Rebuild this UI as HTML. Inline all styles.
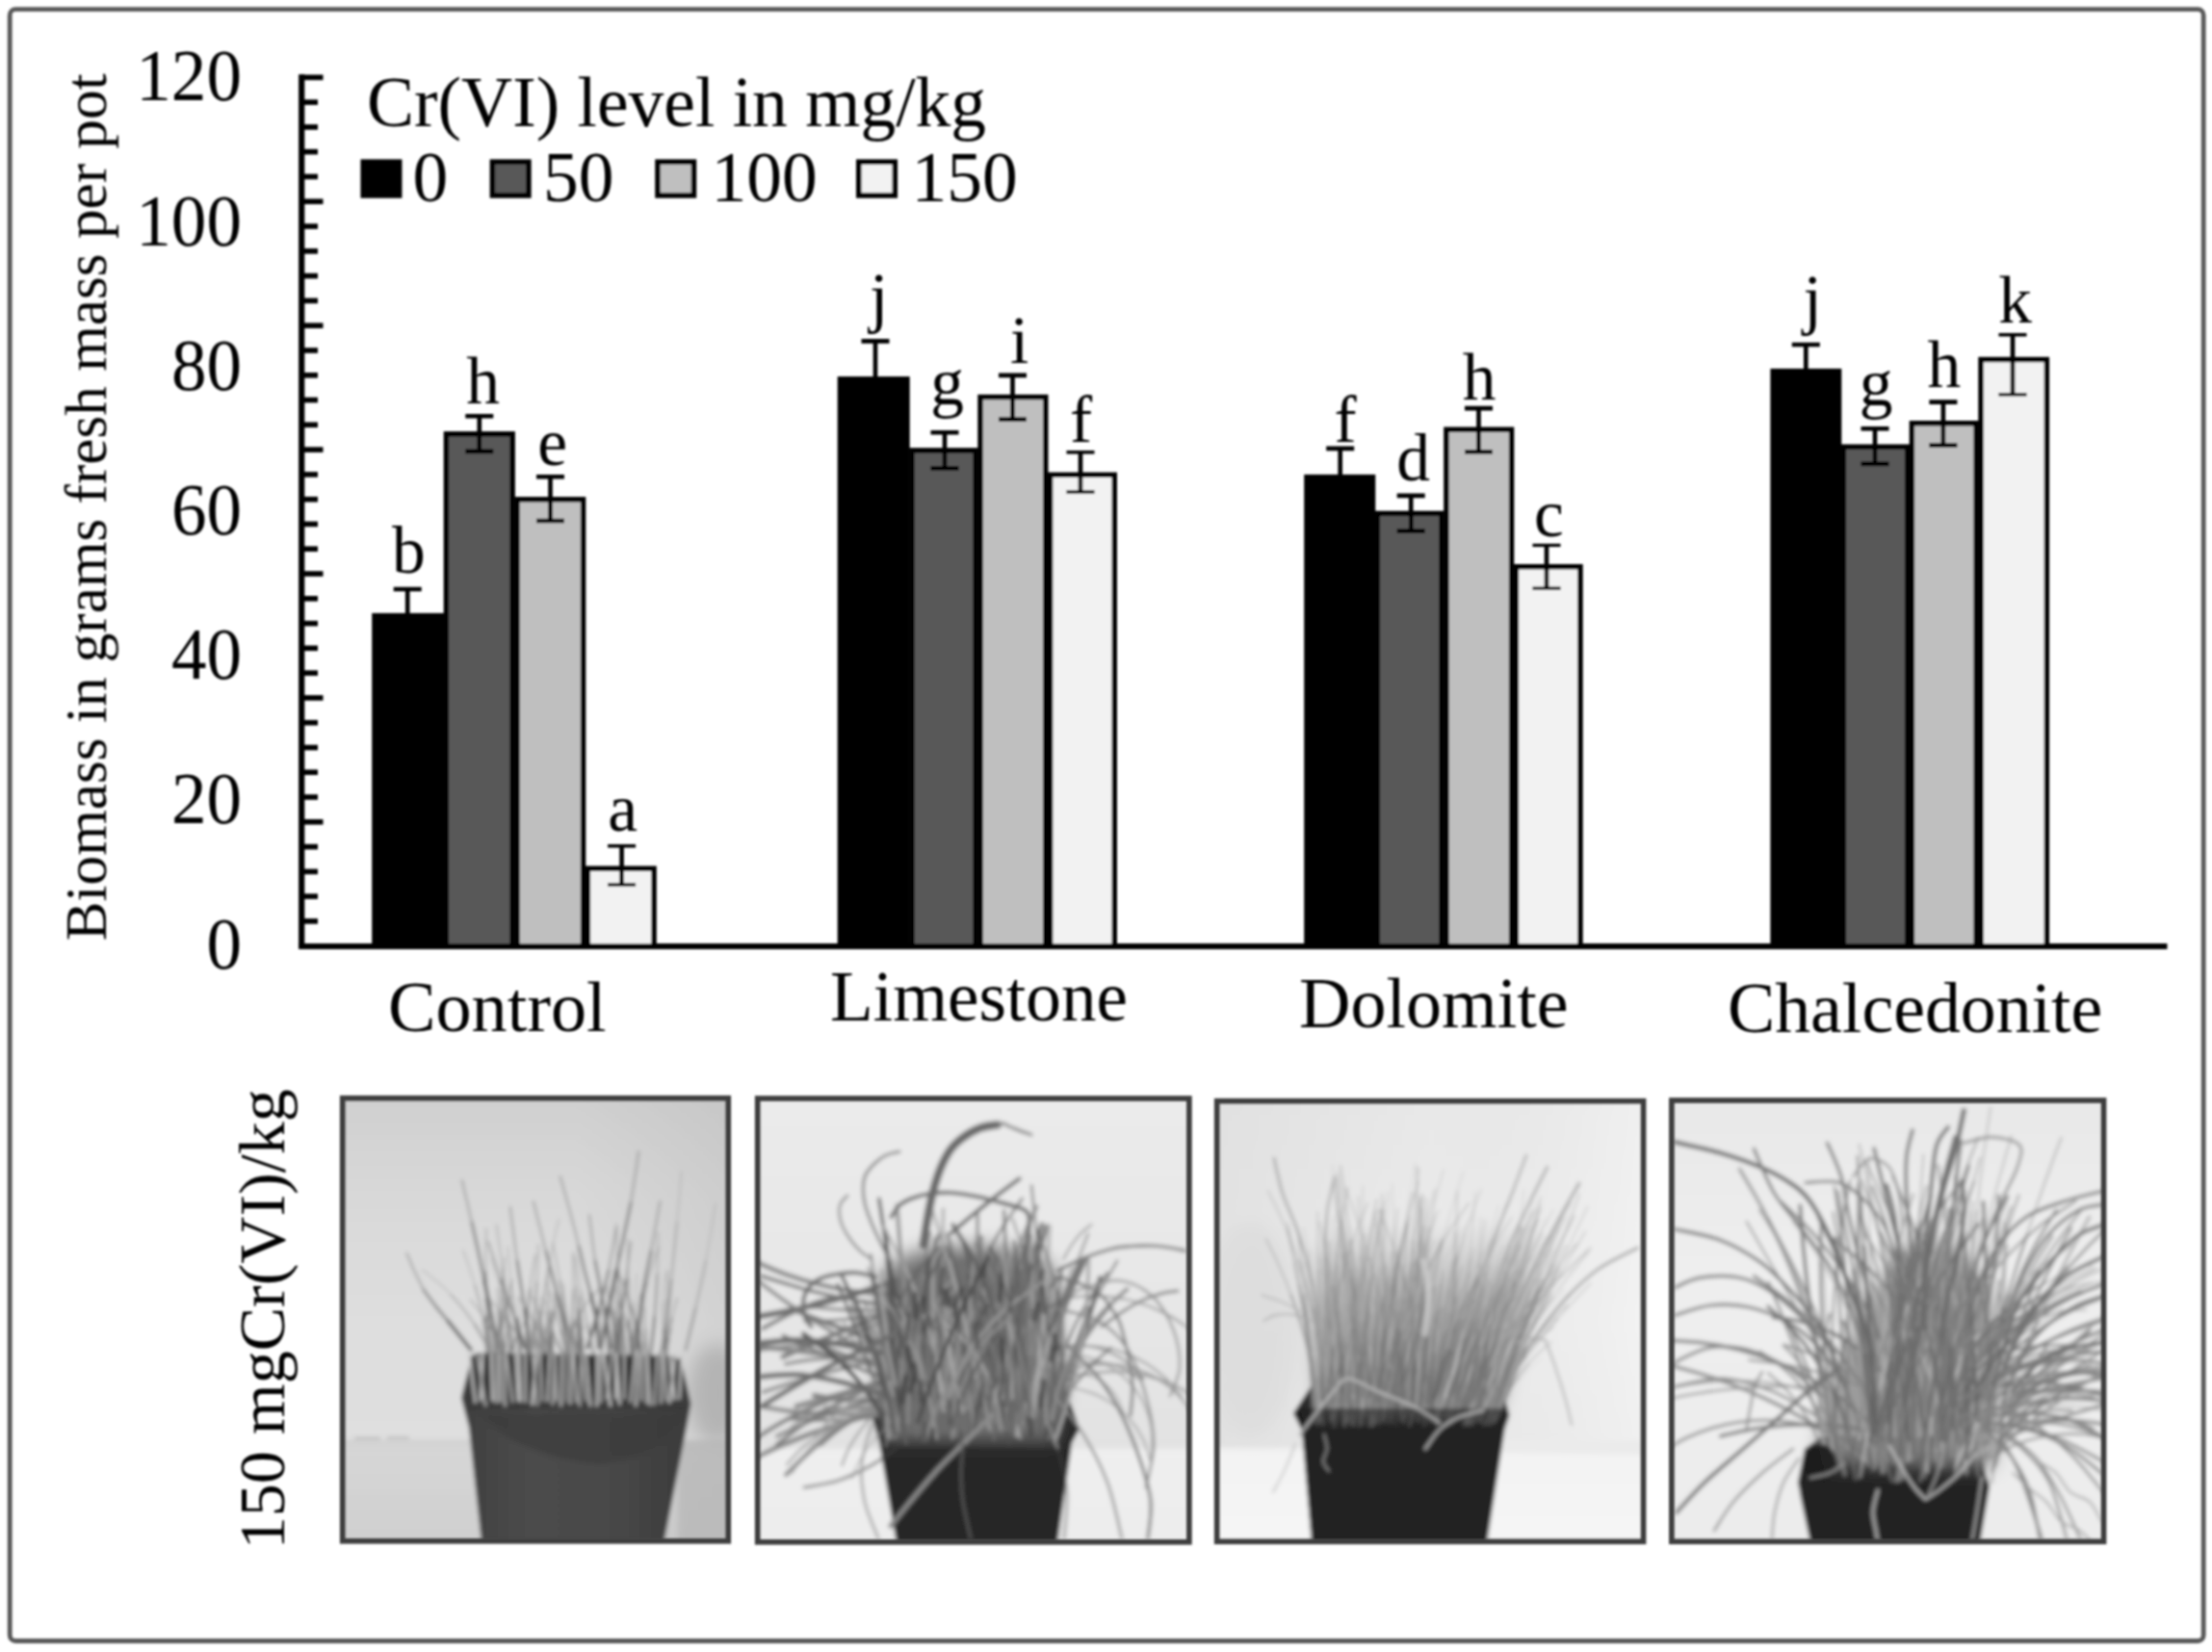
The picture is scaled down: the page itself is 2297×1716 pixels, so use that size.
<!DOCTYPE html>
<html lang="en"><head><meta charset="utf-8"><title>Biomass under Cr(VI) with mineral amendments</title>
<style>
html,body{margin:0;padding:0;background:#fff;}
body{width:2297px;height:1716px;overflow:hidden;}
svg{display:block;}
text{font-family:"Liberation Serif", serif;fill:#000;}
</style></head><body>
<svg width="2297" height="1716" viewBox="0 0 2297 1716">
<defs>
<filter id="soft" x="-2%" y="-2%" width="104%" height="104%"><feGaussianBlur stdDeviation="1.1"/></filter>
<filter id="ph" x="-5%" y="-5%" width="110%" height="110%"><feGaussianBlur stdDeviation="2.0"/></filter>
<filter id="ph2" x="-5%" y="-5%" width="110%" height="110%"><feGaussianBlur stdDeviation="2.2"/></filter>
<filter id="big" x="-20%" y="-20%" width="140%" height="140%"><feGaussianBlur stdDeviation="9"/></filter>
<clipPath id="cp0"><rect x="355.0" y="1140.0" width="402.0" height="461.5"/></clipPath>
<clipPath id="cp1"><rect x="786.0" y="1140.3" width="449.6" height="462.2"/></clipPath>
<clipPath id="cp2"><rect x="1263.0" y="1143.0" width="444.3" height="459.0"/></clipPath>
<clipPath id="cp3"><rect x="1735.2" y="1142.3" width="450.1" height="459.7"/></clipPath>
<linearGradient id="bg1" x1="0" y1="0" x2="0" y2="1"><stop offset="0" stop-color="#cfcfcf"/><stop offset="0.22" stop-color="#d8d8d8"/><stop offset="0.5" stop-color="#dedede"/><stop offset="0.76" stop-color="#dfdfdf"/><stop offset="0.768" stop-color="#d2d2d2"/><stop offset="0.79" stop-color="#d6d6d6"/><stop offset="1" stop-color="#cfcfcf"/></linearGradient>
<linearGradient id="bg1r" x1="0" y1="0" x2="1" y2="0"><stop offset="0.6" stop-color="#b0b0b0" stop-opacity="0"/><stop offset="1" stop-color="#b0b0b0" stop-opacity="0.28"/></linearGradient>
<linearGradient id="pot1" x1="0" y1="0" x2="1" y2="0"><stop offset="0" stop-color="#404040"/><stop offset="0.3" stop-color="#4c4c4c"/><stop offset="0.7" stop-color="#474747"/><stop offset="1" stop-color="#3b3b3b"/></linearGradient>
<linearGradient id="bg2" x1="0" y1="0" x2="0" y2="1"><stop offset="0" stop-color="#ebebeb"/><stop offset="0.45" stop-color="#e7e7e7"/><stop offset="0.775" stop-color="#e2e2e2"/><stop offset="0.785" stop-color="#efefef"/><stop offset="1" stop-color="#ececec"/></linearGradient>
<linearGradient id="cl3" gradientUnits="userSpaceOnUse" x1="0" y1="1270" x2="0" y2="1470"><stop offset="0" stop-color="#a4a4a4" stop-opacity="0"/><stop offset="0.45" stop-color="#9c9c9c" stop-opacity="0.8"/><stop offset="1" stop-color="#8e8e8e" stop-opacity="0.95"/></linearGradient>
<linearGradient id="bg3" x1="0" y1="0" x2="0" y2="1"><stop offset="0" stop-color="#e9e9e9"/><stop offset="0.5" stop-color="#ededed"/><stop offset="0.775" stop-color="#eaeaea"/><stop offset="0.79" stop-color="#f3f3f3"/><stop offset="1" stop-color="#f5f5f5"/></linearGradient><linearGradient id="bg3h" x1="0" y1="0" x2="1" y2="0"><stop offset="0" stop-color="#d0d0d0" stop-opacity="0.35"/><stop offset="0.5" stop-color="#d0d0d0" stop-opacity="0.05"/><stop offset="1" stop-color="#ffffff" stop-opacity="0.35"/></linearGradient>
<linearGradient id="bg4" x1="0" y1="0" x2="0" y2="1"><stop offset="0" stop-color="#e8e8e8"/><stop offset="0.4" stop-color="#eeeeee"/><stop offset="1" stop-color="#ececec"/></linearGradient>

</defs>
<rect width="2297" height="1716" fill="#fff"/>
<g filter="url(#soft)">
<rect x="10.2" y="9.7" width="2278" height="1694.8" rx="6" ry="6" fill="none" stroke="#585858" stroke-width="4.8"/>
<g stroke="#000" stroke-width="6.2" fill="none">
<line x1="313.2" y1="77.3" x2="313.2" y2="984.7"/>
<line x1="310.1" y1="983.0" x2="2250.5" y2="983.0" stroke-width="5.8"/>
<line x1="313" y1="80.4" x2="335.5" y2="80.4" stroke-width="5.6"/>
<line x1="313" y1="106.2" x2="330" y2="106.2" stroke-width="5.6"/>
<line x1="313" y1="132.0" x2="330" y2="132.0" stroke-width="5.6"/>
<line x1="313" y1="157.7" x2="330" y2="157.7" stroke-width="5.6"/>
<line x1="313" y1="183.5" x2="330" y2="183.5" stroke-width="5.6"/>
<line x1="313" y1="209.3" x2="335.5" y2="209.3" stroke-width="5.6"/>
<line x1="313" y1="235.1" x2="330" y2="235.1" stroke-width="5.6"/>
<line x1="313" y1="260.9" x2="330" y2="260.9" stroke-width="5.6"/>
<line x1="313" y1="286.6" x2="330" y2="286.6" stroke-width="5.6"/>
<line x1="313" y1="312.4" x2="330" y2="312.4" stroke-width="5.6"/>
<line x1="313" y1="338.2" x2="335.5" y2="338.2" stroke-width="5.6"/>
<line x1="313" y1="364.0" x2="330" y2="364.0" stroke-width="5.6"/>
<line x1="313" y1="389.8" x2="330" y2="389.8" stroke-width="5.6"/>
<line x1="313" y1="415.5" x2="330" y2="415.5" stroke-width="5.6"/>
<line x1="313" y1="441.3" x2="330" y2="441.3" stroke-width="5.6"/>
<line x1="313" y1="467.1" x2="335.5" y2="467.1" stroke-width="5.6"/>
<line x1="313" y1="492.9" x2="330" y2="492.9" stroke-width="5.6"/>
<line x1="313" y1="518.7" x2="330" y2="518.7" stroke-width="5.6"/>
<line x1="313" y1="544.4" x2="330" y2="544.4" stroke-width="5.6"/>
<line x1="313" y1="570.2" x2="330" y2="570.2" stroke-width="5.6"/>
<line x1="313" y1="596.0" x2="335.5" y2="596.0" stroke-width="5.6"/>
<line x1="313" y1="621.8" x2="330" y2="621.8" stroke-width="5.6"/>
<line x1="313" y1="647.6" x2="330" y2="647.6" stroke-width="5.6"/>
<line x1="313" y1="673.3" x2="330" y2="673.3" stroke-width="5.6"/>
<line x1="313" y1="699.1" x2="330" y2="699.1" stroke-width="5.6"/>
<line x1="313" y1="724.9" x2="335.5" y2="724.9" stroke-width="5.6"/>
<line x1="313" y1="750.7" x2="330" y2="750.7" stroke-width="5.6"/>
<line x1="313" y1="776.5" x2="330" y2="776.5" stroke-width="5.6"/>
<line x1="313" y1="802.2" x2="330" y2="802.2" stroke-width="5.6"/>
<line x1="313" y1="828.0" x2="330" y2="828.0" stroke-width="5.6"/>
<line x1="313" y1="853.8" x2="335.5" y2="853.8" stroke-width="5.6"/>
<line x1="313" y1="879.6" x2="330" y2="879.6" stroke-width="5.6"/>
<line x1="313" y1="905.4" x2="330" y2="905.4" stroke-width="5.6"/>
<line x1="313" y1="931.1" x2="330" y2="931.1" stroke-width="5.6"/>
<line x1="313" y1="956.9" x2="330" y2="956.9" stroke-width="5.6"/>
</g>
<text transform="translate(214.5 1005.6) scale(0.95 1)" font-size="77">0</text>
<text transform="translate(177.9 855.4) scale(0.95 1)" font-size="77">20</text>
<text transform="translate(177.9 705.2) scale(0.95 1)" font-size="77">40</text>
<text transform="translate(177.9 555.0) scale(0.95 1)" font-size="77">60</text>
<text transform="translate(177.9 404.8) scale(0.95 1)" font-size="77">80</text>
<text transform="translate(141.3 254.6) scale(0.95 1)" font-size="77">100</text>
<text transform="translate(141.3 104.4) scale(0.95 1)" font-size="77">120</text>
<text transform="translate(110.0 977.2) rotate(-90)" font-size="61.2" fill="#111">Biomass in grams fresh mass per pot</text>
<text x="381.1" y="131.0" font-size="73.5">Cr(VI) level in mg/kg</text>
<rect x="377.2" y="168.2" width="37.5" height="34.8" fill="#000" stroke="#000" stroke-width="5.5"/>
<rect x="511.4" y="168.2" width="37.5" height="34.8" fill="#595959" stroke="#000" stroke-width="5.5"/>
<rect x="683.0" y="168.2" width="37.5" height="34.8" fill="#bfbfbf" stroke="#000" stroke-width="5.5"/>
<rect x="891.8" y="168.2" width="37.5" height="34.8" fill="#f2f2f2" stroke="#000" stroke-width="5.5"/>
<text x="428.5" y="209.0" font-size="73.5">0</text>
<text x="564.1" y="209.0" font-size="73.5">50</text>
<text x="738.6" y="209.0" font-size="73.5">100</text>
<text x="946.5" y="209.0" font-size="73.5">150</text>
<rect x="388.9" y="639.6" width="69.7" height="343.4" fill="#000" stroke="#000" stroke-width="5.4"/>
<rect x="463.4" y="450.8" width="68.8" height="532.2" fill="#595959" stroke="#000" stroke-width="5.4"/>
<rect x="537.0" y="518.8" width="68.6" height="464.2" fill="#bfbfbf" stroke="#000" stroke-width="5.4"/>
<rect x="610.4" y="902.2" width="68.7" height="80.8" fill="#f2f2f2" stroke="#000" stroke-width="5.4"/>
<rect x="872.4" y="393.8" width="69.6" height="589.2" fill="#000" stroke="#000" stroke-width="5.4"/>
<rect x="946.8" y="467.9" width="66.4" height="515.1" fill="#595959" stroke="#000" stroke-width="5.4"/>
<rect x="1018.0" y="412.5" width="67.8" height="570.5" fill="#bfbfbf" stroke="#000" stroke-width="5.4"/>
<rect x="1090.6" y="493.3" width="66.7" height="489.7" fill="#f2f2f2" stroke="#000" stroke-width="5.4"/>
<rect x="1356.9" y="495.6" width="68.7" height="487.4" fill="#000" stroke="#000" stroke-width="5.4"/>
<rect x="1430.4" y="533.4" width="66.7" height="449.6" fill="#595959" stroke="#000" stroke-width="5.4"/>
<rect x="1501.9" y="446.2" width="67.7" height="536.8" fill="#bfbfbf" stroke="#000" stroke-width="5.4"/>
<rect x="1574.4" y="588.7" width="66.6" height="394.3" fill="#f2f2f2" stroke="#000" stroke-width="5.4"/>
<rect x="1841.1" y="385.6" width="68.5" height="597.4" fill="#000" stroke="#000" stroke-width="5.4"/>
<rect x="1914.4" y="464.2" width="66.2" height="518.8" fill="#595959" stroke="#000" stroke-width="5.4"/>
<rect x="1985.4" y="439.7" width="66.8" height="543.3" fill="#bfbfbf" stroke="#000" stroke-width="5.4"/>
<rect x="2057.0" y="373.5" width="68.4" height="609.5" fill="#f2f2f2" stroke="#000" stroke-width="5.4"/>
<g stroke="#000" stroke-width="4.6" fill="none">
<path d="M408.7 612.0H437.7M423.2 612.0V652.0"/>
<path d="M483.3 432.3H512.3M483.3 468.9H512.3" stroke-width="4.6"/><path d="M497.8 432.3V468.9"/>
<path d="M557.0 495.3H586.0M557.0 541.0H586.0" stroke-width="4.6"/><path d="M571.5 495.3V541.0"/>
<path d="M631.1 878.8H660.1M631.1 919.0H660.1" stroke-width="3.4"/><path d="M645.6 878.8V919.0"/>
<path d="M894.5 354.4H923.5M909.0 354.4V394.4"/>
<path d="M966.5 449.2H995.5M966.5 486.4H995.5" stroke-width="4.6"/><path d="M981.0 449.2V486.4"/>
<path d="M1037.0 389.9H1066.0M1037.0 435.6H1066.0" stroke-width="4.6"/><path d="M1051.5 389.9V435.6"/>
<path d="M1107.5 469.7H1136.5M1107.5 511.0H1136.5" stroke-width="3.4"/><path d="M1122.0 469.7V511.0"/>
<path d="M1377.2 465.9H1406.2M1391.7 465.9V505.9"/>
<path d="M1450.7 514.9H1479.7M1450.7 551.6H1479.7" stroke-width="4.6"/><path d="M1465.2 514.9V551.6"/>
<path d="M1521.0 424.1H1550.0M1521.0 469.3H1550.0" stroke-width="4.6"/><path d="M1535.5 424.1V469.3"/>
<path d="M1591.5 566.4H1620.5M1591.5 611.1H1620.5" stroke-width="3.4"/><path d="M1606.0 566.4V611.1"/>
<path d="M1860.8 358.0H1889.8M1875.3 358.0V398.0"/>
<path d="M1932.5 445.2H1961.5M1932.5 481.9H1961.5" stroke-width="4.6"/><path d="M1947.0 445.2V481.9"/>
<path d="M2003.4 417.6H2032.4M2003.4 462.5H2032.4" stroke-width="4.6"/><path d="M2017.9 417.6V462.5"/>
<path d="M2075.5 347.7H2104.5M2075.5 409.8H2104.5" stroke-width="3.4"/><path d="M2090.0 347.7V409.8"/>
</g>
<text x="407.0" y="595.0" font-size="69.5" fill="#111">b</text>
<text x="484.2" y="418.5" font-size="69.5" fill="#111">h</text>
<text x="558.2" y="482.5" font-size="69.5" fill="#111">e</text>
<text x="631.2" y="862.5" font-size="69.5" fill="#111">a</text>
<text x="902.9" y="331.5" font-size="69.5" fill="#111">j</text>
<text x="966.2" y="420.3" font-size="69.5" fill="#111">g</text>
<text x="1049.0" y="376.8" font-size="69.5" fill="#111">i</text>
<text x="1111.1" y="459.3" font-size="69.5" fill="#111">f</text>
<text x="1385.5" y="458.8" font-size="69.5" fill="#111">f</text>
<text x="1450.2" y="499.0" font-size="69.5" fill="#111">d</text>
<text x="1518.8" y="415.0" font-size="69.5" fill="#111">h</text>
<text x="1593.0" y="557.0" font-size="69.5" fill="#111">c</text>
<text x="1872.4" y="334.0" font-size="69.5" fill="#111">j</text>
<text x="1930.7" y="421.0" font-size="69.5" fill="#111">g</text>
<text x="2001.4" y="402.0" font-size="69.5" fill="#111">h</text>
<text x="2075.2" y="335.0" font-size="69.5" fill="#111">k</text>
<text x="403.0" y="1071.0" font-size="74.2">Control</text>
<text x="862.1" y="1060.0" font-size="73.2">Limestone</text>
<text x="1349.1" y="1067.0" font-size="74.0">Dolomite</text>
<text x="1794.0" y="1072.0" font-size="73.8">Chalcedonite</text>
<text transform="translate(294.5 1609.2) rotate(-90)" font-size="68.0" fill="#111">150 mgCr(VI)/kg</text>
</g>
<g clip-path="url(#cp0)"><g filter="url(#ph)">
<rect x="350" y="1135" width="412" height="472" fill="url(#bg1)"/>
<rect x="350" y="1135" width="412" height="472" fill="url(#bg1r)"/>
<ellipse cx="744" cy="1448" rx="30" ry="52" fill="#a0a0a0" opacity="0.6" filter="url(#big)"/>
<rect x="704" y="1497" width="60" height="110" fill="#b6b6b6" opacity="0.7" filter="url(#ph2)"/>
<path d="M368 1494H395M402 1493.5H425" stroke="#aaa" stroke-width="2.5" fill="none" opacity="0.7"/>
<g fill="none" stroke-linecap="round" stroke-linejoin="round">
<path d="M516.8 1400.0L510.7 1368.8L503.0 1330.0" stroke="#707070" stroke-width="4.0"/><path d="M503.0 1330.0L496.3 1298.4L490.0 1270.0" stroke="#707070" stroke-width="2.9" stroke-opacity="0.82"/><path d="M490.0 1270.0L484.0 1244.2L479.7 1225.8" stroke="#707070" stroke-width="1.8" stroke-opacity="0.64"/>
<path d="M489.0 1402.0L478.6 1389.0L465.0 1372.0" stroke="#707070" stroke-width="4.0"/><path d="M465.0 1372.0L452.1 1356.5L440.0 1340.0" stroke="#707070" stroke-width="2.9" stroke-opacity="0.82"/><path d="M440.0 1340.0L429.6 1318.9L422.3 1301.8" stroke="#707070" stroke-width="1.8" stroke-opacity="0.64"/>
<path d="M624.3 1400.0L631.2 1364.4L640.0 1320.0" stroke="#707070" stroke-width="4.0"/><path d="M640.0 1320.0L648.0 1283.4L655.0 1250.0" stroke="#707070" stroke-width="2.9" stroke-opacity="0.82"/><path d="M655.0 1250.0L660.0 1218.6L663.2 1196.0" stroke="#707070" stroke-width="1.8" stroke-opacity="0.64"/>
<path d="M622.0 1400.0L621.1 1386.3L618.8 1366.7L613.4 1344.4" stroke="#707070" stroke-width="4.0"/><path d="M613.4 1344.4L607.0 1320.0L601.1 1295.1" stroke="#707070" stroke-width="2.9" stroke-opacity="0.82"/><path d="M601.1 1295.1L595.0 1270.0L587.6 1242.9L581.7 1222.0" stroke="#707070" stroke-width="1.8" stroke-opacity="0.64"/>
<path d="M591.0 1400.0L586.3 1378.1L580.0 1350.0" stroke="#707070" stroke-width="4.0"/><path d="M580.0 1350.0L573.6 1325.1L567.0 1300.0" stroke="#707070" stroke-width="2.9" stroke-opacity="0.82"/><path d="M567.0 1300.0L559.6 1270.9L553.9 1248.0" stroke="#707070" stroke-width="1.8" stroke-opacity="0.64"/>
<path d="M550.0 1402.0L548.0 1384.1L545.0 1360.0" stroke="#707070" stroke-width="4.0"/><path d="M545.0 1360.0L541.1 1335.9L537.0 1310.0" stroke="#707070" stroke-width="2.9" stroke-opacity="0.82"/><path d="M537.0 1310.0L532.9 1278.7L529.8 1253.6" stroke="#707070" stroke-width="1.8" stroke-opacity="0.64"/>
<path d="M661.4 1400.0L663.6 1375.3L667.0 1345.0" stroke="#707070" stroke-width="4.0"/><path d="M667.0 1345.0L671.3 1322.3L676.0 1300.0" stroke="#707070" stroke-width="2.9" stroke-opacity="0.82"/><path d="M676.0 1300.0L681.3 1271.2L685.5 1248.0" stroke="#707070" stroke-width="1.8" stroke-opacity="0.64"/>
<path d="M690.0 1400.0L693.1 1368.8L697.0 1330.0" stroke="#a0a0a0" stroke-width="3.0"/><path d="M697.0 1330.0L700.1 1299.0L703.0 1270.0" stroke="#a0a0a0" stroke-width="2.2" stroke-opacity="0.82"/><path d="M703.0 1270.0L705.7 1239.5L707.7 1216.6" stroke="#a0a0a0" stroke-width="1.3" stroke-opacity="0.64"/>
<path d="M712.0 1402.0L716.3 1384.1L722.0 1360.0" stroke="#a0a0a0" stroke-width="3.0"/><path d="M722.0 1360.0L727.5 1336.1L733.0 1310.0" stroke="#a0a0a0" stroke-width="2.2" stroke-opacity="0.82"/><path d="M733.0 1310.0L738.7 1276.9L743.0 1250.0" stroke="#a0a0a0" stroke-width="1.3" stroke-opacity="0.64"/>
<path d="M634.0 1400.0L631.6 1383.1L628.0 1360.0" stroke="#707070" stroke-width="4.0"/><path d="M628.0 1360.0L623.0 1335.5L618.0 1310.0" stroke="#707070" stroke-width="2.9" stroke-opacity="0.82"/><path d="M618.0 1310.0L614.4 1282.9L612.0 1262.0" stroke="#707070" stroke-width="1.8" stroke-opacity="0.64"/>
<path d="M610.0 1400.0L615.4 1382.5L622.0 1360.0" stroke="#707070" stroke-width="4.0"/><path d="M622.0 1360.0L627.2 1340.3L632.0 1320.0" stroke="#707070" stroke-width="2.9" stroke-opacity="0.82"/><path d="M632.0 1320.0L636.6 1295.0L640.0 1275.0" stroke="#707070" stroke-width="1.8" stroke-opacity="0.64"/>
<path d="M545.0 1400.0L540.9 1387.5L535.0 1370.0" stroke="#707070" stroke-width="4.0"/><path d="M535.0 1370.0L527.7 1350.6L520.0 1330.0" stroke="#707070" stroke-width="2.9" stroke-opacity="0.82"/><path d="M520.0 1330.0L512.6 1307.5L507.0 1290.0" stroke="#707070" stroke-width="1.8" stroke-opacity="0.64"/>
<path d="M642.0 1400.0L643.2 1387.5L645.0 1370.0" stroke="#707070" stroke-width="4.0"/><path d="M645.0 1370.0L647.4 1350.6L650.0 1330.0" stroke="#707070" stroke-width="2.9" stroke-opacity="0.82"/><path d="M650.0 1330.0L652.8 1307.5L655.0 1290.0" stroke="#707070" stroke-width="1.8" stroke-opacity="0.64"/>
<path d="M564.1 1412.0L563.8 1407.3L563.3 1401.2L562.8 1395.8L562.4 1390.4" stroke="#858585" stroke-width="3.0" stroke-opacity="0.67"/><path d="M562.4 1390.4L561.8 1385.0L561.3 1379.6L560.7 1374.2L560.1 1368.8" stroke="#858585" stroke-width="2.2" stroke-opacity="0.55"/><path d="M560.1 1368.8L559.4 1363.4L558.8 1358.0L558.0 1352.0L557.3 1347.3" stroke="#858585" stroke-width="1.3" stroke-opacity="0.43"/>
<path d="M600.5 1412.0L600.3 1408.1L600.1 1403.0L599.9 1398.6L599.8 1394.1" stroke="#737373" stroke-width="3.1" stroke-opacity="0.94"/><path d="M599.8 1394.1L599.6 1389.6L599.5 1385.1L599.4 1380.7L599.2 1376.2" stroke="#737373" stroke-width="2.2" stroke-opacity="0.77"/><path d="M599.2 1376.2L599.2 1371.7L599.1 1367.2L599.0 1362.2L598.9 1358.3" stroke="#737373" stroke-width="1.4" stroke-opacity="0.60"/>
<path d="M524.5 1412.0L522.7 1407.1L520.2 1400.8L517.7 1395.2L515.1 1389.8" stroke="#878787" stroke-width="3.1" stroke-opacity="0.99"/><path d="M515.1 1389.8L512.3 1384.5L509.4 1379.2L506.2 1374.1L502.9 1369.0" stroke="#878787" stroke-width="2.2" stroke-opacity="0.81"/><path d="M502.9 1369.0L499.5 1364.1L495.9 1359.2L491.6 1354.0L488.2 1349.9" stroke="#878787" stroke-width="1.4" stroke-opacity="0.63"/>
<path d="M509.2 1412.0L508.4 1402.1L507.4 1389.4L506.6 1378.1L506.0 1366.8" stroke="#747474" stroke-width="3.0" stroke-opacity="0.94"/><path d="M506.0 1366.8L505.4 1355.5L505.0 1344.2L504.7 1332.9L504.5 1321.6" stroke="#747474" stroke-width="2.1" stroke-opacity="0.77"/><path d="M504.5 1321.6L504.4 1310.3L504.4 1298.9L504.6 1286.2L504.8 1276.3" stroke="#747474" stroke-width="1.3" stroke-opacity="0.60"/>
<path d="M535.8 1412.0L534.5 1404.2L532.7 1394.2L531.0 1385.4L529.1 1376.6" stroke="#858585" stroke-width="2.7" stroke-opacity="0.67"/><path d="M529.1 1376.6L527.2 1367.8L525.1 1359.0L522.9 1350.3L520.5 1341.6" stroke="#858585" stroke-width="1.9" stroke-opacity="0.55"/><path d="M520.5 1341.6L518.1 1332.9L515.6 1324.2L512.5 1314.6L510.1 1307.1" stroke="#858585" stroke-width="1.2" stroke-opacity="0.43"/>
<path d="M540.8 1412.0L539.5 1403.5L537.9 1392.5L536.5 1382.8L535.2 1373.1" stroke="#878787" stroke-width="3.1" stroke-opacity="0.75"/><path d="M535.2 1373.1L534.0 1363.3L532.8 1353.5L531.7 1343.7L530.7 1334.0" stroke="#878787" stroke-width="2.3" stroke-opacity="0.62"/><path d="M530.7 1334.0L529.8 1324.2L528.9 1314.4L528.0 1303.3L527.3 1294.8" stroke="#878787" stroke-width="1.4" stroke-opacity="0.48"/>
<path d="M657.3 1412.0L658.2 1403.3L659.4 1392.1L660.8 1382.2L662.5 1372.4" stroke="#858585" stroke-width="3.7" stroke-opacity="0.91"/><path d="M662.5 1372.4L664.4 1362.6L666.5 1352.8L668.9 1343.1L671.5 1333.5" stroke="#858585" stroke-width="2.6" stroke-opacity="0.74"/><path d="M671.5 1333.5L674.3 1323.9L677.3 1314.4L681.1 1303.8L684.1 1295.6" stroke="#858585" stroke-width="1.6" stroke-opacity="0.58"/>
<path d="M557.0 1412.0L558.0 1401.3L559.3 1387.4L560.7 1375.2L562.3 1362.9" stroke="#8e8e8e" stroke-width="2.8" stroke-opacity="0.82"/><path d="M562.3 1362.9L564.0 1350.7L565.9 1338.5L567.9 1326.4L570.1 1314.2" stroke="#8e8e8e" stroke-width="2.0" stroke-opacity="0.67"/><path d="M570.1 1314.2L572.4 1302.1L574.9 1290.0L577.9 1276.5L580.4 1266.0" stroke="#8e8e8e" stroke-width="1.2" stroke-opacity="0.53"/>
<path d="M507.8 1412.0L506.8 1403.5L505.5 1392.7L504.1 1383.0L502.4 1373.4" stroke="#939393" stroke-width="3.0" stroke-opacity="0.89"/><path d="M502.4 1373.4L500.5 1363.9L498.3 1354.4L496.0 1345.0L493.4 1335.6" stroke="#939393" stroke-width="2.1" stroke-opacity="0.73"/><path d="M493.4 1335.6L490.5 1326.3L487.5 1317.0L483.8 1306.7L480.8 1298.7" stroke="#939393" stroke-width="1.3" stroke-opacity="0.57"/>
<path d="M617.7 1412.0L615.9 1404.3L613.7 1394.4L611.8 1385.6L610.1 1376.8" stroke="#959595" stroke-width="3.2" stroke-opacity="0.88"/><path d="M610.1 1376.8L608.4 1368.0L606.8 1359.1L605.2 1350.3L603.8 1341.4" stroke="#959595" stroke-width="2.3" stroke-opacity="0.72"/><path d="M603.8 1341.4L602.4 1332.5L601.2 1323.6L599.9 1313.5L598.9 1305.7" stroke="#959595" stroke-width="1.4" stroke-opacity="0.56"/>
<path d="M512.0 1412.0L508.4 1404.0L503.5 1393.9L498.6 1385.1L493.4 1376.6" stroke="#909090" stroke-width="2.9" stroke-opacity="0.79"/><path d="M493.4 1376.6L487.7 1368.3L481.7 1360.3L475.3 1352.6L468.6 1345.2" stroke="#909090" stroke-width="2.1" stroke-opacity="0.64"/><path d="M468.6 1345.2L461.5 1338.1L454.1 1331.4L445.3 1324.3L438.4 1318.9" stroke="#909090" stroke-width="1.3" stroke-opacity="0.50"/>
<path d="M632.4 1412.0L632.2 1408.2L632.0 1403.3L631.8 1399.0L631.6 1394.6" stroke="#747474" stroke-width="2.7" stroke-opacity="0.92"/><path d="M631.6 1394.6L631.4 1390.2L631.3 1385.9L631.1 1381.5L631.0 1377.2" stroke="#747474" stroke-width="1.9" stroke-opacity="0.75"/><path d="M631.0 1377.2L630.9 1372.8L630.8 1368.5L630.7 1363.6L630.6 1359.8" stroke="#747474" stroke-width="1.2" stroke-opacity="0.59"/>
<path d="M525.6 1412.0L524.3 1406.7L522.6 1399.9L521.4 1393.8L520.3 1387.7" stroke="#737373" stroke-width="3.1" stroke-opacity="0.84"/><path d="M520.3 1387.7L519.3 1381.5L518.4 1375.3L517.7 1369.1L517.2 1362.9" stroke="#737373" stroke-width="2.3" stroke-opacity="0.69"/><path d="M517.2 1362.9L516.8 1356.7L516.6 1350.5L516.5 1343.5L516.5 1338.0" stroke="#737373" stroke-width="1.4" stroke-opacity="0.54"/>
<path d="M674.9 1412.0L676.1 1402.5L677.5 1390.2L678.7 1379.2L679.7 1368.3" stroke="#808080" stroke-width="3.0" stroke-opacity="0.96"/><path d="M679.7 1368.3L680.6 1357.3L681.3 1346.4L682.0 1335.4L682.5 1324.4" stroke="#808080" stroke-width="2.2" stroke-opacity="0.79"/><path d="M682.5 1324.4L682.9 1313.4L683.2 1302.4L683.3 1290.1L683.4 1280.4" stroke="#808080" stroke-width="1.3" stroke-opacity="0.61"/>
<path d="M689.6 1412.0L690.3 1407.3L691.3 1401.3L692.2 1395.9L693.1 1390.6" stroke="#797979" stroke-width="3.2" stroke-opacity="0.86"/><path d="M693.1 1390.6L694.2 1385.3L695.3 1380.0L696.4 1374.7L697.7 1369.4" stroke="#797979" stroke-width="2.3" stroke-opacity="0.70"/><path d="M697.7 1369.4L699.0 1364.1L700.3 1358.9L701.9 1353.0L703.2 1348.4" stroke="#797979" stroke-width="1.4" stroke-opacity="0.55"/>
<path d="M552.0 1412.0L551.5 1408.4L550.8 1403.7L550.3 1399.5L549.8 1395.4" stroke="#868686" stroke-width="3.7" stroke-opacity="0.89"/><path d="M549.8 1395.4L549.3 1391.2L548.8 1387.0L548.4 1382.8L548.1 1378.6" stroke="#868686" stroke-width="2.7" stroke-opacity="0.73"/><path d="M548.1 1378.6L547.7 1374.4L547.4 1370.3L547.2 1365.5L546.9 1361.9" stroke="#868686" stroke-width="1.6" stroke-opacity="0.57"/>
<path d="M602.1 1412.0L601.8 1403.9L601.5 1393.4L601.2 1384.1L600.7 1374.8" stroke="#939393" stroke-width="3.5" stroke-opacity="0.96"/><path d="M600.7 1374.8L600.3 1365.5L599.8 1356.2L599.2 1346.9L598.6 1337.6" stroke="#939393" stroke-width="2.5" stroke-opacity="0.78"/><path d="M598.6 1337.6L598.0 1328.3L597.2 1319.0L596.4 1308.6L595.7 1300.4" stroke="#939393" stroke-width="1.6" stroke-opacity="0.61"/>
<path d="M658.0 1412.0L658.0 1405.5L658.1 1397.1L658.3 1389.7L658.4 1382.3" stroke="#898989" stroke-width="2.7" stroke-opacity="0.67"/><path d="M658.4 1382.3L658.6 1374.8L658.9 1367.4L659.2 1360.0L659.5 1352.5" stroke="#898989" stroke-width="1.9" stroke-opacity="0.55"/><path d="M659.5 1352.5L659.8 1345.1L660.2 1337.7L660.7 1329.3L661.2 1322.8" stroke="#898989" stroke-width="1.2" stroke-opacity="0.43"/>
<path d="M541.3 1412.0L541.0 1407.2L540.6 1401.0L540.3 1395.5L540.0 1390.0" stroke="#707070" stroke-width="2.8" stroke-opacity="0.69"/><path d="M540.0 1390.0L539.7 1384.5L539.4 1378.9L539.2 1373.4L539.0 1367.9" stroke="#707070" stroke-width="2.0" stroke-opacity="0.56"/><path d="M539.0 1367.9L538.9 1362.4L538.7 1356.9L538.6 1350.7L538.5 1345.8" stroke="#707070" stroke-width="1.2" stroke-opacity="0.44"/>
<path d="M572.0 1412.0L572.3 1408.2L572.6 1403.3L572.9 1398.9L573.0 1394.5" stroke="#757575" stroke-width="2.9" stroke-opacity="0.77"/><path d="M573.0 1394.5L573.0 1390.1L573.0 1385.8L572.9 1381.4L572.7 1377.0" stroke="#757575" stroke-width="2.1" stroke-opacity="0.63"/><path d="M572.7 1377.0L572.5 1372.6L572.1 1368.3L571.6 1363.4L571.2 1359.6" stroke="#757575" stroke-width="1.3" stroke-opacity="0.49"/>
<path d="M572.1 1412.0L572.8 1407.5L573.5 1401.7L573.9 1396.5L574.0 1391.3" stroke="#828282" stroke-width="3.2" stroke-opacity="0.68"/><path d="M574.0 1391.3L573.8 1386.2L573.5 1381.0L572.8 1375.8L572.0 1370.7" stroke="#828282" stroke-width="2.3" stroke-opacity="0.56"/><path d="M572.0 1370.7L570.9 1365.6L569.5 1360.6L567.7 1355.1L566.1 1350.8" stroke="#828282" stroke-width="1.4" stroke-opacity="0.44"/>
<path d="M520.2 1412.0L520.0 1405.9L519.8 1398.0L520.0 1390.9L520.4 1383.9" stroke="#767676" stroke-width="2.6" stroke-opacity="0.98"/><path d="M520.4 1383.9L521.0 1376.9L521.9 1370.0L523.1 1363.0L524.4 1356.1" stroke="#767676" stroke-width="1.9" stroke-opacity="0.81"/><path d="M524.4 1356.1L526.0 1349.3L527.8 1342.5L530.2 1335.0L532.2 1329.2" stroke="#767676" stroke-width="1.2" stroke-opacity="0.63"/>
<path d="M604.6 1412.0L604.5 1407.3L604.3 1401.2L604.1 1395.8L603.9 1390.5" stroke="#858585" stroke-width="3.8" stroke-opacity="0.95"/><path d="M603.9 1390.5L603.7 1385.1L603.6 1379.7L603.4 1374.3L603.2 1368.9" stroke="#858585" stroke-width="2.7" stroke-opacity="0.78"/><path d="M603.2 1368.9L603.0 1363.5L602.7 1358.1L602.5 1352.1L602.3 1347.4" stroke="#858585" stroke-width="1.7" stroke-opacity="0.61"/>
<path d="M637.8 1412.0L637.8 1406.5L637.8 1399.3L637.8 1393.0L637.9 1386.6" stroke="#8e8e8e" stroke-width="3.2" stroke-opacity="0.92"/><path d="M637.9 1386.6L638.1 1380.3L638.3 1373.9L638.5 1367.6L638.8 1361.3" stroke="#8e8e8e" stroke-width="2.3" stroke-opacity="0.76"/><path d="M638.8 1361.3L639.2 1354.9L639.6 1348.6L640.1 1341.5L640.5 1336.0" stroke="#8e8e8e" stroke-width="1.4" stroke-opacity="0.59"/>
<path d="M565.3 1412.0L565.5 1406.7L565.5 1400.0L565.2 1393.9L564.6 1387.9" stroke="#929292" stroke-width="3.6" stroke-opacity="0.94"/><path d="M564.6 1387.9L563.7 1382.0L562.6 1376.1L561.1 1370.2L559.3 1364.5" stroke="#929292" stroke-width="2.6" stroke-opacity="0.77"/><path d="M559.3 1364.5L557.3 1358.8L555.0 1353.2L552.0 1347.2L549.5 1342.5" stroke="#929292" stroke-width="1.6" stroke-opacity="0.60"/>
<path d="M646.5 1412.0L646.0 1406.7L645.4 1399.9L644.8 1393.9L644.2 1387.9" stroke="#717171" stroke-width="2.6" stroke-opacity="0.75"/><path d="M644.2 1387.9L643.6 1381.9L643.0 1375.8L642.4 1369.8L641.8 1363.8" stroke="#717171" stroke-width="1.9" stroke-opacity="0.61"/><path d="M641.8 1363.8L641.1 1357.8L640.5 1351.7L639.7 1345.0L639.1 1339.7" stroke="#717171" stroke-width="1.2" stroke-opacity="0.48"/>
<path d="M551.3 1412.0L552.1 1403.3L553.1 1392.2L554.0 1382.3L554.7 1372.4" stroke="#959595" stroke-width="3.8" stroke-opacity="0.98"/><path d="M554.7 1372.4L555.5 1362.5L556.1 1352.6L556.8 1342.7L557.3 1332.7" stroke="#959595" stroke-width="2.7" stroke-opacity="0.81"/><path d="M557.3 1332.7L557.8 1322.8L558.3 1312.9L558.7 1301.7L559.0 1293.0" stroke="#959595" stroke-width="1.7" stroke-opacity="0.63"/>
<path d="M572.2 1412.0L572.2 1406.7L572.3 1400.0L572.5 1394.0L572.8 1388.0" stroke="#787878" stroke-width="3.3" stroke-opacity="0.97"/><path d="M572.8 1388.0L573.1 1382.0L573.5 1376.0L574.0 1370.0L574.5 1364.0" stroke="#787878" stroke-width="2.4" stroke-opacity="0.79"/><path d="M574.5 1364.0L575.1 1358.1L575.8 1352.1L576.7 1345.4L577.4 1340.2" stroke="#787878" stroke-width="1.5" stroke-opacity="0.62"/>
<path d="M666.4 1412.0L665.5 1404.9L664.2 1395.8L662.7 1387.8L661.1 1379.8" stroke="#737373" stroke-width="3.4" stroke-opacity="0.97"/><path d="M661.1 1379.8L659.2 1371.9L657.1 1364.0L654.8 1356.1L652.3 1348.4" stroke="#737373" stroke-width="2.4" stroke-opacity="0.79"/><path d="M652.3 1348.4L649.6 1340.7L646.7 1333.0L643.1 1324.6L640.2 1318.1" stroke="#737373" stroke-width="1.5" stroke-opacity="0.62"/>
<path d="M654.9 1412.0L654.6 1402.9L654.2 1391.2L653.9 1380.8L653.5 1370.4" stroke="#8f8f8f" stroke-width="3.0" stroke-opacity="0.93"/><path d="M653.5 1370.4L653.3 1359.9L653.0 1349.5L652.7 1339.1L652.5 1328.7" stroke="#8f8f8f" stroke-width="2.2" stroke-opacity="0.76"/><path d="M652.5 1328.7L652.2 1318.3L652.0 1307.9L651.8 1296.1L651.6 1287.0" stroke="#8f8f8f" stroke-width="1.3" stroke-opacity="0.60"/>
<path d="M692.4 1412.0L691.4 1405.5L690.3 1397.2L689.5 1389.8L689.0 1382.3" stroke="#8c8c8c" stroke-width="2.8" stroke-opacity="0.69"/><path d="M689.0 1382.3L688.6 1374.9L688.4 1367.4L688.4 1360.0L688.6 1352.5" stroke="#8c8c8c" stroke-width="2.0" stroke-opacity="0.57"/><path d="M688.6 1352.5L689.0 1345.0L689.6 1337.6L690.5 1329.3L691.4 1322.8" stroke="#8c8c8c" stroke-width="1.2" stroke-opacity="0.44"/>
<path d="M529.9 1412.0L529.4 1401.8L528.6 1388.6L527.8 1376.9L526.9 1365.3" stroke="#919191" stroke-width="3.8" stroke-opacity="0.88"/><path d="M526.9 1365.3L525.8 1353.6L524.7 1342.0L523.4 1330.3L522.0 1318.7" stroke="#919191" stroke-width="2.7" stroke-opacity="0.72"/><path d="M522.0 1318.7L520.5 1307.1L518.9 1295.5L516.9 1282.5L515.4 1272.3" stroke="#919191" stroke-width="1.7" stroke-opacity="0.56"/>
<path d="M569.4 1412.0L569.3 1404.4L569.3 1394.5L569.2 1385.8L569.2 1377.0" stroke="#969696" stroke-width="3.4" stroke-opacity="0.83"/><path d="M569.2 1377.0L569.2 1368.3L569.2 1359.6L569.3 1350.8L569.4 1342.1" stroke="#969696" stroke-width="2.4" stroke-opacity="0.68"/><path d="M569.4 1342.1L569.4 1333.4L569.6 1324.6L569.7 1314.8L569.8 1307.1" stroke="#969696" stroke-width="1.5" stroke-opacity="0.53"/>
<path d="M684.9 1412.0L686.3 1405.3L688.1 1396.8L689.4 1389.1L690.6 1381.4" stroke="#787878" stroke-width="2.9" stroke-opacity="0.75"/><path d="M690.6 1381.4L691.5 1373.7L692.3 1365.9L692.8 1358.2L693.2 1350.4" stroke="#787878" stroke-width="2.1" stroke-opacity="0.62"/><path d="M693.2 1350.4L693.4 1342.6L693.4 1334.8L693.1 1326.1L692.8 1319.3" stroke="#787878" stroke-width="1.3" stroke-opacity="0.48"/>
<path d="M547.6 1412.0L547.4 1404.1L547.3 1393.9L547.4 1384.8L547.7 1375.8" stroke="#757575" stroke-width="3.7" stroke-opacity="0.77"/><path d="M547.7 1375.8L548.1 1366.7L548.7 1357.7L549.5 1348.7L550.5 1339.7" stroke="#757575" stroke-width="2.7" stroke-opacity="0.63"/><path d="M550.5 1339.7L551.6 1330.7L552.9 1321.7L554.6 1311.7L556.0 1303.9" stroke="#757575" stroke-width="1.6" stroke-opacity="0.50"/>
<path d="M590.7 1412.0L591.5 1404.1L592.3 1394.0L593.0 1385.0L593.6 1376.0" stroke="#949494" stroke-width="3.2" stroke-opacity="0.84"/><path d="M593.6 1376.0L594.1 1367.0L594.4 1358.0L594.7 1348.9L594.9 1339.9" stroke="#949494" stroke-width="2.3" stroke-opacity="0.69"/><path d="M594.9 1339.9L595.0 1330.9L595.0 1321.9L594.8 1311.7L594.6 1303.8" stroke="#949494" stroke-width="1.4" stroke-opacity="0.54"/>
<path d="M603.7 1412.0L603.4 1408.2L603.0 1403.4L602.8 1399.1L602.5 1394.7" stroke="#707070" stroke-width="3.6" stroke-opacity="0.71"/><path d="M602.5 1394.7L602.3 1390.4L602.0 1386.1L601.8 1381.8L601.6 1377.5" stroke="#707070" stroke-width="2.6" stroke-opacity="0.58"/><path d="M601.6 1377.5L601.5 1373.2L601.3 1368.8L601.2 1364.0L601.1 1360.2" stroke="#707070" stroke-width="1.6" stroke-opacity="0.45"/>
<path d="M593.8 1412.0L592.6 1403.1L591.0 1391.8L589.6 1381.7L588.1 1371.6" stroke="#848484" stroke-width="3.3" stroke-opacity="0.92"/><path d="M588.1 1371.6L586.5 1361.5L584.9 1351.4L583.2 1341.3L581.5 1331.3" stroke="#848484" stroke-width="2.4" stroke-opacity="0.76"/><path d="M581.5 1331.3L579.7 1321.2L577.9 1311.2L575.7 1299.9L574.0 1291.1" stroke="#848484" stroke-width="1.4" stroke-opacity="0.59"/>
<path d="M521.0 1412.0L520.7 1404.3L520.3 1394.3L520.1 1385.5L520.1 1376.7" stroke="#8e8e8e" stroke-width="3.2" stroke-opacity="0.85"/><path d="M520.1 1376.7L520.2 1367.8L520.4 1359.0L520.7 1350.2L521.2 1341.4" stroke="#8e8e8e" stroke-width="2.3" stroke-opacity="0.69"/><path d="M521.2 1341.4L521.8 1332.5L522.6 1323.7L523.6 1313.8L524.5 1306.2" stroke="#8e8e8e" stroke-width="1.4" stroke-opacity="0.54"/>
<path d="M650.5 1412.0L649.2 1401.8L647.7 1388.6L646.5 1376.9L645.4 1365.2" stroke="#848484" stroke-width="3.2" stroke-opacity="0.89"/><path d="M645.4 1365.2L644.4 1353.5L643.5 1341.7L642.7 1330.0L642.0 1318.2" stroke="#848484" stroke-width="2.3" stroke-opacity="0.73"/><path d="M642.0 1318.2L641.4 1306.5L640.9 1294.7L640.4 1281.5L640.2 1271.2" stroke="#848484" stroke-width="1.4" stroke-opacity="0.57"/>
<path d="M589.8 1412.0L587.6 1403.3L584.9 1392.1L582.3 1382.3" stroke="#979797" stroke-width="3.4" stroke-opacity="0.93"/><path d="M582.3 1382.3L579.6 1372.4L576.9 1362.5" stroke="#979797" stroke-width="2.5" stroke-opacity="0.76"/><path d="M576.9 1362.5L574.1 1352.7L570.8 1341.7L568.1 1333.1" stroke="#979797" stroke-width="1.5" stroke-opacity="0.60"/>
<path d="M552.4 1412.0L548.3 1404.7L543.0 1395.4L538.0 1387.3" stroke="#787878" stroke-width="2.8" stroke-opacity="0.75"/><path d="M538.0 1387.3L532.6 1379.4L527.1 1371.7" stroke="#787878" stroke-width="2.0" stroke-opacity="0.62"/><path d="M527.1 1371.7L521.2 1364.2L514.3 1356.0L508.8 1349.7" stroke="#787878" stroke-width="1.2" stroke-opacity="0.48"/>
<path d="M516.1 1412.0L516.3 1404.7L516.6 1395.3L517.1 1387.0" stroke="#979797" stroke-width="3.5" stroke-opacity="0.65"/><path d="M517.1 1387.0L517.7 1378.6L518.4 1370.3" stroke="#979797" stroke-width="2.5" stroke-opacity="0.54"/><path d="M518.4 1370.3L519.2 1362.0L520.3 1352.7L521.2 1345.4" stroke="#979797" stroke-width="1.6" stroke-opacity="0.42"/>
<path d="M640.9 1412.0L640.2 1403.4L639.1 1392.4L637.9 1382.7" stroke="#7c7c7c" stroke-width="3.8" stroke-opacity="0.93"/><path d="M637.9 1382.7L636.5 1373.0L635.0 1363.3" stroke="#7c7c7c" stroke-width="2.7" stroke-opacity="0.77"/><path d="M635.0 1363.3L633.3 1353.6L631.1 1342.8L629.4 1334.4" stroke="#7c7c7c" stroke-width="1.7" stroke-opacity="0.60"/>
<path d="M579.3 1412.0L574.7 1405.1L568.8 1396.2L563.7 1388.3" stroke="#858585" stroke-width="2.8" stroke-opacity="0.78"/><path d="M563.7 1388.3L558.6 1380.2L553.6 1372.2" stroke="#858585" stroke-width="2.0" stroke-opacity="0.64"/><path d="M553.6 1372.2L548.7 1364.1L543.3 1354.9L539.1 1347.8" stroke="#858585" stroke-width="1.2" stroke-opacity="0.50"/>
<path d="M567.8 1412.0L568.6 1404.4L569.9 1394.7L571.3 1386.1" stroke="#8a8a8a" stroke-width="2.6" stroke-opacity="0.75"/><path d="M571.3 1386.1L573.0 1377.6L575.0 1369.1" stroke="#8a8a8a" stroke-width="1.9" stroke-opacity="0.62"/><path d="M575.0 1369.1L577.3 1360.6L580.1 1351.3L582.5 1344.0" stroke="#8a8a8a" stroke-width="1.2" stroke-opacity="0.48"/>
<path d="M505.5 1412.0L505.1 1405.6L504.8 1397.5L505.0 1390.2" stroke="#9b9b9b" stroke-width="2.7" stroke-opacity="0.88"/><path d="M505.0 1390.2L505.5 1382.9L506.3 1375.7" stroke="#9b9b9b" stroke-width="1.9" stroke-opacity="0.72"/><path d="M506.3 1375.7L507.5 1368.5L509.3 1360.6L510.8 1354.4" stroke="#9b9b9b" stroke-width="1.2" stroke-opacity="0.56"/>
<path d="M690.5 1412.0L691.1 1408.5L691.8 1404.1L692.5 1400.1" stroke="#7e7e7e" stroke-width="3.5" stroke-opacity="0.65"/><path d="M692.5 1400.1L693.4 1396.2L694.3 1392.2" stroke="#7e7e7e" stroke-width="2.5" stroke-opacity="0.53"/><path d="M694.3 1392.2L695.2 1388.3L696.4 1384.0L697.4 1380.6" stroke="#7e7e7e" stroke-width="1.6" stroke-opacity="0.41"/>
<path d="M583.9 1412.0L585.1 1407.3L586.6 1401.3L587.6 1395.8" stroke="#989898" stroke-width="2.8" stroke-opacity="0.80"/><path d="M587.6 1395.8L588.4 1390.4L589.0 1384.9" stroke="#989898" stroke-width="2.0" stroke-opacity="0.66"/><path d="M589.0 1384.9L589.4 1379.4L589.6 1373.1L589.7 1368.3" stroke="#989898" stroke-width="1.2" stroke-opacity="0.51"/>
<path d="M637.9 1412.0L638.4 1404.6L639.1 1395.1L639.8 1386.6" stroke="#767676" stroke-width="3.1" stroke-opacity="0.93"/><path d="M639.8 1386.6L640.6 1378.2L641.4 1369.7" stroke="#767676" stroke-width="2.2" stroke-opacity="0.76"/><path d="M641.4 1369.7L642.2 1361.3L643.3 1351.8L644.2 1344.4" stroke="#767676" stroke-width="1.4" stroke-opacity="0.59"/>
<path d="M625.1 1412.0L625.1 1403.6L625.0 1392.7L624.8 1383.1" stroke="#969696" stroke-width="2.7" stroke-opacity="0.76"/><path d="M624.8 1383.1L624.4 1373.5L623.9 1363.8" stroke="#969696" stroke-width="1.9" stroke-opacity="0.62"/><path d="M623.9 1363.8L623.2 1354.2L622.2 1343.4L621.4 1335.0" stroke="#969696" stroke-width="1.2" stroke-opacity="0.49"/>
<path d="M567.8 1412.0L565.5 1407.7L562.6 1402.1L559.7 1397.3" stroke="#898989" stroke-width="2.8" stroke-opacity="0.68"/><path d="M559.7 1397.3L556.8 1392.6L553.7 1387.9" stroke="#898989" stroke-width="2.0" stroke-opacity="0.56"/><path d="M553.7 1387.9L550.4 1383.3L546.6 1378.3L543.6 1374.5" stroke="#898989" stroke-width="1.2" stroke-opacity="0.44"/>
<path d="M523.2 1412.0L523.5 1407.5L523.8 1401.7L524.2 1396.6" stroke="#808080" stroke-width="3.0" stroke-opacity="0.87"/><path d="M524.2 1396.6L524.6 1391.5L525.0 1386.4" stroke="#808080" stroke-width="2.1" stroke-opacity="0.71"/><path d="M525.0 1386.4L525.5 1381.3L526.2 1375.5L526.7 1371.1" stroke="#808080" stroke-width="1.3" stroke-opacity="0.55"/>
<path d="M558.3 1412.0L557.6 1406.7L556.7 1399.8L556.0 1393.7" stroke="#7e7e7e" stroke-width="2.6" stroke-opacity="0.61"/><path d="M556.0 1393.7L555.2 1387.6L554.4 1381.6" stroke="#7e7e7e" stroke-width="1.9" stroke-opacity="0.50"/><path d="M554.4 1381.6L553.7 1375.5L552.8 1368.6L552.1 1363.3" stroke="#7e7e7e" stroke-width="1.2" stroke-opacity="0.39"/>
<path d="M644.2 1412.0L643.4 1405.9L642.3 1398.1L641.2 1391.2" stroke="#787878" stroke-width="3.7" stroke-opacity="0.89"/><path d="M641.2 1391.2L640.1 1384.2L639.0 1377.3" stroke="#787878" stroke-width="2.7" stroke-opacity="0.73"/><path d="M639.0 1377.3L637.8 1370.4L636.3 1362.7L635.2 1356.6" stroke="#787878" stroke-width="1.6" stroke-opacity="0.57"/>
<path d="M585.8 1412.0L583.8 1406.7L581.1 1400.0L578.8 1394.0" stroke="#8f8f8f" stroke-width="3.2" stroke-opacity="0.94"/><path d="M578.8 1394.0L576.4 1388.0L574.1 1381.9" stroke="#8f8f8f" stroke-width="2.3" stroke-opacity="0.77"/><path d="M574.1 1381.9L571.8 1375.9L569.3 1369.1L567.3 1363.8" stroke="#8f8f8f" stroke-width="1.4" stroke-opacity="0.60"/>
<path d="M568.5 1412.0L569.0 1404.9L569.3 1395.8L569.1 1387.7" stroke="#818181" stroke-width="3.1" stroke-opacity="0.62"/><path d="M569.1 1387.7L568.5 1379.6L567.5 1371.5" stroke="#818181" stroke-width="2.2" stroke-opacity="0.51"/><path d="M567.5 1371.5L566.1 1363.5L563.9 1354.6L562.0 1347.8" stroke="#818181" stroke-width="1.4" stroke-opacity="0.40"/>
<path d="M527.2 1412.0L528.8 1407.5L531.0 1401.7L533.1 1396.6" stroke="#777777" stroke-width="2.8" stroke-opacity="0.89"/><path d="M533.1 1396.6L535.3 1391.5L537.6 1386.5" stroke="#777777" stroke-width="2.0" stroke-opacity="0.73"/><path d="M537.6 1386.5L540.1 1381.6L543.1 1376.2L545.5 1372.0" stroke="#777777" stroke-width="1.2" stroke-opacity="0.57"/>
<path d="M670.9 1412.0L670.3 1407.3L669.5 1401.3L668.5 1395.9" stroke="#868686" stroke-width="3.0" stroke-opacity="0.66"/><path d="M668.5 1395.9L667.5 1390.6L666.3 1385.3" stroke="#868686" stroke-width="2.1" stroke-opacity="0.54"/><path d="M666.3 1385.3L664.9 1380.1L663.2 1374.3L661.8 1369.7" stroke="#868686" stroke-width="1.3" stroke-opacity="0.42"/>
<path d="M588.5 1412.0L589.6 1402.9L591.6 1391.4L594.6 1381.4" stroke="#7d7d7d" stroke-width="3.3" stroke-opacity="0.94"/><path d="M594.6 1381.4L598.5 1371.7L603.4 1362.4" stroke="#7d7d7d" stroke-width="2.3" stroke-opacity="0.77"/><path d="M603.4 1362.4L609.1 1353.7L616.6 1344.7L622.9 1338.0" stroke="#7d7d7d" stroke-width="1.4" stroke-opacity="0.60"/>
<path d="M562.1 1412.0L562.0 1406.4L562.0 1399.3L562.0 1392.9" stroke="#888888" stroke-width="3.2" stroke-opacity="0.67"/><path d="M562.0 1392.9L562.0 1386.5L562.0 1380.1" stroke="#888888" stroke-width="2.3" stroke-opacity="0.55"/><path d="M562.0 1380.1L562.0 1373.8L562.1 1366.6L562.1 1361.0" stroke="#888888" stroke-width="1.4" stroke-opacity="0.43"/>
<path d="M599.9 1412.0L600.5 1408.2L601.3 1403.4L602.0 1399.1" stroke="#757575" stroke-width="3.1" stroke-opacity="0.61"/><path d="M602.0 1399.1L602.7 1394.8L603.4 1390.4" stroke="#757575" stroke-width="2.2" stroke-opacity="0.50"/><path d="M603.4 1390.4L604.1 1386.1L604.9 1381.3L605.5 1377.5" stroke="#757575" stroke-width="1.4" stroke-opacity="0.39"/>
<path d="M561.0 1412.0L561.8 1405.6L562.9 1397.3L564.4 1390.1" stroke="#8e8e8e" stroke-width="3.5" stroke-opacity="0.85"/><path d="M564.4 1390.1L566.2 1382.9L568.4 1375.9" stroke="#8e8e8e" stroke-width="2.5" stroke-opacity="0.70"/><path d="M568.4 1375.9L570.9 1368.9L574.3 1361.3L577.0 1355.5" stroke="#8e8e8e" stroke-width="1.5" stroke-opacity="0.54"/>
<path d="M672.5 1412.0L671.6 1402.8L670.6 1391.1L669.9 1380.6" stroke="#909090" stroke-width="2.8" stroke-opacity="0.83"/><path d="M669.9 1380.6L669.5 1370.0L669.3 1359.5" stroke="#909090" stroke-width="2.0" stroke-opacity="0.68"/><path d="M669.3 1359.5L669.3 1349.0L669.7 1337.2L670.0 1328.0" stroke="#909090" stroke-width="1.2" stroke-opacity="0.53"/>
<path d="M510.5 1412.0L511.2 1405.0L511.8 1395.9L511.6 1387.9" stroke="#949494" stroke-width="3.5" stroke-opacity="0.65"/><path d="M511.6 1387.9L510.9 1379.8L509.6 1371.9" stroke="#949494" stroke-width="2.5" stroke-opacity="0.53"/><path d="M509.6 1371.9L507.8 1364.0L505.0 1355.4L502.6 1348.7" stroke="#949494" stroke-width="1.5" stroke-opacity="0.42"/>
<path d="M603.6 1412.0L600.6 1404.5L596.7 1394.8L593.2 1386.2" stroke="#8b8b8b" stroke-width="3.6" stroke-opacity="0.91"/><path d="M593.2 1386.2L589.7 1377.6L586.1 1369.0" stroke="#8b8b8b" stroke-width="2.6" stroke-opacity="0.75"/><path d="M586.1 1369.0L582.6 1360.4L578.6 1350.8L575.4 1343.3" stroke="#8b8b8b" stroke-width="1.6" stroke-opacity="0.58"/>
<path d="M634.5 1412.0L634.2 1408.5L633.7 1404.1L633.1 1400.2" stroke="#828282" stroke-width="2.8" stroke-opacity="0.64"/><path d="M633.1 1400.2L632.5 1396.3L631.7 1392.4" stroke="#828282" stroke-width="2.0" stroke-opacity="0.52"/><path d="M631.7 1392.4L630.9 1388.5L629.8 1384.2L628.9 1380.8" stroke="#828282" stroke-width="1.2" stroke-opacity="0.41"/>
<path d="M664.1 1412.0L662.1 1405.3L659.4 1396.6L656.8 1389.0" stroke="#878787" stroke-width="3.4" stroke-opacity="0.60"/><path d="M656.8 1389.0L654.0 1381.4L651.2 1373.9" stroke="#878787" stroke-width="2.5" stroke-opacity="0.49"/><path d="M651.2 1373.9L648.1 1366.4L644.5 1358.1L641.6 1351.7" stroke="#878787" stroke-width="1.5" stroke-opacity="0.38"/>
<path d="M656.8 1412.0L656.2 1405.5L655.4 1397.2L654.2 1389.9" stroke="#767676" stroke-width="3.4" stroke-opacity="0.86"/><path d="M654.2 1389.9L652.7 1382.6L650.9 1375.4" stroke="#767676" stroke-width="2.4" stroke-opacity="0.70"/><path d="M650.9 1375.4L648.8 1368.3L646.0 1360.4L643.6 1354.3" stroke="#767676" stroke-width="1.5" stroke-opacity="0.55"/>
<path d="M550.9 1412.0L552.2 1404.4L553.8 1394.7L555.5 1386.1" stroke="#919191" stroke-width="2.8" stroke-opacity="0.94"/><path d="M555.5 1386.1L557.2 1377.5L559.1 1368.9" stroke="#919191" stroke-width="2.0" stroke-opacity="0.77"/><path d="M559.1 1368.9L561.0 1360.4L563.4 1350.8L565.3 1343.4" stroke="#919191" stroke-width="1.3" stroke-opacity="0.60"/>
<path d="M597.8 1412.0L596.9 1404.7L595.9 1395.2L595.4 1386.8" stroke="#8c8c8c" stroke-width="3.5" stroke-opacity="0.82"/><path d="M595.4 1386.8L595.0 1378.3L595.0 1369.9" stroke="#8c8c8c" stroke-width="2.5" stroke-opacity="0.68"/><path d="M595.0 1369.9L595.1 1361.4L595.6 1351.9L596.1 1344.6" stroke="#8c8c8c" stroke-width="1.5" stroke-opacity="0.53"/>
<path d="M517.0 1412.0L518.0 1404.3L519.5 1394.4L521.0 1385.7" stroke="#8a8a8a" stroke-width="3.0" stroke-opacity="0.60"/><path d="M521.0 1385.7L522.7 1377.0L524.6 1368.4" stroke="#8a8a8a" stroke-width="2.1" stroke-opacity="0.50"/><path d="M524.6 1368.4L526.7 1359.8L529.4 1350.2L531.6 1342.7" stroke="#8a8a8a" stroke-width="1.3" stroke-opacity="0.39"/>
<path d="M513.8 1412.0L514.2 1404.6L515.1 1395.0L516.4 1386.6" stroke="#7f7f7f" stroke-width="3.4" stroke-opacity="0.78"/><path d="M516.4 1386.6L518.2 1378.3L520.5 1370.1" stroke="#7f7f7f" stroke-width="2.5" stroke-opacity="0.64"/><path d="M520.5 1370.1L523.2 1362.0L526.9 1353.2L530.0 1346.4" stroke="#7f7f7f" stroke-width="1.5" stroke-opacity="0.50"/>
<path d="M592.1 1412.0L591.4 1403.4L590.4 1392.3L589.5 1382.4" stroke="#9b9b9b" stroke-width="2.8" stroke-opacity="0.93"/><path d="M589.5 1382.4L588.7 1372.6L588.0 1362.7" stroke="#9b9b9b" stroke-width="2.0" stroke-opacity="0.76"/><path d="M588.0 1362.7L587.3 1352.8L586.5 1341.7L585.9 1333.1" stroke="#9b9b9b" stroke-width="1.2" stroke-opacity="0.59"/>
</g>
<polygon points="479.0,1452.0 490.0,1408.0 495.0,1405.5 694.0,1408.0 707.0,1412.0 717.5,1458.0 712.0,1488.0 689.5,1602.0 500.0,1602.0 487.0,1483.0" fill="#3d3d3d"/>
<polygon points="496.0,1411.0 696.0,1413.0 709.0,1457.0 487.0,1455.0" fill="#2d2d2d"/>
<g fill="none" stroke-linecap="round" stroke-linejoin="round">
<path d="M487.3 1407L493.6 1456.5" stroke="#c6c6c6" stroke-width="2.5"/>
<path d="M500.9 1407L499.3 1454.1" stroke="#c5c5c5" stroke-width="2.9"/>
<path d="M495.7 1407L504.2 1460.2" stroke="#a1a1a1" stroke-width="2.8"/>
<path d="M510.3 1407L511.6 1454.3" stroke="#bababa" stroke-width="3.3"/>
<path d="M515.9 1407L515.6 1456.5" stroke="#b1b1b1" stroke-width="2.6"/>
<path d="M519.7 1407L519.7 1455.2" stroke="#ababab" stroke-width="3.2"/>
<path d="M524.4 1407L524.4 1461.3" stroke="#a1a1a1" stroke-width="3.1"/>
<path d="M525.6 1407L532.3 1455.7" stroke="#a8a8a8" stroke-width="2.7"/>
<path d="M534.9 1407L537.7 1454.8" stroke="#aeaeae" stroke-width="2.3"/>
<path d="M538.4 1407L540.2 1454.9" stroke="#c0c0c0" stroke-width="3.3"/>
<path d="M545.3 1407L545.7 1455.7" stroke="#a4a4a4" stroke-width="3.3"/>
<path d="M557.0 1407L552.8 1458.3" stroke="#bfbfbf" stroke-width="3.3"/>
<path d="M552.8 1407L558.1 1459.3" stroke="#9e9e9e" stroke-width="2.7"/>
<path d="M561.0 1407L562.7 1454.9" stroke="#b8b8b8" stroke-width="2.3"/>
<path d="M571.1 1407L568.4 1455.0" stroke="#ababab" stroke-width="3.1"/>
<path d="M576.5 1407L573.7 1458.6" stroke="#a7a7a7" stroke-width="2.6"/>
<path d="M575.9 1407L577.6 1454.1" stroke="#a3a3a3" stroke-width="3.3"/>
<path d="M583.8 1407L582.5 1461.1" stroke="#a5a5a5" stroke-width="3.4"/>
<path d="M589.0 1407L587.5 1455.4" stroke="#9f9f9f" stroke-width="2.3"/>
<path d="M593.8 1407L592.1 1457.7" stroke="#a7a7a7" stroke-width="3.3"/>
<path d="M595.7 1407L598.7 1455.8" stroke="#b3b3b3" stroke-width="2.6"/>
<path d="M603.7 1407L601.8 1461.7" stroke="#a8a8a8" stroke-width="2.4"/>
<path d="M603.5 1407L608.3 1454.7" stroke="#a5a5a5" stroke-width="2.5"/>
<path d="M608.1 1407L613.1 1461.5" stroke="#afafaf" stroke-width="3.2"/>
<path d="M620.6 1407L619.7 1461.0" stroke="#bbbbbb" stroke-width="2.8"/>
<path d="M624.1 1407L624.0 1455.9" stroke="#9c9c9c" stroke-width="3.3"/>
<path d="M635.6 1407L629.9 1453.1" stroke="#a6a6a6" stroke-width="2.4"/>
<path d="M626.7 1407L634.1 1461.4" stroke="#bababa" stroke-width="3.1"/>
<path d="M640.0 1407L639.6 1452.4" stroke="#b4b4b4" stroke-width="3.1"/>
<path d="M639.7 1407L643.5 1458.5" stroke="#c4c4c4" stroke-width="2.6"/>
<path d="M648.3 1407L648.4 1453.1" stroke="#bababa" stroke-width="2.3"/>
<path d="M659.7 1407L654.7 1455.9" stroke="#b5b5b5" stroke-width="2.5"/>
<path d="M663.1 1407L660.1 1461.6" stroke="#b0b0b0" stroke-width="3.0"/>
<path d="M666.3 1407L666.1 1454.3" stroke="#b0b0b0" stroke-width="2.5"/>
<path d="M670.6 1407L671.5 1457.0" stroke="#9c9c9c" stroke-width="3.0"/>
<path d="M672.1 1407L675.0 1458.7" stroke="#a7a7a7" stroke-width="3.3"/>
<path d="M682.7 1407L679.6 1458.8" stroke="#aeaeae" stroke-width="2.4"/>
<path d="M687.1 1407L686.4 1457.0" stroke="#bcbcbc" stroke-width="2.4"/>
<path d="M689.7 1407L692.1 1454.2" stroke="#a6a6a6" stroke-width="3.1"/>
<path d="M701.2 1407L695.2 1457.0" stroke="#c5c5c5" stroke-width="2.4"/>
<path d="M695.7 1407L700.2 1453.5" stroke="#c5c5c5" stroke-width="2.7"/>
<path d="M707.9 1407L705.3 1453.4" stroke="#c6c6c6" stroke-width="2.3"/>
</g>
<polygon points="485.0,1462.0 713.0,1461.0 711.0,1488.0 689.5,1602.0 500.0,1602.0 487.5,1483.0" fill="url(#pot1)"/>
<path d="M500 1468 Q 610 1464 705 1470 Q 690 1515 620 1520 Q 540 1515 500 1468Z" fill="#383838" opacity="0.55" filter="url(#ph2)"/>
<path d="M486 1462.5 H713" stroke="#333" stroke-width="3" opacity="0.7"/>
</g></g>
<rect x="355.7" y="1140.7" width="400.6" height="460.1" fill="none" stroke="#3c3c3c" stroke-width="5.6" filter="url(#soft)"/>
<g clip-path="url(#cp1)"><g filter="url(#ph)">
<rect x="780" y="1135" width="462" height="474" fill="url(#bg2)"/>
<polygon points="906.0,1474.0 924.0,1442.0 1106.0,1442.0 1121.0,1484.0 1113.0,1499.0 1098.0,1603.0 931.0,1603.0 913.0,1497.0" fill="#262626"/>
<g fill="none" stroke-linecap="round" stroke-linejoin="round">
<path d="M943.1 1406.2C939.1 1404.6 926.9 1400.1 918.9 1397.0C910.8 1393.9 902.7 1390.9 894.6 1387.8C886.6 1384.7 878.5 1381.6 870.4 1378.5C862.4 1375.4 854.3 1372.4 846.2 1369.3C838.2 1366.2 826.1 1361.5 822.0 1359.9" stroke="#696969" stroke-width="4.6" stroke-opacity="0.88"/>
<path d="M950.2 1440.0C946.6 1441.4 935.8 1445.5 928.7 1448.7C921.7 1451.9 914.8 1455.4 908.1 1459.1C901.3 1462.9 894.7 1466.9 888.3 1471.2C881.9 1475.5 875.7 1480.1 869.6 1484.9C863.6 1489.7 855.0 1497.5 852.1 1500.0" stroke="#7f7f7f" stroke-width="5.3" stroke-opacity="0.76"/>
<path d="M964.3 1464.9C959.6 1464.5 945.4 1463.1 935.9 1462.7C926.4 1462.4 916.9 1462.3 907.4 1462.5C898.0 1462.8 888.5 1463.4 879.0 1464.3C869.6 1465.2 860.2 1466.4 850.8 1468.0C841.5 1469.5 827.6 1472.7 822.9 1473.6" stroke="#787878" stroke-width="2.6" stroke-opacity="0.76"/>
<path d="M932.6 1360.1C928.6 1361.6 916.5 1366.2 908.4 1369.4C900.4 1372.5 892.4 1375.7 884.4 1378.9C876.4 1382.2 868.4 1385.5 860.5 1388.8C852.5 1392.1 844.6 1395.5 836.6 1399.0C828.7 1402.4 816.9 1407.6 813.0 1409.4" stroke="#777777" stroke-width="5.4" stroke-opacity="0.91"/>
<path d="M945.0 1421.1C941.2 1420.7 929.8 1420.1 922.3 1419.1C914.8 1418.1 907.4 1416.7 900.0 1414.9C892.7 1413.1 885.3 1411.0 878.2 1408.5C871.1 1406.0 864.0 1403.2 857.1 1400.0C850.3 1396.8 840.4 1391.2 837.0 1389.4" stroke="#858585" stroke-width="6.0" stroke-opacity="0.93"/>
<path d="M937.6 1358.3C934.4 1358.6 924.9 1359.7 918.5 1360.1C912.1 1360.6 905.7 1360.8 899.3 1360.9C892.9 1361.0 886.5 1360.9 880.1 1360.7C873.7 1360.4 867.3 1360.0 861.0 1359.4C854.6 1358.9 845.1 1357.5 841.9 1357.2" stroke="#858585" stroke-width="3.9" stroke-opacity="0.85"/>
<path d="M963.3 1447.9C959.9 1448.9 949.6 1452.3 942.7 1454.2C935.7 1456.0 928.7 1457.5 921.6 1458.8C914.6 1460.0 907.4 1461.0 900.3 1461.6C893.1 1462.3 885.9 1462.6 878.7 1462.7C871.5 1462.8 860.8 1462.1 857.2 1462.0" stroke="#8b8b8b" stroke-width="4.1" stroke-opacity="0.85"/>
<path d="M927.9 1416.3C924.2 1415.7 913.1 1413.5 905.6 1412.6C898.2 1411.8 890.6 1411.2 883.1 1410.9C875.6 1410.6 868.0 1410.6 860.5 1411.0C853.0 1411.3 845.5 1412.0 838.0 1412.9C830.6 1413.9 819.5 1416.1 815.8 1416.7" stroke="#8a8a8a" stroke-width="3.7" stroke-opacity="0.94"/>
<path d="M929.7 1360.7C926.6 1361.5 917.4 1363.9 911.2 1365.2C905.0 1366.5 898.8 1367.7 892.5 1368.6C886.3 1369.6 880.0 1370.3 873.6 1370.9C867.3 1371.5 861.0 1371.9 854.7 1372.1C848.3 1372.3 838.8 1372.1 835.6 1372.1" stroke="#797979" stroke-width="3.1" stroke-opacity="0.86"/>
<path d="M932.6 1431.1C928.1 1432.8 914.4 1437.4 905.5 1441.1C896.5 1444.7 887.7 1448.8 879.1 1453.1C870.5 1457.4 862.0 1462.1 853.8 1467.1C845.5 1472.1 837.4 1477.4 829.6 1483.0C821.7 1488.6 810.5 1497.7 806.7 1500.7" stroke="#6a6a6a" stroke-width="4.0" stroke-opacity="0.82"/>
<path d="M963.8 1441.5C958.4 1442.6 942.2 1445.4 931.4 1447.9C920.7 1450.3 910.0 1453.0 899.4 1456.1C888.8 1459.1 878.3 1462.5 867.9 1466.1C857.6 1469.8 847.3 1473.8 837.1 1478.0C826.9 1482.3 812.0 1489.4 807.0 1491.6" stroke="#858585" stroke-width="3.9" stroke-opacity="0.91"/>
<path d="M929.0 1468.4C925.3 1469.0 914.3 1470.9 906.9 1471.9C899.5 1472.8 892.0 1473.6 884.6 1474.1C877.2 1474.6 869.7 1475.0 862.2 1475.1C854.8 1475.2 847.3 1475.2 839.9 1474.9C832.4 1474.6 821.2 1473.7 817.5 1473.5" stroke="#6e6e6e" stroke-width="3.7" stroke-opacity="0.77"/>
<path d="M928.6 1409.5C924.0 1410.5 910.2 1413.3 901.0 1415.4C891.8 1417.5 882.7 1419.7 873.6 1422.0C864.5 1424.3 855.4 1426.7 846.3 1429.3C837.3 1431.8 828.2 1434.5 819.2 1437.3C810.3 1440.1 796.9 1444.5 792.4 1446.0" stroke="#8a8a8a" stroke-width="4.1" stroke-opacity="0.87"/>
<path d="M948.0 1450.6C944.6 1451.2 934.4 1453.0 927.6 1453.8C920.8 1454.5 913.9 1455.0 907.0 1455.2C900.2 1455.4 893.3 1455.3 886.4 1454.9C879.6 1454.6 872.7 1453.9 865.9 1453.0C859.1 1452.1 849.0 1450.0 845.6 1449.4" stroke="#6c6c6c" stroke-width="5.4" stroke-opacity="0.80"/>
<path d="M954.6 1461.4C948.9 1462.2 932.1 1465.1 920.8 1466.3C909.5 1467.5 898.1 1468.3 886.7 1468.7C875.3 1469.0 863.9 1468.9 852.6 1468.4C841.2 1467.9 829.8 1466.9 818.5 1465.6C807.2 1464.2 790.4 1461.0 784.8 1460.1" stroke="#737373" stroke-width="4.6" stroke-opacity="0.78"/>
<path d="M926.5 1464.6C921.7 1465.8 907.1 1469.0 897.4 1471.6C887.8 1474.2 878.2 1477.0 868.6 1480.1C859.1 1483.1 849.7 1486.4 840.3 1489.9C831.0 1493.4 821.7 1497.2 812.5 1501.1C803.3 1505.1 789.8 1511.6 785.3 1513.7" stroke="#7b7b7b" stroke-width="5.4" stroke-opacity="0.82"/>
<path d="M932.0 1429.5C928.5 1430.6 918.1 1434.0 911.2 1436.2C904.2 1438.4 897.3 1440.5 890.3 1442.7C883.3 1444.8 876.3 1446.8 869.3 1448.9C862.3 1450.9 855.3 1452.9 848.3 1454.9C841.2 1456.8 830.7 1459.6 827.1 1460.6" stroke="#7b7b7b" stroke-width="5.5" stroke-opacity="0.82"/>
<path d="M961.7 1354.6C958.2 1356.0 947.7 1360.1 940.7 1362.9C933.7 1365.7 926.8 1368.5 919.8 1371.4C912.8 1374.3 905.9 1377.2 899.0 1380.2C892.1 1383.1 885.2 1386.1 878.3 1389.2C871.4 1392.2 861.1 1396.8 857.7 1398.4" stroke="#696969" stroke-width="2.7" stroke-opacity="0.84"/>
<path d="M947.9 1344.1C942.4 1344.0 925.8 1344.5 914.7 1343.9C903.7 1343.3 892.7 1342.1 881.8 1340.5C870.9 1338.8 860.0 1336.6 849.3 1333.9C838.6 1331.2 828.0 1328.0 817.6 1324.3C807.2 1320.6 792.0 1313.8 786.9 1311.6" stroke="#7f7f7f" stroke-width="4.8" stroke-opacity="0.90"/>
<path d="M930.6 1330.1C925.3 1331.9 909.5 1337.4 898.9 1340.8C888.2 1344.1 877.5 1347.2 866.8 1350.2C856.0 1353.1 845.2 1355.8 834.3 1358.3C823.4 1360.7 812.5 1363.0 801.5 1365.0C790.5 1367.1 774.0 1369.6 768.5 1370.5" stroke="#626262" stroke-width="5.9" stroke-opacity="0.91"/>
<path d="M944.3 1430.9C938.6 1432.1 921.3 1435.3 910.1 1438.2C898.8 1441.1 887.6 1444.5 876.6 1448.3C865.6 1452.2 854.7 1456.5 844.1 1461.3C833.4 1466.0 823.0 1471.3 812.8 1476.9C802.6 1482.6 787.9 1492.1 782.9 1495.2" stroke="#808080" stroke-width="4.4" stroke-opacity="0.98"/>
<path d="M954.5 1427.0C949.0 1425.8 932.7 1421.9 921.8 1419.5C910.8 1417.2 899.9 1415.0 888.9 1413.0C877.9 1411.0 866.8 1409.1 855.8 1407.4C844.7 1405.7 833.6 1404.2 822.5 1402.8C811.4 1401.5 794.7 1399.9 789.2 1399.3" stroke="#878787" stroke-width="4.9" stroke-opacity="0.97"/>
<path d="M941.7 1439.6C937.3 1438.1 924.2 1433.6 915.5 1430.5C906.8 1427.3 898.2 1424.0 889.6 1420.7C881.0 1417.3 872.4 1413.8 863.9 1410.2C855.4 1406.6 846.9 1402.9 838.4 1399.1C830.0 1395.3 817.5 1389.3 813.3 1387.4" stroke="#7a7a7a" stroke-width="3.8" stroke-opacity="0.90"/>
<path d="M928.2 1417.7C923.3 1415.3 908.4 1408.2 898.7 1403.1C889.0 1397.9 879.4 1392.6 869.9 1387.1C860.4 1381.5 851.0 1375.7 841.8 1369.8C832.6 1363.8 823.5 1357.6 814.6 1351.2C805.7 1344.8 792.6 1334.7 788.2 1331.4" stroke="#808080" stroke-width="3.9" stroke-opacity="0.90"/>
<path d="M942.6 1446.6C937.9 1448.6 923.6 1454.2 914.4 1458.7C905.2 1463.2 896.1 1468.1 887.4 1473.5C878.6 1478.8 870.1 1484.6 861.9 1490.7C853.7 1496.8 845.7 1503.4 838.2 1510.2C830.6 1517.1 820.0 1528.3 816.3 1531.9" stroke="#767676" stroke-width="4.6" stroke-opacity="0.81"/>
<path d="M952.9 1397.1C947.3 1396.7 930.6 1395.4 919.4 1395.0C908.1 1394.5 896.9 1394.4 885.7 1394.5C874.5 1394.6 863.3 1395.0 852.1 1395.6C840.9 1396.3 829.7 1397.2 818.5 1398.4C807.4 1399.6 790.8 1402.1 785.2 1402.8" stroke="#6e6e6e" stroke-width="2.5" stroke-opacity="0.92"/>
<path d="M921.1 1448.5C917.6 1448.9 906.9 1449.6 900.0 1450.7C893.0 1451.9 886.0 1453.4 879.2 1455.3C872.4 1457.2 865.7 1459.5 859.1 1462.1C852.5 1464.8 846.1 1467.8 839.9 1471.1C833.6 1474.5 824.8 1480.4 821.7 1482.2" stroke="#939393" stroke-width="2.7" stroke-opacity="0.80"/>
<path d="M921.0 1461.5C916.9 1462.6 904.7 1464.9 896.9 1467.6C889.1 1470.3 881.5 1473.8 874.3 1477.8C867.2 1481.9 860.3 1486.7 854.0 1492.0C847.7 1497.3 841.7 1503.2 836.5 1509.6C831.2 1515.9 824.8 1526.6 822.4 1530.0" stroke="#9b9b9b" stroke-width="2.2" stroke-opacity="0.69"/>
<path d="M919.1 1464.8C915.2 1465.6 903.3 1467.4 895.7 1469.5C888.0 1471.6 880.5 1474.4 873.2 1477.7C866.0 1481.0 859.0 1484.9 852.3 1489.3C845.7 1493.6 839.3 1498.5 833.4 1503.9C827.6 1509.2 819.8 1518.3 817.0 1521.2" stroke="#919191" stroke-width="2.8" stroke-opacity="0.65"/>
<path d="M928.5 1453.8C926.1 1455.5 918.6 1460.3 914.0 1464.1C909.5 1467.9 905.1 1472.0 901.1 1476.3C897.1 1480.7 893.4 1485.4 890.1 1490.3C886.7 1495.2 883.7 1500.3 881.0 1505.6C878.4 1510.9 875.4 1519.3 874.3 1522.1" stroke="#929292" stroke-width="2.3" stroke-opacity="0.85"/>
<path d="M944.5 1462.6C943.0 1464.0 938.2 1468.1 935.4 1471.2C932.7 1474.3 930.2 1477.7 928.0 1481.2C925.9 1484.7 924.0 1488.5 922.6 1492.4C921.1 1496.2 920.0 1500.3 919.2 1504.3C918.4 1508.4 918.2 1514.7 918.0 1516.7" stroke="#a0a0a0" stroke-width="1.8" stroke-opacity="0.77"/>
<path d="M924.3 1479.6C922.5 1481.1 917.2 1485.6 913.9 1488.8C910.6 1492.1 907.5 1495.6 904.6 1499.2C901.7 1502.8 899.1 1506.6 896.6 1510.5C894.1 1514.5 891.9 1518.5 889.9 1522.7C887.9 1526.9 885.5 1533.4 884.6 1535.6" stroke="#a4a4a4" stroke-width="1.8" stroke-opacity="0.67"/>
<path d="M919.2 1442.3C916.3 1443.3 907.5 1445.9 902.0 1448.3C896.4 1450.6 890.9 1453.4 885.7 1456.5C880.5 1459.6 875.5 1463.2 870.7 1467.0C866.0 1470.8 861.5 1475.0 857.4 1479.5C853.3 1483.9 847.9 1491.3 846.0 1493.7" stroke="#a3a3a3" stroke-width="2.5" stroke-opacity="0.89"/>
<path d="M935.5 1450.0C933.3 1450.8 926.4 1453.1 921.9 1454.8C917.3 1456.5 912.8 1458.3 908.4 1460.2C903.9 1462.0 899.5 1464.0 895.2 1466.1C890.8 1468.2 886.5 1470.3 882.2 1472.6C877.9 1474.8 871.6 1478.4 869.5 1479.6" stroke="#a0a0a0" stroke-width="2.3" stroke-opacity="0.65"/>
<path d="M923.2 1457.3C920.1 1458.2 910.7 1460.4 904.6 1462.6C898.6 1464.8 892.7 1467.4 887.0 1470.4C881.3 1473.4 875.8 1476.9 870.6 1480.6C865.4 1484.4 860.4 1488.5 855.8 1492.9C851.2 1497.4 845.0 1504.8 842.8 1507.2" stroke="#959595" stroke-width="2.6" stroke-opacity="0.84"/>
<path d="M1098.1 1350.5C1102.8 1349.8 1116.7 1346.9 1126.1 1346.4C1135.4 1345.9 1145.0 1346.2 1154.3 1347.2C1163.6 1348.3 1173.0 1350.3 1182.0 1353.0C1191.0 1355.6 1199.8 1359.2 1208.2 1363.4C1216.6 1367.6 1224.8 1372.6 1232.3 1378.1C1239.8 1383.7 1249.9 1393.8 1253.4 1396.9" stroke="#929292" stroke-width="2.3" stroke-opacity="0.87"/>
<path d="M1087.5 1408.3C1092.5 1408.1 1107.5 1406.0 1117.1 1407.3C1126.8 1408.6 1136.7 1411.5 1145.5 1415.8C1154.3 1420.1 1162.7 1426.0 1169.7 1432.9C1176.6 1439.7 1182.8 1448.0 1187.2 1456.7C1191.6 1465.4 1194.8 1475.3 1196.3 1484.9C1197.7 1494.5 1196.0 1509.6 1195.9 1514.5" stroke="#939393" stroke-width="2.4" stroke-opacity="0.66"/>
<path d="M1094.4 1438.2C1098.9 1436.7 1112.0 1431.2 1121.1 1429.0C1130.1 1426.8 1139.6 1425.4 1148.9 1425.0C1158.3 1424.5 1167.8 1425.0 1177.0 1426.3C1186.3 1427.6 1195.6 1429.8 1204.4 1432.8C1213.3 1435.8 1222.0 1439.8 1230.1 1444.4C1238.2 1449.0 1249.3 1457.9 1253.1 1460.6" stroke="#9f9f9f" stroke-width="2.9" stroke-opacity="0.89"/>
<path d="M1090.7 1434.9C1095.5 1432.6 1109.4 1424.4 1119.4 1421.4C1129.4 1418.5 1140.4 1417.0 1150.8 1417.2C1161.2 1417.4 1172.1 1419.3 1182.0 1422.7C1191.9 1426.1 1201.7 1431.2 1210.1 1437.4C1218.5 1443.6 1226.3 1451.4 1232.5 1459.8C1238.6 1468.3 1244.5 1483.3 1247.0 1488.0" stroke="#7e7e7e" stroke-width="2.2" stroke-opacity="0.73"/>
<path d="M1091.0 1432.2C1093.5 1431.3 1100.7 1428.1 1105.7 1427.1C1110.7 1426.2 1116.1 1426.0 1121.2 1426.6C1126.3 1427.2 1131.5 1428.6 1136.2 1430.7C1140.9 1432.8 1145.4 1435.6 1149.3 1439.0C1153.2 1442.3 1156.7 1446.4 1159.4 1450.8C1162.1 1455.1 1164.6 1462.6 1165.6 1465.0" stroke="#989898" stroke-width="1.9" stroke-opacity="0.65"/>
<path d="M1086.7 1434.5C1089.1 1432.8 1095.9 1427.0 1101.0 1424.1C1106.2 1421.3 1111.8 1419.0 1117.5 1417.5C1123.2 1416.0 1129.2 1415.2 1135.0 1415.1C1140.9 1415.0 1147.0 1415.6 1152.7 1416.9C1158.4 1418.3 1164.1 1420.4 1169.3 1423.0C1174.5 1425.7 1181.5 1431.3 1184.0 1433.0" stroke="#9a9a9a" stroke-width="2.7" stroke-opacity="0.81"/>
<path d="M1098.9 1399.1C1101.7 1398.8 1109.9 1397.3 1115.4 1397.2C1120.9 1397.1 1126.5 1397.5 1131.9 1398.4C1137.3 1399.4 1142.8 1400.8 1147.9 1402.8C1153.1 1404.7 1158.1 1407.2 1162.8 1410.1C1167.5 1413.0 1172.0 1416.4 1176.0 1420.1C1180.1 1423.8 1185.3 1430.3 1187.1 1432.4" stroke="#868686" stroke-width="2.4" stroke-opacity="0.82"/>
<path d="M1092.8 1402.7C1096.9 1402.0 1109.3 1399.0 1117.7 1398.4C1126.0 1397.8 1134.6 1398.1 1142.9 1399.2C1151.2 1400.4 1159.6 1402.4 1167.5 1405.3C1175.3 1408.1 1183.1 1411.8 1190.2 1416.2C1197.4 1420.6 1204.2 1425.9 1210.3 1431.6C1216.3 1437.4 1223.9 1447.6 1226.7 1450.8" stroke="#9a9a9a" stroke-width="2.3" stroke-opacity="0.87"/>
<path d="M1084.2 1442.1C1088.3 1441.9 1100.7 1440.4 1108.8 1441.2C1116.9 1441.9 1125.1 1443.7 1132.8 1446.5C1140.4 1449.2 1148.0 1453.1 1154.7 1457.7C1161.4 1462.3 1167.8 1467.9 1173.1 1474.0C1178.4 1480.2 1183.1 1487.2 1186.8 1494.5C1190.4 1501.8 1193.5 1513.9 1194.8 1517.8" stroke="#8f8f8f" stroke-width="2.0" stroke-opacity="0.75"/>
</g>
<path d="M912 1335 Q 925 1298 985 1295 Q 1070 1290 1094 1318 L 1103 1440 L 1098 1498 L 918 1498 L 912 1440 Z" fill="#707070" opacity="0.92" filter="url(#big)"/>
<path d="M922 1345 Q 935 1312 985 1308 Q 1060 1303 1086 1328 L 1094 1440 L 1090 1490 L 928 1490 L 922 1440 Z" fill="#6c6c6c" opacity="0.7" filter="url(#ph2)"/>
<g fill="none" stroke-linecap="round" stroke-linejoin="round">
<path d="M1028.2 1427.1C1029.1 1422.1 1032.2 1407.1 1034.1 1397.1C1035.9 1387.1 1037.7 1377.1 1039.3 1367.1C1040.9 1357.0 1042.4 1347.0 1043.8 1336.9C1045.2 1326.8 1047.0 1311.7 1047.6 1306.6" stroke="#9f9f9f" stroke-width="2.6" stroke-opacity="0.97"/>
<path d="M1001.5 1494.1C1001.3 1489.8 1001.0 1477.0 1000.1 1468.6C999.2 1460.1 997.9 1451.7 996.3 1443.4C994.6 1435.1 992.5 1426.8 990.0 1418.7C987.5 1410.5 982.8 1398.7 981.3 1394.7" stroke="#727272" stroke-width="3.5" stroke-opacity="0.64"/>
<path d="M994.4 1427.2C995.3 1419.1 997.0 1394.4 1000.2 1378.3C1003.5 1362.2 1008.0 1346.3 1013.6 1330.9C1019.3 1315.5 1026.2 1300.4 1034.2 1286.1C1042.1 1271.8 1056.9 1251.9 1061.4 1245.1" stroke="#6c6c6c" stroke-width="3.0" stroke-opacity="0.74"/>
<path d="M1030.8 1432.9C1030.6 1427.2 1030.4 1410.1 1029.8 1398.8C1029.2 1387.4 1028.3 1376.1 1027.2 1364.8C1026.0 1353.5 1024.5 1342.2 1022.7 1331.0C1021.0 1319.8 1017.6 1303.1 1016.6 1297.5" stroke="#6e6e6e" stroke-width="2.3" stroke-opacity="0.85"/>
<path d="M1068.2 1471.2C1066.6 1465.6 1062.2 1448.7 1058.8 1437.6C1055.4 1426.5 1051.8 1415.5 1047.9 1404.5C1044.0 1393.6 1039.8 1382.7 1035.4 1372.0C1031.0 1361.2 1023.7 1345.4 1021.4 1340.1" stroke="#a1a1a1" stroke-width="4.3" stroke-opacity="0.69"/>
<path d="M1052.8 1485.8C1053.4 1481.2 1055.4 1467.5 1056.4 1458.3C1057.3 1449.1 1058.0 1439.9 1058.5 1430.6C1059.0 1421.4 1059.3 1412.1 1059.3 1402.9C1059.3 1393.7 1058.8 1379.8 1058.7 1375.2" stroke="#656565" stroke-width="2.5" stroke-opacity="0.70"/>
<path d="M1050.2 1444.5C1052.3 1439.7 1058.1 1425.2 1062.9 1415.9C1067.6 1406.7 1072.8 1397.6 1078.5 1388.9C1084.2 1380.2 1090.3 1371.8 1096.9 1363.8C1103.5 1355.7 1114.5 1344.6 1118.0 1340.7" stroke="#9c9c9c" stroke-width="4.1" stroke-opacity="0.64"/>
<path d="M1021.7 1451.8C1021.7 1445.1 1022.3 1424.9 1021.7 1411.4C1021.1 1398.0 1020.0 1384.5 1018.2 1371.2C1016.5 1357.8 1014.2 1344.5 1011.3 1331.4C1008.5 1318.2 1002.8 1298.8 1001.1 1292.3" stroke="#5d5d5d" stroke-width="4.1" stroke-opacity="0.79"/>
<path d="M922.4 1482.1C919.6 1477.4 912.0 1462.6 905.8 1453.5C899.6 1444.4 892.6 1435.6 885.2 1427.5C877.8 1419.4 869.7 1411.7 861.2 1404.7C852.7 1397.7 838.7 1388.7 834.2 1385.5" stroke="#515151" stroke-width="4.6" stroke-opacity="0.97"/>
<path d="M935.3 1429.6C935.6 1422.6 936.5 1401.4 936.7 1387.3C936.9 1373.2 936.9 1359.1 936.7 1345.0C936.4 1330.8 936.0 1316.7 935.2 1302.6C934.5 1288.5 932.9 1267.4 932.4 1260.4" stroke="#767676" stroke-width="2.7" stroke-opacity="0.75"/>
<path d="M1033.4 1428.1C1034.3 1423.3 1036.5 1408.8 1038.7 1399.4C1041.0 1389.9 1043.7 1380.5 1046.8 1371.3C1050.0 1362.1 1053.6 1353.1 1057.6 1344.2C1061.7 1335.4 1068.8 1322.6 1071.0 1318.3" stroke="#565656" stroke-width="3.4" stroke-opacity="0.61"/>
<path d="M1080.6 1485.1C1079.5 1478.9 1077.3 1459.9 1073.9 1447.8C1070.5 1435.6 1065.9 1423.6 1060.3 1412.3C1054.7 1401.1 1047.9 1390.1 1040.2 1380.1C1032.6 1370.1 1018.7 1356.9 1014.4 1352.3" stroke="#7b7b7b" stroke-width="4.1" stroke-opacity="0.70"/>
<path d="M1083.9 1480.8C1083.7 1475.7 1084.3 1460.3 1083.2 1450.2C1082.1 1440.0 1080.0 1429.8 1077.1 1420.1C1074.1 1410.3 1070.2 1400.7 1065.6 1391.6C1061.0 1382.6 1052.0 1370.0 1049.2 1365.7" stroke="#848484" stroke-width="4.0" stroke-opacity="0.76"/>
<path d="M1049.5 1430.3C1049.7 1427.3 1049.9 1418.4 1050.5 1412.5C1051.1 1406.6 1052.0 1400.7 1053.2 1394.8C1054.3 1389.0 1055.8 1383.2 1057.5 1377.5C1059.2 1371.8 1062.4 1363.5 1063.4 1360.7" stroke="#555555" stroke-width="2.9" stroke-opacity="0.98"/>
<path d="M972.4 1441.2C972.1 1437.9 970.9 1427.9 970.4 1421.3C969.9 1414.7 969.4 1408.0 969.1 1401.4C968.8 1394.7 968.6 1388.0 968.5 1381.4C968.4 1374.7 968.6 1364.7 968.6 1361.4" stroke="#5a5a5a" stroke-width="4.0" stroke-opacity="0.99"/>
<path d="M922.2 1471.2C921.1 1466.2 918.3 1451.1 915.8 1441.3C913.4 1431.4 910.5 1421.6 907.3 1411.9C904.0 1402.3 900.4 1392.7 896.4 1383.4C892.5 1374.0 885.6 1360.3 883.5 1355.7" stroke="#4d4d4d" stroke-width="2.8" stroke-opacity="0.71"/>
<path d="M980.0 1465.5C978.9 1458.1 975.2 1435.9 973.5 1421.0C971.8 1406.1 970.5 1391.1 969.7 1376.2C968.9 1361.2 968.5 1346.2 968.6 1331.2C968.7 1316.2 970.0 1293.7 970.3 1286.2" stroke="#a5a5a5" stroke-width="3.6" stroke-opacity="0.90"/>
<path d="M926.2 1494.8C926.5 1490.9 927.0 1479.4 927.9 1471.8C928.9 1464.2 930.2 1456.6 931.9 1449.2C933.5 1441.7 935.5 1434.3 937.9 1427.0C940.3 1419.7 944.7 1409.1 946.0 1405.5" stroke="#7b7b7b" stroke-width="3.2" stroke-opacity="0.81"/>
<path d="M1026.8 1452.4C1027.5 1446.5 1028.8 1428.6 1031.0 1416.9C1033.2 1405.3 1036.3 1393.6 1040.1 1382.4C1044.0 1371.2 1048.7 1360.1 1054.1 1349.5C1059.5 1339.0 1069.5 1324.1 1072.6 1319.0" stroke="#535353" stroke-width="4.1" stroke-opacity="0.83"/>
<path d="M1033.2 1455.7C1033.1 1451.0 1033.1 1437.2 1032.8 1427.9C1032.5 1418.7 1032.1 1409.4 1031.5 1400.2C1031.0 1391.0 1030.3 1381.8 1029.4 1372.5C1028.6 1363.3 1027.0 1349.6 1026.5 1345.0" stroke="#7a7a7a" stroke-width="2.4" stroke-opacity="0.96"/>
<path d="M996.2 1460.8C996.7 1455.1 998.3 1437.9 999.2 1426.4C1000.2 1415.0 1001.0 1403.5 1001.8 1392.0C1002.6 1380.6 1003.4 1369.1 1004.0 1357.6C1004.7 1346.1 1005.5 1328.9 1005.8 1323.1" stroke="#666666" stroke-width="3.6" stroke-opacity="0.65"/>
<path d="M1031.6 1459.2C1032.1 1453.4 1033.3 1436.1 1034.4 1424.6C1035.5 1413.1 1036.8 1401.6 1038.2 1390.2C1039.7 1378.7 1041.3 1367.3 1043.2 1355.9C1045.0 1344.5 1048.2 1327.4 1049.2 1321.7" stroke="#767676" stroke-width="3.6" stroke-opacity="0.86"/>
<path d="M1042.1 1452.3C1041.6 1448.7 1040.6 1437.7 1038.9 1430.6C1037.2 1423.5 1034.8 1416.5 1031.8 1409.8C1028.8 1403.2 1025.2 1396.7 1021.0 1390.7C1016.9 1384.7 1009.3 1376.7 1006.9 1373.9" stroke="#9f9f9f" stroke-width="4.3" stroke-opacity="0.91"/>
<path d="M1031.7 1451.9C1032.6 1446.0 1034.5 1428.1 1037.2 1416.5C1039.9 1404.9 1043.5 1393.3 1047.8 1382.3C1052.2 1371.2 1057.5 1360.3 1063.5 1350.0C1069.5 1339.7 1080.5 1325.4 1083.9 1320.5" stroke="#5c5c5c" stroke-width="4.5" stroke-opacity="0.80"/>
<path d="M1036.8 1439.7C1036.3 1436.8 1035.1 1427.9 1033.7 1422.2C1032.2 1416.4 1030.4 1410.7 1028.3 1405.2C1026.1 1399.7 1023.6 1394.3 1020.8 1389.1C1017.9 1383.9 1012.8 1376.5 1011.2 1374.0" stroke="#535353" stroke-width="3.5" stroke-opacity="0.63"/>
<path d="M933.7 1475.7C932.0 1471.1 926.9 1457.2 923.2 1448.0C919.4 1438.9 915.5 1429.8 911.4 1420.9C907.2 1411.9 902.9 1403.0 898.4 1394.2C893.9 1385.4 886.6 1372.5 884.3 1368.2" stroke="#999999" stroke-width="2.5" stroke-opacity="0.95"/>
<path d="M1064.0 1458.5C1064.3 1451.5 1066.4 1430.2 1065.8 1416.1C1065.2 1402.0 1063.3 1387.7 1060.3 1374.0C1057.3 1360.2 1053.0 1346.5 1047.7 1333.4C1042.4 1320.3 1031.6 1301.9 1028.3 1295.6" stroke="#585858" stroke-width="3.1" stroke-opacity="0.86"/>
<path d="M1098.0 1449.4C1096.7 1441.6 1092.9 1418.2 1089.8 1402.7C1086.7 1387.2 1083.2 1371.8 1079.3 1356.4C1075.4 1341.1 1071.1 1325.9 1066.5 1310.8C1061.9 1295.7 1053.9 1273.3 1051.4 1265.8" stroke="#737373" stroke-width="2.4" stroke-opacity="0.63"/>
<path d="M1020.7 1461.4C1019.9 1454.3 1018.0 1433.0 1015.9 1418.9C1013.7 1404.9 1011.1 1390.8 1007.8 1377.0C1004.6 1363.1 1000.8 1349.4 996.5 1335.8C992.3 1322.2 984.5 1302.3 982.1 1295.6" stroke="#4e4e4e" stroke-width="3.9" stroke-opacity="0.80"/>
<path d="M1057.1 1449.6C1057.8 1443.2 1060.1 1423.9 1061.2 1411.0C1062.2 1398.0 1063.0 1385.1 1063.4 1372.2C1063.8 1359.2 1064.0 1346.2 1063.8 1333.3C1063.6 1320.3 1062.6 1300.9 1062.4 1294.5" stroke="#858585" stroke-width="3.6" stroke-opacity="0.97"/>
<path d="M1089.1 1493.5C1088.7 1489.0 1087.2 1475.3 1086.8 1466.2C1086.4 1457.1 1086.2 1447.9 1086.4 1438.8C1086.6 1429.7 1087.1 1420.5 1087.9 1411.4C1088.7 1402.3 1090.7 1388.8 1091.3 1384.2" stroke="#b1b1b1" stroke-width="2.8" stroke-opacity="0.74"/>
<path d="M984.5 1452.2C984.1 1448.3 982.7 1436.5 982.2 1428.5C981.6 1420.6 981.3 1412.7 981.3 1404.7C981.2 1396.8 981.4 1388.8 981.8 1380.9C982.2 1372.9 983.4 1361.1 983.8 1357.1" stroke="#a1a1a1" stroke-width="3.6" stroke-opacity="0.67"/>
<path d="M1056.1 1491.1C1056.6 1485.4 1057.9 1468.3 1059.0 1456.9C1060.0 1445.6 1061.2 1434.2 1062.5 1422.9C1063.8 1411.5 1065.2 1400.2 1066.8 1388.9C1068.3 1377.5 1070.9 1360.6 1071.7 1355.0" stroke="#b2b2b2" stroke-width="4.2" stroke-opacity="0.77"/>
<path d="M1023.9 1447.9C1023.3 1443.6 1021.6 1430.5 1020.2 1421.8C1018.9 1413.1 1017.4 1404.4 1015.8 1395.8C1014.3 1387.1 1012.6 1378.5 1010.8 1369.8C1009.0 1361.2 1006.0 1348.4 1005.1 1344.1" stroke="#8d8d8d" stroke-width="2.5" stroke-opacity="0.90"/>
<path d="M1036.1 1443.4C1037.6 1437.9 1041.1 1420.9 1044.9 1410.1C1048.7 1399.3 1053.5 1388.7 1059.1 1378.7C1064.7 1368.7 1071.2 1359.1 1078.4 1350.1C1085.5 1341.2 1098.1 1329.3 1102.1 1325.2" stroke="#747474" stroke-width="3.8" stroke-opacity="0.80"/>
<path d="M1015.8 1479.1C1014.3 1474.2 1010.8 1459.0 1006.8 1449.6C1002.8 1440.2 997.7 1431.0 991.8 1422.6C985.8 1414.3 978.9 1406.4 971.3 1399.5C963.8 1392.7 950.6 1384.4 946.4 1381.3" stroke="#7d7d7d" stroke-width="4.2" stroke-opacity="0.96"/>
<path d="M1092.3 1473.0C1091.2 1465.8 1088.1 1444.3 1085.7 1429.9C1083.4 1415.6 1080.8 1401.3 1078.1 1387.0C1075.4 1372.8 1072.5 1358.5 1069.5 1344.3C1066.5 1330.1 1061.5 1308.9 1059.9 1301.8" stroke="#919191" stroke-width="2.6" stroke-opacity="0.85"/>
<path d="M1042.5 1449.1C1042.4 1444.7 1041.8 1431.5 1041.9 1422.7C1042.0 1413.9 1042.5 1405.1 1043.4 1396.3C1044.2 1387.5 1045.4 1378.8 1046.9 1370.1C1048.4 1361.5 1051.6 1348.6 1052.5 1344.3" stroke="#777777" stroke-width="3.8" stroke-opacity="0.91"/>
<path d="M950.7 1429.7C948.7 1422.1 942.6 1399.4 938.9 1384.1C935.2 1368.9 931.8 1353.6 928.7 1338.2C925.5 1322.8 922.6 1307.4 920.0 1291.9C917.4 1276.5 914.1 1253.2 912.9 1245.4" stroke="#4d4d4d" stroke-width="3.6" stroke-opacity="0.84"/>
<path d="M1003.9 1463.1C1002.6 1458.2 998.5 1443.5 996.4 1433.5C994.3 1423.5 992.5 1413.5 991.2 1403.4C989.8 1393.3 988.8 1383.1 988.3 1372.9C987.7 1362.8 987.7 1347.4 987.6 1342.3" stroke="#a5a5a5" stroke-width="3.4" stroke-opacity="0.70"/>
<path d="M1079.5 1493.6C1080.3 1485.5 1081.8 1461.2 1084.2 1445.2C1086.7 1429.2 1089.9 1413.2 1094.0 1397.6C1098.1 1381.9 1103.1 1366.4 1108.8 1351.3C1114.5 1336.1 1125.1 1314.2 1128.3 1306.8" stroke="#595959" stroke-width="4.1" stroke-opacity="0.75"/>
<path d="M1014.0 1463.7C1015.5 1457.4 1018.2 1437.8 1023.1 1425.9C1027.9 1414.0 1034.8 1402.4 1042.9 1392.4C1051.0 1382.5 1061.0 1373.4 1071.7 1366.4C1082.4 1359.3 1101.1 1352.8 1107.0 1350.0" stroke="#686868" stroke-width="3.3" stroke-opacity="0.70"/>
<path d="M994.7 1490.6C994.1 1487.0 991.9 1476.1 991.0 1468.7C990.0 1461.4 989.4 1454.0 989.1 1446.6C988.8 1439.2 988.9 1431.8 989.2 1424.4C989.6 1417.0 990.9 1406.0 991.2 1402.3" stroke="#919191" stroke-width="4.6" stroke-opacity="0.71"/>
<path d="M1015.3 1436.3C1015.3 1428.9 1015.5 1406.8 1015.6 1392.1C1015.6 1377.4 1015.6 1362.6 1015.6 1347.9C1015.6 1333.2 1015.5 1318.4 1015.4 1303.7C1015.3 1289.0 1015.1 1266.9 1015.0 1259.5" stroke="#828282" stroke-width="3.7" stroke-opacity="0.81"/>
<path d="M1079.9 1477.0C1082.3 1471.7 1089.0 1455.4 1094.1 1444.9C1099.3 1434.4 1104.9 1424.0 1110.9 1414.0C1117.0 1403.9 1123.4 1394.1 1130.3 1384.6C1137.1 1375.1 1148.3 1361.5 1151.9 1356.9" stroke="#5a5a5a" stroke-width="4.4" stroke-opacity="0.64"/>
<path d="M1068.4 1440.6C1067.9 1436.9 1066.5 1425.7 1065.4 1418.2C1064.2 1410.8 1063.0 1403.3 1061.6 1395.9C1060.2 1388.5 1058.7 1381.1 1057.1 1373.7C1055.4 1366.4 1052.7 1355.4 1051.8 1351.7" stroke="#636363" stroke-width="3.5" stroke-opacity="1.00"/>
<path d="M1039.4 1430.0C1040.4 1423.6 1043.1 1404.2 1045.2 1391.3C1047.3 1378.4 1049.6 1365.5 1052.0 1352.6C1054.4 1339.8 1056.9 1327.0 1059.7 1314.2C1062.4 1301.4 1066.9 1282.4 1068.3 1276.0" stroke="#5e5e5e" stroke-width="3.8" stroke-opacity="0.60"/>
<path d="M986.6 1478.3C987.3 1472.9 988.4 1456.7 990.3 1446.1C992.2 1435.5 994.9 1424.9 998.1 1414.6C1001.4 1404.4 1005.3 1394.2 1009.9 1384.5C1014.4 1374.7 1022.8 1360.8 1025.4 1356.0" stroke="#4c4c4c" stroke-width="4.4" stroke-opacity="0.66"/>
<path d="M1032.3 1495.3C1030.8 1488.5 1027.9 1467.4 1023.3 1454.2C1018.7 1441.1 1012.3 1428.2 1004.6 1416.6C996.9 1405.0 987.4 1394.1 977.1 1384.8C966.8 1375.4 948.5 1364.6 942.7 1360.6" stroke="#6a6a6a" stroke-width="4.0" stroke-opacity="0.73"/>
<path d="M1090.0 1467.2C1090.0 1459.8 1090.8 1437.6 1090.2 1422.8C1089.6 1408.1 1088.4 1393.3 1086.5 1378.6C1084.6 1364.0 1082.1 1349.3 1078.9 1334.9C1075.7 1320.5 1069.4 1299.2 1067.5 1292.0" stroke="#8f8f8f" stroke-width="3.7" stroke-opacity="0.67"/>
<path d="M953.2 1427.7C952.2 1424.4 949.1 1414.5 947.3 1407.8C945.5 1401.1 943.8 1394.4 942.2 1387.7C940.6 1381.0 939.1 1374.2 937.8 1367.4C936.4 1360.6 934.7 1350.4 934.1 1347.0" stroke="#4c4c4c" stroke-width="3.0" stroke-opacity="0.93"/>
<path d="M1086.7 1435.4C1088.0 1428.9 1091.4 1409.2 1094.3 1396.2C1097.2 1383.2 1100.5 1370.3 1104.1 1357.4C1107.7 1344.6 1111.6 1331.9 1115.9 1319.3C1120.2 1306.6 1127.5 1288.0 1129.8 1281.8" stroke="#a4a4a4" stroke-width="3.2" stroke-opacity="0.88"/>
<path d="M1096.7 1484.2C1096.4 1481.2 1095.8 1472.2 1094.8 1466.2C1093.8 1460.3 1092.5 1454.4 1090.8 1448.6C1089.1 1442.8 1087.1 1437.0 1084.8 1431.5C1082.5 1425.9 1078.2 1417.9 1076.9 1415.2" stroke="#555555" stroke-width="3.5" stroke-opacity="0.68"/>
<path d="M978.6 1447.0C979.6 1442.9 982.5 1430.3 985.1 1422.1C987.6 1413.9 990.6 1405.8 993.9 1397.9C997.2 1390.0 1000.9 1382.2 1005.0 1374.7C1009.0 1367.1 1016.0 1356.3 1018.2 1352.6" stroke="#959595" stroke-width="3.4" stroke-opacity="0.66"/>
<path d="M1047.8 1499.0C1046.3 1491.7 1041.7 1469.9 1038.5 1455.3C1035.2 1440.8 1031.9 1426.3 1028.4 1411.8C1024.9 1397.4 1021.4 1382.9 1017.7 1368.5C1014.0 1354.1 1008.1 1332.5 1006.2 1325.3" stroke="#515151" stroke-width="4.1" stroke-opacity="0.65"/>
<path d="M1005.0 1456.3C1005.0 1448.7 1004.6 1425.7 1004.9 1410.5C1005.2 1395.2 1005.7 1379.9 1006.6 1364.6C1007.4 1349.4 1008.6 1334.1 1010.0 1318.9C1011.4 1303.7 1014.3 1280.9 1015.1 1273.3" stroke="#9e9e9e" stroke-width="2.5" stroke-opacity="0.96"/>
<path d="M1016.9 1467.1C1015.9 1459.3 1013.0 1435.9 1010.7 1420.4C1008.4 1404.9 1005.8 1389.4 1003.1 1374.0C1000.3 1358.5 997.4 1343.1 994.2 1327.8C991.0 1312.4 985.6 1289.5 983.9 1281.9" stroke="#676767" stroke-width="4.4" stroke-opacity="0.60"/>
<path d="M1042.7 1452.3C1042.5 1448.5 1042.5 1437.0 1041.8 1429.4C1041.2 1421.8 1040.2 1414.2 1038.8 1406.7C1037.4 1399.2 1035.7 1391.7 1033.7 1384.4C1031.6 1377.1 1027.6 1366.3 1026.4 1362.7" stroke="#818181" stroke-width="2.6" stroke-opacity="0.99"/>
<path d="M1089.0 1474.4C1090.2 1467.6 1092.7 1446.9 1096.0 1433.5C1099.3 1420.1 1103.6 1406.8 1108.7 1394.0C1113.8 1381.2 1119.9 1368.6 1126.7 1356.7C1133.5 1344.7 1145.9 1327.9 1149.7 1322.2" stroke="#565656" stroke-width="2.6" stroke-opacity="0.76"/>
<path d="M924.0 1464.6C924.3 1459.9 925.0 1445.6 926.0 1436.2C927.0 1426.8 928.3 1417.4 929.9 1408.1C931.5 1398.7 933.5 1389.4 935.8 1380.3C938.0 1371.1 942.2 1357.5 943.5 1352.9" stroke="#4f4f4f" stroke-width="3.7" stroke-opacity="0.62"/>
<path d="M1040.1 1435.9C1041.3 1430.5 1045.1 1414.6 1047.3 1403.9C1049.5 1393.2 1051.6 1382.4 1053.4 1371.7C1055.3 1360.9 1056.9 1350.1 1058.4 1339.3C1059.9 1328.5 1061.6 1312.2 1062.3 1306.8" stroke="#7b7b7b" stroke-width="4.0" stroke-opacity="0.79"/>
<path d="M1099.0 1487.9C1099.8 1482.7 1102.6 1467.1 1103.7 1456.6C1104.9 1446.2 1105.6 1435.6 1105.9 1425.1C1106.2 1414.6 1106.1 1404.0 1105.5 1393.5C1104.9 1383.0 1103.0 1367.3 1102.6 1362.0" stroke="#a1a1a1" stroke-width="3.4" stroke-opacity="0.77"/>
<path d="M922.4 1493.0C922.1 1487.8 920.6 1472.0 920.7 1461.5C920.9 1451.0 921.7 1440.4 923.3 1430.0C924.8 1419.6 927.0 1409.3 929.9 1399.2C932.8 1389.1 938.8 1374.4 940.6 1369.4" stroke="#ababab" stroke-width="4.3" stroke-opacity="0.70"/>
<path d="M1071.7 1443.2C1072.8 1437.8 1077.1 1421.7 1078.2 1410.9C1079.3 1400.0 1079.4 1388.8 1078.4 1377.9C1077.4 1367.0 1075.4 1356.0 1072.3 1345.5C1069.3 1335.0 1062.2 1320.0 1060.2 1314.9" stroke="#a1a1a1" stroke-width="3.1" stroke-opacity="0.69"/>
<path d="M930.5 1493.3C931.1 1485.8 933.4 1463.0 934.6 1447.9C935.7 1432.7 936.6 1417.5 937.2 1402.3C937.9 1387.1 938.3 1371.9 938.5 1356.6C938.7 1341.4 938.4 1318.6 938.4 1311.0" stroke="#949494" stroke-width="3.2" stroke-opacity="0.65"/>
<path d="M931.1 1464.0C932.7 1458.2 936.6 1440.4 940.6 1429.0C944.7 1417.7 949.6 1406.5 955.3 1395.9C961.0 1385.3 967.6 1375.1 974.8 1365.4C982.1 1355.8 994.7 1342.7 998.7 1338.2" stroke="#585858" stroke-width="3.0" stroke-opacity="0.63"/>
<path d="M1080.9 1486.2C1081.2 1480.1 1081.6 1461.8 1082.4 1449.7C1083.2 1437.5 1084.4 1425.4 1085.9 1413.3C1087.5 1401.2 1089.3 1389.2 1091.5 1377.2C1093.7 1365.2 1097.9 1347.4 1099.2 1341.5" stroke="#686868" stroke-width="3.0" stroke-opacity="0.66"/>
<path d="M1059.4 1483.2C1060.1 1475.7 1062.9 1453.2 1064.1 1438.1C1065.3 1423.0 1066.2 1407.9 1066.8 1392.7C1067.3 1377.6 1067.5 1362.5 1067.3 1347.3C1067.1 1332.2 1066.0 1309.5 1065.7 1301.9" stroke="#696969" stroke-width="4.4" stroke-opacity="0.61"/>
<path d="M1033.6 1477.3C1032.8 1473.2 1030.6 1460.8 1028.8 1452.6C1027.0 1444.4 1025.1 1436.3 1022.9 1428.2C1020.7 1420.1 1018.4 1412.0 1015.9 1404.0C1013.3 1396.0 1009.1 1384.1 1007.7 1380.2" stroke="#878787" stroke-width="3.9" stroke-opacity="0.73"/>
<path d="M1081.9 1490.2C1082.1 1483.5 1083.1 1463.5 1083.2 1450.1C1083.3 1436.8 1083.0 1423.4 1082.4 1410.0C1081.8 1396.7 1080.9 1383.3 1079.6 1370.0C1078.3 1356.7 1075.4 1336.8 1074.6 1330.2" stroke="#666666" stroke-width="4.3" stroke-opacity="0.65"/>
<path d="M1043.8 1445.2C1043.3 1440.7 1042.5 1427.1 1041.1 1418.2C1039.7 1409.3 1037.7 1400.4 1035.3 1391.7C1032.8 1383.0 1029.9 1374.4 1026.4 1366.1C1023.0 1357.8 1016.7 1345.7 1014.7 1341.7" stroke="#535353" stroke-width="3.6" stroke-opacity="0.69"/>
<path d="M972.8 1494.5C971.6 1488.2 968.5 1469.3 965.8 1456.9C963.0 1444.4 959.8 1432.0 956.1 1419.8C952.5 1407.6 948.4 1395.4 943.9 1383.5C939.5 1371.5 931.7 1354.0 929.2 1348.1" stroke="#9d9d9d" stroke-width="2.4" stroke-opacity="0.96"/>
<path d="M919.3 1469.0C917.4 1463.3 912.0 1446.1 908.1 1434.8C904.3 1423.4 900.3 1412.1 896.2 1400.8C892.1 1389.6 887.8 1378.4 883.4 1367.2C879.0 1356.1 872.1 1339.5 869.8 1333.9" stroke="#505050" stroke-width="2.9" stroke-opacity="0.82"/>
<path d="M951.9 1492.3C951.7 1486.9 951.1 1470.6 950.6 1459.8C950.2 1449.0 949.7 1438.2 949.2 1427.3C948.8 1416.5 948.3 1405.7 947.8 1394.9C947.3 1384.0 946.5 1367.8 946.3 1362.4" stroke="#747474" stroke-width="2.3" stroke-opacity="0.63"/>
<path d="M1059.4 1493.2C1059.7 1490.2 1060.3 1480.9 1061.2 1474.8C1062.1 1468.7 1063.4 1462.6 1064.9 1456.6C1066.4 1450.6 1068.3 1444.7 1070.5 1438.9C1072.6 1433.2 1076.6 1424.8 1077.9 1421.9" stroke="#a5a5a5" stroke-width="4.0" stroke-opacity="0.81"/>
<path d="M1026.1 1482.8C1027.5 1476.5 1031.5 1457.2 1034.9 1444.6C1038.2 1432.0 1042.0 1419.4 1046.2 1407.1C1050.5 1394.7 1055.1 1382.5 1060.2 1370.4C1065.3 1358.4 1073.9 1340.8 1076.7 1334.8" stroke="#a8a8a8" stroke-width="2.8" stroke-opacity="0.80"/>
<path d="M958.3 1468.5C957.6 1462.4 955.5 1444.1 954.1 1431.8C952.7 1419.6 951.3 1407.4 949.9 1395.2C948.5 1383.0 947.1 1370.7 945.7 1358.5C944.3 1346.3 942.2 1328.0 941.5 1321.9" stroke="#606060" stroke-width="3.0" stroke-opacity="0.84"/>
<path d="M1028.8 1485.5C1027.0 1478.1 1021.9 1456.0 1018.4 1441.3C1014.9 1426.6 1011.4 1411.9 1007.9 1397.2C1004.3 1382.5 1000.8 1367.8 997.2 1353.2C993.6 1338.5 988.2 1316.5 986.3 1309.1" stroke="#939393" stroke-width="3.5" stroke-opacity="0.92"/>
<path d="M961.3 1436.0C961.0 1431.4 960.1 1417.5 959.7 1408.3C959.3 1399.1 959.1 1389.8 958.9 1380.6C958.8 1371.4 958.7 1362.1 958.8 1352.9C958.9 1343.6 959.4 1329.8 959.5 1325.2" stroke="#969696" stroke-width="3.4" stroke-opacity="0.86"/>
<path d="M1010.9 1453.4C1011.7 1447.0 1013.4 1427.5 1015.7 1414.8C1018.1 1402.1 1021.2 1389.4 1025.0 1377.0C1028.8 1364.6 1033.4 1352.4 1038.6 1340.5C1043.9 1328.7 1053.5 1311.7 1056.4 1305.9" stroke="#767676" stroke-width="3.1" stroke-opacity="0.69"/>
<path d="M1094.6 1428.2C1093.5 1420.0 1090.1 1395.4 1088.0 1379.1C1085.8 1362.7 1083.8 1346.3 1081.8 1329.9C1079.9 1313.5 1078.0 1297.1 1076.2 1280.7C1074.4 1264.2 1072.0 1239.6 1071.2 1231.4" stroke="#505050" stroke-width="2.2" stroke-opacity="0.76"/>
<path d="M1013.7 1431.9C1012.1 1424.0 1007.6 1400.5 1004.1 1384.9C1000.6 1369.3 996.8 1353.8 992.7 1338.4C988.6 1322.9 984.3 1307.6 979.6 1292.3C974.9 1277.1 967.1 1254.4 964.6 1246.8" stroke="#a8a8a8" stroke-width="3.7" stroke-opacity="0.72"/>
<path d="M939.6 1489.2C939.1 1485.0 937.3 1472.7 936.3 1464.5C935.2 1456.3 934.3 1448.0 933.4 1439.8C932.5 1431.5 931.7 1423.3 931.1 1415.0C930.4 1406.7 929.5 1394.3 929.2 1390.2" stroke="#545454" stroke-width="2.3" stroke-opacity="0.76"/>
<path d="M1036.3 1429.4C1036.5 1421.8 1036.3 1398.9 1037.7 1383.8C1039.2 1368.7 1041.7 1353.6 1045.0 1338.8C1048.4 1324.0 1052.8 1309.3 1058.1 1295.1C1063.3 1280.9 1073.5 1260.4 1076.5 1253.4" stroke="#848484" stroke-width="4.4" stroke-opacity="0.69"/>
<path d="M986.9 1428.7C986.2 1421.5 983.8 1400.0 982.7 1385.6C981.5 1371.2 980.7 1356.8 980.0 1342.4C979.4 1328.0 979.1 1313.6 979.0 1299.2C978.9 1284.7 979.4 1263.1 979.5 1255.9" stroke="#9c9c9c" stroke-width="3.3" stroke-opacity="0.72"/>
<path d="M999.4 1499.5C998.1 1495.7 994.8 1484.0 991.6 1476.6C988.3 1469.3 984.3 1462.2 979.8 1455.6C975.3 1448.9 970.1 1442.6 964.4 1436.9C958.8 1431.2 949.1 1423.9 946.0 1421.3" stroke="#6a6a6a" stroke-width="4.5" stroke-opacity="0.85"/>
<path d="M1012.4 1480.6C1011.1 1474.3 1007.1 1455.4 1004.4 1442.9C1001.6 1430.3 998.8 1417.7 996.0 1405.2C993.1 1392.6 990.2 1380.1 987.2 1367.6C984.2 1355.1 979.5 1336.3 978.0 1330.1" stroke="#8e8e8e" stroke-width="4.4" stroke-opacity="0.74"/>
<path d="M1057.4 1479.3C1057.8 1474.6 1059.0 1460.7 1059.8 1451.4C1060.5 1442.1 1061.2 1432.8 1061.9 1423.5C1062.5 1414.2 1063.1 1404.9 1063.7 1395.6C1064.2 1386.3 1064.9 1372.3 1065.1 1367.7" stroke="#6a6a6a" stroke-width="2.8" stroke-opacity="0.95"/>
<path d="M1039.8 1447.7C1039.1 1443.8 1037.4 1432.1 1035.8 1424.4C1034.1 1416.7 1032.2 1409.1 1030.1 1401.5C1027.9 1394.0 1025.4 1386.5 1022.7 1379.1C1020.0 1371.7 1015.3 1360.9 1013.8 1357.2" stroke="#6c6c6c" stroke-width="3.2" stroke-opacity="0.82"/>
<path d="M942.8 1478.0C943.1 1471.5 943.0 1451.8 944.7 1438.9C946.4 1426.0 949.2 1413.1 952.9 1400.6C956.7 1388.2 961.5 1375.8 967.1 1364.1C972.8 1352.4 983.7 1336.0 987.0 1330.4" stroke="#979797" stroke-width="3.3" stroke-opacity="0.65"/>
<path d="M1012.1 1451.7C1013.2 1445.6 1016.3 1427.1 1019.0 1415.0C1021.7 1402.8 1024.7 1390.7 1028.0 1378.7C1031.4 1366.7 1035.1 1354.8 1039.2 1343.0C1043.2 1331.2 1050.1 1313.9 1052.3 1308.1" stroke="#838383" stroke-width="3.6" stroke-opacity="0.92"/>
<path d="M1095.6 1447.4C1094.6 1443.4 1092.4 1431.2 1089.6 1423.6C1086.9 1415.9 1083.4 1408.4 1079.2 1401.4C1075.0 1394.4 1070.1 1387.7 1064.6 1381.7C1059.1 1375.6 1049.5 1367.9 1046.4 1365.2" stroke="#7d7d7d" stroke-width="2.8" stroke-opacity="0.85"/>
<path d="M934.4 1457.1C933.7 1452.1 931.7 1437.3 930.6 1427.4C929.4 1417.4 928.4 1407.5 927.4 1397.6C926.5 1387.6 925.7 1377.7 924.9 1367.7C924.2 1357.8 923.4 1342.8 923.1 1337.8" stroke="#555555" stroke-width="4.4" stroke-opacity="0.68"/>
<path d="M1057.8 1451.3C1057.2 1444.4 1056.1 1423.5 1054.0 1409.8C1051.9 1396.1 1049.0 1382.5 1045.3 1369.1C1041.6 1355.8 1037.1 1342.5 1031.9 1329.7C1026.7 1316.9 1016.9 1298.4 1014.0 1292.1" stroke="#818181" stroke-width="3.9" stroke-opacity="0.82"/>
<path d="M1045.4 1426.7C1045.4 1423.5 1045.2 1413.7 1045.3 1407.2C1045.5 1400.7 1045.9 1394.2 1046.4 1387.7C1047.0 1381.2 1047.7 1374.7 1048.7 1368.3C1049.6 1361.8 1051.5 1352.2 1052.1 1349.0" stroke="#9f9f9f" stroke-width="2.9" stroke-opacity="0.89"/>
<path d="M1079.3 1430.4C1080.5 1425.6 1084.2 1411.3 1086.9 1401.8C1089.5 1392.3 1092.2 1382.8 1095.0 1373.3C1097.8 1363.8 1100.7 1354.4 1103.7 1345.0C1106.7 1335.6 1111.4 1321.5 1113.0 1316.8" stroke="#afafaf" stroke-width="3.3" stroke-opacity="0.85"/>
<path d="M1091.7 1452.2C1089.5 1445.5 1083.3 1425.1 1078.0 1411.9C1072.6 1398.8 1066.6 1385.9 1059.8 1373.4C1053.1 1360.9 1045.7 1348.8 1037.6 1337.1C1029.5 1325.4 1015.9 1309.1 1011.5 1303.5" stroke="#7b7b7b" stroke-width="2.4" stroke-opacity="0.63"/>
<path d="M1002.4 1458.7C1003.4 1451.5 1006.2 1429.9 1007.9 1415.4C1009.6 1401.0 1011.1 1386.5 1012.5 1372.1C1013.8 1357.6 1015.1 1343.1 1016.1 1328.6C1017.2 1314.1 1018.4 1292.3 1018.9 1285.0" stroke="#707070" stroke-width="4.5" stroke-opacity="0.66"/>
<path d="M953.0 1442.1C952.5 1439.3 951.0 1430.6 949.6 1424.9C948.3 1419.2 946.8 1413.6 945.1 1408.0C943.4 1402.4 941.6 1396.9 939.5 1391.4C937.4 1385.9 933.9 1377.9 932.8 1375.2" stroke="#747474" stroke-width="4.2" stroke-opacity="0.91"/>
<path d="M932.4 1486.8C932.2 1479.5 932.3 1457.8 931.2 1443.4C930.1 1429.0 928.2 1414.6 925.6 1400.4C923.1 1386.1 919.7 1372.0 915.7 1358.1C911.7 1344.2 903.9 1323.9 901.5 1317.1" stroke="#8c8c8c" stroke-width="2.7" stroke-opacity="0.76"/>
<path d="M946.5 1439.4C946.9 1432.8 947.7 1412.8 949.1 1399.6C950.4 1386.4 952.3 1373.2 954.7 1360.1C957.0 1347.0 959.9 1334.0 963.3 1321.1C966.6 1308.3 972.9 1289.3 974.8 1282.9" stroke="#717171" stroke-width="4.0" stroke-opacity="0.81"/>
<path d="M961.1 1443.7C960.8 1438.0 959.5 1420.9 959.2 1409.6C958.9 1398.2 958.9 1386.7 959.2 1375.4C959.5 1364.0 960.1 1352.6 961.0 1341.2C962.0 1329.9 964.2 1312.9 964.8 1307.2" stroke="#4f4f4f" stroke-width="4.3" stroke-opacity="0.72"/>
<path d="M1072.5 1463.4C1072.8 1457.1 1073.8 1438.3 1074.3 1425.8C1074.7 1413.2 1074.9 1400.6 1075.0 1388.1C1075.1 1375.5 1075.1 1362.9 1074.8 1350.4C1074.6 1337.8 1073.9 1319.0 1073.7 1312.7" stroke="#777777" stroke-width="3.4" stroke-opacity="0.92"/>
<path d="M989.4 1478.7C990.0 1474.0 991.1 1459.9 993.0 1450.8C994.9 1441.7 997.6 1432.6 1001.0 1423.8C1004.3 1415.1 1008.4 1406.6 1013.1 1398.5C1017.8 1390.4 1026.5 1379.2 1029.1 1375.3" stroke="#555555" stroke-width="3.6" stroke-opacity="0.77"/>
<path d="M1046.7 1471.7C1046.8 1468.1 1047.8 1457.3 1047.5 1450.2C1047.2 1443.0 1046.3 1435.8 1044.9 1428.8C1043.5 1421.7 1041.6 1414.7 1039.1 1408.0C1036.6 1401.3 1031.5 1391.7 1030.0 1388.4" stroke="#565656" stroke-width="4.5" stroke-opacity="0.79"/>
<path d="M1044.3 1484.3C1044.8 1480.0 1046.7 1466.9 1047.7 1458.2C1048.7 1449.5 1049.5 1440.8 1050.2 1432.0C1050.9 1423.3 1051.4 1414.5 1051.8 1405.8C1052.2 1397.0 1052.4 1383.9 1052.5 1379.5" stroke="#9b9b9b" stroke-width="4.6" stroke-opacity="0.62"/>
<path d="M1047.8 1433.9C1049.2 1427.1 1053.3 1406.9 1056.2 1393.5C1059.2 1380.0 1062.3 1366.6 1065.5 1353.3C1068.7 1339.9 1072.1 1326.6 1075.6 1313.3C1079.2 1300.0 1084.8 1280.1 1086.7 1273.5" stroke="#676767" stroke-width="4.2" stroke-opacity="0.94"/>
<path d="M949.2 1430.1C947.2 1423.9 940.9 1405.7 937.5 1393.3C934.0 1380.9 931.1 1368.3 928.6 1355.7C926.1 1343.1 924.1 1330.3 922.6 1317.5C921.1 1304.8 920.0 1285.5 919.5 1279.1" stroke="#525252" stroke-width="4.6" stroke-opacity="0.76"/>
<path d="M1044.3 1465.9C1044.4 1462.1 1044.9 1450.5 1044.9 1442.8C1044.9 1435.0 1044.7 1427.3 1044.3 1419.6C1043.9 1411.9 1043.2 1404.2 1042.4 1396.5C1041.6 1388.8 1039.8 1377.3 1039.3 1373.5" stroke="#858585" stroke-width="3.2" stroke-opacity="0.66"/>
<path d="M1079.0 1445.3C1078.7 1440.2 1078.2 1424.9 1077.5 1414.8C1076.8 1404.7 1076.0 1394.5 1075.0 1384.4C1074.0 1374.3 1072.8 1364.2 1071.5 1354.1C1070.1 1344.0 1067.7 1329.0 1067.0 1323.9" stroke="#949494" stroke-width="2.8" stroke-opacity="0.62"/>
<path d="M929.7 1491.9C929.3 1488.1 928.0 1476.4 927.4 1468.6C926.8 1460.8 926.3 1453.0 926.0 1445.2C925.7 1437.4 925.5 1429.6 925.5 1421.8C925.5 1414.0 925.8 1402.3 925.9 1398.4" stroke="#878787" stroke-width="3.4" stroke-opacity="0.77"/>
<path d="M1064.9 1454.7C1066.9 1448.5 1072.6 1430.0 1076.9 1417.8C1081.2 1405.5 1085.8 1393.4 1090.6 1381.4C1095.4 1369.4 1100.5 1357.5 1105.9 1345.7C1111.3 1333.9 1120.0 1316.5 1122.8 1310.7" stroke="#5d5d5d" stroke-width="4.6" stroke-opacity="0.78"/>
<path d="M1069.7 1479.4C1070.2 1475.6 1071.6 1464.2 1072.6 1456.6C1073.7 1449.0 1074.8 1441.4 1076.0 1433.8C1077.2 1426.3 1078.5 1418.7 1079.8 1411.2C1081.2 1403.6 1083.4 1392.3 1084.1 1388.6" stroke="#9a9a9a" stroke-width="2.9" stroke-opacity="0.81"/>
<path d="M919.9 1440.8C919.3 1435.0 917.5 1417.8 916.2 1406.3C915.0 1394.8 913.7 1383.4 912.4 1371.9C911.1 1360.4 909.8 1349.0 908.5 1337.5C907.1 1326.0 905.1 1308.8 904.4 1303.1" stroke="#818181" stroke-width="2.9" stroke-opacity="0.81"/>
<path d="M1039.2 1485.2C1038.4 1479.7 1037.2 1463.0 1034.4 1452.4C1031.5 1441.8 1027.3 1431.2 1022.1 1421.6C1016.9 1411.9 1010.3 1402.6 1003.0 1394.4C995.7 1386.2 982.3 1376.1 978.2 1372.4" stroke="#afafaf" stroke-width="2.3" stroke-opacity="0.83"/>
<path d="M959.4 1454.1C958.5 1446.9 955.0 1425.2 954.0 1410.6C953.0 1396.0 952.8 1381.3 953.4 1366.8C953.9 1352.2 955.3 1337.5 957.4 1323.1C959.5 1308.7 964.6 1287.3 966.1 1280.1" stroke="#7c7c7c" stroke-width="2.4" stroke-opacity="0.86"/>
<path d="M1026.1 1444.8C1026.5 1441.7 1027.3 1432.2 1028.2 1425.9C1029.1 1419.7 1030.2 1413.4 1031.5 1407.2C1032.8 1401.0 1034.2 1394.8 1035.9 1388.7C1037.5 1382.6 1040.5 1373.5 1041.4 1370.5" stroke="#717171" stroke-width="2.5" stroke-opacity="0.66"/>
<path d="M981.8 1457.3C982.6 1452.3 984.9 1437.1 986.6 1427.1C988.2 1417.0 989.9 1406.9 991.6 1396.9C993.3 1386.8 995.1 1376.8 996.9 1366.7C998.7 1356.7 1001.4 1341.6 1002.3 1336.6" stroke="#555555" stroke-width="2.2" stroke-opacity="0.67"/>
<path d="M930.1 1469.2C928.6 1463.9 924.3 1448.0 921.1 1437.6C917.9 1427.1 914.4 1416.7 910.8 1406.3C907.1 1396.0 903.3 1385.7 899.2 1375.6C895.1 1365.4 888.4 1350.3 886.3 1345.3" stroke="#666666" stroke-width="4.2" stroke-opacity="0.63"/>
<path d="M989.0 1494.1C989.3 1488.3 991.0 1471.1 991.0 1459.6C991.1 1448.1 990.4 1436.5 989.0 1425.1C987.7 1413.6 985.7 1402.2 983.0 1391.0C980.3 1379.8 974.7 1363.4 973.0 1357.9" stroke="#a6a6a6" stroke-width="2.3" stroke-opacity="0.85"/>
<path d="M980.7 1458.0C979.3 1449.9 975.7 1425.6 972.0 1409.7C968.3 1393.9 963.7 1378.1 958.4 1362.7C953.1 1347.2 947.0 1332.0 940.1 1317.2C933.2 1302.4 921.0 1281.1 917.2 1273.9" stroke="#a9a9a9" stroke-width="3.3" stroke-opacity="0.87"/>
<path d="M994.3 1453.8C995.2 1447.9 996.9 1429.8 999.4 1418.1C1001.9 1406.3 1005.2 1394.7 1009.3 1383.4C1013.3 1372.0 1018.2 1360.9 1023.7 1350.2C1029.2 1339.6 1039.3 1324.5 1042.5 1319.4" stroke="#696969" stroke-width="2.9" stroke-opacity="0.62"/>
<path d="M927.9 1449.4C926.8 1445.2 923.4 1432.8 921.0 1424.5C918.5 1416.2 916.0 1408.0 913.5 1399.8C910.9 1391.6 908.2 1383.4 905.5 1375.2C902.7 1367.1 898.4 1354.9 897.0 1350.9" stroke="#9e9e9e" stroke-width="3.2" stroke-opacity="0.95"/>
<path d="M941.1 1499.3C939.5 1491.9 934.9 1470.0 931.8 1455.4C928.7 1440.8 925.7 1426.2 922.7 1411.5C919.7 1396.9 916.7 1382.3 913.8 1367.6C910.9 1353.0 906.5 1331.0 905.1 1323.7" stroke="#5e5e5e" stroke-width="3.4" stroke-opacity="1.00"/>
<path d="M929.8 1490.3C928.2 1483.1 924.1 1461.6 920.5 1447.5C916.9 1433.4 912.7 1419.4 908.1 1405.6C903.4 1391.8 898.2 1378.1 892.6 1364.7C886.9 1351.3 877.2 1331.7 874.1 1325.1" stroke="#585858" stroke-width="3.4" stroke-opacity="0.98"/>
<path d="M961.4 1433.0C959.5 1425.6 953.2 1403.5 949.8 1388.5C946.4 1373.6 943.4 1358.5 940.9 1343.4C938.4 1328.3 936.4 1313.1 934.8 1297.8C933.3 1282.6 932.1 1259.6 931.5 1251.9" stroke="#8e8e8e" stroke-width="4.5" stroke-opacity="0.63"/>
<path d="M1089.4 1485.9C1091.4 1478.2 1096.9 1455.0 1101.6 1439.8C1106.3 1424.6 1111.7 1409.6 1117.6 1394.9C1123.5 1380.1 1130.1 1365.6 1137.2 1351.4C1144.2 1337.1 1156.3 1316.5 1160.2 1309.6" stroke="#6f6f6f" stroke-width="2.6" stroke-opacity="0.76"/>
<path d="M1072.6 1471.3C1073.5 1463.1 1076.7 1438.5 1078.5 1422.0C1080.3 1405.6 1081.9 1389.1 1083.4 1372.7C1084.8 1356.2 1086.0 1339.7 1087.1 1323.2C1088.2 1306.7 1089.3 1281.9 1089.7 1273.7" stroke="#afafaf" stroke-width="4.5" stroke-opacity="0.82"/>
<path d="M1099.0 1453.4C1099.6 1445.9 1102.7 1423.5 1103.0 1408.6C1103.2 1393.6 1102.4 1378.5 1100.6 1363.7C1098.8 1348.9 1095.8 1334.0 1091.9 1319.6C1088.0 1305.2 1079.5 1284.2 1077.1 1277.2" stroke="#666666" stroke-width="2.6" stroke-opacity="0.65"/>
<path d="M1044.3 1460.0C1045.4 1452.1 1048.5 1428.2 1051.1 1412.4C1053.7 1396.6 1056.5 1380.8 1059.6 1365.1C1062.8 1349.4 1066.2 1333.7 1069.9 1318.1C1073.6 1302.5 1079.8 1279.3 1081.8 1271.5" stroke="#5d5d5d" stroke-width="3.9" stroke-opacity="0.89"/>
<path d="M983.6 1448.3C983.1 1442.0 981.4 1423.0 980.6 1410.4C979.7 1397.7 979.1 1385.1 978.7 1372.4C978.3 1359.7 978.0 1347.1 978.0 1334.4C978.0 1321.7 978.4 1302.7 978.5 1296.4" stroke="#828282" stroke-width="2.5" stroke-opacity="0.65"/>
<path d="M935.3 1463.5C934.6 1460.1 932.2 1449.7 930.9 1442.7C929.6 1435.7 928.5 1428.7 927.7 1421.6C926.8 1414.5 926.1 1407.5 925.7 1400.4C925.2 1393.3 925.0 1382.6 924.9 1379.1" stroke="#4f4f4f" stroke-width="3.8" stroke-opacity="0.78"/>
<path d="M1087.9 1454.1C1087.8 1448.7 1088.0 1432.6 1087.0 1422.0C1085.9 1411.4 1084.1 1400.8 1081.7 1390.4C1079.2 1380.0 1076.0 1369.7 1072.1 1359.8C1068.3 1349.8 1060.8 1335.5 1058.6 1330.7" stroke="#757575" stroke-width="3.8" stroke-opacity="0.71"/>
<path d="M1038.4 1426.0C1038.5 1421.0 1038.7 1406.2 1038.8 1396.3C1038.8 1386.4 1038.8 1376.5 1038.7 1366.6C1038.7 1356.7 1038.6 1346.8 1038.4 1336.9C1038.2 1327.0 1037.8 1312.2 1037.7 1307.2" stroke="#838383" stroke-width="3.0" stroke-opacity="0.93"/>
<path d="M1072.7 1469.3C1072.8 1461.5 1073.1 1438.2 1073.2 1422.7C1073.2 1407.1 1073.2 1391.6 1073.0 1376.0C1072.8 1360.5 1072.6 1344.9 1072.2 1329.4C1071.9 1313.9 1071.1 1290.6 1070.8 1282.8" stroke="#9a9a9a" stroke-width="3.6" stroke-opacity="0.88"/>
<path d="M1098.2 1486.2C1098.9 1482.5 1101.4 1471.5 1102.4 1464.0C1103.4 1456.6 1104.0 1449.0 1104.2 1441.5C1104.5 1434.0 1104.3 1426.5 1103.7 1419.0C1103.1 1411.5 1101.3 1400.3 1100.8 1396.6" stroke="#6d6d6d" stroke-width="3.8" stroke-opacity="0.84"/>
<path d="M1094.6 1498.2C1096.7 1491.1 1102.8 1469.8 1106.9 1455.5C1110.9 1441.3 1114.9 1427.0 1118.9 1412.8C1122.9 1398.5 1126.9 1384.2 1130.8 1369.9C1134.7 1355.7 1140.5 1334.2 1142.4 1327.1" stroke="#5e5e5e" stroke-width="4.6" stroke-opacity="0.86"/>
<path d="M1061.8 1494.9C1061.0 1489.4 1058.6 1472.7 1056.8 1461.6C1055.1 1450.5 1053.3 1439.5 1051.4 1428.4C1049.5 1417.3 1047.5 1406.3 1045.4 1395.3C1043.3 1384.2 1040.0 1367.7 1038.9 1362.2" stroke="#636363" stroke-width="2.2" stroke-opacity="0.98"/>
<path d="M1044.7 1484.0C1046.0 1475.9 1050.7 1451.8 1052.8 1435.6C1054.8 1419.4 1056.2 1403.1 1056.9 1386.8C1057.6 1370.5 1057.7 1354.1 1057.0 1337.8C1056.4 1321.4 1053.8 1297.0 1053.1 1288.9" stroke="#595959" stroke-width="2.2" stroke-opacity="0.94"/>
<path d="M1089.9 1492.2C1091.5 1486.6 1096.2 1469.8 1099.5 1458.6C1102.8 1447.4 1106.1 1436.3 1109.6 1425.2C1113.0 1414.1 1116.5 1403.0 1120.1 1391.9C1123.7 1380.8 1129.2 1364.3 1131.1 1358.7" stroke="#6b6b6b" stroke-width="4.6" stroke-opacity="0.83"/>
<path d="M930.3 1442.8C928.9 1438.5 925.1 1425.2 921.9 1416.6C918.6 1408.1 914.9 1399.6 910.8 1391.5C906.7 1383.3 902.1 1375.2 897.2 1367.5C892.3 1359.8 883.9 1348.8 881.3 1345.1" stroke="#6f6f6f" stroke-width="2.3" stroke-opacity="0.69"/>
<path d="M1000.2 1466.9C999.3 1463.5 996.4 1453.5 994.8 1446.7C993.1 1439.9 991.6 1433.1 990.3 1426.3C989.0 1419.4 987.8 1412.6 986.9 1405.7C985.9 1398.8 984.9 1388.4 984.5 1384.9" stroke="#b2b2b2" stroke-width="2.6" stroke-opacity="0.85"/>
<path d="M1093.3 1478.5C1095.2 1474.8 1100.4 1463.3 1104.6 1456.2C1108.7 1449.0 1113.4 1442.1 1118.5 1435.5C1123.6 1428.9 1129.1 1422.6 1134.9 1416.7C1140.8 1410.9 1150.5 1403.0 1153.6 1400.2" stroke="#6b6b6b" stroke-width="2.6" stroke-opacity="0.81"/>
<path d="M923.2 1433.3C923.2 1426.9 921.5 1407.5 923.0 1394.9C924.5 1382.3 927.7 1369.5 932.2 1357.6C936.8 1345.7 943.0 1334.1 950.3 1323.7C957.6 1313.3 971.8 1300.0 976.1 1295.3" stroke="#636363" stroke-width="2.7" stroke-opacity="0.81"/>
<path d="M1037.6 1456.4C1038.3 1448.2 1040.8 1423.4 1041.9 1406.8C1043.0 1390.3 1043.8 1373.7 1044.2 1357.1C1044.6 1340.5 1044.7 1323.9 1044.4 1307.3C1044.1 1290.8 1042.9 1265.9 1042.6 1257.6" stroke="#5b5b5b" stroke-width="3.1" stroke-opacity="0.72"/>
<path d="M1052.6 1444.4C1052.7 1438.9 1052.7 1422.4 1053.5 1411.4C1054.2 1400.4 1055.4 1389.4 1056.9 1378.6C1058.5 1367.7 1060.5 1356.8 1063.0 1346.1C1065.4 1335.4 1070.1 1319.6 1071.5 1314.3" stroke="#565656" stroke-width="2.9" stroke-opacity="0.81"/>
<path d="M947.7 1453.7C947.4 1447.1 945.3 1427.4 945.7 1414.3C946.1 1401.2 947.7 1387.9 950.2 1375.1C952.8 1362.3 956.5 1349.4 961.2 1337.2C965.8 1325.0 975.4 1307.6 978.2 1301.6" stroke="#5f5f5f" stroke-width="3.4" stroke-opacity="0.81"/>
<path d="M1051.4 1453.0C1051.3 1446.4 1050.9 1426.4 1050.4 1413.2C1049.8 1399.9 1049.1 1386.6 1048.3 1373.4C1047.4 1360.1 1046.3 1346.9 1045.1 1333.7C1043.9 1320.4 1041.6 1300.6 1041.0 1294.0" stroke="#b2b2b2" stroke-width="3.1" stroke-opacity="0.72"/>
<path d="M1028.9 1469.2C1029.2 1463.5 1029.7 1446.3 1031.0 1435.0C1032.4 1423.7 1034.3 1412.3 1036.8 1401.2C1039.4 1390.1 1042.5 1379.0 1046.2 1368.3C1050.0 1357.5 1057.0 1341.8 1059.1 1336.5" stroke="#696969" stroke-width="3.6" stroke-opacity="0.92"/>
<path d="M1089.8 1473.5C1090.4 1467.6 1092.0 1449.6 1093.3 1437.6C1094.7 1425.7 1096.3 1413.7 1098.0 1401.8C1099.8 1389.9 1101.7 1378.0 1103.8 1366.2C1105.9 1354.4 1109.6 1336.7 1110.7 1330.8" stroke="#747474" stroke-width="3.0" stroke-opacity="0.73"/>
<path d="M1067.1 1484.1C1067.3 1477.1 1068.0 1455.9 1068.1 1441.8C1068.3 1427.7 1068.2 1413.6 1068.0 1399.5C1067.8 1385.4 1067.3 1371.3 1066.7 1357.2C1066.1 1343.1 1064.7 1322.0 1064.3 1315.0" stroke="#7b7b7b" stroke-width="3.7" stroke-opacity="0.61"/>
<path d="M1088.0 1481.5C1088.7 1474.6 1090.7 1453.9 1092.0 1440.2C1093.2 1426.4 1094.5 1412.7 1095.7 1398.9C1096.9 1385.1 1098.0 1371.4 1099.1 1357.6C1100.3 1343.8 1101.9 1323.2 1102.4 1316.3" stroke="#575757" stroke-width="2.6" stroke-opacity="0.63"/>
<path d="M1042.7 1435.5C1042.1 1428.3 1041.2 1406.4 1038.8 1392.1C1036.4 1377.9 1032.9 1363.6 1028.4 1349.9C1024.0 1336.1 1018.4 1322.5 1011.9 1309.6C1005.4 1296.7 993.2 1278.5 989.5 1272.3" stroke="#585858" stroke-width="4.5" stroke-opacity="0.74"/>
<path d="M1069.4 1478.4C1069.0 1471.7 1068.5 1451.7 1067.1 1438.5C1065.8 1425.3 1063.7 1412.0 1061.1 1399.0C1058.5 1386.0 1055.2 1373.0 1051.3 1360.3C1047.4 1347.6 1040.1 1328.9 1037.8 1322.7" stroke="#5e5e5e" stroke-width="3.2" stroke-opacity="0.81"/>
<path d="M1070.7 1434.3C1071.2 1431.2 1072.7 1422.0 1073.3 1415.9C1073.8 1409.8 1074.2 1403.6 1074.3 1397.4C1074.4 1391.2 1074.2 1385.1 1073.8 1378.9C1073.4 1372.7 1072.2 1363.6 1071.9 1360.5" stroke="#747474" stroke-width="3.4" stroke-opacity="0.88"/>
<path d="M988.6 1483.4C989.7 1479.7 992.5 1468.6 995.0 1461.4C997.5 1454.2 1000.3 1447.1 1003.5 1440.1C1006.7 1433.2 1010.3 1426.4 1014.2 1419.8C1018.1 1413.3 1024.7 1403.9 1026.8 1400.7" stroke="#5c5c5c" stroke-width="3.8" stroke-opacity="0.75"/>
<path d="M1064.1 1476.3C1063.7 1470.9 1062.1 1454.7 1061.4 1443.9C1060.7 1433.1 1060.2 1422.2 1059.9 1411.4C1059.6 1400.5 1059.5 1389.7 1059.7 1378.9C1059.8 1368.0 1060.5 1351.8 1060.7 1346.4" stroke="#6c6c6c" stroke-width="3.0" stroke-opacity="0.88"/>
<path d="M960.5 1444.6C959.6 1440.4 957.2 1427.6 954.8 1419.4C952.3 1411.1 949.3 1403.0 945.8 1395.1C942.4 1387.3 938.3 1379.6 933.8 1372.2C929.4 1364.9 921.4 1354.6 919.0 1351.1" stroke="#9b9b9b" stroke-width="2.7" stroke-opacity="0.96"/>
<path d="M929.9 1438.5C928.8 1433.6 925.2 1419.0 923.4 1409.1C921.6 1399.3 920.0 1389.3 918.8 1379.4C917.6 1369.5 916.7 1359.5 916.1 1349.5C915.5 1339.5 915.4 1324.4 915.3 1319.4" stroke="#a4a4a4" stroke-width="2.9" stroke-opacity="0.94"/>
<path d="M924.4 1477.4C922.7 1473.0 918.0 1459.6 914.5 1450.8C911.0 1442.1 907.2 1433.4 903.2 1424.9C899.3 1416.3 895.1 1407.8 890.6 1399.5C886.2 1391.2 879.0 1378.9 876.7 1374.8" stroke="#868686" stroke-width="2.4" stroke-opacity="0.91"/>
<path d="M957.8 1439.9C956.7 1436.6 953.4 1426.3 951.1 1419.6C948.8 1412.8 946.4 1406.1 943.8 1399.4C941.3 1392.7 938.7 1386.1 936.0 1379.5C933.3 1372.9 928.9 1363.1 927.5 1359.8" stroke="#7a7a7a" stroke-width="3.9" stroke-opacity="0.75"/>
<path d="M1091.1 1478.9C1092.6 1472.2 1096.1 1451.8 1100.4 1438.8C1104.8 1425.9 1110.5 1413.2 1117.2 1401.3C1124.0 1389.4 1132.0 1378.0 1140.8 1367.6C1149.7 1357.3 1165.5 1343.8 1170.4 1339.0" stroke="#8c8c8c" stroke-width="4.3" stroke-opacity="0.87"/>
<path d="M970.1 1467.1C970.1 1464.0 969.8 1454.8 969.8 1448.6C969.8 1442.5 969.9 1436.3 970.1 1430.2C970.4 1424.0 970.8 1417.9 971.2 1411.8C971.7 1405.6 972.8 1396.5 973.1 1393.4" stroke="#868686" stroke-width="2.6" stroke-opacity="0.94"/>
<path d="M1073.6 1470.7C1072.4 1465.0 1069.2 1447.9 1066.6 1436.5C1064.0 1425.2 1061.2 1413.9 1058.1 1402.7C1055.1 1391.5 1051.7 1380.3 1048.2 1369.3C1044.6 1358.2 1038.7 1341.8 1036.7 1336.3" stroke="#858585" stroke-width="2.9" stroke-opacity="0.77"/>
<path d="M1060.0 1473.9C1059.1 1467.3 1056.6 1447.6 1054.7 1434.4C1052.7 1421.3 1050.6 1408.2 1048.2 1395.2C1045.9 1382.1 1043.3 1369.1 1040.6 1356.1C1037.8 1343.1 1033.2 1323.8 1031.8 1317.3" stroke="#6e6e6e" stroke-width="3.6" stroke-opacity="0.74"/>
<path d="M960.3 1496.2C962.6 1490.2 968.9 1471.7 974.5 1460.1C980.2 1448.5 986.8 1437.2 994.1 1426.5C1001.4 1415.9 1009.7 1405.7 1018.5 1396.3C1027.4 1386.9 1042.4 1374.5 1047.2 1370.1" stroke="#909090" stroke-width="4.5" stroke-opacity="0.68"/>
<path d="M984.9 1451.5C987.4 1445.5 994.0 1427.0 1000.2 1415.6C1006.4 1404.2 1013.8 1393.1 1022.0 1383.1C1030.3 1373.1 1039.6 1363.6 1049.6 1355.3C1059.5 1347.0 1076.5 1336.9 1081.8 1333.2" stroke="#919191" stroke-width="4.5" stroke-opacity="0.99"/>
<path d="M1085.4 1465.7C1085.2 1462.3 1084.5 1452.2 1084.3 1445.4C1084.1 1438.6 1084.2 1431.9 1084.4 1425.1C1084.6 1418.4 1085.1 1411.6 1085.7 1404.9C1086.3 1398.1 1087.7 1388.1 1088.1 1384.7" stroke="#b1b1b1" stroke-width="2.4" stroke-opacity="0.66"/>
<path d="M953.1 1477.0C955.7 1469.7 963.1 1447.5 968.6 1433.0C974.1 1418.4 979.9 1403.9 986.0 1389.6C992.1 1375.3 998.6 1361.1 1005.3 1347.1C1012.1 1333.1 1022.9 1312.4 1026.4 1305.4" stroke="#4e4e4e" stroke-width="3.9" stroke-opacity="0.98"/>
<path d="M1095.6 1496.2C1098.1 1488.7 1106.3 1466.1 1110.6 1450.8C1114.9 1435.4 1118.5 1419.8 1121.5 1404.1C1124.4 1388.4 1126.6 1372.6 1128.1 1356.7C1129.6 1340.8 1130.1 1316.8 1130.5 1308.9" stroke="#a3a3a3" stroke-width="3.6" stroke-opacity="0.96"/>
<path d="M978.8 1341.4l2.2 12.5" stroke="#3c3c3c" stroke-width="6.2" stroke-opacity="0.6"/>
<path d="M943.6 1365.1l-1.6 25.8" stroke="#3c3c3c" stroke-width="4.4" stroke-opacity="0.6"/>
<path d="M950.3 1344.5l0.8 23.5" stroke="#3c3c3c" stroke-width="5.7" stroke-opacity="0.6"/>
<path d="M1039.0 1325.4l-1.0 25.3" stroke="#3c3c3c" stroke-width="3.8" stroke-opacity="0.6"/>
<path d="M992.2 1352.9l-1.2 13.5" stroke="#3c3c3c" stroke-width="4.4" stroke-opacity="0.6"/>
<path d="M1077.7 1354.7l-3.6 15.9" stroke="#3c3c3c" stroke-width="5.5" stroke-opacity="0.6"/>
<path d="M1013.6 1375.1l1.2 24.9" stroke="#3c3c3c" stroke-width="4.4" stroke-opacity="0.6"/>
<path d="M959.1 1349.1l-0.4 13.5" stroke="#3c3c3c" stroke-width="6.2" stroke-opacity="0.6"/>
<path d="M956.4 1435.4l0.9 19.5" stroke="#3c3c3c" stroke-width="5.0" stroke-opacity="0.6"/>
<path d="M1022.5 1314.1l-1.5 11.1" stroke="#3c3c3c" stroke-width="4.8" stroke-opacity="0.6"/>
<path d="M1050.7 1347.8l-3.7 14.0" stroke="#3c3c3c" stroke-width="3.3" stroke-opacity="0.6"/>
<path d="M1041.4 1403.2l-0.5 10.7" stroke="#3c3c3c" stroke-width="4.9" stroke-opacity="0.6"/>
<path d="M948.5 1433.9l-3.4 11.2" stroke="#3c3c3c" stroke-width="5.9" stroke-opacity="0.6"/>
<path d="M1095.0 1387.5l1.4 13.7" stroke="#3c3c3c" stroke-width="6.5" stroke-opacity="0.6"/>
<path d="M960.2 1477.7l0.5 25.1" stroke="#3c3c3c" stroke-width="3.2" stroke-opacity="0.6"/>
<path d="M1090.6 1478.7l-3.6 10.5" stroke="#3c3c3c" stroke-width="6.3" stroke-opacity="0.6"/>
<path d="M997.2 1339.3l-3.5 12.6" stroke="#3c3c3c" stroke-width="4.7" stroke-opacity="0.6"/>
<path d="M963.4 1368.9l-2.9 12.2" stroke="#3c3c3c" stroke-width="5.8" stroke-opacity="0.6"/>
<path d="M979.3 1317.9l-2.1 21.2" stroke="#3c3c3c" stroke-width="3.8" stroke-opacity="0.6"/>
<path d="M1069.3 1473.8l1.3 15.9" stroke="#3c3c3c" stroke-width="5.5" stroke-opacity="0.6"/>
<path d="M1082.0 1337.1l3.0 25.7" stroke="#3c3c3c" stroke-width="5.5" stroke-opacity="0.6"/>
<path d="M1040.0 1332.8l-1.4 19.3" stroke="#3c3c3c" stroke-width="4.0" stroke-opacity="0.6"/>
<path d="M1013.7 1461.0l-0.5 22.9" stroke="#3c3c3c" stroke-width="3.9" stroke-opacity="0.6"/>
<path d="M940.7 1430.9l-3.9 24.7" stroke="#3c3c3c" stroke-width="6.4" stroke-opacity="0.6"/>
<path d="M1083.8 1435.3l-2.5 25.4" stroke="#3c3c3c" stroke-width="5.2" stroke-opacity="0.6"/>
<path d="M942.8 1399.5l3.1 19.6" stroke="#3c3c3c" stroke-width="4.2" stroke-opacity="0.6"/>
<path d="M1094.6 1400.4l-3.7 12.4" stroke="#3c3c3c" stroke-width="4.6" stroke-opacity="0.6"/>
<path d="M1040.3 1391.2l0.7 18.7" stroke="#3c3c3c" stroke-width="4.0" stroke-opacity="0.6"/>
<path d="M932.7 1384.2l2.6 25.4" stroke="#3c3c3c" stroke-width="3.1" stroke-opacity="0.6"/>
<path d="M997.1 1487.9l0.9 11.0" stroke="#3c3c3c" stroke-width="3.1" stroke-opacity="0.6"/>
<path d="M983.1 1340.8l3.8 15.4" stroke="#3c3c3c" stroke-width="6.0" stroke-opacity="0.6"/>
<path d="M1020.5 1437.2l-2.0 21.9" stroke="#3c3c3c" stroke-width="3.6" stroke-opacity="0.6"/>
<path d="M949.4 1417.2l0.9 16.9" stroke="#3c3c3c" stroke-width="5.1" stroke-opacity="0.6"/>
<path d="M968.6 1485.6l-0.1 20.8" stroke="#3c3c3c" stroke-width="5.2" stroke-opacity="0.6"/>
<path d="M958.8 1293.0C959.8 1286.7 962.6 1266.8 965.0 1255.0C967.4 1243.2 970.1 1232.0 973.4 1222.3C976.7 1212.6 980.9 1203.6 985.0 1197.0C989.1 1190.4 993.0 1187.0 998.3 1182.8C1003.6 1178.6 1010.8 1174.4 1017.0 1172.0C1023.2 1169.6 1032.7 1168.9 1035.8 1168.3" stroke="#646464" stroke-width="8.5" stroke-opacity="0.95"/>
<path d="M1035.8 1168.3C1036.8 1168.1 1040.0 1166.7 1042.0 1167.0C1044.0 1167.3 1045.3 1168.8 1048.0 1170.0C1050.7 1171.2 1054.2 1172.5 1058.0 1174.0C1061.8 1175.5 1068.8 1177.9 1071.0 1178.7" stroke="#777" stroke-width="3.0" stroke-opacity="0.95"/>
<path d="M925.6 1264.0C927.0 1262.0 930.5 1255.2 934.0 1252.0C937.5 1248.8 941.2 1247.0 946.4 1245.0C951.6 1243.0 958.1 1241.0 965.0 1240.0C971.9 1239.0 979.7 1238.5 988.0 1239.0C996.3 1239.5 1006.3 1241.3 1015.0 1243.0C1023.7 1244.7 1032.5 1247.4 1040.0 1249.4C1047.5 1251.4 1055.5 1253.3 1060.0 1255.0C1064.5 1256.7 1065.5 1257.3 1067.0 1259.8C1068.5 1262.3 1069.2 1263.3 1069.0 1270.0C1068.8 1276.7 1067.0 1291.3 1066.0 1300.0C1065.0 1308.7 1063.8 1314.5 1062.8 1322.0C1061.8 1329.5 1060.5 1341.2 1060.0 1345.0" stroke="#6a6a6a" stroke-width="4.2" stroke-opacity="0.95"/>
<path d="M933.9 1196.3C931.6 1196.9 924.1 1198.1 920.0 1200.0C915.9 1201.9 912.5 1204.5 909.0 1207.8C905.5 1211.1 901.1 1215.8 899.0 1220.0C896.9 1224.2 896.6 1227.7 896.4 1232.7C896.2 1237.7 896.6 1243.8 898.0 1250.0C899.4 1256.2 902.0 1263.0 904.8 1270.0C907.6 1277.0 911.5 1285.0 915.0 1292.0C918.5 1299.0 923.8 1308.5 925.6 1311.8" stroke="#808080" stroke-width="3.0" stroke-opacity="0.95"/>
<path d="M880.0 1242.0C878.8 1243.3 874.4 1247.0 873.0 1250.0C871.6 1253.0 871.2 1255.8 871.5 1259.8C871.8 1263.8 872.9 1269.2 875.0 1274.0C877.1 1278.8 880.8 1284.6 884.0 1288.9C887.2 1293.2 890.5 1296.9 894.0 1300.0C897.5 1303.1 903.0 1306.3 904.8 1307.6" stroke="#888" stroke-width="2.6" stroke-opacity="0.95"/>
<path d="M988.0 1280.6C991.7 1277.5 1002.2 1268.4 1010.0 1262.0C1017.8 1255.6 1026.9 1248.3 1035.0 1242.0C1043.1 1235.7 1054.7 1227.3 1058.6 1224.4" stroke="#6c6c6c" stroke-width="4.2" stroke-opacity="0.95"/>
<path d="M1098.0 1320.0C1102.5 1317.8 1115.6 1310.8 1125.0 1307.0C1134.4 1303.2 1146.0 1299.3 1154.3 1297.2C1162.6 1295.1 1168.1 1295.0 1175.0 1294.5C1181.9 1294.0 1189.2 1293.8 1195.9 1294.0C1202.6 1294.2 1209.2 1295.1 1215.0 1296.0C1220.8 1296.9 1228.3 1298.8 1231.0 1299.3" stroke="#757575" stroke-width="3.2" stroke-opacity="0.95"/>
<path d="M1096.0 1326.0C1099.2 1326.8 1108.8 1328.9 1115.0 1331.0C1121.2 1333.1 1128.3 1336.0 1133.5 1338.8C1138.7 1341.6 1142.5 1344.5 1146.0 1348.0C1149.5 1351.5 1151.8 1355.9 1154.3 1359.6C1156.8 1363.3 1159.3 1366.6 1161.0 1370.0C1162.7 1373.4 1162.9 1373.3 1164.7 1380.0C1166.5 1386.7 1170.1 1400.0 1172.0 1410.0C1173.9 1420.0 1175.7 1430.0 1176.0 1440.0C1176.3 1450.0 1174.3 1465.0 1174.0 1470.0" stroke="#787878" stroke-width="3.0" stroke-opacity="0.95"/>
<path d="M1143.9 1378.0C1147.4 1375.5 1158.1 1367.5 1165.0 1363.0C1171.9 1358.5 1178.8 1354.2 1185.5 1351.0C1192.2 1347.8 1198.8 1345.7 1205.0 1344.0C1211.2 1342.3 1219.9 1341.4 1222.9 1340.9" stroke="#7e7e7e" stroke-width="3.0" stroke-opacity="0.95"/>
<path d="M1104.4 1307.6C1105.8 1305.2 1109.9 1297.5 1113.0 1293.0C1116.1 1288.5 1119.6 1284.1 1123.0 1280.6C1126.4 1277.1 1131.8 1273.4 1133.5 1272.0" stroke="#999" stroke-width="2.2" stroke-opacity="0.95"/>
<path d="M790.4 1325.3C794.5 1326.6 806.3 1330.4 815.0 1333.0C823.7 1335.6 831.6 1338.2 842.4 1340.9C853.2 1343.6 868.2 1346.7 880.0 1349.0C891.8 1351.3 907.5 1354.0 913.0 1355.0" stroke="#717171" stroke-width="3.6" stroke-opacity="0.95"/>
<path d="M908.9 1326.0C905.4 1325.3 895.0 1322.3 888.0 1322.0C881.0 1321.7 873.0 1323.0 867.0 1324.0C861.0 1325.0 856.1 1326.2 852.0 1328.0C847.9 1329.8 845.1 1331.9 842.4 1334.6C839.7 1337.3 837.4 1340.5 836.0 1344.0C834.6 1347.5 834.0 1351.4 834.0 1355.4C834.0 1359.4 834.6 1364.2 836.0 1368.0C837.4 1371.8 841.3 1376.3 842.4 1378.0" stroke="#6c6c6c" stroke-width="4.2" stroke-opacity="0.95"/>
<path d="M790.0 1395.0C796.7 1394.5 816.7 1391.8 830.0 1392.0C843.3 1392.2 855.8 1393.8 870.0 1396.0C884.2 1398.2 907.5 1403.5 915.0 1405.0" stroke="#686868" stroke-width="6.0" stroke-opacity="0.95"/>
<path d="M790.0 1430.0C796.7 1429.7 815.8 1427.0 830.0 1428.0C844.2 1429.0 860.8 1432.7 875.0 1436.0C889.2 1439.3 908.3 1446.0 915.0 1448.0" stroke="#6a6a6a" stroke-width="5.5" stroke-opacity="0.95"/>
<path d="M792.0 1460.0C797.5 1456.7 813.7 1446.7 825.0 1440.0C836.3 1433.3 847.5 1426.7 860.0 1420.0C872.5 1413.3 888.3 1405.8 900.0 1400.0C911.7 1394.2 925.0 1387.5 930.0 1385.0" stroke="#6e6e6e" stroke-width="5.5" stroke-opacity="0.95"/>
<path d="M792.0 1380.0C796.7 1377.5 810.3 1369.7 820.0 1365.0C829.7 1360.3 839.2 1355.3 850.0 1352.0C860.8 1348.7 879.2 1346.2 885.0 1345.0" stroke="#757575" stroke-width="4.0" stroke-opacity="0.95"/>
<path d="M925.0 1585.0C928.3 1580.8 936.7 1570.0 945.0 1560.0C953.3 1550.0 965.0 1535.8 975.0 1525.0C985.0 1514.2 995.8 1504.2 1005.0 1495.0C1014.2 1485.8 1025.8 1474.2 1030.0 1470.0" stroke="#8a8a8a" stroke-width="5.0" stroke-opacity="0.95"/>
<path d="M1000.0 1500.0C999.7 1505.0 998.0 1520.0 998.0 1530.0C998.0 1540.0 998.3 1548.7 1000.0 1560.0C1001.7 1571.3 1006.7 1591.7 1008.0 1598.0" stroke="#5a5a5a" stroke-width="2.6" stroke-opacity="0.95"/>
<path d="M1110.0 1400.0C1115.0 1405.0 1130.8 1418.3 1140.0 1430.0C1149.2 1441.7 1157.5 1455.0 1165.0 1470.0C1172.5 1485.0 1180.0 1505.0 1185.0 1520.0C1190.0 1535.0 1193.8 1547.0 1195.0 1560.0C1196.2 1573.0 1192.5 1591.7 1192.0 1598.0" stroke="#808080" stroke-width="3.0" stroke-opacity="0.95"/>
<path d="M1100.0 1360.0C1106.7 1362.0 1128.3 1365.3 1140.0 1372.0C1151.7 1378.7 1161.7 1387.0 1170.0 1400.0C1178.3 1413.0 1185.3 1433.3 1190.0 1450.0C1194.7 1466.7 1198.0 1484.2 1198.0 1500.0C1198.0 1515.8 1191.3 1537.5 1190.0 1545.0" stroke="#8a8a8a" stroke-width="2.6" stroke-opacity="0.95"/>
<path d="M1120.0 1340.0C1126.7 1338.3 1147.5 1329.2 1160.0 1330.0C1172.5 1330.8 1185.3 1336.7 1195.0 1345.0C1204.7 1353.3 1213.0 1367.5 1218.0 1380.0C1223.0 1392.5 1225.5 1408.3 1225.0 1420.0C1224.5 1431.7 1216.7 1445.0 1215.0 1450.0" stroke="#909090" stroke-width="2.4" stroke-opacity="0.95"/>
<path d="M835.0 1545.0C840.8 1543.8 858.3 1541.8 870.0 1538.0C881.7 1534.2 895.0 1527.5 905.0 1522.0C915.0 1516.5 925.8 1507.8 930.0 1505.0" stroke="#909090" stroke-width="3.2" stroke-opacity="0.95"/>
<path d="M905.0 1480.0C903.3 1486.7 896.2 1506.7 895.0 1520.0C893.8 1533.3 895.2 1547.0 898.0 1560.0C900.8 1573.0 909.7 1591.7 912.0 1598.0" stroke="#999" stroke-width="2.5" stroke-opacity="0.95"/>
<path d="M1085.0 1470.0C1087.5 1476.7 1096.2 1496.7 1100.0 1510.0C1103.8 1523.3 1107.2 1535.3 1108.0 1550.0C1108.8 1564.7 1105.5 1590.0 1105.0 1598.0" stroke="#909090" stroke-width="2.6" stroke-opacity="0.95"/>
<path d="M1095.0 1450.0C1100.0 1456.7 1115.8 1475.0 1125.0 1490.0C1134.2 1505.0 1143.3 1522.0 1150.0 1540.0C1156.7 1558.0 1162.5 1588.3 1165.0 1598.0" stroke="#8c8c8c" stroke-width="2.6" stroke-opacity="0.95"/>
</g>
<polygon points="914.0,1503.0 1112.0,1505.0 1098.0,1603.0 931.0,1603.0" fill="#292929" opacity="0.85"/>
<g fill="none" stroke-linecap="round" stroke-linejoin="round">
<path d="M925.0 1585.0C928.3 1580.8 936.7 1570.0 945.0 1560.0C953.3 1550.0 965.0 1535.8 975.0 1525.0C985.0 1514.2 995.8 1504.2 1005.0 1495.0C1014.2 1485.8 1025.8 1474.2 1030.0 1470.0" stroke="#8a8a8a" stroke-width="5.0" stroke-opacity="0.95"/>
<path d="M1000.0 1500.0C999.7 1505.0 998.0 1520.0 998.0 1530.0C998.0 1540.0 998.3 1548.7 1000.0 1560.0C1001.7 1571.3 1006.7 1591.7 1008.0 1598.0" stroke="#5a5a5a" stroke-width="2.6" stroke-opacity="0.95"/>
<path d="M1110.0 1400.0C1115.0 1405.0 1130.8 1418.3 1140.0 1430.0C1149.2 1441.7 1157.5 1455.0 1165.0 1470.0C1172.5 1485.0 1180.0 1505.0 1185.0 1520.0C1190.0 1535.0 1193.8 1547.0 1195.0 1560.0C1196.2 1573.0 1192.5 1591.7 1192.0 1598.0" stroke="#808080" stroke-width="3.0" stroke-opacity="0.95"/>
</g>
</g></g>
<rect x="786.7" y="1141.0" width="448.2" height="460.8" fill="none" stroke="#3c3c3c" stroke-width="5.6" filter="url(#soft)"/>
<g clip-path="url(#cp2)"><g filter="url(#ph)">
<rect x="1258" y="1138" width="456" height="470" fill="url(#bg3)"/>
<rect x="1258" y="1138" width="456" height="365" fill="url(#bg3h)"/>
<ellipse cx="1300" cy="1380" rx="50" ry="110" fill="#dadada" opacity="0.6" filter="url(#big)"/>
<polygon points="1560.0,1496.0 1712.0,1496.0 1712.0,1511.0 1560.0,1509.0" fill="#ebebeb"/>
<polygon points="1343.0,1468.0 1368.0,1430.0 1558.0,1436.0 1567.5,1470.0 1562.0,1486.0 1544.0,1603.0 1362.0,1603.0 1352.0,1486.0" fill="#222"/>
<path d="M1368 1470 L1364 1300 Q 1400 1270 1470 1272 Q 1550 1262 1600 1285 L 1572 1410 L1554 1470 Z" fill="url(#cl3)" filter="url(#big)"/>
<g fill="none" stroke-linecap="round" stroke-linejoin="round">
<path d="M1541.6 1479.8L1546.4 1468.1L1552.6 1453.1L1558.3 1439.8L1564.1 1426.6" stroke="#7e7e7e" stroke-width="2.4" stroke-opacity="0.60"/><path d="M1564.1 1426.6L1570.1 1413.4L1576.1 1400.3L1582.3 1387.2L1588.6 1374.1" stroke="#7e7e7e" stroke-width="1.7" stroke-opacity="0.50"/><path d="M1588.6 1374.1L1595.0 1361.2L1601.5 1348.3L1609.0 1333.8L1614.9 1322.6" stroke="#7e7e7e" stroke-width="1.0" stroke-opacity="0.39"/>
<path d="M1483.1 1477.9L1487.1 1467.0L1492.5 1453.1L1497.8 1441.0L1503.6 1429.1" stroke="#747474" stroke-width="2.3" stroke-opacity="0.61"/><path d="M1503.6 1429.1L1509.8 1417.5L1516.4 1406.0L1523.5 1394.8L1530.9 1383.8" stroke="#747474" stroke-width="1.6" stroke-opacity="0.50"/><path d="M1530.9 1383.8L1538.7 1373.2L1546.9 1362.8L1556.6 1351.5L1564.3 1342.9" stroke="#747474" stroke-width="1.0" stroke-opacity="0.39"/>
<path d="M1434.9 1447.2L1436.9 1435.0L1439.7 1419.4L1442.8 1405.6L1446.3 1392.0" stroke="#a3a3a3" stroke-width="2.8" stroke-opacity="0.88"/><path d="M1446.3 1392.0L1450.3 1378.4L1454.8 1365.0L1459.6 1351.8L1465.0 1338.7" stroke="#a3a3a3" stroke-width="2.0" stroke-opacity="0.73"/><path d="M1465.0 1338.7L1470.7 1325.8L1476.9 1313.2L1484.5 1299.2L1490.5 1288.4" stroke="#a3a3a3" stroke-width="1.2" stroke-opacity="0.57"/>
<path d="M1398.1 1460.3L1397.8 1452.6L1397.3 1442.7L1396.6 1433.9L1395.7 1425.1" stroke="#b9b9b9" stroke-width="2.3" stroke-opacity="0.64"/><path d="M1395.7 1425.1L1394.6 1416.3L1393.3 1407.6L1391.9 1398.9L1390.2 1390.3" stroke="#b9b9b9" stroke-width="1.6" stroke-opacity="0.52"/><path d="M1390.2 1390.3L1388.4 1381.6L1386.3 1373.0L1383.8 1363.5L1381.7 1356.0" stroke="#b9b9b9" stroke-width="1.0" stroke-opacity="0.41"/>
<path d="M1382.9 1441.6L1382.6 1426.3L1382.4 1406.7L1382.6 1389.2L1383.2 1371.8" stroke="#949494" stroke-width="3.3" stroke-opacity="0.76"/><path d="M1383.2 1371.8L1384.1 1354.3L1385.3 1336.9L1386.9 1319.5L1388.8 1302.1" stroke="#949494" stroke-width="2.3" stroke-opacity="0.62"/><path d="M1388.8 1302.1L1391.0 1284.8L1393.6 1267.5L1397.0 1248.1L1399.7 1233.1" stroke="#949494" stroke-width="1.4" stroke-opacity="0.49"/>
<path d="M1405.9 1446.3L1405.0 1431.3L1403.8 1412.1L1402.6 1395.0L1401.3 1377.9" stroke="#a8a8a8" stroke-width="2.8" stroke-opacity="0.93"/><path d="M1401.3 1377.9L1399.9 1360.8L1398.5 1343.7L1396.9 1326.7L1395.3 1309.6" stroke="#a8a8a8" stroke-width="2.0" stroke-opacity="0.76"/><path d="M1395.3 1309.6L1393.6 1292.6L1391.8 1275.5L1389.6 1256.4L1387.9 1241.5" stroke="#a8a8a8" stroke-width="1.2" stroke-opacity="0.60"/>
<path d="M1396.1 1481.0L1396.4 1474.9L1396.8 1467.0L1397.2 1460.1L1397.6 1453.1" stroke="#c3c3c3" stroke-width="3.3" stroke-opacity="0.79"/><path d="M1397.6 1453.1L1398.0 1446.1L1398.5 1439.2L1399.1 1432.2L1399.6 1425.3" stroke="#c3c3c3" stroke-width="2.4" stroke-opacity="0.65"/><path d="M1399.6 1425.3L1400.2 1418.3L1400.9 1411.4L1401.7 1403.6L1402.3 1397.5" stroke="#c3c3c3" stroke-width="1.5" stroke-opacity="0.50"/>
<path d="M1553.7 1471.5L1556.8 1461.7L1561.0 1449.3L1565.4 1438.6L1570.4 1428.1" stroke="#787878" stroke-width="3.1" stroke-opacity="0.76"/><path d="M1570.4 1428.1L1575.9 1417.8L1581.9 1407.9L1588.4 1398.2L1595.4 1388.9" stroke="#787878" stroke-width="2.2" stroke-opacity="0.62"/><path d="M1595.4 1388.9L1602.8 1380.0L1610.7 1371.4L1620.2 1362.4L1627.7 1355.6" stroke="#787878" stroke-width="1.3" stroke-opacity="0.49"/>
<path d="M1420.8 1443.8L1419.1 1430.2L1416.8 1412.6L1414.6 1397.0L1412.3 1381.4" stroke="#818181" stroke-width="3.3" stroke-opacity="0.76"/><path d="M1412.3 1381.4L1409.9 1365.8L1407.4 1350.2L1404.8 1334.7L1402.0 1319.2" stroke="#818181" stroke-width="2.3" stroke-opacity="0.62"/><path d="M1402.0 1319.2L1399.1 1303.7L1396.2 1288.2L1392.6 1270.8L1389.8 1257.3" stroke="#818181" stroke-width="1.4" stroke-opacity="0.48"/>
<path d="M1429.8 1477.5L1429.8 1463.7L1429.4 1446.0L1428.6 1430.3L1427.2 1414.7" stroke="#bebebe" stroke-width="3.0" stroke-opacity="0.79"/><path d="M1427.2 1414.7L1425.5 1399.0L1423.2 1383.5L1420.5 1368.0L1417.3 1352.6" stroke="#bebebe" stroke-width="2.2" stroke-opacity="0.65"/><path d="M1417.3 1352.6L1413.7 1337.3L1409.7 1322.1L1404.5 1305.2L1400.2 1292.1" stroke="#bebebe" stroke-width="1.3" stroke-opacity="0.51"/>
<path d="M1445.6 1452.6L1446.5 1446.2L1447.6 1438.0L1448.5 1430.7L1449.3 1423.4" stroke="#a8a8a8" stroke-width="3.0" stroke-opacity="0.75"/><path d="M1449.3 1423.4L1450.0 1416.1L1450.6 1408.8L1451.2 1401.5L1451.7 1394.1" stroke="#a8a8a8" stroke-width="2.2" stroke-opacity="0.62"/><path d="M1451.7 1394.1L1452.1 1386.8L1452.4 1379.4L1452.6 1371.2L1452.8 1364.8" stroke="#a8a8a8" stroke-width="1.3" stroke-opacity="0.48"/>
<path d="M1395.7 1467.7L1395.4 1460.6L1394.9 1451.4L1394.8 1443.3L1394.8 1435.1" stroke="#bdbdbd" stroke-width="2.4" stroke-opacity="0.72"/><path d="M1394.8 1435.1L1394.9 1427.0L1395.2 1418.8L1395.7 1410.6L1396.3 1402.5" stroke="#bdbdbd" stroke-width="1.7" stroke-opacity="0.59"/><path d="M1396.3 1402.5L1397.1 1394.4L1398.1 1386.3L1399.4 1377.2L1400.5 1370.1" stroke="#bdbdbd" stroke-width="1.0" stroke-opacity="0.46"/>
<path d="M1368.5 1480.2L1367.4 1465.2L1365.8 1446.1L1364.1 1429.0L1362.0 1412.0" stroke="#747474" stroke-width="2.6" stroke-opacity="0.70"/><path d="M1362.0 1412.0L1359.8 1395.1L1357.2 1378.1L1354.4 1361.3L1351.4 1344.4" stroke="#747474" stroke-width="1.9" stroke-opacity="0.57"/><path d="M1351.4 1344.4L1348.1 1327.6L1344.6 1310.9L1340.2 1292.1L1336.7 1277.6" stroke="#747474" stroke-width="1.1" stroke-opacity="0.45"/>
<path d="M1478.7 1481.7L1479.3 1469.7L1480.1 1454.3L1480.7 1440.7L1481.3 1427.0" stroke="#7a7a7a" stroke-width="3.2" stroke-opacity="0.77"/><path d="M1481.3 1427.0L1481.8 1413.4L1482.3 1399.7L1482.7 1386.0L1483.1 1372.3" stroke="#7a7a7a" stroke-width="2.3" stroke-opacity="0.63"/><path d="M1483.1 1372.3L1483.5 1358.7L1483.7 1345.0L1484.0 1329.6L1484.2 1317.6" stroke="#7a7a7a" stroke-width="1.4" stroke-opacity="0.50"/>
<path d="M1513.2 1468.3L1515.2 1459.0L1517.9 1447.1L1520.4 1436.5L1522.9 1425.9" stroke="#939393" stroke-width="2.2" stroke-opacity="0.61"/><path d="M1522.9 1425.9L1525.4 1415.3L1528.0 1404.7L1530.7 1394.2L1533.4 1383.7" stroke="#939393" stroke-width="1.6" stroke-opacity="0.50"/><path d="M1533.4 1383.7L1536.1 1373.1L1539.0 1362.6L1542.2 1350.8L1544.7 1341.7" stroke="#939393" stroke-width="1.0" stroke-opacity="0.39"/>
<path d="M1534.3 1468.1L1537.8 1456.5L1542.1 1441.7L1545.6 1428.4L1548.9 1415.0" stroke="#848484" stroke-width="2.7" stroke-opacity="0.64"/><path d="M1548.9 1415.0L1551.8 1401.5L1554.5 1388.0L1556.8 1374.5L1558.9 1360.9" stroke="#848484" stroke-width="1.9" stroke-opacity="0.52"/><path d="M1558.9 1360.9L1560.7 1347.2L1562.2 1333.6L1563.5 1318.1L1564.3 1306.1" stroke="#848484" stroke-width="1.2" stroke-opacity="0.41"/>
<path d="M1452.8 1445.1L1452.4 1429.4L1451.8 1409.2L1451.2 1391.2L1450.6 1373.2" stroke="#ababab" stroke-width="2.9" stroke-opacity="0.61"/><path d="M1450.6 1373.2L1450.1 1355.3L1449.5 1337.3L1448.9 1319.4L1448.3 1301.4" stroke="#ababab" stroke-width="2.1" stroke-opacity="0.50"/><path d="M1448.3 1301.4L1447.6 1283.5L1447.0 1265.5L1446.3 1245.3L1445.7 1229.6" stroke="#ababab" stroke-width="1.3" stroke-opacity="0.39"/>
<path d="M1519.0 1451.6L1523.4 1436.7L1529.2 1417.7L1534.9 1400.9L1540.8 1384.3" stroke="#b0b0b0" stroke-width="2.5" stroke-opacity="0.95"/><path d="M1540.8 1384.3L1547.2 1367.8L1553.8 1351.4L1560.8 1335.1L1568.1 1319.0" stroke="#b0b0b0" stroke-width="1.8" stroke-opacity="0.78"/><path d="M1568.1 1319.0L1575.8 1303.0L1583.8 1287.3L1593.2 1269.7L1600.7 1256.2" stroke="#b0b0b0" stroke-width="1.1" stroke-opacity="0.60"/>
<path d="M1483.9 1469.2L1484.3 1462.0L1484.8 1452.8L1485.3 1444.5L1485.9 1436.3" stroke="#a8a8a8" stroke-width="2.2" stroke-opacity="0.86"/><path d="M1485.9 1436.3L1486.4 1428.1L1487.0 1419.8L1487.6 1411.6L1488.3 1403.4" stroke="#a8a8a8" stroke-width="1.6" stroke-opacity="0.70"/><path d="M1488.3 1403.4L1489.0 1395.2L1489.7 1387.0L1490.5 1377.7L1491.2 1370.5" stroke="#a8a8a8" stroke-width="1.0" stroke-opacity="0.55"/>
<path d="M1454.0 1469.8L1452.6 1454.6L1450.7 1435.0L1448.8 1417.6L1446.9 1400.2" stroke="#828282" stroke-width="2.5" stroke-opacity="0.66"/><path d="M1446.9 1400.2L1444.9 1382.8L1442.8 1365.5L1440.6 1348.1L1438.3 1330.8" stroke="#828282" stroke-width="1.8" stroke-opacity="0.54"/><path d="M1438.3 1330.8L1435.9 1313.5L1433.4 1296.2L1430.5 1276.7L1428.1 1261.6" stroke="#828282" stroke-width="1.1" stroke-opacity="0.42"/>
<path d="M1405.1 1480.6L1405.9 1472.2L1406.8 1461.5L1407.7 1451.9L1408.5 1442.4" stroke="#b9b9b9" stroke-width="2.9" stroke-opacity="0.86"/><path d="M1408.5 1442.4L1409.3 1432.8L1410.1 1423.3L1410.9 1413.7L1411.7 1404.1" stroke="#b9b9b9" stroke-width="2.1" stroke-opacity="0.71"/><path d="M1411.7 1404.1L1412.4 1394.6L1413.2 1385.0L1414.0 1374.2L1414.6 1365.9" stroke="#b9b9b9" stroke-width="1.3" stroke-opacity="0.55"/>
<path d="M1541.7 1453.1L1550.3 1438.3L1561.2 1419.1L1570.4 1401.8L1579.4 1384.4" stroke="#777777" stroke-width="2.7" stroke-opacity="0.72"/><path d="M1579.4 1384.4L1588.1 1366.8L1596.5 1349.1L1604.5 1331.2L1612.3 1313.2" stroke="#777777" stroke-width="1.9" stroke-opacity="0.59"/><path d="M1612.3 1313.2L1619.7 1295.1L1626.8 1276.8L1634.4 1256.1L1640.1 1239.9" stroke="#777777" stroke-width="1.2" stroke-opacity="0.46"/>
<path d="M1404.4 1467.3L1404.6 1456.6L1405.1 1442.9L1405.6 1430.7L1406.3 1418.4" stroke="#747474" stroke-width="2.8" stroke-opacity="0.75"/><path d="M1406.3 1418.4L1407.1 1406.2L1408.0 1394.0L1409.1 1381.9L1410.3 1369.7" stroke="#747474" stroke-width="2.0" stroke-opacity="0.61"/><path d="M1410.3 1369.7L1411.7 1357.5L1413.2 1345.4L1415.1 1331.8L1416.6 1321.2" stroke="#747474" stroke-width="1.2" stroke-opacity="0.48"/>
<path d="M1411.2 1453.2L1410.6 1445.4L1409.7 1435.4L1408.7 1426.5L1407.6 1417.6" stroke="#c2c2c2" stroke-width="3.3" stroke-opacity="0.82"/><path d="M1407.6 1417.6L1406.4 1408.8L1405.0 1399.9L1403.5 1391.1L1401.9 1382.3" stroke="#c2c2c2" stroke-width="2.3" stroke-opacity="0.67"/><path d="M1401.9 1382.3L1400.2 1373.5L1398.3 1364.8L1396.1 1355.0L1394.2 1347.4" stroke="#c2c2c2" stroke-width="1.4" stroke-opacity="0.53"/>
<path d="M1520.2 1447.6L1524.1 1433.4L1529.1 1415.1L1534.0 1399.0L1539.1 1382.9" stroke="#a4a4a4" stroke-width="2.5" stroke-opacity="0.62"/><path d="M1539.1 1382.9L1544.5 1367.0L1550.2 1351.1L1556.2 1335.4L1562.4 1319.7" stroke="#a4a4a4" stroke-width="1.8" stroke-opacity="0.51"/><path d="M1562.4 1319.7L1568.9 1304.2L1575.7 1288.7L1583.6 1271.6L1590.0 1258.2" stroke="#a4a4a4" stroke-width="1.1" stroke-opacity="0.40"/>
<path d="M1370.6 1456.4L1371.4 1442.4L1372.4 1424.5L1373.2 1408.5L1374.0 1392.5" stroke="#a9a9a9" stroke-width="3.4" stroke-opacity="0.86"/><path d="M1374.0 1392.5L1374.7 1376.5L1375.4 1360.5L1375.9 1344.5L1376.5 1328.5" stroke="#a9a9a9" stroke-width="2.4" stroke-opacity="0.71"/><path d="M1376.5 1328.5L1376.9 1312.6L1377.3 1296.6L1377.7 1278.6L1377.9 1264.6" stroke="#a9a9a9" stroke-width="1.5" stroke-opacity="0.55"/>
<path d="M1519.8 1459.5L1522.5 1449.1L1525.7 1435.7L1528.2 1423.7L1530.4 1411.7" stroke="#848484" stroke-width="2.9" stroke-opacity="0.86"/><path d="M1530.4 1411.7L1532.3 1399.6L1533.9 1387.5L1535.2 1375.3L1536.2 1363.1" stroke="#848484" stroke-width="2.1" stroke-opacity="0.71"/><path d="M1536.2 1363.1L1536.9 1350.9L1537.2 1338.6L1537.2 1324.8L1537.1 1314.1" stroke="#848484" stroke-width="1.3" stroke-opacity="0.55"/>
<path d="M1480.4 1462.3L1482.8 1445.4L1486.0 1423.6L1489.4 1404.4L1493.2 1385.2" stroke="#b3b3b3" stroke-width="3.3" stroke-opacity="0.79"/><path d="M1493.2 1385.2L1497.4 1366.1L1502.0 1347.1L1507.0 1328.2L1512.4 1309.5" stroke="#b3b3b3" stroke-width="2.4" stroke-opacity="0.65"/><path d="M1512.4 1309.5L1518.2 1290.8L1524.4 1272.3L1531.9 1251.6L1538.0 1235.6" stroke="#b3b3b3" stroke-width="1.5" stroke-opacity="0.51"/>
<path d="M1428.9 1471.0L1429.6 1456.1L1430.7 1437.0L1432.1 1420.0L1433.9 1403.1" stroke="#818181" stroke-width="2.9" stroke-opacity="0.64"/><path d="M1433.9 1403.1L1436.1 1386.2L1438.7 1369.4L1441.6 1352.6L1444.9 1335.9" stroke="#818181" stroke-width="2.1" stroke-opacity="0.52"/><path d="M1444.9 1335.9L1448.5 1319.2L1452.6 1302.7L1457.6 1284.2L1461.7 1269.8" stroke="#818181" stroke-width="1.3" stroke-opacity="0.41"/>
<path d="M1540.8 1480.7L1544.3 1474.9L1548.9 1467.6L1553.2 1461.2L1557.8 1455.0" stroke="#bbbbbb" stroke-width="2.0" stroke-opacity="0.69"/><path d="M1557.8 1455.0L1562.6 1448.9L1567.5 1443.0L1572.7 1437.3L1578.0 1431.7" stroke="#bbbbbb" stroke-width="1.5" stroke-opacity="0.57"/><path d="M1578.0 1431.7L1583.6 1426.4L1589.3 1421.2L1595.9 1415.6L1601.2 1411.4" stroke="#bbbbbb" stroke-width="0.9" stroke-opacity="0.44"/>
<path d="M1468.6 1457.7L1469.7 1441.3L1471.3 1420.3L1472.8 1401.5L1474.4 1382.8" stroke="#b9b9b9" stroke-width="3.1" stroke-opacity="0.66"/><path d="M1474.4 1382.8L1476.1 1364.1L1477.9 1345.4L1479.8 1326.7L1481.8 1308.1" stroke="#b9b9b9" stroke-width="2.3" stroke-opacity="0.54"/><path d="M1481.8 1308.1L1483.9 1289.4L1486.1 1270.8L1488.7 1249.8L1490.8 1233.5" stroke="#b9b9b9" stroke-width="1.4" stroke-opacity="0.42"/>
<path d="M1405.7 1442.6L1404.7 1425.5L1403.4 1403.6L1402.0 1384.2L1400.5 1364.7" stroke="#bcbcbc" stroke-width="3.1" stroke-opacity="0.75"/><path d="M1400.5 1364.7L1398.8 1345.3L1397.0 1325.8L1395.1 1306.4L1393.0 1287.0" stroke="#bcbcbc" stroke-width="2.2" stroke-opacity="0.61"/><path d="M1393.0 1287.0L1390.8 1267.6L1388.4 1248.2L1385.6 1226.5L1383.3 1209.6" stroke="#bcbcbc" stroke-width="1.3" stroke-opacity="0.48"/>
<path d="M1372.8 1440.8L1372.3 1427.5L1371.7 1410.4L1371.2 1395.3L1370.8 1380.1" stroke="#8a8a8a" stroke-width="3.2" stroke-opacity="0.63"/><path d="M1370.8 1380.1L1370.3 1364.9L1369.9 1349.8L1369.6 1334.6L1369.2 1319.4" stroke="#8a8a8a" stroke-width="2.3" stroke-opacity="0.52"/><path d="M1369.2 1319.4L1368.9 1304.3L1368.6 1289.1L1368.4 1272.0L1368.2 1258.8" stroke="#8a8a8a" stroke-width="1.4" stroke-opacity="0.40"/>
<path d="M1426.6 1468.2L1425.4 1460.0L1423.8 1449.6L1422.1 1440.3L1420.3 1431.1" stroke="#878787" stroke-width="3.1" stroke-opacity="0.83"/><path d="M1420.3 1431.1L1418.3 1421.9L1416.1 1412.7L1413.8 1403.6L1411.3 1394.6" stroke="#878787" stroke-width="2.3" stroke-opacity="0.68"/><path d="M1411.3 1394.6L1408.6 1385.6L1405.8 1376.6L1402.4 1366.6L1399.6 1358.8" stroke="#878787" stroke-width="1.4" stroke-opacity="0.53"/>
<path d="M1385.3 1475.2L1384.9 1467.4L1384.3 1457.4L1383.6 1448.5L1382.9 1439.6" stroke="#848484" stroke-width="3.2" stroke-opacity="0.69"/><path d="M1382.9 1439.6L1382.1 1430.7L1381.1 1421.9L1380.1 1413.0L1379.1 1404.1" stroke="#848484" stroke-width="2.3" stroke-opacity="0.57"/><path d="M1379.1 1404.1L1377.9 1395.3L1376.6 1386.5L1375.1 1376.5L1373.8 1368.8" stroke="#848484" stroke-width="1.4" stroke-opacity="0.44"/>
<path d="M1479.2 1474.6L1478.6 1458.2L1477.5 1437.2L1475.7 1418.5L1473.3 1400.0" stroke="#777777" stroke-width="2.9" stroke-opacity="0.73"/><path d="M1473.3 1400.0L1470.2 1381.5L1466.6 1363.2L1462.3 1344.9L1457.4 1326.9" stroke="#777777" stroke-width="2.1" stroke-opacity="0.60"/><path d="M1457.4 1326.9L1451.9 1309.0L1445.8 1291.3L1438.1 1271.7L1431.9 1256.5" stroke="#777777" stroke-width="1.3" stroke-opacity="0.47"/>
<path d="M1428.2 1474.1L1427.7 1461.0L1427.1 1444.2L1426.3 1429.2L1425.5 1414.3" stroke="#7e7e7e" stroke-width="2.5" stroke-opacity="0.80"/><path d="M1425.5 1414.3L1424.5 1399.3L1423.3 1384.4L1422.1 1369.5L1420.7 1354.6" stroke="#7e7e7e" stroke-width="1.8" stroke-opacity="0.65"/><path d="M1420.7 1354.6L1419.2 1339.7L1417.6 1324.8L1415.6 1308.1L1414.0 1295.1" stroke="#7e7e7e" stroke-width="1.1" stroke-opacity="0.51"/>
<path d="M1550.9 1444.0L1554.4 1438.4L1559.1 1431.3L1563.6 1425.2L1568.3 1419.2" stroke="#7c7c7c" stroke-width="2.2" stroke-opacity="0.91"/><path d="M1568.3 1419.2L1573.2 1413.4L1578.3 1407.8L1583.7 1402.4L1589.2 1397.2" stroke="#7c7c7c" stroke-width="1.6" stroke-opacity="0.75"/><path d="M1589.2 1397.2L1595.0 1392.3L1600.9 1387.5L1607.8 1382.5L1613.3 1378.7" stroke="#7c7c7c" stroke-width="1.0" stroke-opacity="0.58"/>
<path d="M1431.0 1448.7L1430.3 1439.4L1429.3 1427.5L1428.1 1416.9L1426.7 1406.4" stroke="#878787" stroke-width="2.6" stroke-opacity="0.83"/><path d="M1426.7 1406.4L1425.0 1395.9L1423.1 1385.4L1421.0 1375.0L1418.6 1364.7" stroke="#878787" stroke-width="1.8" stroke-opacity="0.68"/><path d="M1418.6 1364.7L1416.1 1354.3L1413.3 1344.1L1409.8 1332.7L1407.0 1323.8" stroke="#878787" stroke-width="1.1" stroke-opacity="0.53"/>
<path d="M1436.3 1470.8L1440.0 1454.5L1445.3 1433.7L1450.8 1415.4L1457.1 1397.3" stroke="#bcbcbc" stroke-width="2.2" stroke-opacity="0.90"/><path d="M1457.1 1397.3L1463.9 1379.5L1471.5 1361.9L1479.7 1344.7L1488.5 1327.7" stroke="#bcbcbc" stroke-width="1.6" stroke-opacity="0.74"/><path d="M1488.5 1327.7L1498.0 1311.1L1508.0 1294.9L1520.2 1277.2L1529.9 1263.6" stroke="#bcbcbc" stroke-width="1.0" stroke-opacity="0.57"/>
<path d="M1492.3 1467.5L1495.2 1457.5L1498.9 1444.8L1502.2 1433.4L1505.6 1422.1" stroke="#8a8a8a" stroke-width="2.7" stroke-opacity="0.78"/><path d="M1505.6 1422.1L1508.9 1410.7L1512.3 1399.4L1515.7 1388.1L1519.0 1376.7" stroke="#8a8a8a" stroke-width="2.0" stroke-opacity="0.64"/><path d="M1519.0 1376.7L1522.4 1365.4L1525.8 1354.1L1529.7 1341.4L1532.7 1331.5" stroke="#8a8a8a" stroke-width="1.2" stroke-opacity="0.50"/>
<path d="M1546.9 1466.7L1551.0 1450.5L1556.3 1429.6L1560.9 1411.1L1565.4 1392.5" stroke="#9d9d9d" stroke-width="3.0" stroke-opacity="0.85"/><path d="M1565.4 1392.5L1569.9 1373.9L1574.4 1355.3L1578.8 1336.7L1583.1 1318.1" stroke="#9d9d9d" stroke-width="2.2" stroke-opacity="0.70"/><path d="M1583.1 1318.1L1587.4 1299.5L1591.7 1280.9L1596.4 1259.9L1600.0 1243.5" stroke="#9d9d9d" stroke-width="1.3" stroke-opacity="0.55"/>
<path d="M1520.7 1477.5L1525.6 1462.2L1531.8 1442.7L1537.1 1425.2L1542.3 1407.7" stroke="#9d9d9d" stroke-width="2.9" stroke-opacity="0.90"/><path d="M1542.3 1407.7L1547.4 1390.2L1552.4 1372.7L1557.2 1355.1L1561.9 1337.5" stroke="#9d9d9d" stroke-width="2.1" stroke-opacity="0.74"/><path d="M1561.9 1337.5L1566.5 1319.8L1571.0 1302.1L1575.8 1282.2L1579.5 1266.6" stroke="#9d9d9d" stroke-width="1.3" stroke-opacity="0.57"/>
<path d="M1416.7 1444.9L1415.5 1427.7L1413.9 1405.7L1412.3 1386.1L1410.6 1366.6" stroke="#7e7e7e" stroke-width="3.1" stroke-opacity="0.78"/><path d="M1410.6 1366.6L1408.7 1347.0L1406.7 1327.5L1404.6 1308.0L1402.3 1288.5" stroke="#7e7e7e" stroke-width="2.3" stroke-opacity="0.64"/><path d="M1402.3 1288.5L1399.9 1269.0L1397.3 1249.5L1394.3 1227.6L1391.9 1210.6" stroke="#7e7e7e" stroke-width="1.4" stroke-opacity="0.50"/>
<path d="M1414.1 1479.7L1414.1 1471.9L1414.3 1461.8L1414.6 1452.9L1414.9 1444.0" stroke="#a3a3a3" stroke-width="3.0" stroke-opacity="0.86"/><path d="M1414.9 1444.0L1415.3 1435.1L1415.9 1426.1L1416.5 1417.2L1417.2 1408.3" stroke="#a3a3a3" stroke-width="2.2" stroke-opacity="0.70"/><path d="M1417.2 1408.3L1418.0 1399.4L1418.8 1390.5L1419.9 1380.5L1420.8 1372.8" stroke="#a3a3a3" stroke-width="1.3" stroke-opacity="0.55"/>
<path d="M1429.2 1462.8L1428.2 1456.5L1426.9 1448.3L1425.6 1441.1L1424.1 1433.9" stroke="#7d7d7d" stroke-width="2.1" stroke-opacity="0.64"/><path d="M1424.1 1433.9L1422.6 1426.7L1420.9 1419.5L1419.2 1412.4L1417.3 1405.3" stroke="#7d7d7d" stroke-width="1.5" stroke-opacity="0.53"/><path d="M1417.3 1405.3L1415.3 1398.2L1413.2 1391.2L1410.7 1383.3L1408.7 1377.2" stroke="#7d7d7d" stroke-width="0.9" stroke-opacity="0.41"/>
<path d="M1399.3 1476.4L1399.1 1468.7L1398.9 1458.7L1398.8 1449.8L1398.8 1440.9" stroke="#adadad" stroke-width="3.1" stroke-opacity="0.92"/><path d="M1398.8 1440.9L1398.8 1432.0L1399.0 1423.1L1399.1 1414.2L1399.4 1405.3" stroke="#adadad" stroke-width="2.3" stroke-opacity="0.76"/><path d="M1399.4 1405.3L1399.7 1396.4L1400.0 1387.5L1400.6 1377.6L1401.0 1369.8" stroke="#adadad" stroke-width="1.4" stroke-opacity="0.59"/>
<path d="M1555.8 1448.6L1559.5 1436.4L1564.3 1420.8L1568.7 1406.9L1573.1 1393.1" stroke="#a5a5a5" stroke-width="3.1" stroke-opacity="0.86"/><path d="M1573.1 1393.1L1577.7 1379.2L1582.3 1365.4L1587.0 1351.7L1591.9 1338.0" stroke="#a5a5a5" stroke-width="2.2" stroke-opacity="0.70"/><path d="M1591.9 1338.0L1596.8 1324.3L1601.8 1310.6L1607.5 1295.3L1612.1 1283.4" stroke="#a5a5a5" stroke-width="1.4" stroke-opacity="0.55"/>
<path d="M1525.9 1474.6L1527.0 1468.4L1528.5 1460.4L1529.9 1453.3L1531.3 1446.2" stroke="#c1c1c1" stroke-width="2.6" stroke-opacity="0.68"/><path d="M1531.3 1446.2L1532.8 1439.1L1534.3 1432.0L1535.9 1424.9L1537.5 1417.9" stroke="#c1c1c1" stroke-width="1.9" stroke-opacity="0.56"/><path d="M1537.5 1417.9L1539.2 1410.8L1541.0 1403.8L1543.0 1395.9L1544.6 1389.8" stroke="#c1c1c1" stroke-width="1.2" stroke-opacity="0.44"/>
<path d="M1534.0 1467.6L1539.7 1452.7L1547.2 1433.6L1554.2 1416.8L1561.5 1400.1" stroke="#c3c3c3" stroke-width="3.2" stroke-opacity="0.60"/><path d="M1561.5 1400.1L1569.1 1383.5L1577.0 1367.1L1585.2 1350.8L1593.7 1334.7" stroke="#c3c3c3" stroke-width="2.3" stroke-opacity="0.49"/><path d="M1593.7 1334.7L1602.4 1318.7L1611.5 1302.9L1622.1 1285.3L1630.4 1271.7" stroke="#c3c3c3" stroke-width="1.4" stroke-opacity="0.38"/>
<path d="M1415.7 1460.4L1413.2 1443.3L1409.9 1421.3L1407.1 1401.8L1404.4 1382.3" stroke="#909090" stroke-width="3.4" stroke-opacity="0.90"/><path d="M1404.4 1382.3L1401.7 1362.8L1399.1 1343.2L1396.6 1323.6L1394.2 1304.1" stroke="#909090" stroke-width="2.4" stroke-opacity="0.74"/><path d="M1394.2 1304.1L1391.8 1284.5L1389.5 1264.9L1387.0 1242.9L1385.0 1225.7" stroke="#909090" stroke-width="1.5" stroke-opacity="0.58"/>
<path d="M1387.2 1470.9L1386.8 1455.7L1386.4 1436.1L1386.4 1418.7L1386.5 1401.3" stroke="#b9b9b9" stroke-width="2.3" stroke-opacity="0.63"/><path d="M1386.5 1401.3L1386.8 1383.9L1387.4 1366.5L1388.1 1349.1L1389.1 1331.7" stroke="#b9b9b9" stroke-width="1.6" stroke-opacity="0.52"/><path d="M1389.1 1331.7L1390.2 1314.3L1391.6 1297.0L1393.4 1277.5L1394.9 1262.3" stroke="#b9b9b9" stroke-width="1.0" stroke-opacity="0.40"/>
<path d="M1397.9 1448.1L1397.7 1436.0L1397.4 1420.5L1397.1 1406.8L1396.8 1393.0" stroke="#9d9d9d" stroke-width="2.1" stroke-opacity="0.80"/><path d="M1396.8 1393.0L1396.5 1379.2L1396.1 1365.4L1395.7 1351.7L1395.2 1337.9" stroke="#9d9d9d" stroke-width="1.5" stroke-opacity="0.66"/><path d="M1395.2 1337.9L1394.7 1324.1L1394.2 1310.4L1393.6 1294.9L1393.1 1282.8" stroke="#9d9d9d" stroke-width="0.9" stroke-opacity="0.51"/>
<path d="M1463.0 1469.4L1461.1 1454.8L1458.6 1436.2L1456.3 1419.6L1453.7 1403.0" stroke="#898989" stroke-width="2.0" stroke-opacity="0.62"/><path d="M1453.7 1403.0L1451.0 1386.5L1448.2 1370.0L1445.2 1353.5L1442.1 1337.1" stroke="#898989" stroke-width="1.4" stroke-opacity="0.51"/><path d="M1442.1 1337.1L1438.8 1320.6L1435.4 1304.2L1431.3 1285.8L1428.1 1271.6" stroke="#898989" stroke-width="0.9" stroke-opacity="0.40"/>
<path d="M1384.8 1482.0L1385.8 1468.2L1387.0 1450.4L1387.9 1434.6L1388.6 1418.8" stroke="#b3b3b3" stroke-width="3.1" stroke-opacity="0.62"/><path d="M1388.6 1418.8L1389.1 1403.0L1389.5 1387.2L1389.7 1371.4L1389.8 1355.6" stroke="#b3b3b3" stroke-width="2.3" stroke-opacity="0.51"/><path d="M1389.8 1355.6L1389.7 1339.8L1389.4 1324.0L1388.9 1306.2L1388.5 1292.4" stroke="#b3b3b3" stroke-width="1.4" stroke-opacity="0.39"/>
<path d="M1372.7 1468.0L1373.2 1455.0L1373.8 1438.2L1374.4 1423.3L1375.0 1408.4" stroke="#8c8c8c" stroke-width="2.9" stroke-opacity="0.83"/><path d="M1375.0 1408.4L1375.6 1393.6L1376.2 1378.7L1376.9 1363.8L1377.5 1348.9" stroke="#8c8c8c" stroke-width="2.1" stroke-opacity="0.68"/><path d="M1377.5 1348.9L1378.2 1334.0L1378.8 1319.2L1379.6 1302.4L1380.2 1289.4" stroke="#8c8c8c" stroke-width="1.3" stroke-opacity="0.53"/>
<path d="M1427.7 1479.0L1425.2 1462.7L1421.9 1441.8L1418.9 1423.2L1415.9 1404.6" stroke="#a2a2a2" stroke-width="2.1" stroke-opacity="0.88"/><path d="M1415.9 1404.6L1412.7 1386.0L1409.5 1367.4L1406.2 1348.9L1402.8 1330.3" stroke="#a2a2a2" stroke-width="1.5" stroke-opacity="0.72"/><path d="M1402.8 1330.3L1399.4 1311.8L1395.9 1293.3L1391.9 1272.5L1388.7 1256.3" stroke="#a2a2a2" stroke-width="0.9" stroke-opacity="0.56"/>
<path d="M1526.0 1469.4L1529.7 1457.0L1535.0 1441.1L1540.7 1427.3L1547.1 1413.9" stroke="#7b7b7b" stroke-width="2.9" stroke-opacity="0.61"/><path d="M1547.1 1413.9L1554.2 1400.9L1562.0 1388.2L1570.5 1376.0L1579.7 1364.3" stroke="#7b7b7b" stroke-width="2.1" stroke-opacity="0.50"/><path d="M1579.7 1364.3L1589.5 1353.1L1599.9 1342.5L1612.4 1331.4L1622.4 1323.0" stroke="#7b7b7b" stroke-width="1.3" stroke-opacity="0.39"/>
<path d="M1378.3 1453.7L1377.1 1443.3L1375.6 1429.8L1374.1 1417.9L1372.4 1406.0" stroke="#8a8a8a" stroke-width="2.3" stroke-opacity="0.75"/><path d="M1372.4 1406.0L1370.7 1394.1L1368.8 1382.2L1366.7 1370.4L1364.6 1358.6" stroke="#8a8a8a" stroke-width="1.7" stroke-opacity="0.61"/><path d="M1364.6 1358.6L1362.3 1346.7L1359.9 1335.0L1357.0 1321.7L1354.7 1311.5" stroke="#8a8a8a" stroke-width="1.0" stroke-opacity="0.48"/>
<path d="M1385.2 1443.8L1384.6 1434.9L1383.9 1423.5L1383.2 1413.3L1382.5 1403.2" stroke="#7d7d7d" stroke-width="2.0" stroke-opacity="0.88"/><path d="M1382.5 1403.2L1381.8 1393.0L1381.0 1382.9L1380.3 1372.7L1379.5 1362.6" stroke="#7d7d7d" stroke-width="1.5" stroke-opacity="0.72"/><path d="M1379.5 1362.6L1378.7 1352.4L1377.9 1342.3L1376.9 1330.9L1376.2 1322.0" stroke="#7d7d7d" stroke-width="0.9" stroke-opacity="0.56"/>
<path d="M1397.8 1470.6L1399.3 1454.1L1401.4 1432.9L1403.4 1414.1L1405.7 1395.3" stroke="#7a7a7a" stroke-width="3.1" stroke-opacity="0.65"/><path d="M1405.7 1395.3L1408.1 1376.5L1410.6 1357.7L1413.4 1339.0L1416.3 1320.3" stroke="#7a7a7a" stroke-width="2.2" stroke-opacity="0.54"/><path d="M1416.3 1320.3L1419.4 1301.6L1422.7 1282.9L1426.6 1262.0L1429.7 1245.7" stroke="#7a7a7a" stroke-width="1.4" stroke-opacity="0.42"/>
<path d="M1537.2 1471.0L1541.4 1464.7L1546.9 1456.5L1551.8 1449.3L1556.7 1442.0" stroke="#aaaaaa" stroke-width="2.6" stroke-opacity="0.80"/><path d="M1556.7 1442.0L1561.7 1434.8L1566.6 1427.6L1571.5 1420.3L1576.5 1413.1" stroke="#aaaaaa" stroke-width="1.9" stroke-opacity="0.66"/><path d="M1576.5 1413.1L1581.5 1405.9L1586.4 1398.7L1592.1 1390.6L1596.4 1384.3" stroke="#aaaaaa" stroke-width="1.1" stroke-opacity="0.51"/>
<path d="M1539.0 1446.2L1544.8 1431.5L1552.4 1412.6L1559.4 1395.9L1566.6 1379.3" stroke="#ababab" stroke-width="3.1" stroke-opacity="0.76"/><path d="M1566.6 1379.3L1573.9 1362.8L1581.5 1346.4L1589.3 1330.1L1597.2 1313.8" stroke="#ababab" stroke-width="2.3" stroke-opacity="0.62"/><path d="M1597.2 1313.8L1605.4 1297.7L1613.7 1281.6L1623.3 1263.7L1630.9 1249.8" stroke="#ababab" stroke-width="1.4" stroke-opacity="0.48"/>
<path d="M1468.0 1443.1L1467.2 1426.4L1466.4 1404.8L1465.9 1385.7L1465.7 1366.5" stroke="#949494" stroke-width="3.3" stroke-opacity="0.84"/><path d="M1465.7 1366.5L1465.7 1347.3L1466.0 1328.1L1466.6 1309.0L1467.3 1289.8" stroke="#949494" stroke-width="2.4" stroke-opacity="0.69"/><path d="M1467.3 1289.8L1468.3 1270.7L1469.6 1251.5L1471.4 1230.0L1472.9 1213.3" stroke="#949494" stroke-width="1.5" stroke-opacity="0.54"/>
<path d="M1427.3 1476.7L1428.2 1465.6L1429.3 1451.4L1430.4 1438.7L1431.5 1426.1" stroke="#898989" stroke-width="2.8" stroke-opacity="0.94"/><path d="M1431.5 1426.1L1432.6 1413.4L1433.8 1400.8L1435.0 1388.1L1436.2 1375.5" stroke="#898989" stroke-width="2.0" stroke-opacity="0.77"/><path d="M1436.2 1375.5L1437.4 1362.9L1438.6 1350.2L1440.1 1336.0L1441.2 1325.0" stroke="#898989" stroke-width="1.2" stroke-opacity="0.60"/>
<path d="M1373.7 1480.5L1373.6 1473.6L1373.4 1464.7L1373.3 1456.8L1373.3 1448.9" stroke="#ababab" stroke-width="3.0" stroke-opacity="0.69"/><path d="M1373.3 1448.9L1373.2 1441.0L1373.2 1433.1L1373.2 1425.2L1373.2 1417.3" stroke="#ababab" stroke-width="2.1" stroke-opacity="0.56"/><path d="M1373.2 1417.3L1373.2 1409.4L1373.2 1401.6L1373.3 1392.7L1373.4 1385.8" stroke="#ababab" stroke-width="1.3" stroke-opacity="0.44"/>
<path d="M1427.6 1463.7L1427.8 1454.3L1428.0 1442.3L1428.2 1431.6L1428.3 1420.9" stroke="#7a7a7a" stroke-width="2.3" stroke-opacity="0.85"/><path d="M1428.3 1420.9L1428.4 1410.2L1428.5 1399.5L1428.5 1388.8L1428.5 1378.1" stroke="#7a7a7a" stroke-width="1.6" stroke-opacity="0.70"/><path d="M1428.5 1378.1L1428.4 1367.4L1428.4 1356.7L1428.2 1344.6L1428.1 1335.3" stroke="#7a7a7a" stroke-width="1.0" stroke-opacity="0.55"/>
<path d="M1446.9 1464.0L1446.5 1456.1L1446.0 1446.0L1445.6 1437.0L1445.2 1427.9" stroke="#bdbdbd" stroke-width="3.1" stroke-opacity="0.71"/><path d="M1445.2 1427.9L1445.0 1418.9L1444.7 1409.9L1444.6 1400.9L1444.5 1391.8" stroke="#bdbdbd" stroke-width="2.2" stroke-opacity="0.58"/><path d="M1444.5 1391.8L1444.4 1382.8L1444.4 1373.8L1444.5 1363.6L1444.6 1355.7" stroke="#bdbdbd" stroke-width="1.3" stroke-opacity="0.45"/>
<path d="M1530.5 1456.5L1533.7 1441.7L1537.9 1422.8L1542.1 1406.1L1546.5 1389.4" stroke="#a4a4a4" stroke-width="2.3" stroke-opacity="0.90"/><path d="M1546.5 1389.4L1551.2 1372.8L1556.2 1356.3L1561.5 1339.9L1567.0 1323.6" stroke="#a4a4a4" stroke-width="1.6" stroke-opacity="0.74"/><path d="M1567.0 1323.6L1572.8 1307.3L1578.9 1291.2L1586.2 1273.2L1592.0 1259.3" stroke="#a4a4a4" stroke-width="1.0" stroke-opacity="0.58"/>
<path d="M1388.5 1460.3L1387.8 1446.8L1387.0 1429.4L1386.5 1413.9L1386.2 1398.5" stroke="#9b9b9b" stroke-width="3.0" stroke-opacity="0.87"/><path d="M1386.2 1398.5L1386.0 1383.0L1386.0 1367.5L1386.2 1352.0L1386.5 1336.6" stroke="#9b9b9b" stroke-width="2.1" stroke-opacity="0.71"/><path d="M1386.5 1336.6L1387.1 1321.1L1387.7 1305.6L1388.7 1288.3L1389.6 1274.8" stroke="#9b9b9b" stroke-width="1.3" stroke-opacity="0.55"/>
<path d="M1497.0 1446.3L1498.6 1438.0L1500.9 1427.3L1503.1 1417.8L1505.6 1408.4" stroke="#9d9d9d" stroke-width="3.3" stroke-opacity="0.73"/><path d="M1505.6 1408.4L1508.2 1399.1L1511.0 1389.8L1514.0 1380.5L1517.2 1371.3" stroke="#9d9d9d" stroke-width="2.4" stroke-opacity="0.60"/><path d="M1517.2 1371.3L1520.5 1362.2L1524.1 1353.2L1528.3 1343.1L1531.7 1335.3" stroke="#9d9d9d" stroke-width="1.4" stroke-opacity="0.47"/>
<path d="M1442.9 1461.8L1446.2 1447.1L1450.6 1428.1L1454.5 1411.3L1458.4 1394.5" stroke="#8f8f8f" stroke-width="2.4" stroke-opacity="0.68"/><path d="M1458.4 1394.5L1462.3 1377.7L1466.2 1360.9L1470.2 1344.1L1474.1 1327.3" stroke="#8f8f8f" stroke-width="1.7" stroke-opacity="0.56"/><path d="M1474.1 1327.3L1478.1 1310.5L1482.1 1293.7L1486.6 1274.8L1490.1 1260.1" stroke="#8f8f8f" stroke-width="1.0" stroke-opacity="0.44"/>
<path d="M1368.2 1466.8L1366.4 1452.5L1364.2 1434.0L1362.0 1417.6L1359.7 1401.3" stroke="#797979" stroke-width="3.1" stroke-opacity="0.75"/><path d="M1359.7 1401.3L1357.3 1384.9L1354.7 1368.6L1352.0 1352.3L1349.2 1336.0" stroke="#797979" stroke-width="2.3" stroke-opacity="0.61"/><path d="M1349.2 1336.0L1346.3 1319.8L1343.2 1303.6L1339.6 1285.3L1336.7 1271.2" stroke="#797979" stroke-width="1.4" stroke-opacity="0.48"/>
<path d="M1453.7 1440.2L1455.5 1428.7L1457.9 1414.0L1460.5 1401.0L1463.3 1388.1" stroke="#757575" stroke-width="3.0" stroke-opacity="0.72"/><path d="M1463.3 1388.1L1466.5 1375.2L1470.0 1362.5L1473.8 1349.8L1477.9 1337.2" stroke="#757575" stroke-width="2.1" stroke-opacity="0.59"/><path d="M1477.9 1337.2L1482.3 1324.7L1487.0 1312.3L1492.7 1298.5L1497.3 1287.9" stroke="#757575" stroke-width="1.3" stroke-opacity="0.46"/>
<path d="M1522.8 1471.8L1526.7 1458.7L1531.6 1441.9L1536.0 1426.9L1540.4 1411.9" stroke="#b4b4b4" stroke-width="3.0" stroke-opacity="0.67"/><path d="M1540.4 1411.9L1544.9 1396.9L1549.3 1381.9L1553.7 1367.0L1558.2 1352.0" stroke="#b4b4b4" stroke-width="2.2" stroke-opacity="0.55"/><path d="M1558.2 1352.0L1562.6 1337.0L1567.1 1322.0L1572.1 1305.2L1576.0 1292.1" stroke="#b4b4b4" stroke-width="1.3" stroke-opacity="0.43"/>
<path d="M1475.1 1448.2L1475.0 1430.9L1475.0 1408.6L1474.8 1388.8L1474.6 1369.0" stroke="#9e9e9e" stroke-width="3.2" stroke-opacity="0.60"/><path d="M1474.6 1369.0L1474.3 1349.2L1474.0 1329.4L1473.6 1309.6L1473.1 1289.8" stroke="#9e9e9e" stroke-width="2.3" stroke-opacity="0.50"/><path d="M1473.1 1289.8L1472.6 1270.0L1472.0 1250.2L1471.2 1227.9L1470.6 1210.6" stroke="#9e9e9e" stroke-width="1.4" stroke-opacity="0.39"/>
<path d="M1423.4 1440.4L1424.2 1432.0L1425.2 1421.3L1426.0 1411.7L1426.7 1402.1" stroke="#8e8e8e" stroke-width="2.9" stroke-opacity="0.79"/><path d="M1426.7 1402.1L1427.4 1392.6L1428.0 1383.0L1428.6 1373.4L1429.1 1363.8" stroke="#8e8e8e" stroke-width="2.1" stroke-opacity="0.65"/><path d="M1429.1 1363.8L1429.5 1354.2L1429.8 1344.6L1430.2 1333.8L1430.4 1325.4" stroke="#8e8e8e" stroke-width="1.3" stroke-opacity="0.50"/>
<path d="M1525.5 1445.5L1528.8 1436.8L1533.0 1425.7L1536.5 1415.8L1539.9 1405.8" stroke="#aeaeae" stroke-width="2.1" stroke-opacity="0.62"/><path d="M1539.9 1405.8L1543.1 1395.7L1546.2 1385.6L1549.1 1375.5L1551.9 1365.3" stroke="#aeaeae" stroke-width="1.5" stroke-opacity="0.51"/><path d="M1551.9 1365.3L1554.6 1355.1L1557.1 1344.8L1559.7 1333.2L1561.6 1324.2" stroke="#aeaeae" stroke-width="0.9" stroke-opacity="0.40"/>
<path d="M1433.0 1455.9L1433.2 1447.4L1433.5 1436.4L1433.8 1426.7L1434.3 1417.0" stroke="#929292" stroke-width="3.4" stroke-opacity="0.88"/><path d="M1434.3 1417.0L1434.9 1407.2L1435.6 1397.5L1436.3 1387.8L1437.2 1378.1" stroke="#929292" stroke-width="2.4" stroke-opacity="0.72"/><path d="M1437.2 1378.1L1438.1 1368.4L1439.2 1358.7L1440.5 1347.9L1441.5 1339.4" stroke="#929292" stroke-width="1.5" stroke-opacity="0.56"/>
<path d="M1383.3 1474.6L1383.1 1462.1L1383.0 1445.9L1383.2 1431.6L1383.7 1417.3" stroke="#9a9a9a" stroke-width="3.2" stroke-opacity="0.61"/><path d="M1383.7 1417.3L1384.4 1403.0L1385.3 1388.7L1386.5 1374.4L1388.0 1360.2" stroke="#9a9a9a" stroke-width="2.3" stroke-opacity="0.50"/><path d="M1388.0 1360.2L1389.7 1345.9L1391.6 1331.7L1394.1 1315.8L1396.2 1303.5" stroke="#9a9a9a" stroke-width="1.4" stroke-opacity="0.39"/>
<path d="M1401.4 1473.2L1400.7 1466.6L1399.8 1458.1L1399.3 1450.5L1398.9 1442.9" stroke="#8a8a8a" stroke-width="2.7" stroke-opacity="0.76"/><path d="M1398.9 1442.9L1398.6 1435.3L1398.5 1427.7L1398.6 1420.1L1398.8 1412.5" stroke="#8a8a8a" stroke-width="2.0" stroke-opacity="0.62"/><path d="M1398.8 1412.5L1399.2 1404.9L1399.7 1397.3L1400.5 1388.8L1401.2 1382.2" stroke="#8a8a8a" stroke-width="1.2" stroke-opacity="0.49"/>
<path d="M1399.4 1472.9L1399.5 1466.1L1399.8 1457.3L1400.1 1449.5L1400.5 1441.6" stroke="#939393" stroke-width="2.5" stroke-opacity="0.94"/><path d="M1400.5 1441.6L1401.0 1433.8L1401.6 1426.0L1402.2 1418.2L1402.9 1410.4" stroke="#939393" stroke-width="1.8" stroke-opacity="0.77"/><path d="M1402.9 1410.4L1403.7 1402.6L1404.6 1394.9L1405.7 1386.1L1406.6 1379.3" stroke="#939393" stroke-width="1.1" stroke-opacity="0.60"/>
<path d="M1505.1 1440.1L1506.1 1425.3L1507.3 1406.3L1508.3 1389.4L1509.2 1372.4" stroke="#757575" stroke-width="2.3" stroke-opacity="0.83"/><path d="M1509.2 1372.4L1510.0 1355.5L1510.7 1338.5L1511.3 1321.6L1511.9 1304.6" stroke="#757575" stroke-width="1.7" stroke-opacity="0.68"/><path d="M1511.9 1304.6L1512.3 1287.7L1512.7 1270.7L1513.0 1251.6L1513.2 1236.8" stroke="#757575" stroke-width="1.0" stroke-opacity="0.53"/>
<path d="M1476.3 1450.4L1476.3 1441.4L1476.3 1429.9L1476.4 1419.6L1476.5 1409.3" stroke="#7e7e7e" stroke-width="3.1" stroke-opacity="0.72"/><path d="M1476.5 1409.3L1476.6 1399.0L1476.8 1388.7L1477.0 1378.4L1477.3 1368.1" stroke="#7e7e7e" stroke-width="2.2" stroke-opacity="0.59"/><path d="M1477.3 1368.1L1477.6 1357.8L1477.9 1347.6L1478.3 1336.0L1478.6 1327.0" stroke="#7e7e7e" stroke-width="1.4" stroke-opacity="0.46"/>
<path d="M1555.4 1453.8L1562.1 1439.1L1570.7 1420.3L1578.4 1403.5L1586.1 1386.8" stroke="#a0a0a0" stroke-width="2.8" stroke-opacity="0.85"/><path d="M1586.1 1386.8L1593.8 1370.0L1601.6 1353.3L1609.4 1336.6L1617.2 1319.9" stroke="#a0a0a0" stroke-width="2.0" stroke-opacity="0.70"/><path d="M1617.2 1319.9L1625.0 1303.2L1632.9 1286.5L1641.8 1267.8L1648.7 1253.2" stroke="#a0a0a0" stroke-width="1.2" stroke-opacity="0.55"/>
<path d="M1474.2 1450.4L1475.1 1435.4L1476.3 1416.0L1477.2 1398.8L1478.0 1381.6" stroke="#868686" stroke-width="2.6" stroke-opacity="0.92"/><path d="M1478.0 1381.6L1478.7 1364.4L1479.3 1347.2L1479.8 1330.0L1480.2 1312.8" stroke="#868686" stroke-width="1.9" stroke-opacity="0.75"/><path d="M1480.2 1312.8L1480.5 1295.6L1480.7 1278.4L1480.7 1259.0L1480.7 1244.0" stroke="#868686" stroke-width="1.1" stroke-opacity="0.59"/>
<path d="M1489.2 1472.0L1491.5 1461.6L1494.7 1448.4L1497.9 1436.8L1501.4 1425.2" stroke="#797979" stroke-width="3.2" stroke-opacity="0.90"/><path d="M1501.4 1425.2L1505.3 1413.7L1509.4 1402.3L1513.8 1391.1L1518.5 1380.0" stroke="#797979" stroke-width="2.3" stroke-opacity="0.74"/><path d="M1518.5 1380.0L1523.5 1369.0L1528.8 1358.1L1535.2 1346.1L1540.3 1336.8" stroke="#797979" stroke-width="1.4" stroke-opacity="0.58"/>
<path d="M1458.6 1447.1L1460.7 1432.4L1463.2 1413.4L1465.2 1396.5L1467.0 1379.6" stroke="#767676" stroke-width="3.3" stroke-opacity="0.89"/><path d="M1467.0 1379.6L1468.7 1362.7L1470.2 1345.8L1471.5 1328.8L1472.6 1311.9" stroke="#767676" stroke-width="2.4" stroke-opacity="0.73"/><path d="M1472.6 1311.9L1473.5 1294.9L1474.3 1277.9L1474.8 1258.8L1475.2 1243.9" stroke="#767676" stroke-width="1.5" stroke-opacity="0.57"/>
<path d="M1533.7 1476.4L1536.8 1465.5L1541.0 1451.7L1545.2 1439.6L1549.8 1427.5" stroke="#959595" stroke-width="2.5" stroke-opacity="0.74"/><path d="M1549.8 1427.5L1554.7 1415.7L1560.0 1404.0L1565.7 1392.4L1571.7 1381.0" stroke="#959595" stroke-width="1.8" stroke-opacity="0.61"/><path d="M1571.7 1381.0L1578.0 1369.8L1584.7 1358.9L1592.7 1346.8L1599.1 1337.5" stroke="#959595" stroke-width="1.1" stroke-opacity="0.47"/>
<path d="M1551.1 1450.9L1557.0 1439.2L1564.7 1424.1L1572.0 1410.9L1579.5 1397.9" stroke="#939393" stroke-width="2.6" stroke-opacity="0.86"/><path d="M1579.5 1397.9L1587.3 1385.0L1595.4 1372.3L1603.8 1359.8L1612.4 1347.5" stroke="#939393" stroke-width="1.9" stroke-opacity="0.70"/><path d="M1612.4 1347.5L1621.4 1335.4L1630.5 1323.5L1641.2 1310.4L1649.7 1300.2" stroke="#939393" stroke-width="1.2" stroke-opacity="0.55"/>
<path d="M1425.5 1461.7L1425.4 1454.0L1425.5 1444.1L1425.7 1435.3L1426.2 1426.5" stroke="#969696" stroke-width="2.7" stroke-opacity="0.65"/><path d="M1426.2 1426.5L1426.8 1417.7L1427.6 1408.9L1428.6 1400.1L1429.7 1391.4" stroke="#969696" stroke-width="1.9" stroke-opacity="0.54"/><path d="M1429.7 1391.4L1431.1 1382.7L1432.6 1374.0L1434.6 1364.3L1436.2 1356.8" stroke="#969696" stroke-width="1.2" stroke-opacity="0.42"/>
<path d="M1424.8 1481.6L1425.0 1470.0L1425.2 1455.1L1424.9 1441.8L1424.3 1428.6" stroke="#bbbbbb" stroke-width="3.1" stroke-opacity="0.90"/><path d="M1424.3 1428.6L1423.2 1415.4L1421.9 1402.2L1420.2 1389.1L1418.1 1376.0" stroke="#bbbbbb" stroke-width="2.3" stroke-opacity="0.74"/><path d="M1418.1 1376.0L1415.7 1362.9L1412.9 1350.0L1409.3 1335.5L1406.3 1324.3" stroke="#bbbbbb" stroke-width="1.4" stroke-opacity="0.58"/>
<path d="M1469.2 1447.6L1470.6 1441.4L1472.6 1433.5L1474.6 1426.5L1476.8 1419.6" stroke="#a2a2a2" stroke-width="2.6" stroke-opacity="0.79"/><path d="M1476.8 1419.6L1479.1 1412.7L1481.7 1405.9L1484.4 1399.2L1487.3 1392.6" stroke="#a2a2a2" stroke-width="1.9" stroke-opacity="0.64"/><path d="M1487.3 1392.6L1490.4 1386.0L1493.7 1379.5L1497.6 1372.3L1500.7 1366.8" stroke="#a2a2a2" stroke-width="1.2" stroke-opacity="0.50"/>
<path d="M1489.2 1468.8L1491.5 1462.0L1494.4 1453.2L1497.3 1445.5L1500.2 1437.9" stroke="#7b7b7b" stroke-width="2.8" stroke-opacity="0.78"/><path d="M1500.2 1437.9L1503.3 1430.3L1506.5 1422.7L1509.9 1415.2L1513.3 1407.8" stroke="#7b7b7b" stroke-width="2.0" stroke-opacity="0.64"/><path d="M1513.3 1407.8L1516.9 1400.4L1520.6 1393.1L1525.0 1385.0L1528.5 1378.7" stroke="#7b7b7b" stroke-width="1.2" stroke-opacity="0.50"/>
<path d="M1479.3 1472.7L1480.4 1463.9L1481.9 1452.5L1483.8 1442.5L1486.0 1432.6" stroke="#8a8a8a" stroke-width="3.4" stroke-opacity="0.91"/><path d="M1486.0 1432.6L1488.6 1422.8L1491.6 1413.0L1494.9 1403.4L1498.6 1393.9" stroke="#8a8a8a" stroke-width="2.4" stroke-opacity="0.74"/><path d="M1498.6 1393.9L1502.7 1384.6L1507.1 1375.4L1512.5 1365.3L1516.9 1357.6" stroke="#8a8a8a" stroke-width="1.5" stroke-opacity="0.58"/>
<path d="M1376.1 1445.4L1375.0 1432.9L1373.6 1416.8L1372.1 1402.5L1370.6 1388.3" stroke="#afafaf" stroke-width="2.4" stroke-opacity="0.73"/><path d="M1370.6 1388.3L1368.9 1374.0L1367.1 1359.8L1365.1 1345.6L1363.1 1331.4" stroke="#afafaf" stroke-width="1.7" stroke-opacity="0.60"/><path d="M1363.1 1331.4L1360.9 1317.2L1358.7 1303.0L1355.9 1287.1L1353.7 1274.7" stroke="#afafaf" stroke-width="1.1" stroke-opacity="0.46"/>
<path d="M1395.0 1452.2L1395.4 1446.1L1396.0 1438.3L1396.6 1431.4L1397.3 1424.5" stroke="#9f9f9f" stroke-width="2.7" stroke-opacity="0.92"/><path d="M1397.3 1424.5L1398.2 1417.6L1399.1 1410.8L1400.2 1403.9L1401.3 1397.1" stroke="#9f9f9f" stroke-width="1.9" stroke-opacity="0.75"/><path d="M1401.3 1397.1L1402.6 1390.3L1404.0 1383.5L1405.7 1375.8L1407.1 1369.9" stroke="#9f9f9f" stroke-width="1.2" stroke-opacity="0.59"/>
<path d="M1436.8 1455.7L1437.1 1440.0L1437.4 1419.8L1437.6 1401.8L1437.7 1383.8" stroke="#7c7c7c" stroke-width="2.8" stroke-opacity="0.67"/><path d="M1437.7 1383.8L1437.7 1365.8L1437.6 1347.9L1437.4 1329.9L1437.1 1311.9" stroke="#7c7c7c" stroke-width="2.0" stroke-opacity="0.55"/><path d="M1437.1 1311.9L1436.8 1293.9L1436.3 1276.0L1435.6 1255.7L1435.1 1240.0" stroke="#7c7c7c" stroke-width="1.2" stroke-opacity="0.43"/>
<path d="M1380.4 1441.0L1380.2 1428.0L1379.9 1411.4L1379.9 1396.5L1380.0 1381.7" stroke="#989898" stroke-width="2.5" stroke-opacity="0.64"/><path d="M1380.0 1381.7L1380.2 1366.8L1380.5 1352.0L1381.0 1337.1L1381.6 1322.3" stroke="#989898" stroke-width="1.8" stroke-opacity="0.52"/><path d="M1381.6 1322.3L1382.3 1307.5L1383.2 1292.7L1384.3 1276.0L1385.2 1263.0" stroke="#989898" stroke-width="1.1" stroke-opacity="0.41"/>
<path d="M1504.5 1469.0L1506.2 1462.4L1508.6 1453.9L1511.1 1446.6L1514.0 1439.3" stroke="#afafaf" stroke-width="2.8" stroke-opacity="0.89"/><path d="M1514.0 1439.3L1517.2 1432.2L1520.7 1425.2L1524.5 1418.4L1528.6 1411.7" stroke="#afafaf" stroke-width="2.0" stroke-opacity="0.73"/><path d="M1528.6 1411.7L1532.9 1405.3L1537.6 1399.0L1543.2 1392.3L1547.7 1387.1" stroke="#afafaf" stroke-width="1.2" stroke-opacity="0.57"/>
<path d="M1392.1 1455.8L1392.1 1447.9L1392.0 1437.8L1391.9 1428.8L1391.8 1419.8" stroke="#9a9a9a" stroke-width="3.1" stroke-opacity="0.63"/><path d="M1391.8 1419.8L1391.6 1410.8L1391.4 1401.8L1391.1 1392.9L1390.8 1383.9" stroke="#9a9a9a" stroke-width="2.2" stroke-opacity="0.51"/><path d="M1390.8 1383.9L1390.5 1374.9L1390.1 1365.9L1389.7 1355.8L1389.3 1347.9" stroke="#9a9a9a" stroke-width="1.3" stroke-opacity="0.40"/>
<path d="M1447.4 1446.6L1447.7 1437.9L1448.1 1426.8L1448.3 1416.9L1448.4 1407.0" stroke="#a6a6a6" stroke-width="3.1" stroke-opacity="0.64"/><path d="M1448.4 1407.0L1448.4 1397.1L1448.3 1387.2L1448.0 1377.2L1447.7 1367.3" stroke="#a6a6a6" stroke-width="2.3" stroke-opacity="0.52"/><path d="M1447.7 1367.3L1447.2 1357.4L1446.7 1347.5L1445.9 1336.4L1445.2 1327.8" stroke="#a6a6a6" stroke-width="1.4" stroke-opacity="0.41"/>
<path d="M1500.7 1472.2L1501.7 1458.2L1502.9 1440.1L1504.0 1424.0L1504.9 1408.0" stroke="#9c9c9c" stroke-width="3.1" stroke-opacity="0.81"/><path d="M1504.9 1408.0L1505.9 1391.9L1506.7 1375.8L1507.5 1359.7L1508.2 1343.7" stroke="#9c9c9c" stroke-width="2.3" stroke-opacity="0.67"/><path d="M1508.2 1343.7L1508.9 1327.6L1509.5 1311.5L1510.1 1293.4L1510.6 1279.3" stroke="#9c9c9c" stroke-width="1.4" stroke-opacity="0.52"/>
<path d="M1426.4 1441.4L1425.8 1434.6L1425.0 1425.9L1424.0 1418.2L1422.8 1410.5" stroke="#b6b6b6" stroke-width="2.8" stroke-opacity="0.76"/><path d="M1422.8 1410.5L1421.5 1402.8L1420.0 1395.2L1418.3 1387.6L1416.4 1380.0" stroke="#b6b6b6" stroke-width="2.0" stroke-opacity="0.62"/><path d="M1416.4 1380.0L1414.3 1372.5L1412.1 1365.1L1409.4 1356.8L1407.2 1350.3" stroke="#b6b6b6" stroke-width="1.2" stroke-opacity="0.49"/>
<path d="M1511.0 1446.2L1512.8 1439.3L1515.0 1430.3L1517.0 1422.4L1519.1 1414.5" stroke="#848484" stroke-width="2.3" stroke-opacity="0.84"/><path d="M1519.1 1414.5L1521.2 1406.5L1523.4 1398.6L1525.6 1390.7L1527.8 1382.8" stroke="#848484" stroke-width="1.6" stroke-opacity="0.69"/><path d="M1527.8 1382.8L1530.1 1375.0L1532.4 1367.1L1535.0 1358.3L1537.1 1351.4" stroke="#848484" stroke-width="1.0" stroke-opacity="0.54"/>
<path d="M1460.9 1441.8L1462.1 1434.3L1463.7 1424.7L1465.4 1416.2L1467.2 1407.7" stroke="#c1c1c1" stroke-width="2.9" stroke-opacity="0.83"/><path d="M1467.2 1407.7L1469.1 1399.3L1471.2 1390.9L1473.5 1382.5L1475.9 1374.2" stroke="#c1c1c1" stroke-width="2.1" stroke-opacity="0.68"/><path d="M1475.9 1374.2L1478.4 1366.0L1481.1 1357.7L1484.4 1348.6L1487.0 1341.4" stroke="#c1c1c1" stroke-width="1.3" stroke-opacity="0.53"/>
<path d="M1504.5 1473.5L1506.5 1466.2L1509.3 1456.9L1512.0 1448.7L1514.9 1440.6" stroke="#acacac" stroke-width="2.7" stroke-opacity="0.61"/><path d="M1514.9 1440.6L1518.0 1432.5L1521.3 1424.6L1524.8 1416.7L1528.4 1408.9" stroke="#acacac" stroke-width="1.9" stroke-opacity="0.50"/><path d="M1528.4 1408.9L1532.3 1401.2L1536.3 1393.6L1541.2 1385.1L1545.0 1378.6" stroke="#acacac" stroke-width="1.2" stroke-opacity="0.39"/>
<path d="M1541.8 1463.9L1545.7 1448.4L1550.8 1428.4L1555.4 1410.7L1560.0 1392.9" stroke="#7f7f7f" stroke-width="2.7" stroke-opacity="0.74"/><path d="M1560.0 1392.9L1564.7 1375.2L1569.5 1357.5L1574.3 1339.9L1579.2 1322.2" stroke="#7f7f7f" stroke-width="1.9" stroke-opacity="0.60"/><path d="M1579.2 1322.2L1584.1 1304.6L1589.1 1287.0L1594.8 1267.2L1599.3 1251.8" stroke="#7f7f7f" stroke-width="1.2" stroke-opacity="0.47"/>
<path d="M1488.9 1462.4L1492.2 1447.0L1496.9 1427.4L1501.7 1410.0L1507.1 1392.9" stroke="#9d9d9d" stroke-width="3.1" stroke-opacity="0.74"/><path d="M1507.1 1392.9L1513.1 1375.9L1519.6 1359.2L1526.7 1342.7L1534.4 1326.4" stroke="#9d9d9d" stroke-width="2.2" stroke-opacity="0.61"/><path d="M1534.4 1326.4L1542.5 1310.4L1551.2 1294.6L1561.7 1277.3L1570.1 1264.0" stroke="#9d9d9d" stroke-width="1.3" stroke-opacity="0.47"/>
<path d="M1539.5 1450.1L1544.6 1437.4L1551.5 1421.3L1558.2 1407.2L1565.3 1393.4" stroke="#767676" stroke-width="2.9" stroke-opacity="0.63"/><path d="M1565.3 1393.4L1572.9 1379.7L1580.9 1366.3L1589.3 1353.2L1598.2 1340.4" stroke="#767676" stroke-width="2.1" stroke-opacity="0.52"/><path d="M1598.2 1340.4L1607.4 1327.8L1617.1 1315.6L1628.5 1302.3L1637.5 1292.0" stroke="#767676" stroke-width="1.3" stroke-opacity="0.40"/>
<path d="M1476.2 1455.4L1477.3 1448.3L1478.8 1439.2L1480.3 1431.1L1482.0 1423.0" stroke="#a4a4a4" stroke-width="2.8" stroke-opacity="0.88"/><path d="M1482.0 1423.0L1483.8 1415.0L1485.8 1407.0L1488.0 1399.0L1490.3 1391.1" stroke="#a4a4a4" stroke-width="2.0" stroke-opacity="0.72"/><path d="M1490.3 1391.1L1492.8 1383.3L1495.4 1375.5L1498.6 1366.8L1501.1 1360.0" stroke="#a4a4a4" stroke-width="1.2" stroke-opacity="0.56"/>
<path d="M1467.3 1443.2L1469.9 1426.4L1473.4 1404.9L1476.8 1385.8L1480.5 1366.8" stroke="#b2b2b2" stroke-width="2.7" stroke-opacity="0.71"/><path d="M1480.5 1366.8L1484.4 1347.8L1488.6 1328.9L1493.1 1310.1L1497.9 1291.3" stroke="#b2b2b2" stroke-width="1.9" stroke-opacity="0.58"/><path d="M1497.9 1291.3L1502.9 1272.6L1508.2 1253.9L1514.5 1233.1L1519.5 1216.9" stroke="#b2b2b2" stroke-width="1.2" stroke-opacity="0.45"/>
<path d="M1465.5 1447.1L1466.0 1435.3L1466.7 1420.1L1467.3 1406.6L1468.1 1393.1" stroke="#bcbcbc" stroke-width="2.7" stroke-opacity="0.90"/><path d="M1468.1 1393.1L1468.8 1379.6L1469.6 1366.1L1470.5 1352.6L1471.4 1339.1" stroke="#bcbcbc" stroke-width="1.9" stroke-opacity="0.74"/><path d="M1471.4 1339.1L1472.4 1325.6L1473.5 1312.2L1474.7 1297.0L1475.7 1285.2" stroke="#bcbcbc" stroke-width="1.2" stroke-opacity="0.58"/>
<path d="M1555.3 1465.3L1559.8 1453.7L1565.6 1438.8L1570.4 1425.4L1575.0 1411.9" stroke="#969696" stroke-width="3.2" stroke-opacity="0.63"/><path d="M1575.0 1411.9L1579.3 1398.3L1583.4 1384.6L1587.2 1370.9L1590.8 1357.1" stroke="#969696" stroke-width="2.3" stroke-opacity="0.52"/><path d="M1590.8 1357.1L1594.2 1343.3L1597.3 1329.4L1600.5 1313.7L1602.8 1301.4" stroke="#969696" stroke-width="1.4" stroke-opacity="0.41"/>
<path d="M1396.1 1464.4L1395.3 1452.6L1394.0 1437.6L1392.6 1424.2L1391.0 1410.8" stroke="#888888" stroke-width="2.2" stroke-opacity="0.67"/><path d="M1391.0 1410.8L1389.1 1397.5L1387.0 1384.2L1384.7 1371.0L1382.1 1357.8" stroke="#888888" stroke-width="1.6" stroke-opacity="0.55"/><path d="M1382.1 1357.8L1379.4 1344.6L1376.4 1331.5L1372.6 1316.9L1369.7 1305.5" stroke="#888888" stroke-width="1.0" stroke-opacity="0.43"/>
<path d="M1405.9 1445.5L1406.6 1431.6L1407.6 1413.9L1408.8 1398.1L1410.2 1382.4" stroke="#989898" stroke-width="3.4" stroke-opacity="0.85"/><path d="M1410.2 1382.4L1411.8 1366.6L1413.6 1350.9L1415.6 1335.2L1417.9 1319.6" stroke="#989898" stroke-width="2.4" stroke-opacity="0.69"/><path d="M1417.9 1319.6L1420.4 1304.0L1423.1 1288.4L1426.5 1270.9L1429.2 1257.3" stroke="#989898" stroke-width="1.5" stroke-opacity="0.54"/>
<path d="M1459.4 1442.4L1460.8 1425.5L1462.7 1403.9L1464.9 1384.7L1467.4 1365.6" stroke="#8f8f8f" stroke-width="2.0" stroke-opacity="0.76"/><path d="M1467.4 1365.6L1470.2 1346.5L1473.3 1327.5L1476.8 1308.5L1480.6 1289.6" stroke="#8f8f8f" stroke-width="1.5" stroke-opacity="0.62"/><path d="M1480.6 1289.6L1484.7 1270.7L1489.1 1251.9L1494.6 1230.9L1499.0 1214.6" stroke="#8f8f8f" stroke-width="0.9" stroke-opacity="0.49"/>
<path d="M1450.4 1457.4L1448.5 1440.8L1445.8 1419.4L1442.8 1400.5L1439.5 1381.7" stroke="#8c8c8c" stroke-width="3.1" stroke-opacity="0.74"/><path d="M1439.5 1381.7L1435.7 1362.9L1431.5 1344.3L1426.8 1325.7L1421.8 1307.2" stroke="#8c8c8c" stroke-width="2.2" stroke-opacity="0.60"/><path d="M1421.8 1307.2L1416.4 1288.9L1410.5 1270.7L1403.3 1250.4L1397.6 1234.7" stroke="#8c8c8c" stroke-width="1.3" stroke-opacity="0.47"/>
<path d="M1449.7 1466.1L1449.8 1456.1L1449.9 1443.3L1449.8 1431.9L1449.5 1420.5" stroke="#989898" stroke-width="2.4" stroke-opacity="0.77"/><path d="M1449.5 1420.5L1449.0 1409.1L1448.3 1397.7L1447.5 1386.3L1446.5 1375.0" stroke="#989898" stroke-width="1.7" stroke-opacity="0.63"/><path d="M1446.5 1375.0L1445.3 1363.6L1444.0 1352.3L1442.2 1339.6L1440.8 1329.7" stroke="#989898" stroke-width="1.1" stroke-opacity="0.49"/>
<path d="M1448.4 1466.7L1450.0 1459.3L1452.2 1449.8L1454.4 1441.5L1456.8 1433.2" stroke="#8d8d8d" stroke-width="2.9" stroke-opacity="0.94"/><path d="M1456.8 1433.2L1459.5 1425.0L1462.4 1416.8L1465.6 1408.8L1468.9 1400.8" stroke="#8d8d8d" stroke-width="2.1" stroke-opacity="0.77"/><path d="M1468.9 1400.8L1472.5 1393.0L1476.3 1385.2L1480.8 1376.6L1484.5 1370.0" stroke="#8d8d8d" stroke-width="1.3" stroke-opacity="0.60"/>
<path d="M1518.5 1443.3L1523.8 1435.1L1530.6 1424.6L1536.8 1415.3L1543.2 1406.1" stroke="#c3c3c3" stroke-width="2.9" stroke-opacity="0.77"/><path d="M1543.2 1406.1L1549.7 1397.1L1556.3 1388.1L1563.0 1379.2L1569.9 1370.4" stroke="#c3c3c3" stroke-width="2.1" stroke-opacity="0.63"/><path d="M1569.9 1370.4L1576.8 1361.7L1584.0 1353.1L1592.1 1343.5L1598.5 1336.2" stroke="#c3c3c3" stroke-width="1.3" stroke-opacity="0.49"/>
<path d="M1369.4 1473.7L1369.0 1467.7L1368.4 1459.9L1368.0 1453.0L1367.5 1446.1" stroke="#b5b5b5" stroke-width="3.2" stroke-opacity="0.76"/><path d="M1367.5 1446.1L1367.1 1439.2L1366.7 1432.3L1366.3 1425.3L1366.0 1418.4" stroke="#b5b5b5" stroke-width="2.3" stroke-opacity="0.62"/><path d="M1366.0 1418.4L1365.6 1411.5L1365.3 1404.6L1365.0 1396.8L1364.7 1390.8" stroke="#b5b5b5" stroke-width="1.4" stroke-opacity="0.49"/>
<path d="M1445.6 1460.1L1445.7 1450.0L1445.8 1437.0L1446.0 1425.4L1446.3 1413.9" stroke="#7f7f7f" stroke-width="2.1" stroke-opacity="0.69"/><path d="M1446.3 1413.9L1446.7 1402.3L1447.1 1390.8L1447.6 1379.2L1448.1 1367.7" stroke="#7f7f7f" stroke-width="1.5" stroke-opacity="0.57"/><path d="M1448.1 1367.7L1448.7 1356.1L1449.4 1344.6L1450.2 1331.6L1450.9 1321.5" stroke="#7f7f7f" stroke-width="0.9" stroke-opacity="0.44"/>
<path d="M1427.5 1450.5L1427.7 1442.1L1428.1 1431.3L1428.8 1421.7L1429.7 1412.1" stroke="#afafaf" stroke-width="3.0" stroke-opacity="0.70"/><path d="M1429.7 1412.1L1430.8 1402.6L1432.2 1393.0L1433.8 1383.5L1435.6 1374.1" stroke="#afafaf" stroke-width="2.2" stroke-opacity="0.58"/><path d="M1435.6 1374.1L1437.7 1364.7L1439.9 1355.3L1442.8 1344.9L1445.2 1336.8" stroke="#afafaf" stroke-width="1.3" stroke-opacity="0.45"/>
<path d="M1515.3 1472.7L1517.3 1456.2L1520.2 1435.1L1523.2 1416.3L1526.4 1397.6" stroke="#888888" stroke-width="2.3" stroke-opacity="0.91"/><path d="M1526.4 1397.6L1530.1 1378.9L1534.0 1360.3L1538.3 1341.8L1542.9 1323.4" stroke="#888888" stroke-width="1.6" stroke-opacity="0.74"/><path d="M1542.9 1323.4L1547.8 1305.0L1553.1 1286.8L1559.4 1266.4L1564.5 1250.5" stroke="#888888" stroke-width="1.0" stroke-opacity="0.58"/>
<path d="M1506.5 1474.9L1508.0 1469.0L1510.0 1461.6L1512.2 1455.1L1514.6 1448.6" stroke="#7f7f7f" stroke-width="2.0" stroke-opacity="0.93"/><path d="M1514.6 1448.6L1517.3 1442.3L1520.2 1436.0L1523.3 1429.9L1526.7 1423.9" stroke="#7f7f7f" stroke-width="1.4" stroke-opacity="0.77"/><path d="M1526.7 1423.9L1530.3 1418.1L1534.2 1412.4L1538.8 1406.2L1542.5 1401.4" stroke="#7f7f7f" stroke-width="0.9" stroke-opacity="0.60"/>
<path d="M1492.3 1481.7L1493.6 1469.6L1495.6 1454.0L1497.9 1440.3L1500.6 1426.7" stroke="#acacac" stroke-width="3.0" stroke-opacity="0.80"/><path d="M1500.6 1426.7L1503.9 1413.1L1507.5 1399.7L1511.7 1386.3L1516.2 1373.2" stroke="#acacac" stroke-width="2.1" stroke-opacity="0.65"/><path d="M1516.2 1373.2L1521.2 1360.2L1526.6 1347.3L1533.4 1333.2L1538.8 1322.3" stroke="#acacac" stroke-width="1.3" stroke-opacity="0.51"/>
<path d="M1506.7 1479.2L1508.5 1470.1L1510.9 1458.5L1513.1 1448.2L1515.4 1437.9" stroke="#a8a8a8" stroke-width="3.4" stroke-opacity="0.73"/><path d="M1515.4 1437.9L1517.8 1427.7L1520.2 1417.4L1522.7 1407.2L1525.3 1397.0" stroke="#a8a8a8" stroke-width="2.4" stroke-opacity="0.60"/><path d="M1525.3 1397.0L1528.0 1386.8L1530.8 1376.6L1534.0 1365.2L1536.6 1356.4" stroke="#a8a8a8" stroke-width="1.5" stroke-opacity="0.47"/>
<path d="M1459.2 1456.8L1459.9 1445.2L1461.0 1430.2L1462.3 1416.9L1463.8 1403.6" stroke="#b9b9b9" stroke-width="2.3" stroke-opacity="0.72"/><path d="M1463.8 1403.6L1465.6 1390.4L1467.7 1377.2L1470.0 1364.0L1472.6 1350.9" stroke="#b9b9b9" stroke-width="1.7" stroke-opacity="0.59"/><path d="M1472.6 1350.9L1475.5 1337.8L1478.6 1324.8L1482.4 1310.3L1485.5 1299.0" stroke="#b9b9b9" stroke-width="1.0" stroke-opacity="0.46"/>
<path d="M1422.5 1449.4L1421.8 1439.8L1421.0 1427.4L1420.1 1416.4L1419.2 1405.4" stroke="#929292" stroke-width="3.4" stroke-opacity="0.93"/><path d="M1419.2 1405.4L1418.3 1394.4L1417.3 1383.4L1416.2 1372.4L1415.0 1361.4" stroke="#929292" stroke-width="2.4" stroke-opacity="0.76"/><path d="M1415.0 1361.4L1413.8 1350.5L1412.6 1339.5L1411.1 1327.2L1409.9 1317.6" stroke="#929292" stroke-width="1.5" stroke-opacity="0.59"/>
<path d="M1492.5 1461.6L1493.0 1450.5L1493.7 1436.2L1494.5 1423.5L1495.4 1410.8" stroke="#8a8a8a" stroke-width="3.2" stroke-opacity="0.73"/><path d="M1495.4 1410.8L1496.6 1398.1L1497.8 1385.5L1499.3 1372.8L1500.9 1360.2" stroke="#8a8a8a" stroke-width="2.3" stroke-opacity="0.60"/><path d="M1500.9 1360.2L1502.6 1347.6L1504.5 1335.0L1506.9 1320.9L1508.8 1309.9" stroke="#8a8a8a" stroke-width="1.4" stroke-opacity="0.46"/>
<path d="M1473.6 1455.1L1474.2 1443.6L1474.8 1428.7L1475.1 1415.5L1475.2 1402.2" stroke="#787878" stroke-width="2.6" stroke-opacity="0.63"/><path d="M1475.2 1402.2L1475.1 1389.0L1474.8 1375.8L1474.3 1362.6L1473.6 1349.4" stroke="#787878" stroke-width="1.8" stroke-opacity="0.51"/><path d="M1473.6 1349.4L1472.6 1336.2L1471.5 1323.0L1470.0 1308.2L1468.7 1296.7" stroke="#787878" stroke-width="1.1" stroke-opacity="0.40"/>
<path d="M1402.2 1479.3L1402.5 1472.6L1402.9 1464.1L1403.3 1456.4L1403.9 1448.8" stroke="#7f7f7f" stroke-width="2.7" stroke-opacity="0.89"/><path d="M1403.9 1448.8L1404.5 1441.3L1405.3 1433.7L1406.1 1426.1L1407.0 1418.5" stroke="#7f7f7f" stroke-width="1.9" stroke-opacity="0.73"/><path d="M1407.0 1418.5L1407.9 1411.0L1409.0 1403.4L1410.3 1394.9L1411.4 1388.4" stroke="#7f7f7f" stroke-width="1.2" stroke-opacity="0.57"/>
<path d="M1493.4 1459.4L1495.3 1451.9L1497.8 1442.2L1500.1 1433.7L1502.5 1425.1" stroke="#b9b9b9" stroke-width="2.1" stroke-opacity="0.82"/><path d="M1502.5 1425.1L1505.0 1416.6L1507.6 1408.1L1510.2 1399.6L1512.9 1391.1" stroke="#b9b9b9" stroke-width="1.5" stroke-opacity="0.67"/><path d="M1512.9 1391.1L1515.7 1382.7L1518.6 1374.3L1521.9 1364.9L1524.5 1357.6" stroke="#b9b9b9" stroke-width="0.9" stroke-opacity="0.52"/>
<path d="M1403.5 1456.9L1403.6 1446.8L1403.8 1433.7L1404.1 1422.0L1404.7 1410.4" stroke="#9a9a9a" stroke-width="3.1" stroke-opacity="0.78"/><path d="M1404.7 1410.4L1405.4 1398.8L1406.3 1387.2L1407.4 1375.6L1408.7 1364.0" stroke="#9a9a9a" stroke-width="2.2" stroke-opacity="0.64"/><path d="M1408.7 1364.0L1410.1 1352.5L1411.7 1340.9L1413.7 1328.0L1415.4 1318.0" stroke="#9a9a9a" stroke-width="1.4" stroke-opacity="0.50"/>
<path d="M1465.0 1459.8L1465.2 1447.3L1465.6 1431.3L1466.2 1417.1L1466.9 1402.9" stroke="#929292" stroke-width="2.1" stroke-opacity="0.83"/><path d="M1466.9 1402.9L1467.7 1388.7L1468.7 1374.5L1469.8 1360.4L1471.0 1346.2" stroke="#929292" stroke-width="1.5" stroke-opacity="0.68"/><path d="M1471.0 1346.2L1472.4 1332.0L1473.9 1317.9L1475.9 1302.0L1477.4 1289.7" stroke="#929292" stroke-width="0.9" stroke-opacity="0.53"/>
<path d="M1491.2 1473.9L1496.1 1460.3L1502.5 1442.9L1508.6 1427.5L1515.0 1412.3" stroke="#c2c2c2" stroke-width="2.9" stroke-opacity="0.64"/><path d="M1515.0 1412.3L1521.6 1397.1L1528.5 1382.1L1535.7 1367.3L1543.2 1352.5" stroke="#c2c2c2" stroke-width="2.1" stroke-opacity="0.53"/><path d="M1543.2 1352.5L1551.0 1337.9L1559.0 1323.5L1568.4 1307.5L1575.8 1295.1" stroke="#c2c2c2" stroke-width="1.3" stroke-opacity="0.41"/>
<path d="M1463.4 1458.6L1464.2 1443.7L1465.2 1424.6L1466.1 1407.6L1467.0 1390.6" stroke="#808080" stroke-width="2.4" stroke-opacity="0.73"/><path d="M1467.0 1390.6L1468.0 1373.6L1469.1 1356.6L1470.1 1339.5L1471.2 1322.5" stroke="#808080" stroke-width="1.7" stroke-opacity="0.60"/><path d="M1471.2 1322.5L1472.4 1305.5L1473.5 1288.5L1474.9 1269.4L1476.0 1254.6" stroke="#808080" stroke-width="1.0" stroke-opacity="0.47"/>
<path d="M1413.8 1462.0L1413.9 1448.8L1414.1 1431.8L1414.3 1416.7L1414.5 1401.6" stroke="#a0a0a0" stroke-width="3.0" stroke-opacity="0.93"/><path d="M1414.5 1401.6L1414.7 1386.5L1415.0 1371.4L1415.3 1356.3L1415.7 1341.2" stroke="#a0a0a0" stroke-width="2.1" stroke-opacity="0.76"/><path d="M1415.7 1341.2L1416.0 1326.1L1416.4 1311.1L1416.9 1294.1L1417.3 1280.9" stroke="#a0a0a0" stroke-width="1.3" stroke-opacity="0.60"/>
<path d="M1396.3 1465.2L1396.4 1457.6L1396.4 1447.8L1396.5 1439.1L1396.5 1430.4" stroke="#8d8d8d" stroke-width="2.2" stroke-opacity="0.79"/><path d="M1396.5 1430.4L1396.5 1421.7L1396.4 1413.0L1396.4 1404.3L1396.3 1395.6" stroke="#8d8d8d" stroke-width="1.6" stroke-opacity="0.65"/><path d="M1396.3 1395.6L1396.2 1386.9L1396.1 1378.2L1396.0 1368.4L1395.9 1360.8" stroke="#8d8d8d" stroke-width="1.0" stroke-opacity="0.51"/>
<path d="M1460.8 1458.9L1462.1 1451.5L1463.9 1441.9L1465.8 1433.4L1467.9 1425.0" stroke="#8e8e8e" stroke-width="2.4" stroke-opacity="0.76"/><path d="M1467.9 1425.0L1470.3 1416.7L1472.9 1408.4L1475.7 1400.2L1478.7 1392.1" stroke="#8e8e8e" stroke-width="1.7" stroke-opacity="0.62"/><path d="M1478.7 1392.1L1482.0 1384.0L1485.5 1376.1L1489.7 1367.3L1493.1 1360.5" stroke="#8e8e8e" stroke-width="1.1" stroke-opacity="0.48"/>
<path d="M1540.8 1454.7L1543.4 1447.6L1546.9 1438.5L1550.2 1430.5L1553.7 1422.6" stroke="#969696" stroke-width="2.7" stroke-opacity="0.80"/><path d="M1553.7 1422.6L1557.5 1414.8L1561.4 1407.1L1565.6 1399.6L1569.9 1392.1" stroke="#969696" stroke-width="2.0" stroke-opacity="0.65"/><path d="M1569.9 1392.1L1574.5 1384.7L1579.2 1377.5L1584.8 1369.5L1589.2 1363.4" stroke="#969696" stroke-width="1.2" stroke-opacity="0.51"/>
<path d="M1481.4 1450.9L1480.8 1437.9L1480.0 1421.1L1479.5 1406.2L1479.0 1391.3" stroke="#a8a8a8" stroke-width="3.1" stroke-opacity="0.73"/><path d="M1479.0 1391.3L1478.5 1376.4L1478.2 1361.5L1477.8 1346.6L1477.6 1331.7" stroke="#a8a8a8" stroke-width="2.2" stroke-opacity="0.60"/><path d="M1477.6 1331.7L1477.4 1316.8L1477.2 1301.9L1477.2 1285.1L1477.1 1272.0" stroke="#a8a8a8" stroke-width="1.3" stroke-opacity="0.47"/>
<path d="M1524.0 1477.3L1529.0 1467.6L1535.4 1455.1L1541.4 1444.2L1547.6 1433.3" stroke="#b8b8b8" stroke-width="3.4" stroke-opacity="0.91"/><path d="M1547.6 1433.3L1553.9 1422.5L1560.3 1411.8L1567.0 1401.2L1573.7 1390.7" stroke="#b8b8b8" stroke-width="2.4" stroke-opacity="0.75"/><path d="M1573.7 1390.7L1580.7 1380.3L1587.8 1370.1L1596.0 1358.7L1602.4 1349.8" stroke="#b8b8b8" stroke-width="1.5" stroke-opacity="0.58"/>
<path d="M1433.5 1454.3L1437.1 1438.2L1442.2 1417.6L1447.5 1399.5L1453.6 1381.7" stroke="#757575" stroke-width="2.8" stroke-opacity="0.74"/><path d="M1453.6 1381.7L1460.3 1364.0L1467.7 1346.7L1475.8 1329.6L1484.5 1312.9" stroke="#757575" stroke-width="2.0" stroke-opacity="0.61"/><path d="M1484.5 1312.9L1493.8 1296.5L1503.7 1280.5L1515.8 1263.0L1525.4 1249.6" stroke="#757575" stroke-width="1.2" stroke-opacity="0.48"/>
<path d="M1449.3 1442.4L1450.3 1430.0L1451.6 1414.0L1452.7 1399.8L1453.9 1385.6" stroke="#898989" stroke-width="2.3" stroke-opacity="0.64"/><path d="M1453.9 1385.6L1455.0 1371.4L1456.1 1357.2L1457.2 1343.0L1458.2 1328.8" stroke="#898989" stroke-width="1.6" stroke-opacity="0.52"/><path d="M1458.2 1328.8L1459.3 1314.6L1460.3 1300.4L1461.5 1284.4L1462.4 1272.0" stroke="#898989" stroke-width="1.0" stroke-opacity="0.41"/>
<path d="M1436.8 1476.0L1438.7 1463.3L1441.3 1446.9L1444.0 1432.5L1447.2 1418.1" stroke="#bfbfbf" stroke-width="2.8" stroke-opacity="0.82"/><path d="M1447.2 1418.1L1450.6 1403.8L1454.4 1389.6L1458.6 1375.5L1463.1 1361.6" stroke="#bfbfbf" stroke-width="2.0" stroke-opacity="0.67"/><path d="M1463.1 1361.6L1468.0 1347.7L1473.2 1333.9L1479.6 1318.7L1484.6 1306.9" stroke="#bfbfbf" stroke-width="1.2" stroke-opacity="0.52"/>
<path d="M1365.2 1449.9L1364.6 1438.9L1363.8 1424.8L1363.1 1412.2L1362.5 1399.6" stroke="#b7b7b7" stroke-width="3.3" stroke-opacity="0.77"/><path d="M1362.5 1399.6L1362.0 1387.0L1361.5 1374.4L1361.0 1361.8L1360.6 1349.3" stroke="#b7b7b7" stroke-width="2.4" stroke-opacity="0.63"/><path d="M1360.6 1349.3L1360.3 1336.7L1360.0 1324.1L1359.7 1309.9L1359.6 1298.9" stroke="#b7b7b7" stroke-width="1.4" stroke-opacity="0.49"/>
<path d="M1527.8 1473.6L1533.7 1461.2L1541.3 1445.3L1548.3 1431.3L1555.6 1417.4" stroke="#a2a2a2" stroke-width="2.9" stroke-opacity="0.61"/><path d="M1555.6 1417.4L1563.1 1403.7L1570.8 1390.0L1578.7 1376.5L1586.8 1363.1" stroke="#a2a2a2" stroke-width="2.1" stroke-opacity="0.50"/><path d="M1586.8 1363.1L1595.1 1349.8L1603.6 1336.7L1613.4 1322.1L1621.2 1310.8" stroke="#a2a2a2" stroke-width="1.3" stroke-opacity="0.39"/>
<path d="M1456.0 1454.8L1455.8 1441.3L1455.6 1424.0L1455.5 1408.6L1455.6 1393.2" stroke="#8c8c8c" stroke-width="2.6" stroke-opacity="0.72"/><path d="M1455.6 1393.2L1455.9 1377.7L1456.2 1362.3L1456.7 1346.9L1457.3 1331.6" stroke="#8c8c8c" stroke-width="1.9" stroke-opacity="0.59"/><path d="M1457.3 1331.6L1458.1 1316.2L1459.0 1300.8L1460.1 1283.5L1461.1 1270.0" stroke="#8c8c8c" stroke-width="1.2" stroke-opacity="0.46"/>
<path d="M1509.7 1459.0L1512.6 1445.0L1516.4 1427.1L1519.5 1411.2L1522.5 1395.2" stroke="#8e8e8e" stroke-width="2.3" stroke-opacity="0.76"/><path d="M1522.5 1395.2L1525.5 1379.2L1528.3 1363.2L1531.0 1347.2L1533.5 1331.1" stroke="#8e8e8e" stroke-width="1.7" stroke-opacity="0.62"/><path d="M1533.5 1331.1L1536.0 1315.1L1538.3 1299.0L1540.7 1280.9L1542.6 1266.8" stroke="#8e8e8e" stroke-width="1.0" stroke-opacity="0.49"/>
<path d="M1369.5 1469.5L1367.8 1455.6L1365.4 1437.7L1362.5 1422.0L1359.2 1406.4" stroke="#868686" stroke-width="3.2" stroke-opacity="0.94"/><path d="M1359.2 1406.4L1355.3 1390.8L1350.9 1375.5L1346.1 1360.2L1340.7 1345.1" stroke="#868686" stroke-width="2.3" stroke-opacity="0.77"/><path d="M1340.7 1345.1L1334.9 1330.2L1328.6 1315.5L1320.9 1299.3L1314.6 1286.8" stroke="#868686" stroke-width="1.4" stroke-opacity="0.60"/>
<path d="M1477.7 1470.4L1477.4 1459.9L1477.0 1446.4L1476.2 1434.4L1475.1 1422.4" stroke="#959595" stroke-width="2.5" stroke-opacity="0.79"/><path d="M1475.1 1422.4L1473.8 1410.4L1472.2 1398.5L1470.3 1386.6L1468.1 1374.8" stroke="#959595" stroke-width="1.8" stroke-opacity="0.65"/><path d="M1468.1 1374.8L1465.7 1363.0L1463.0 1351.3L1459.5 1338.3L1456.7 1328.1" stroke="#959595" stroke-width="1.1" stroke-opacity="0.51"/>
<path d="M1553.4 1470.8L1556.3 1464.7L1560.2 1456.9L1563.9 1450.2L1567.8 1443.5" stroke="#a9a9a9" stroke-width="2.5" stroke-opacity="0.63"/><path d="M1567.8 1443.5L1571.9 1437.0L1576.3 1430.6L1580.8 1424.4L1585.5 1418.3" stroke="#a9a9a9" stroke-width="1.8" stroke-opacity="0.51"/><path d="M1585.5 1418.3L1590.5 1412.3L1595.6 1406.6L1601.6 1400.3L1606.3 1395.5" stroke="#a9a9a9" stroke-width="1.1" stroke-opacity="0.40"/>
<path d="M1482.5 1447.1L1482.1 1433.2L1481.6 1415.3L1481.1 1399.4L1480.7 1383.6" stroke="#878787" stroke-width="3.0" stroke-opacity="0.70"/><path d="M1480.7 1383.6L1480.2 1367.7L1479.7 1351.8L1479.2 1335.9L1478.6 1320.0" stroke="#878787" stroke-width="2.2" stroke-opacity="0.57"/><path d="M1478.6 1320.0L1478.1 1304.1L1477.5 1288.3L1476.8 1270.4L1476.3 1256.5" stroke="#878787" stroke-width="1.3" stroke-opacity="0.45"/>
<path d="M1519.7 1481.3L1521.5 1475.1L1523.9 1467.3L1526.4 1460.5L1529.0 1453.7" stroke="#a2a2a2" stroke-width="2.2" stroke-opacity="0.75"/><path d="M1529.0 1453.7L1531.9 1447.0L1535.1 1440.4L1538.4 1433.9L1542.0 1427.6" stroke="#a2a2a2" stroke-width="1.6" stroke-opacity="0.62"/><path d="M1542.0 1427.6L1545.7 1421.4L1549.7 1415.2L1554.4 1408.6L1558.2 1403.4" stroke="#a2a2a2" stroke-width="1.0" stroke-opacity="0.48"/>
<path d="M1525.7 1460.8L1528.9 1451.8L1533.0 1440.2L1536.5 1429.9L1540.0 1419.6" stroke="#7f7f7f" stroke-width="2.6" stroke-opacity="0.62"/><path d="M1540.0 1419.6L1543.4 1409.2L1546.7 1398.9L1549.9 1388.4L1553.1 1378.0" stroke="#7f7f7f" stroke-width="1.9" stroke-opacity="0.51"/><path d="M1553.1 1378.0L1556.2 1367.6L1559.3 1357.1L1562.6 1345.3L1565.1 1336.1" stroke="#7f7f7f" stroke-width="1.1" stroke-opacity="0.40"/>
<path d="M1428.2 1462.2L1429.9 1449.8L1432.3 1433.8L1434.9 1419.7L1437.9 1405.6" stroke="#949494" stroke-width="2.7" stroke-opacity="0.81"/><path d="M1437.9 1405.6L1441.3 1391.7L1445.1 1377.8L1449.3 1364.1L1453.9 1350.5" stroke="#949494" stroke-width="2.0" stroke-opacity="0.66"/><path d="M1453.9 1350.5L1458.8 1337.0L1464.2 1323.6L1470.7 1308.8L1475.9 1297.4" stroke="#949494" stroke-width="1.2" stroke-opacity="0.52"/>
<path d="M1521.9 1455.7L1525.8 1446.3L1530.8 1434.3L1535.4 1423.7L1540.0 1413.2" stroke="#aaaaaa" stroke-width="3.0" stroke-opacity="0.71"/><path d="M1540.0 1413.2L1544.8 1402.6L1549.7 1392.2L1554.6 1381.7L1559.7 1371.3" stroke="#aaaaaa" stroke-width="2.2" stroke-opacity="0.59"/><path d="M1559.7 1371.3L1564.8 1361.0L1570.1 1350.7L1576.2 1339.2L1580.9 1330.3" stroke="#aaaaaa" stroke-width="1.3" stroke-opacity="0.46"/>
<path d="M1413.2 1453.5L1413.0 1438.4L1413.0 1418.9L1413.6 1401.6L1414.5 1384.4" stroke="#b2b2b2" stroke-width="3.2" stroke-opacity="0.94"/><path d="M1414.5 1384.4L1415.9 1367.1L1417.7 1349.9L1419.8 1332.8L1422.5 1315.7" stroke="#b2b2b2" stroke-width="2.3" stroke-opacity="0.77"/><path d="M1422.5 1315.7L1425.5 1298.7L1428.9 1281.7L1433.4 1262.8L1437.0 1248.1" stroke="#b2b2b2" stroke-width="1.4" stroke-opacity="0.60"/>
<path d="M1492.6 1465.3L1494.3 1459.5L1496.5 1452.0L1498.7 1445.4L1500.9 1438.9" stroke="#828282" stroke-width="3.0" stroke-opacity="0.84"/><path d="M1500.9 1438.9L1503.3 1432.3L1505.8 1425.8L1508.4 1419.4L1511.1 1413.0" stroke="#828282" stroke-width="2.1" stroke-opacity="0.69"/><path d="M1511.1 1413.0L1514.0 1406.6L1516.9 1400.3L1520.3 1393.3L1523.1 1387.9" stroke="#828282" stroke-width="1.3" stroke-opacity="0.54"/>
<path d="M1411.7 1452.7L1410.6 1440.7L1409.2 1425.2L1407.9 1411.5L1406.4 1397.8" stroke="#9a9a9a" stroke-width="2.4" stroke-opacity="0.80"/><path d="M1406.4 1397.8L1405.0 1384.1L1403.5 1370.3L1401.9 1356.6L1400.2 1342.9" stroke="#9a9a9a" stroke-width="1.7" stroke-opacity="0.65"/><path d="M1400.2 1342.9L1398.5 1329.2L1396.7 1315.5L1394.7 1300.1L1393.0 1288.2" stroke="#9a9a9a" stroke-width="1.0" stroke-opacity="0.51"/>
<path d="M1437.4 1441.5L1437.9 1425.7L1438.7 1405.3L1440.0 1387.2L1441.8 1369.2" stroke="#7d7d7d" stroke-width="2.4" stroke-opacity="0.86"/><path d="M1441.8 1369.2L1444.1 1351.2L1446.8 1333.3L1450.1 1315.5L1453.7 1297.7" stroke="#7d7d7d" stroke-width="1.7" stroke-opacity="0.70"/><path d="M1453.7 1297.7L1457.9 1280.1L1462.4 1262.6L1468.3 1243.0L1473.0 1227.9" stroke="#7d7d7d" stroke-width="1.0" stroke-opacity="0.55"/>
<path d="M1503.7 1470.7L1506.8 1459.3L1510.9 1444.6L1514.5 1431.6L1518.1 1418.5" stroke="#8c8c8c" stroke-width="2.3" stroke-opacity="0.93"/><path d="M1518.1 1418.5L1521.7 1405.5L1525.3 1392.4L1529.0 1379.4L1532.6 1366.4" stroke="#8c8c8c" stroke-width="1.7" stroke-opacity="0.76"/><path d="M1532.6 1366.4L1536.3 1353.3L1540.0 1340.3L1544.1 1325.7L1547.3 1314.3" stroke="#8c8c8c" stroke-width="1.0" stroke-opacity="0.60"/>
<path d="M1521.0 1440.5L1522.6 1434.2L1524.6 1426.2L1526.4 1419.1L1528.1 1411.9" stroke="#7f7f7f" stroke-width="2.7" stroke-opacity="0.89"/><path d="M1528.1 1411.9L1529.8 1404.8L1531.5 1397.6L1533.1 1390.5L1534.7 1383.3" stroke="#7f7f7f" stroke-width="1.9" stroke-opacity="0.73"/><path d="M1534.7 1383.3L1536.3 1376.1L1537.9 1368.9L1539.6 1360.8L1540.9 1354.6" stroke="#7f7f7f" stroke-width="1.2" stroke-opacity="0.57"/>
<path d="M1368.7 1445.9L1368.8 1438.4L1368.9 1428.7L1369.1 1420.0L1369.3 1411.4" stroke="#adadad" stroke-width="3.0" stroke-opacity="0.79"/><path d="M1369.3 1411.4L1369.6 1402.8L1370.0 1394.2L1370.5 1385.5L1371.0 1376.9" stroke="#adadad" stroke-width="2.1" stroke-opacity="0.65"/><path d="M1371.0 1376.9L1371.6 1368.3L1372.2 1359.7L1373.0 1350.1L1373.7 1342.5" stroke="#adadad" stroke-width="1.3" stroke-opacity="0.51"/>
<path d="M1400.3 1446.8L1400.3 1437.1L1400.0 1424.7L1399.3 1413.6L1398.4 1402.5" stroke="#a8a8a8" stroke-width="2.5" stroke-opacity="0.65"/><path d="M1398.4 1402.5L1397.1 1391.5L1395.5 1380.5L1393.7 1369.6L1391.5 1358.7" stroke="#a8a8a8" stroke-width="1.8" stroke-opacity="0.53"/><path d="M1391.5 1358.7L1389.0 1347.9L1386.1 1337.2L1382.6 1325.2L1379.6 1316.0" stroke="#a8a8a8" stroke-width="1.1" stroke-opacity="0.42"/>
<path d="M1529.2 1458.6L1532.1 1445.0L1536.0 1427.6L1539.7 1412.1L1543.6 1396.7" stroke="#868686" stroke-width="2.9" stroke-opacity="0.85"/><path d="M1543.6 1396.7L1547.7 1381.4L1551.9 1366.0L1556.3 1350.8L1560.8 1335.5" stroke="#868686" stroke-width="2.1" stroke-opacity="0.69"/><path d="M1560.8 1335.5L1565.6 1320.4L1570.5 1305.3L1576.2 1288.3L1580.8 1275.2" stroke="#868686" stroke-width="1.3" stroke-opacity="0.54"/>
<path d="M1490.4 1472.3L1491.9 1464.1L1493.9 1453.5L1495.9 1444.2L1498.1 1434.9" stroke="#b9b9b9" stroke-width="3.3" stroke-opacity="0.62"/><path d="M1498.1 1434.9L1500.4 1425.6L1502.9 1416.4L1505.5 1407.2L1508.4 1398.1" stroke="#b9b9b9" stroke-width="2.4" stroke-opacity="0.51"/><path d="M1508.4 1398.1L1511.3 1389.0L1514.5 1380.0L1518.2 1370.0L1521.2 1362.2" stroke="#b9b9b9" stroke-width="1.5" stroke-opacity="0.40"/>
<path d="M1439.5 1459.2L1440.0 1443.0L1440.9 1422.1L1442.1 1403.6L1443.6 1385.1" stroke="#7b7b7b" stroke-width="2.7" stroke-opacity="0.62"/><path d="M1443.6 1385.1L1445.4 1366.6L1447.5 1348.1L1449.9 1329.7L1452.6 1311.3" stroke="#7b7b7b" stroke-width="1.9" stroke-opacity="0.51"/><path d="M1452.6 1311.3L1455.6 1293.0L1459.0 1274.7L1463.2 1254.3L1466.6 1238.4" stroke="#7b7b7b" stroke-width="1.2" stroke-opacity="0.39"/>
<path d="M1428.0 1460.1L1425.1 1448.5L1421.3 1433.7L1417.7 1420.5L1413.9 1407.4" stroke="#909090" stroke-width="2.0" stroke-opacity="0.66"/><path d="M1413.9 1407.4L1410.0 1394.4L1405.8 1381.4L1401.5 1368.5L1396.9 1355.6" stroke="#909090" stroke-width="1.5" stroke-opacity="0.54"/><path d="M1396.9 1355.6L1392.2 1342.8L1387.3 1330.1L1381.6 1315.9L1377.0 1304.9" stroke="#909090" stroke-width="0.9" stroke-opacity="0.42"/>
<path d="M1521.9 1453.2L1528.2 1439.5L1536.2 1421.9L1543.3 1406.2L1550.4 1390.5" stroke="#b9b9b9" stroke-width="2.2" stroke-opacity="0.83"/><path d="M1550.4 1390.5L1557.4 1374.8L1564.5 1359.1L1571.5 1343.4L1578.4 1327.6" stroke="#b9b9b9" stroke-width="1.6" stroke-opacity="0.68"/><path d="M1578.4 1327.6L1585.4 1311.9L1592.3 1296.1L1600.0 1278.4L1606.1 1264.6" stroke="#b9b9b9" stroke-width="1.0" stroke-opacity="0.53"/>
<path d="M1541.7 1460.8L1546.9 1451.5L1553.7 1439.5L1559.9 1429.0L1566.3 1418.6" stroke="#b8b8b8" stroke-width="2.7" stroke-opacity="0.76"/><path d="M1566.3 1418.6L1572.9 1408.3L1579.7 1398.1L1586.6 1388.0L1593.7 1378.1" stroke="#b8b8b8" stroke-width="1.9" stroke-opacity="0.62"/><path d="M1593.7 1378.1L1601.0 1368.2L1608.5 1358.5L1617.1 1347.8L1623.9 1339.5" stroke="#b8b8b8" stroke-width="1.2" stroke-opacity="0.48"/>
<path d="M1382.0 1475.0L1382.0 1465.4L1382.0 1453.1L1382.2 1442.1L1382.4 1431.1" stroke="#adadad" stroke-width="2.6" stroke-opacity="0.88"/><path d="M1382.4 1431.1L1382.8 1420.1L1383.3 1409.1L1383.9 1398.1L1384.5 1387.2" stroke="#adadad" stroke-width="1.9" stroke-opacity="0.72"/><path d="M1384.5 1387.2L1385.3 1376.2L1386.2 1365.2L1387.3 1352.9L1388.3 1343.4" stroke="#adadad" stroke-width="1.2" stroke-opacity="0.56"/>
<path d="M1442.9 1472.2L1443.7 1465.8L1444.6 1457.4L1445.4 1450.1L1446.3 1442.7" stroke="#a8a8a8" stroke-width="2.5" stroke-opacity="0.87"/><path d="M1446.3 1442.7L1447.2 1435.3L1448.1 1427.9L1449.0 1420.5L1450.0 1413.1" stroke="#a8a8a8" stroke-width="1.8" stroke-opacity="0.72"/><path d="M1450.0 1413.1L1450.9 1405.7L1451.9 1398.4L1453.1 1390.1L1454.0 1383.6" stroke="#a8a8a8" stroke-width="1.1" stroke-opacity="0.56"/>
<path d="M1463.5 1481.3L1467.9 1465.6L1473.8 1445.5L1479.8 1427.9L1486.3 1410.4" stroke="#acacac" stroke-width="2.7" stroke-opacity="0.77"/><path d="M1486.3 1410.4L1493.2 1393.1L1500.7 1376.0L1508.6 1359.2L1517.1 1342.6" stroke="#acacac" stroke-width="2.0" stroke-opacity="0.63"/><path d="M1517.1 1342.6L1526.0 1326.3L1535.4 1310.2L1546.6 1292.5L1555.5 1278.8" stroke="#acacac" stroke-width="1.2" stroke-opacity="0.49"/>
<path d="M1466.0 1459.7L1465.9 1448.8L1466.0 1434.7L1466.5 1422.3L1467.4 1409.8" stroke="#a6a6a6" stroke-width="2.9" stroke-opacity="0.74"/><path d="M1467.4 1409.8L1468.6 1397.4L1470.3 1385.0L1472.2 1372.7L1474.5 1360.4" stroke="#a6a6a6" stroke-width="2.1" stroke-opacity="0.61"/><path d="M1474.5 1360.4L1477.2 1348.2L1480.3 1336.1L1484.2 1322.7L1487.4 1312.2" stroke="#a6a6a6" stroke-width="1.3" stroke-opacity="0.48"/>
<path d="M1533.5 1457.0L1534.5 1450.6L1535.8 1442.4L1537.1 1435.1L1538.5 1427.9" stroke="#9c9c9c" stroke-width="2.7" stroke-opacity="0.66"/><path d="M1538.5 1427.9L1540.1 1420.7L1541.8 1413.5L1543.6 1406.3L1545.5 1399.2" stroke="#9c9c9c" stroke-width="1.9" stroke-opacity="0.54"/><path d="M1545.5 1399.2L1547.5 1392.1L1549.7 1385.1L1552.3 1377.2L1554.4 1371.1" stroke="#9c9c9c" stroke-width="1.2" stroke-opacity="0.42"/>
<path d="M1546.3 1448.7L1549.1 1436.0L1552.8 1419.7L1555.9 1405.2L1559.0 1390.7" stroke="#8c8c8c" stroke-width="2.2" stroke-opacity="0.76"/><path d="M1559.0 1390.7L1562.1 1376.2L1565.1 1361.7L1568.1 1347.1L1571.1 1332.6" stroke="#8c8c8c" stroke-width="1.6" stroke-opacity="0.62"/><path d="M1571.1 1332.6L1573.9 1318.0L1576.8 1303.4L1579.9 1287.0L1582.3 1274.3" stroke="#8c8c8c" stroke-width="1.0" stroke-opacity="0.49"/>
<path d="M1525.7 1445.1L1530.3 1433.4L1536.4 1418.5L1542.3 1405.5L1548.5 1392.6" stroke="#b2b2b2" stroke-width="2.5" stroke-opacity="0.92"/><path d="M1548.5 1392.6L1555.1 1380.0L1562.1 1367.5L1569.5 1355.2L1577.1 1343.1" stroke="#b2b2b2" stroke-width="1.8" stroke-opacity="0.75"/><path d="M1577.1 1343.1L1585.2 1331.3L1593.5 1319.7L1603.4 1307.0L1611.2 1297.2" stroke="#b2b2b2" stroke-width="1.1" stroke-opacity="0.59"/>
<path d="M1553.6 1450.2L1560.1 1441.1L1568.5 1429.5L1576.2 1419.3L1584.0 1409.2" stroke="#929292" stroke-width="3.3" stroke-opacity="0.64"/><path d="M1584.0 1409.2L1592.0 1399.3L1600.1 1389.4L1608.4 1379.7L1616.8 1370.1" stroke="#929292" stroke-width="2.4" stroke-opacity="0.53"/><path d="M1616.8 1370.1L1625.4 1360.7L1634.1 1351.3L1644.0 1341.0L1651.9 1333.0" stroke="#929292" stroke-width="1.5" stroke-opacity="0.41"/>
<path d="M1549.5 1469.7L1553.1 1463.4L1557.8 1455.4L1562.2 1448.5L1567.0 1441.7" stroke="#a8a8a8" stroke-width="2.9" stroke-opacity="0.65"/><path d="M1567.0 1441.7L1571.9 1435.0L1577.0 1428.6L1582.4 1422.3L1587.9 1416.1" stroke="#a8a8a8" stroke-width="2.1" stroke-opacity="0.53"/><path d="M1587.9 1416.1L1593.6 1410.2L1599.6 1404.4L1606.5 1398.2L1612.0 1393.5" stroke="#a8a8a8" stroke-width="1.3" stroke-opacity="0.42"/>
<path d="M1528.6 1479.6L1533.7 1465.8L1540.3 1448.1L1546.6 1432.5L1553.2 1417.1" stroke="#b1b1b1" stroke-width="2.7" stroke-opacity="0.73"/><path d="M1553.2 1417.1L1560.0 1401.7L1567.2 1386.5L1574.6 1371.5L1582.3 1356.5" stroke="#b1b1b1" stroke-width="2.0" stroke-opacity="0.60"/><path d="M1582.3 1356.5L1590.2 1341.8L1598.4 1327.1L1608.1 1310.9L1615.7 1298.3" stroke="#b1b1b1" stroke-width="1.2" stroke-opacity="0.47"/>
<path d="M1412.1 1468.5L1412.0 1455.4L1411.9 1438.5L1411.8 1423.6L1411.7 1408.6" stroke="#c3c3c3" stroke-width="2.1" stroke-opacity="0.88"/><path d="M1411.7 1408.6L1411.6 1393.6L1411.5 1378.7L1411.3 1363.7L1411.2 1348.7" stroke="#c3c3c3" stroke-width="1.5" stroke-opacity="0.72"/><path d="M1411.2 1348.7L1411.1 1333.7L1410.9 1318.8L1410.7 1301.9L1410.6 1288.8" stroke="#c3c3c3" stroke-width="0.9" stroke-opacity="0.56"/>
<path d="M1477.6 1445.2L1477.2 1430.2L1476.7 1410.9L1476.4 1393.7L1476.2 1376.6" stroke="#a0a0a0" stroke-width="2.6" stroke-opacity="0.94"/><path d="M1476.2 1376.6L1476.1 1359.4L1476.0 1342.2L1476.0 1325.1L1476.1 1307.9" stroke="#a0a0a0" stroke-width="1.9" stroke-opacity="0.77"/><path d="M1476.1 1307.9L1476.2 1290.7L1476.4 1273.6L1476.8 1254.2L1477.1 1239.2" stroke="#a0a0a0" stroke-width="1.1" stroke-opacity="0.60"/>
<path d="M1461.0 1471.2L1462.5 1462.9L1464.6 1452.2L1466.7 1442.8L1469.0 1433.4" stroke="#747474" stroke-width="2.4" stroke-opacity="0.82"/><path d="M1469.0 1433.4L1471.5 1424.0L1474.3 1414.8L1477.2 1405.6L1480.4 1396.4" stroke="#747474" stroke-width="1.7" stroke-opacity="0.67"/><path d="M1480.4 1396.4L1483.7 1387.4L1487.3 1378.4L1491.6 1368.4L1495.0 1360.6" stroke="#747474" stroke-width="1.1" stroke-opacity="0.52"/>
<path d="M1472.6 1475.7L1472.9 1461.1L1473.3 1442.3L1473.9 1425.5L1474.5 1408.8" stroke="#929292" stroke-width="3.0" stroke-opacity="0.89"/><path d="M1474.5 1408.8L1475.4 1392.1L1476.3 1375.4L1477.4 1358.7L1478.6 1342.0" stroke="#929292" stroke-width="2.2" stroke-opacity="0.73"/><path d="M1478.6 1342.0L1480.0 1325.3L1481.5 1308.7L1483.4 1289.9L1484.9 1275.4" stroke="#929292" stroke-width="1.3" stroke-opacity="0.57"/>
<path d="M1524.5 1457.5L1532.0 1444.4L1541.8 1427.6L1551.0 1413.1L1560.7 1398.9" stroke="#7e7e7e" stroke-width="2.7" stroke-opacity="0.88"/><path d="M1560.7 1398.9L1570.7 1384.9L1581.2 1371.2L1592.1 1357.8L1603.3 1344.8" stroke="#7e7e7e" stroke-width="1.9" stroke-opacity="0.72"/><path d="M1603.3 1344.8L1614.9 1332.1L1626.9 1319.7L1640.9 1306.2L1651.9 1296.0" stroke="#7e7e7e" stroke-width="1.2" stroke-opacity="0.56"/>
<path d="M1531.8 1463.7L1536.7 1450.0L1542.9 1432.3L1548.2 1416.6L1553.4 1400.7" stroke="#b0b0b0" stroke-width="2.3" stroke-opacity="0.62"/><path d="M1553.4 1400.7L1558.4 1384.8L1563.2 1368.9L1567.8 1352.9L1572.3 1336.8" stroke="#b0b0b0" stroke-width="1.7" stroke-opacity="0.51"/><path d="M1572.3 1336.8L1576.6 1320.7L1580.7 1304.6L1585.1 1286.4L1588.5 1272.2" stroke="#b0b0b0" stroke-width="1.0" stroke-opacity="0.40"/>
<path d="M1552.5 1440.5L1556.7 1428.4L1562.2 1412.8L1567.2 1399.0L1572.3 1385.3" stroke="#c1c1c1" stroke-width="3.3" stroke-opacity="0.84"/><path d="M1572.3 1385.3L1577.5 1371.5L1582.8 1357.9L1588.2 1344.2L1593.8 1330.6" stroke="#c1c1c1" stroke-width="2.4" stroke-opacity="0.68"/><path d="M1593.8 1330.6L1599.4 1317.1L1605.1 1303.6L1611.7 1288.4L1616.9 1276.7" stroke="#c1c1c1" stroke-width="1.4" stroke-opacity="0.53"/>
<path d="M1516.3 1448.1L1520.1 1436.9L1525.0 1422.4L1529.3 1409.6L1533.7 1396.7" stroke="#949494" stroke-width="2.4" stroke-opacity="0.80"/><path d="M1533.7 1396.7L1538.2 1383.9L1542.7 1371.1L1547.2 1358.3L1551.7 1345.5" stroke="#949494" stroke-width="1.7" stroke-opacity="0.66"/><path d="M1551.7 1345.5L1556.3 1332.7L1560.9 1319.9L1566.2 1305.6L1570.3 1294.4" stroke="#949494" stroke-width="1.1" stroke-opacity="0.51"/>
<path d="M1512.8 1444.9L1516.7 1433.5L1521.9 1419.0L1526.8 1406.1L1531.9 1393.4" stroke="#929292" stroke-width="2.7" stroke-opacity="0.63"/><path d="M1531.9 1393.4L1537.1 1380.7L1542.6 1368.1L1548.3 1355.6L1554.2 1343.1" stroke="#929292" stroke-width="1.9" stroke-opacity="0.52"/><path d="M1554.2 1343.1L1560.2 1330.8L1566.5 1318.6L1573.8 1305.0L1579.6 1294.4" stroke="#929292" stroke-width="1.2" stroke-opacity="0.41"/>
<path d="M1366.5 1444.5L1365.9 1438.6L1365.0 1431.0L1364.0 1424.3L1362.8 1417.7" stroke="#a1a1a1" stroke-width="2.3" stroke-opacity="0.67"/><path d="M1362.8 1417.7L1361.5 1411.0L1359.9 1404.4L1358.2 1397.9L1356.3 1391.4" stroke="#a1a1a1" stroke-width="1.6" stroke-opacity="0.55"/><path d="M1356.3 1391.4L1354.2 1384.9L1351.9 1378.6L1349.1 1371.5L1346.8 1366.0" stroke="#a1a1a1" stroke-width="1.0" stroke-opacity="0.43"/>
<path d="M1525.4 1452.2L1530.0 1439.4L1536.1 1422.9L1541.7 1408.4L1547.6 1393.9" stroke="#909090" stroke-width="2.6" stroke-opacity="0.94"/><path d="M1547.6 1393.9L1553.7 1379.5L1559.9 1365.2L1566.4 1351.0L1573.0 1336.9" stroke="#909090" stroke-width="1.9" stroke-opacity="0.77"/><path d="M1573.0 1336.9L1579.9 1322.8L1586.9 1308.9L1595.1 1293.4L1601.6 1281.3" stroke="#909090" stroke-width="1.1" stroke-opacity="0.60"/>
<path d="M1388.2 1481.8L1387.3 1469.2L1386.2 1453.0L1385.2 1438.5L1384.2 1424.1" stroke="#757575" stroke-width="2.2" stroke-opacity="0.63"/><path d="M1384.2 1424.1L1383.1 1409.7L1382.1 1395.2L1381.0 1380.8L1379.8 1366.4" stroke="#757575" stroke-width="1.6" stroke-opacity="0.52"/><path d="M1379.8 1366.4L1378.7 1352.0L1377.5 1337.5L1376.1 1321.3L1375.1 1308.7" stroke="#757575" stroke-width="1.0" stroke-opacity="0.40"/>
<path d="M1550.5 1442.2L1552.8 1434.7L1555.7 1425.0L1558.5 1416.5L1561.4 1408.0" stroke="#8d8d8d" stroke-width="3.1" stroke-opacity="0.86"/><path d="M1561.4 1408.0L1564.4 1399.5L1567.6 1391.1L1570.9 1382.8L1574.3 1374.5" stroke="#8d8d8d" stroke-width="2.2" stroke-opacity="0.70"/><path d="M1574.3 1374.5L1577.8 1366.2L1581.4 1358.0L1585.7 1348.9L1589.1 1341.8" stroke="#8d8d8d" stroke-width="1.4" stroke-opacity="0.55"/>
<path d="M1536.0 1447.5L1539.5 1432.9L1544.3 1414.1L1549.2 1397.6L1554.5 1381.2" stroke="#959595" stroke-width="2.1" stroke-opacity="0.79"/><path d="M1554.5 1381.2L1560.3 1365.0L1566.6 1348.9L1573.3 1333.0L1580.4 1317.4" stroke="#959595" stroke-width="1.5" stroke-opacity="0.65"/><path d="M1580.4 1317.4L1588.1 1301.9L1596.1 1286.7L1605.8 1269.9L1613.5 1256.9" stroke="#959595" stroke-width="0.9" stroke-opacity="0.50"/>
<path d="M1555.9 1451.4L1559.1 1441.0L1563.4 1427.8L1567.7 1416.1L1572.2 1404.5" stroke="#848484" stroke-width="2.6" stroke-opacity="0.86"/><path d="M1572.2 1404.5L1577.1 1393.1L1582.3 1381.8L1587.7 1370.7L1593.5 1359.7" stroke="#848484" stroke-width="1.9" stroke-opacity="0.71"/><path d="M1593.5 1359.7L1599.6 1348.9L1606.0 1338.3L1613.6 1326.6L1619.6 1317.5" stroke="#848484" stroke-width="1.1" stroke-opacity="0.55"/>
<path d="M1414.2 1448.8L1414.3 1433.0L1414.4 1412.7L1414.5 1394.6L1414.7 1376.6" stroke="#b2b2b2" stroke-width="2.7" stroke-opacity="0.86"/><path d="M1414.7 1376.6L1414.8 1358.5L1414.8 1340.4L1414.9 1322.3L1415.0 1304.3" stroke="#b2b2b2" stroke-width="2.0" stroke-opacity="0.71"/><path d="M1415.0 1304.3L1415.0 1286.2L1415.1 1268.1L1415.1 1247.8L1415.1 1232.0" stroke="#b2b2b2" stroke-width="1.2" stroke-opacity="0.55"/>
<path d="M1524.5 1466.3L1526.9 1455.1L1529.8 1440.7L1532.0 1427.8L1534.1 1414.9" stroke="#a5a5a5" stroke-width="3.1" stroke-opacity="0.72"/><path d="M1534.1 1414.9L1535.8 1402.0L1537.4 1389.0L1538.7 1376.0L1539.7 1363.0" stroke="#a5a5a5" stroke-width="2.3" stroke-opacity="0.59"/><path d="M1539.7 1363.0L1540.5 1349.9L1541.1 1336.9L1541.3 1322.2L1541.4 1310.7" stroke="#a5a5a5" stroke-width="1.4" stroke-opacity="0.46"/>
<path d="M1423.5 1461.1L1423.5 1447.8L1423.6 1430.6L1423.9 1415.4L1424.5 1400.2" stroke="#c0c0c0" stroke-width="2.3" stroke-opacity="0.68"/><path d="M1424.5 1400.2L1425.3 1384.9L1426.3 1369.7L1427.5 1354.5L1428.9 1339.3" stroke="#c0c0c0" stroke-width="1.6" stroke-opacity="0.55"/><path d="M1428.9 1339.3L1430.5 1324.2L1432.4 1309.0L1434.7 1292.0L1436.7 1278.8" stroke="#c0c0c0" stroke-width="1.0" stroke-opacity="0.43"/>
<path d="M1450.5 1456.2L1453.1 1446.3L1456.3 1433.7L1459.1 1422.4L1461.7 1411.1" stroke="#b3b3b3" stroke-width="3.1" stroke-opacity="0.70"/><path d="M1461.7 1411.1L1464.2 1399.8L1466.7 1388.4L1468.9 1377.1L1471.1 1365.7" stroke="#b3b3b3" stroke-width="2.3" stroke-opacity="0.58"/><path d="M1471.1 1365.7L1473.2 1354.2L1475.1 1342.8L1477.2 1329.9L1478.7 1319.9" stroke="#b3b3b3" stroke-width="1.4" stroke-opacity="0.45"/>
<path d="M1499.0 1447.6L1499.8 1441.5L1500.8 1433.8L1501.5 1426.8L1502.2 1419.9" stroke="#9d9d9d" stroke-width="2.4" stroke-opacity="0.73"/><path d="M1502.2 1419.9L1502.8 1413.0L1503.3 1406.0L1503.7 1399.0L1504.1 1392.1" stroke="#9d9d9d" stroke-width="1.7" stroke-opacity="0.60"/><path d="M1504.1 1392.1L1504.3 1385.1L1504.5 1378.2L1504.6 1370.3L1504.7 1364.2" stroke="#9d9d9d" stroke-width="1.0" stroke-opacity="0.47"/>
<path d="M1523.6 1479.3L1526.8 1470.5L1531.2 1459.4L1535.5 1449.6L1540.1 1440.0" stroke="#757575" stroke-width="2.3" stroke-opacity="0.65"/><path d="M1540.1 1440.0L1544.9 1430.5L1550.1 1421.2L1555.6 1412.1L1561.3 1403.1" stroke="#757575" stroke-width="1.7" stroke-opacity="0.54"/><path d="M1561.3 1403.1L1567.4 1394.4L1573.7 1385.8L1581.1 1376.4L1587.1 1369.2" stroke="#757575" stroke-width="1.0" stroke-opacity="0.42"/>
<path d="M1552.6 1460.7L1557.7 1446.4L1564.2 1428.0L1570.0 1411.7L1575.8 1395.4" stroke="#868686" stroke-width="3.1" stroke-opacity="0.72"/><path d="M1575.8 1395.4L1581.6 1379.0L1587.4 1362.7L1593.2 1346.3L1599.0 1330.0" stroke="#868686" stroke-width="2.2" stroke-opacity="0.59"/><path d="M1599.0 1330.0L1604.7 1313.6L1610.5 1297.3L1617.0 1278.9L1622.0 1264.5" stroke="#868686" stroke-width="1.3" stroke-opacity="0.46"/>
<path d="M1545.7 1480.6L1549.2 1468.1L1553.9 1451.9L1558.1 1437.7L1562.4 1423.4" stroke="#8e8e8e" stroke-width="3.1" stroke-opacity="0.72"/><path d="M1562.4 1423.4L1566.9 1409.2L1571.4 1395.0L1576.0 1380.8L1580.7 1366.6" stroke="#8e8e8e" stroke-width="2.2" stroke-opacity="0.59"/><path d="M1580.7 1366.6L1585.6 1352.5L1590.5 1338.5L1596.2 1322.7L1600.6 1310.4" stroke="#8e8e8e" stroke-width="1.4" stroke-opacity="0.46"/>
<path d="M1376.2 1449.0L1376.9 1434.0L1378.2 1414.7L1380.0 1397.7L1382.3 1380.7" stroke="#979797" stroke-width="3.0" stroke-opacity="0.83"/><path d="M1382.3 1380.7L1385.2 1363.8L1388.7 1347.0L1392.7 1330.4L1397.2 1313.8" stroke="#979797" stroke-width="2.2" stroke-opacity="0.68"/><path d="M1397.2 1313.8L1402.2 1297.4L1407.8 1281.2L1414.8 1263.3L1420.5 1249.4" stroke="#979797" stroke-width="1.3" stroke-opacity="0.53"/>
<path d="M1430.5 1446.1L1430.6 1432.0L1430.7 1413.9L1430.8 1397.8L1431.0 1381.7" stroke="#999999" stroke-width="2.3" stroke-opacity="0.78"/><path d="M1431.0 1381.7L1431.3 1365.5L1431.6 1349.4L1431.9 1333.3L1432.3 1317.2" stroke="#999999" stroke-width="1.7" stroke-opacity="0.64"/><path d="M1432.3 1317.2L1432.8 1301.1L1433.3 1285.0L1433.9 1266.9L1434.4 1252.8" stroke="#999999" stroke-width="1.0" stroke-opacity="0.50"/>
<path d="M1537.6 1476.9L1539.1 1466.9L1540.9 1454.1L1542.5 1442.6L1543.9 1431.2" stroke="#bbbbbb" stroke-width="3.1" stroke-opacity="0.61"/><path d="M1543.9 1431.2L1545.3 1419.7L1546.6 1408.3L1547.8 1396.8L1548.9 1385.3" stroke="#bbbbbb" stroke-width="2.2" stroke-opacity="0.50"/><path d="M1548.9 1385.3L1550.0 1373.8L1551.0 1362.3L1551.9 1349.3L1552.7 1339.3" stroke="#bbbbbb" stroke-width="1.4" stroke-opacity="0.39"/>
<path d="M1482.6 1453.3L1482.8 1445.2L1482.9 1434.7L1483.2 1425.4L1483.6 1416.1" stroke="#aaaaaa" stroke-width="2.8" stroke-opacity="0.82"/><path d="M1483.6 1416.1L1484.0 1406.8L1484.5 1397.5L1485.1 1388.2L1485.8 1378.9" stroke="#aaaaaa" stroke-width="2.0" stroke-opacity="0.67"/><path d="M1485.8 1378.9L1486.6 1369.7L1487.4 1360.4L1488.5 1350.0L1489.4 1341.9" stroke="#aaaaaa" stroke-width="1.3" stroke-opacity="0.52"/>
<path d="M1530.0 1474.5L1534.3 1461.0L1539.9 1443.6L1544.9 1428.2L1549.8 1412.8" stroke="#bcbcbc" stroke-width="2.3" stroke-opacity="0.79"/><path d="M1549.8 1412.8L1554.8 1397.4L1559.8 1381.9L1564.8 1366.5L1569.8 1351.1" stroke="#bcbcbc" stroke-width="1.7" stroke-opacity="0.65"/><path d="M1569.8 1351.1L1574.9 1335.7L1579.9 1320.3L1585.6 1303.0L1590.0 1289.5" stroke="#bcbcbc" stroke-width="1.0" stroke-opacity="0.51"/>
<path d="M1405.9 1444.6L1405.8 1435.9L1405.8 1424.8L1406.1 1414.9L1406.4 1405.0" stroke="#c1c1c1" stroke-width="2.6" stroke-opacity="0.75"/><path d="M1406.4 1405.0L1407.0 1395.1L1407.6 1385.3L1408.5 1375.4L1409.5 1365.6" stroke="#c1c1c1" stroke-width="1.9" stroke-opacity="0.62"/><path d="M1409.5 1365.6L1410.6 1355.7L1411.9 1345.9L1413.6 1334.9L1415.0 1326.4" stroke="#c1c1c1" stroke-width="1.1" stroke-opacity="0.48"/>
<path d="M1401.9 1472.7L1400.2 1457.8L1398.0 1438.6L1395.8 1421.5L1393.5 1404.5" stroke="#898989" stroke-width="2.7" stroke-opacity="0.83"/><path d="M1393.5 1404.5L1391.1 1387.5L1388.5 1370.5L1385.8 1353.6L1382.9 1336.6" stroke="#898989" stroke-width="1.9" stroke-opacity="0.68"/><path d="M1382.9 1336.6L1379.9 1319.7L1376.7 1302.8L1373.0 1283.9L1370.0 1269.2" stroke="#898989" stroke-width="1.2" stroke-opacity="0.53"/>
<path d="M1454.5 1474.9L1455.8 1463.6L1457.4 1449.0L1458.7 1436.1L1459.9 1423.1" stroke="#999999" stroke-width="2.2" stroke-opacity="0.80"/><path d="M1459.9 1423.1L1460.9 1410.1L1461.7 1397.2L1462.5 1384.2L1463.1 1371.2" stroke="#999999" stroke-width="1.6" stroke-opacity="0.65"/><path d="M1463.1 1371.2L1463.5 1358.1L1463.9 1345.1L1464.0 1330.5L1464.1 1319.1" stroke="#999999" stroke-width="1.0" stroke-opacity="0.51"/>
<path d="M1423.0 1481.5L1422.8 1473.6L1422.3 1463.5L1421.6 1454.5L1420.6 1445.5" stroke="#959595" stroke-width="3.3" stroke-opacity="0.91"/><path d="M1420.6 1445.5L1419.3 1436.6L1417.8 1427.7L1416.0 1418.9L1413.9 1410.1" stroke="#959595" stroke-width="2.4" stroke-opacity="0.75"/><path d="M1413.9 1410.1L1411.5 1401.4L1408.9 1392.8L1405.6 1383.2L1402.9 1375.7" stroke="#959595" stroke-width="1.4" stroke-opacity="0.58"/>
<path d="M1423.9 1457.4L1425.3 1441.4L1427.1 1420.8L1428.7 1402.5L1430.3 1384.2" stroke="#a8a8a8" stroke-width="2.3" stroke-opacity="0.91"/><path d="M1430.3 1384.2L1431.8 1365.9L1433.3 1347.6L1434.7 1329.3L1436.1 1311.0" stroke="#a8a8a8" stroke-width="1.6" stroke-opacity="0.74"/><path d="M1436.1 1311.0L1437.5 1292.7L1438.8 1274.4L1440.3 1253.8L1441.4 1237.8" stroke="#a8a8a8" stroke-width="1.0" stroke-opacity="0.58"/>
<path d="M1365.2 1478.3L1364.4 1466.0L1363.3 1450.3L1362.1 1436.3L1360.7 1422.4" stroke="#9c9c9c" stroke-width="2.7" stroke-opacity="0.71"/><path d="M1360.7 1422.4L1359.1 1408.4L1357.4 1394.5L1355.5 1380.6L1353.4 1366.8" stroke="#9c9c9c" stroke-width="1.9" stroke-opacity="0.58"/><path d="M1353.4 1366.8L1351.1 1352.9L1348.7 1339.1L1345.7 1323.6L1343.3 1311.6" stroke="#9c9c9c" stroke-width="1.2" stroke-opacity="0.45"/>
<path d="M1530.3 1467.8L1534.6 1453.0L1540.1 1433.8L1545.2 1416.9L1550.4 1400.0" stroke="#818181" stroke-width="2.9" stroke-opacity="0.92"/><path d="M1550.4 1400.0L1555.8 1383.1L1561.3 1366.3L1566.9 1349.5L1572.7 1332.8" stroke="#818181" stroke-width="2.1" stroke-opacity="0.76"/><path d="M1572.7 1332.8L1578.6 1316.1L1584.7 1299.5L1591.7 1280.8L1597.2 1266.3" stroke="#818181" stroke-width="1.3" stroke-opacity="0.59"/>
<path d="M1392.7 1460.8L1391.5 1448.6L1390.1 1432.9L1388.7 1419.0L1387.4 1405.0" stroke="#acacac" stroke-width="2.6" stroke-opacity="0.76"/><path d="M1387.4 1405.0L1386.0 1391.1L1384.7 1377.1L1383.3 1363.2L1381.9 1349.2" stroke="#acacac" stroke-width="1.8" stroke-opacity="0.62"/><path d="M1381.9 1349.2L1380.5 1335.3L1379.1 1321.3L1377.5 1305.6L1376.2 1293.4" stroke="#acacac" stroke-width="1.1" stroke-opacity="0.49"/>
<path d="M1447.7 1461.4L1449.5 1444.8L1452.0 1423.4L1454.6 1404.5L1457.4 1385.6" stroke="#7b7b7b" stroke-width="2.3" stroke-opacity="0.62"/><path d="M1457.4 1385.6L1460.5 1366.7L1463.9 1347.9L1467.5 1329.1L1471.4 1310.4" stroke="#7b7b7b" stroke-width="1.6" stroke-opacity="0.51"/><path d="M1471.4 1310.4L1475.5 1291.7L1480.0 1273.1L1485.3 1252.3L1489.6 1236.2" stroke="#7b7b7b" stroke-width="1.0" stroke-opacity="0.40"/>
<path d="M1497.0 1450.1L1498.9 1441.2L1501.5 1429.8L1504.3 1419.7L1507.4 1409.7" stroke="#b8b8b8" stroke-width="2.0" stroke-opacity="0.64"/><path d="M1507.4 1409.7L1510.7 1399.9L1514.4 1390.1L1518.4 1380.5L1522.6 1371.0" stroke="#b8b8b8" stroke-width="1.4" stroke-opacity="0.53"/><path d="M1522.6 1371.0L1527.2 1361.6L1532.0 1352.3L1537.9 1342.2L1542.5 1334.3" stroke="#b8b8b8" stroke-width="0.9" stroke-opacity="0.41"/>
<path d="M1413.1 1456.2L1413.1 1445.1L1413.1 1430.9L1413.1 1418.3L1413.0 1405.6" stroke="#989898" stroke-width="3.3" stroke-opacity="0.85"/><path d="M1413.0 1405.6L1412.9 1393.0L1412.8 1380.4L1412.7 1367.7L1412.6 1355.1" stroke="#989898" stroke-width="2.4" stroke-opacity="0.70"/><path d="M1412.6 1355.1L1412.4 1342.5L1412.2 1329.8L1412.0 1315.6L1411.8 1304.6" stroke="#989898" stroke-width="1.5" stroke-opacity="0.54"/>
<path d="M1493.9 1457.4L1498.3 1444.7L1504.2 1428.6L1510.4 1414.5L1517.1 1400.8" stroke="#8b8b8b" stroke-width="2.1" stroke-opacity="0.80"/><path d="M1517.1 1400.8L1524.5 1387.4L1532.6 1374.3L1541.2 1361.7L1550.3 1349.4" stroke="#8b8b8b" stroke-width="1.5" stroke-opacity="0.65"/><path d="M1550.3 1349.4L1560.1 1337.6L1570.4 1326.2L1582.7 1314.2L1592.4 1305.0" stroke="#8b8b8b" stroke-width="0.9" stroke-opacity="0.51"/>
<path d="M1555.9 1471.6L1559.0 1464.1L1563.0 1454.4L1566.4 1445.8L1569.8 1437.1" stroke="#767676" stroke-width="3.2" stroke-opacity="0.65"/><path d="M1569.8 1437.1L1573.2 1428.5L1576.5 1419.8L1579.7 1411.0L1582.9 1402.3" stroke="#767676" stroke-width="2.3" stroke-opacity="0.53"/><path d="M1582.9 1402.3L1586.0 1393.6L1589.1 1384.8L1592.4 1374.9L1595.0 1367.2" stroke="#767676" stroke-width="1.4" stroke-opacity="0.41"/>
<path d="M1531.9 1471.7L1536.3 1459.8L1541.6 1444.4L1546.0 1430.6L1549.9 1416.7" stroke="#979797" stroke-width="2.8" stroke-opacity="0.71"/><path d="M1549.9 1416.7L1553.4 1402.7L1556.6 1388.6L1559.3 1374.4L1561.7 1360.1" stroke="#979797" stroke-width="2.0" stroke-opacity="0.58"/><path d="M1561.7 1360.1L1563.6 1345.8L1565.2 1331.4L1566.4 1315.2L1567.1 1302.5" stroke="#979797" stroke-width="1.2" stroke-opacity="0.45"/>
<path d="M1549.4 1476.8L1553.6 1466.2L1559.3 1452.7L1564.9 1440.9L1570.7 1429.3" stroke="#b6b6b6" stroke-width="2.5" stroke-opacity="0.86"/><path d="M1570.7 1429.3L1576.9 1417.8L1583.5 1406.5L1590.3 1395.4L1597.5 1384.6" stroke="#b6b6b6" stroke-width="1.8" stroke-opacity="0.70"/><path d="M1597.5 1384.6L1605.0 1373.9L1612.9 1363.5L1622.1 1352.1L1629.4 1343.4" stroke="#b6b6b6" stroke-width="1.1" stroke-opacity="0.55"/>
<path d="M1370.8 1476.2L1370.3 1469.3L1369.7 1460.3L1369.1 1452.4L1368.6 1444.5" stroke="#9b9b9b" stroke-width="3.1" stroke-opacity="0.94"/><path d="M1368.6 1444.5L1368.0 1436.6L1367.5 1428.7L1366.9 1420.7L1366.4 1412.8" stroke="#9b9b9b" stroke-width="2.2" stroke-opacity="0.77"/><path d="M1366.4 1412.8L1365.9 1404.9L1365.4 1397.0L1364.8 1388.1L1364.4 1381.1" stroke="#9b9b9b" stroke-width="1.4" stroke-opacity="0.60"/>
<path d="M1432.8 1461.6L1434.3 1450.8L1436.2 1436.8L1438.0 1424.5L1439.8 1412.1" stroke="#848484" stroke-width="2.9" stroke-opacity="0.84"/><path d="M1439.8 1412.1L1441.7 1399.7L1443.8 1387.4L1445.8 1375.1L1448.0 1362.7" stroke="#848484" stroke-width="2.1" stroke-opacity="0.69"/><path d="M1448.0 1362.7L1450.2 1350.4L1452.5 1338.1L1455.2 1324.3L1457.3 1313.6" stroke="#848484" stroke-width="1.3" stroke-opacity="0.54"/>
<path d="M1509.5 1457.5L1515.4 1442.6L1523.0 1423.6L1529.8 1406.7L1536.7 1389.8" stroke="#7f7f7f" stroke-width="2.7" stroke-opacity="0.67"/><path d="M1536.7 1389.8L1543.7 1372.9L1550.8 1356.1L1557.9 1339.3L1565.1 1322.5" stroke="#7f7f7f" stroke-width="2.0" stroke-opacity="0.55"/><path d="M1565.1 1322.5L1572.4 1305.8L1579.7 1289.1L1588.1 1270.4L1594.6 1255.8" stroke="#7f7f7f" stroke-width="1.2" stroke-opacity="0.43"/>
<path d="M1428.6 1468.3L1427.8 1460.8L1426.7 1451.1L1425.5 1442.6L1424.2 1434.0" stroke="#909090" stroke-width="2.4" stroke-opacity="0.84"/><path d="M1424.2 1434.0L1422.8 1425.5L1421.3 1416.9L1419.6 1408.4L1417.8 1400.0" stroke="#909090" stroke-width="1.7" stroke-opacity="0.69"/><path d="M1417.8 1400.0L1415.9 1391.5L1413.9 1383.1L1411.5 1373.7L1409.6 1366.3" stroke="#909090" stroke-width="1.0" stroke-opacity="0.53"/>
<path d="M1503.3 1459.4L1506.9 1448.8L1511.6 1435.1L1515.7 1423.0L1520.0 1410.9" stroke="#8a8a8a" stroke-width="2.3" stroke-opacity="0.86"/><path d="M1520.0 1410.9L1524.2 1398.9L1528.4 1386.8L1532.7 1374.7L1537.1 1362.7" stroke="#8a8a8a" stroke-width="1.7" stroke-opacity="0.70"/><path d="M1537.1 1362.7L1541.4 1350.6L1545.8 1338.6L1550.7 1325.1L1554.6 1314.6" stroke="#8a8a8a" stroke-width="1.0" stroke-opacity="0.55"/>
<path d="M1476.2 1446.5L1475.8 1440.3L1475.3 1432.2L1474.7 1425.0L1474.1 1417.9" stroke="#c3c3c3" stroke-width="2.6" stroke-opacity="0.80"/><path d="M1474.1 1417.9L1473.5 1410.8L1472.7 1403.6L1471.9 1396.5L1471.1 1389.4" stroke="#c3c3c3" stroke-width="1.9" stroke-opacity="0.66"/><path d="M1471.1 1389.4L1470.2 1382.2L1469.3 1375.1L1468.1 1367.1L1467.2 1360.9" stroke="#c3c3c3" stroke-width="1.1" stroke-opacity="0.51"/>
<path d="M1430.5 1454.2L1432.1 1440.2L1434.2 1422.1L1436.3 1406.1L1438.7 1390.1" stroke="#7b7b7b" stroke-width="3.2" stroke-opacity="0.74"/><path d="M1438.7 1390.1L1441.2 1374.1L1443.9 1358.1L1446.8 1342.2L1449.9 1326.4" stroke="#7b7b7b" stroke-width="2.3" stroke-opacity="0.61"/><path d="M1449.9 1326.4L1453.2 1310.5L1456.7 1294.7L1460.8 1277.0L1464.2 1263.2" stroke="#7b7b7b" stroke-width="1.4" stroke-opacity="0.47"/>
<path d="M1548.1 1479.2L1549.8 1473.6L1552.1 1466.4L1554.2 1460.1L1556.3 1453.7" stroke="#939393" stroke-width="2.9" stroke-opacity="0.83"/><path d="M1556.3 1453.7L1558.6 1447.4L1560.8 1441.1L1563.2 1434.8L1565.6 1428.6" stroke="#939393" stroke-width="2.1" stroke-opacity="0.68"/><path d="M1565.6 1428.6L1568.0 1422.3L1570.5 1416.1L1573.4 1409.2L1575.7 1403.8" stroke="#939393" stroke-width="1.3" stroke-opacity="0.53"/>
<path d="M1400.0 1458.3L1400.6 1450.7L1401.3 1440.9L1401.8 1432.2L1402.1 1423.4" stroke="#797979" stroke-width="3.4" stroke-opacity="0.85"/><path d="M1402.1 1423.4L1402.3 1414.7L1402.4 1405.9L1402.4 1397.2L1402.3 1388.4" stroke="#797979" stroke-width="2.4" stroke-opacity="0.69"/><path d="M1402.3 1388.4L1402.0 1379.7L1401.6 1371.0L1401.0 1361.1L1400.5 1353.5" stroke="#797979" stroke-width="1.5" stroke-opacity="0.54"/>
<path d="M1436.0 1465.9L1436.5 1454.1L1437.2 1439.0L1437.8 1425.6L1438.5 1412.1" stroke="#b0b0b0" stroke-width="3.1" stroke-opacity="0.60"/><path d="M1438.5 1412.1L1439.1 1398.7L1439.8 1385.3L1440.5 1371.8L1441.2 1358.4" stroke="#b0b0b0" stroke-width="2.2" stroke-opacity="0.49"/><path d="M1441.2 1358.4L1441.9 1344.9L1442.6 1331.5L1443.4 1316.4L1444.1 1304.6" stroke="#b0b0b0" stroke-width="1.4" stroke-opacity="0.38"/>
<path d="M1521.0 1458.4L1523.3 1446.3L1526.3 1430.7L1529.1 1416.9L1532.1 1403.1" stroke="#afafaf" stroke-width="2.5" stroke-opacity="0.77"/><path d="M1532.1 1403.1L1535.2 1389.3L1538.5 1375.6L1541.9 1361.9L1545.4 1348.3" stroke="#afafaf" stroke-width="1.8" stroke-opacity="0.63"/><path d="M1545.4 1348.3L1549.1 1334.6L1552.9 1321.1L1557.4 1305.8L1561.0 1294.0" stroke="#afafaf" stroke-width="1.1" stroke-opacity="0.49"/>
<path d="M1411.2 1464.4L1410.8 1456.9L1410.1 1447.3L1409.4 1438.8L1408.5 1430.3" stroke="#8b8b8b" stroke-width="2.4" stroke-opacity="0.67"/><path d="M1408.5 1430.3L1407.6 1421.8L1406.6 1413.3L1405.4 1404.8L1404.1 1396.3" stroke="#8b8b8b" stroke-width="1.7" stroke-opacity="0.55"/><path d="M1404.1 1396.3L1402.8 1387.9L1401.3 1379.5L1399.5 1370.0L1398.1 1362.7" stroke="#8b8b8b" stroke-width="1.0" stroke-opacity="0.43"/>
<path d="M1551.8 1477.1L1557.2 1462.0L1564.5 1442.7L1571.3 1425.7L1578.4 1408.8" stroke="#a2a2a2" stroke-width="3.3" stroke-opacity="0.88"/><path d="M1578.4 1408.8L1585.9 1392.1L1593.6 1375.5L1601.7 1359.0L1610.0 1342.7" stroke="#a2a2a2" stroke-width="2.4" stroke-opacity="0.72"/><path d="M1610.0 1342.7L1618.7 1326.5L1627.7 1310.5L1638.2 1292.8L1646.5 1279.1" stroke="#a2a2a2" stroke-width="1.4" stroke-opacity="0.56"/>
<path d="M1444.4 1452.1L1445.7 1441.7L1447.5 1428.4L1449.1 1416.6L1450.8 1404.8" stroke="#8f8f8f" stroke-width="3.0" stroke-opacity="0.75"/><path d="M1450.8 1404.8L1452.6 1393.0L1454.5 1381.2L1456.5 1369.5L1458.6 1357.7" stroke="#8f8f8f" stroke-width="2.2" stroke-opacity="0.62"/><path d="M1458.6 1357.7L1460.7 1346.0L1463.0 1334.3L1465.6 1321.1L1467.7 1310.9" stroke="#8f8f8f" stroke-width="1.3" stroke-opacity="0.48"/>
<path d="M1464.3 1449.3L1464.8 1437.2L1465.5 1421.5L1466.2 1407.6L1466.9 1393.7" stroke="#999999" stroke-width="2.6" stroke-opacity="0.92"/><path d="M1466.9 1393.7L1467.7 1379.8L1468.6 1365.9L1469.6 1352.0L1470.6 1338.1" stroke="#999999" stroke-width="1.9" stroke-opacity="0.75"/><path d="M1470.6 1338.1L1471.7 1324.2L1472.9 1310.4L1474.3 1294.7L1475.4 1282.6" stroke="#999999" stroke-width="1.1" stroke-opacity="0.59"/>
<path d="M1496.5 1455.6L1497.4 1448.9L1498.4 1440.2L1498.9 1432.4L1499.3 1424.6" stroke="#8b8b8b" stroke-width="2.5" stroke-opacity="0.68"/><path d="M1499.3 1424.6L1499.3 1416.8L1499.2 1409.0L1498.8 1401.2L1498.2 1393.4" stroke="#8b8b8b" stroke-width="1.8" stroke-opacity="0.56"/><path d="M1498.2 1393.4L1497.3 1385.7L1496.2 1378.0L1494.6 1369.4L1493.3 1362.7" stroke="#8b8b8b" stroke-width="1.1" stroke-opacity="0.44"/>
<path d="M1488.9 1472.8L1492.3 1464.3L1496.6 1453.4L1500.6 1443.8L1504.6 1434.2" stroke="#a4a4a4" stroke-width="2.1" stroke-opacity="0.63"/><path d="M1504.6 1434.2L1508.7 1424.6L1512.9 1415.0L1517.2 1405.5L1521.5 1396.0" stroke="#a4a4a4" stroke-width="1.5" stroke-opacity="0.52"/><path d="M1521.5 1396.0L1526.0 1386.6L1530.5 1377.2L1535.7 1366.6L1539.7 1358.5" stroke="#a4a4a4" stroke-width="0.9" stroke-opacity="0.40"/>
<path d="M1408.7 1448.4L1408.2 1437.5L1407.6 1423.5L1406.8 1411.1L1405.9 1398.8" stroke="#767676" stroke-width="2.3" stroke-opacity="0.82"/><path d="M1405.9 1398.8L1404.9 1386.4L1403.8 1374.0L1402.6 1361.6L1401.2 1349.3" stroke="#767676" stroke-width="1.7" stroke-opacity="0.67"/><path d="M1401.2 1349.3L1399.7 1337.0L1398.0 1324.7L1396.0 1310.8L1394.4 1300.1" stroke="#767676" stroke-width="1.0" stroke-opacity="0.53"/>
<path d="M1501.3 1450.5L1505.4 1436.1L1510.7 1417.6L1515.4 1401.1L1520.0 1384.6" stroke="#c1c1c1" stroke-width="2.8" stroke-opacity="0.82"/><path d="M1520.0 1384.6L1524.6 1368.1L1529.2 1351.6L1533.7 1335.1L1538.2 1318.5" stroke="#c1c1c1" stroke-width="2.0" stroke-opacity="0.67"/><path d="M1538.2 1318.5L1542.7 1302.0L1547.1 1285.4L1552.1 1266.8L1555.9 1252.3" stroke="#c1c1c1" stroke-width="1.2" stroke-opacity="0.52"/>
<path d="M1374.9 1465.2L1374.2 1447.8L1372.9 1425.6L1370.7 1405.8L1367.7 1386.2" stroke="#7d7d7d" stroke-width="2.9" stroke-opacity="0.62"/><path d="M1367.7 1386.2L1363.9 1366.7L1359.4 1347.4L1354.2 1328.3L1348.1 1309.4" stroke="#7d7d7d" stroke-width="2.1" stroke-opacity="0.51"/><path d="M1348.1 1309.4L1341.4 1290.8L1333.9 1272.4L1324.4 1252.2L1316.7 1236.6" stroke="#7d7d7d" stroke-width="1.3" stroke-opacity="0.40"/>
<path d="M1456.8 1444.2L1456.5 1434.5L1456.2 1422.1L1456.1 1411.0L1456.2 1399.9" stroke="#bfbfbf" stroke-width="2.4" stroke-opacity="0.70"/><path d="M1456.2 1399.9L1456.4 1388.8L1456.8 1377.8L1457.4 1366.7L1458.2 1355.6" stroke="#bfbfbf" stroke-width="1.7" stroke-opacity="0.57"/><path d="M1458.2 1355.6L1459.1 1344.6L1460.2 1333.5L1461.6 1321.2L1462.8 1311.5" stroke="#bfbfbf" stroke-width="1.0" stroke-opacity="0.45"/>
<path d="M1547.0 1445.0L1550.7 1430.0L1555.3 1410.6L1559.1 1393.3L1562.7 1376.0" stroke="#a6a6a6" stroke-width="2.1" stroke-opacity="0.78"/><path d="M1562.7 1376.0L1566.0 1358.6L1569.1 1341.2L1571.9 1323.7L1574.5 1306.2" stroke="#a6a6a6" stroke-width="1.5" stroke-opacity="0.64"/><path d="M1574.5 1306.2L1576.9 1288.6L1579.0 1271.0L1581.0 1251.2L1582.5 1235.8" stroke="#a6a6a6" stroke-width="0.9" stroke-opacity="0.50"/>
<path d="M1553.9 1470.1L1558.3 1454.4L1564.2 1434.3L1569.9 1416.6L1575.8 1399.0" stroke="#747474" stroke-width="3.3" stroke-opacity="0.61"/><path d="M1575.8 1399.0L1582.1 1381.5L1588.8 1364.2L1595.7 1346.9L1602.9 1329.8" stroke="#747474" stroke-width="2.4" stroke-opacity="0.50"/><path d="M1602.9 1329.8L1610.5 1312.8L1618.4 1296.0L1627.6 1277.2L1635.0 1262.7" stroke="#747474" stroke-width="1.5" stroke-opacity="0.39"/>
<path d="M1545.8 1465.4L1549.7 1449.9L1555.0 1430.1L1560.3 1412.7L1566.0 1395.4" stroke="#8c8c8c" stroke-width="2.2" stroke-opacity="0.72"/><path d="M1566.0 1395.4L1572.2 1378.3L1578.8 1361.3L1585.8 1344.5L1593.3 1327.9" stroke="#8c8c8c" stroke-width="1.6" stroke-opacity="0.59"/><path d="M1593.3 1327.9L1601.2 1311.5L1609.5 1295.3L1619.4 1277.4L1627.3 1263.6" stroke="#8c8c8c" stroke-width="1.0" stroke-opacity="0.46"/>
<path d="M1485.8 1456.0L1487.4 1443.1L1489.6 1426.6L1491.8 1411.9L1494.2 1397.2" stroke="#8e8e8e" stroke-width="2.0" stroke-opacity="0.86"/><path d="M1494.2 1397.2L1496.9 1382.6L1499.7 1368.0L1502.8 1353.5L1506.1 1339.0" stroke="#8e8e8e" stroke-width="1.5" stroke-opacity="0.70"/><path d="M1506.1 1339.0L1509.6 1324.6L1513.3 1310.2L1517.8 1294.1L1521.4 1281.6" stroke="#8e8e8e" stroke-width="0.9" stroke-opacity="0.55"/>
<path d="M1415.4 1468.7L1416.1 1456.5L1417.1 1440.7L1418.1 1426.7L1419.2 1412.7" stroke="#b9b9b9" stroke-width="3.3" stroke-opacity="0.79"/><path d="M1419.2 1412.7L1420.5 1398.8L1421.8 1384.8L1423.3 1370.8L1424.9 1356.9" stroke="#b9b9b9" stroke-width="2.4" stroke-opacity="0.64"/><path d="M1424.9 1356.9L1426.6 1343.0L1428.4 1329.1L1430.7 1313.4L1432.4 1301.3" stroke="#b9b9b9" stroke-width="1.4" stroke-opacity="0.50"/>
<path d="M1521.4 1460.6L1526.5 1447.2L1533.0 1429.8L1538.8 1414.5L1544.6 1399.1" stroke="#868686" stroke-width="2.4" stroke-opacity="0.64"/><path d="M1544.6 1399.1L1550.4 1383.7L1556.2 1368.3L1562.1 1352.9L1567.9 1337.6" stroke="#868686" stroke-width="1.7" stroke-opacity="0.52"/><path d="M1567.9 1337.6L1573.8 1322.2L1579.6 1306.8L1586.3 1289.6L1591.4 1276.1" stroke="#868686" stroke-width="1.0" stroke-opacity="0.41"/>
<path d="M1411.3 1474.1L1411.9 1458.0L1412.8 1437.4L1413.9 1419.1L1415.3 1400.8" stroke="#a0a0a0" stroke-width="2.5" stroke-opacity="0.89"/><path d="M1415.3 1400.8L1416.9 1382.5L1418.7 1364.3L1420.8 1346.1L1423.1 1327.9" stroke="#a0a0a0" stroke-width="1.8" stroke-opacity="0.73"/><path d="M1423.1 1327.9L1425.7 1309.7L1428.5 1291.6L1432.0 1271.2L1434.8 1255.4" stroke="#a0a0a0" stroke-width="1.1" stroke-opacity="0.57"/>
<path d="M1434.4 1475.9L1434.4 1464.9L1434.8 1450.8L1435.5 1438.3L1436.7 1425.7" stroke="#9c9c9c" stroke-width="2.4" stroke-opacity="0.63"/><path d="M1436.7 1425.7L1438.3 1413.3L1440.2 1400.9L1442.5 1388.5L1445.2 1376.2" stroke="#9c9c9c" stroke-width="1.8" stroke-opacity="0.51"/><path d="M1445.2 1376.2L1448.2 1364.0L1451.6 1351.9L1456.0 1338.5L1459.6 1328.1" stroke="#9c9c9c" stroke-width="1.1" stroke-opacity="0.40"/>
<path d="M1523.6 1455.2L1527.6 1441.8L1533.0 1424.8L1538.4 1409.8L1544.3 1395.0" stroke="#aaaaaa" stroke-width="2.4" stroke-opacity="0.76"/><path d="M1544.3 1395.0L1550.6 1380.4L1557.4 1366.0L1564.6 1351.8L1572.3 1337.9" stroke="#aaaaaa" stroke-width="1.7" stroke-opacity="0.62"/><path d="M1572.3 1337.9L1580.4 1324.2L1588.9 1310.8L1599.1 1296.1L1607.2 1284.7" stroke="#aaaaaa" stroke-width="1.1" stroke-opacity="0.49"/>
<path d="M1410.7 1459.8L1410.1 1442.6L1409.2 1420.4L1408.2 1400.7L1406.9 1381.0" stroke="#8b8b8b" stroke-width="2.9" stroke-opacity="0.86"/><path d="M1406.9 1381.0L1405.3 1361.3L1403.6 1341.6L1401.5 1322.0L1399.3 1302.4" stroke="#8b8b8b" stroke-width="2.1" stroke-opacity="0.71"/><path d="M1399.3 1302.4L1396.8 1282.8L1394.1 1263.2L1390.7 1241.3L1388.0 1224.2" stroke="#8b8b8b" stroke-width="1.3" stroke-opacity="0.55"/>
<path d="M1405.2 1451.5L1404.6 1434.4L1403.8 1412.4L1402.9 1392.8L1401.8 1373.3" stroke="#acacac" stroke-width="3.2" stroke-opacity="0.91"/><path d="M1401.8 1373.3L1400.7 1353.8L1399.4 1334.2L1398.0 1314.7L1396.5 1295.2" stroke="#acacac" stroke-width="2.3" stroke-opacity="0.75"/><path d="M1396.5 1295.2L1394.9 1275.7L1393.1 1256.2L1390.9 1234.3L1389.2 1217.3" stroke="#acacac" stroke-width="1.4" stroke-opacity="0.58"/>
<path d="M1480.4 1455.6L1481.2 1448.4L1482.2 1439.1L1483.3 1430.9L1484.4 1422.7" stroke="#7a7a7a" stroke-width="3.3" stroke-opacity="0.65"/><path d="M1484.4 1422.7L1485.7 1414.5L1487.1 1406.3L1488.6 1398.2L1490.2 1390.1" stroke="#7a7a7a" stroke-width="2.4" stroke-opacity="0.53"/><path d="M1490.2 1390.1L1492.0 1382.0L1493.8 1373.9L1496.0 1364.8L1497.8 1357.8" stroke="#7a7a7a" stroke-width="1.5" stroke-opacity="0.42"/>
<path d="M1468.3 1445.4L1468.3 1436.8L1468.5 1425.8L1468.9 1416.0L1469.5 1406.2" stroke="#8a8a8a" stroke-width="2.1" stroke-opacity="0.86"/><path d="M1469.5 1406.2L1470.3 1396.5L1471.3 1386.7L1472.5 1377.0L1473.9 1367.3" stroke="#8a8a8a" stroke-width="1.5" stroke-opacity="0.71"/><path d="M1473.9 1367.3L1475.5 1357.6L1477.2 1348.0L1479.5 1337.2L1481.4 1328.8" stroke="#8a8a8a" stroke-width="0.9" stroke-opacity="0.55"/>
<path d="M1527.8 1479.4L1530.2 1469.5L1533.2 1456.8L1535.9 1445.5L1538.6 1434.2" stroke="#b1b1b1" stroke-width="3.0" stroke-opacity="0.75"/><path d="M1538.6 1434.2L1541.3 1422.9L1544.0 1411.6L1546.7 1400.3L1549.4 1389.0" stroke="#b1b1b1" stroke-width="2.2" stroke-opacity="0.62"/><path d="M1549.4 1389.0L1552.1 1377.7L1554.8 1366.5L1557.8 1353.7L1560.1 1343.9" stroke="#b1b1b1" stroke-width="1.3" stroke-opacity="0.48"/>
<path d="M1499.5 1441.9L1501.9 1432.1L1504.9 1419.5L1507.5 1408.3L1510.1 1397.0" stroke="#919191" stroke-width="3.1" stroke-opacity="0.69"/><path d="M1510.1 1397.0L1512.5 1385.8L1514.9 1374.5L1517.3 1363.2L1519.6 1351.9" stroke="#919191" stroke-width="2.2" stroke-opacity="0.57"/><path d="M1519.6 1351.9L1521.8 1340.6L1523.9 1329.3L1526.2 1316.5L1528.0 1306.6" stroke="#919191" stroke-width="1.3" stroke-opacity="0.44"/>
<path d="M1503.8 1477.6L1505.6 1468.8L1508.0 1457.5L1510.1 1447.4L1512.3 1437.4" stroke="#969696" stroke-width="2.3" stroke-opacity="0.79"/><path d="M1512.3 1437.4L1514.5 1427.4L1516.8 1417.4L1519.2 1407.5L1521.6 1397.5" stroke="#969696" stroke-width="1.6" stroke-opacity="0.65"/><path d="M1521.6 1397.5L1524.0 1387.5L1526.5 1377.6L1529.3 1366.4L1531.6 1357.7" stroke="#969696" stroke-width="1.0" stroke-opacity="0.51"/>
<path d="M1427.5 1467.8L1426.0 1451.4L1424.2 1430.3L1422.6 1411.6L1421.0 1392.8" stroke="#9a9a9a" stroke-width="2.9" stroke-opacity="0.79"/><path d="M1421.0 1392.8L1419.5 1374.1L1418.0 1355.3L1416.6 1336.5L1415.2 1317.8" stroke="#9a9a9a" stroke-width="2.1" stroke-opacity="0.65"/><path d="M1415.2 1317.8L1413.9 1299.0L1412.6 1280.2L1411.3 1259.1L1410.2 1242.7" stroke="#9a9a9a" stroke-width="1.3" stroke-opacity="0.50"/>
<path d="M1450.7 1460.9L1450.2 1453.5L1449.6 1444.0L1449.3 1435.5L1449.2 1427.0" stroke="#8d8d8d" stroke-width="2.1" stroke-opacity="0.64"/><path d="M1449.2 1427.0L1449.2 1418.6L1449.5 1410.1L1449.9 1401.6L1450.5 1393.2" stroke="#8d8d8d" stroke-width="1.5" stroke-opacity="0.53"/><path d="M1450.5 1393.2L1451.2 1384.7L1452.2 1376.3L1453.5 1366.9L1454.6 1359.5" stroke="#8d8d8d" stroke-width="0.9" stroke-opacity="0.41"/>
<path d="M1366.9 1478.4L1365.7 1463.8L1364.2 1445.0L1362.8 1428.3L1361.4 1411.5" stroke="#818181" stroke-width="2.9" stroke-opacity="0.92"/><path d="M1361.4 1411.5L1359.9 1394.8L1358.3 1378.1L1356.7 1361.4L1355.0 1344.7" stroke="#818181" stroke-width="2.1" stroke-opacity="0.75"/><path d="M1355.0 1344.7L1353.3 1328.0L1351.5 1311.4L1349.4 1292.6L1347.8 1278.0" stroke="#818181" stroke-width="1.3" stroke-opacity="0.59"/>
<path d="M1436.9 1454.8L1439.9 1440.1L1444.0 1421.2L1447.9 1404.5L1452.0 1387.8" stroke="#989898" stroke-width="2.3" stroke-opacity="0.80"/><path d="M1452.0 1387.8L1456.5 1371.2L1461.1 1354.7L1466.0 1338.2L1471.1 1321.8" stroke="#989898" stroke-width="1.7" stroke-opacity="0.65"/><path d="M1471.1 1321.8L1476.5 1305.5L1482.1 1289.2L1488.8 1271.1L1494.1 1257.0" stroke="#989898" stroke-width="1.0" stroke-opacity="0.51"/>
<path d="M1459.5 1451.0L1459.1 1444.3L1458.6 1435.7L1458.0 1428.1L1457.4 1420.5" stroke="#787878" stroke-width="2.3" stroke-opacity="0.74"/><path d="M1457.4 1420.5L1456.7 1412.9L1456.0 1405.3L1455.1 1397.7L1454.2 1390.1" stroke="#787878" stroke-width="1.7" stroke-opacity="0.61"/><path d="M1454.2 1390.1L1453.2 1382.5L1452.2 1375.0L1450.9 1366.5L1449.9 1359.9" stroke="#787878" stroke-width="1.0" stroke-opacity="0.48"/>
<path d="M1528.6 1462.1L1531.6 1455.0L1535.4 1445.9L1539.2 1438.0L1543.3 1430.2" stroke="#999999" stroke-width="3.3" stroke-opacity="0.92"/><path d="M1543.3 1430.2L1547.5 1422.5L1552.0 1415.0L1556.8 1407.6L1561.8 1400.4" stroke="#999999" stroke-width="2.4" stroke-opacity="0.75"/><path d="M1561.8 1400.4L1567.0 1393.3L1572.4 1386.4L1578.8 1378.9L1583.9 1373.1" stroke="#999999" stroke-width="1.5" stroke-opacity="0.59"/>
<path d="M1418.2 1441.3L1418.7 1434.3L1419.2 1425.4L1419.5 1417.4L1419.5 1409.5" stroke="#929292" stroke-width="3.0" stroke-opacity="0.68"/><path d="M1419.5 1409.5L1419.5 1401.5L1419.3 1393.6L1418.9 1385.6L1418.3 1377.7" stroke="#929292" stroke-width="2.2" stroke-opacity="0.56"/><path d="M1418.3 1377.7L1417.6 1369.8L1416.8 1361.9L1415.6 1353.0L1414.6 1346.1" stroke="#929292" stroke-width="1.3" stroke-opacity="0.43"/>
<path d="M1488.6 1450.6L1488.8 1438.9L1488.9 1423.8L1488.6 1410.4L1487.9 1397.1" stroke="#a8a8a8" stroke-width="2.3" stroke-opacity="0.64"/><path d="M1487.9 1397.1L1486.9 1383.7L1485.6 1370.4L1484.0 1357.1L1482.1 1343.9" stroke="#a8a8a8" stroke-width="1.7" stroke-opacity="0.53"/><path d="M1482.1 1343.9L1479.8 1330.7L1477.2 1317.5L1473.9 1302.8L1471.1 1291.4" stroke="#a8a8a8" stroke-width="1.0" stroke-opacity="0.41"/>
<path d="M1497.0 1472.9L1500.6 1462.8L1505.4 1450.0L1510.2 1438.7L1515.5 1427.7" stroke="#7d7d7d" stroke-width="2.9" stroke-opacity="0.83"/><path d="M1515.5 1427.7L1521.2 1416.9L1527.3 1406.3L1533.8 1396.0L1540.7 1385.9" stroke="#7d7d7d" stroke-width="2.1" stroke-opacity="0.68"/><path d="M1540.7 1385.9L1548.0 1376.1L1555.7 1366.6L1564.8 1356.3L1572.1 1348.5" stroke="#7d7d7d" stroke-width="1.3" stroke-opacity="0.53"/>
<path d="M1538.6 1468.0L1541.5 1461.7L1545.2 1453.7L1548.8 1446.6L1552.4 1439.6" stroke="#b9b9b9" stroke-width="2.1" stroke-opacity="0.87"/><path d="M1552.4 1439.6L1556.2 1432.6L1560.1 1425.7L1564.1 1418.9L1568.3 1412.2" stroke="#b9b9b9" stroke-width="1.5" stroke-opacity="0.71"/><path d="M1568.3 1412.2L1572.5 1405.5L1576.9 1399.0L1582.0 1391.7L1586.0 1386.0" stroke="#b9b9b9" stroke-width="0.9" stroke-opacity="0.55"/>
<path d="M1416.6 1470.7L1416.5 1462.7L1416.5 1452.3L1416.4 1443.1L1416.3 1433.9" stroke="#898989" stroke-width="2.1" stroke-opacity="0.76"/><path d="M1416.3 1433.9L1416.2 1424.7L1416.1 1415.4L1415.9 1406.2L1415.8 1397.0" stroke="#898989" stroke-width="1.5" stroke-opacity="0.62"/><path d="M1415.8 1397.0L1415.6 1387.8L1415.4 1378.6L1415.1 1368.2L1415.0 1360.2" stroke="#898989" stroke-width="0.9" stroke-opacity="0.49"/>
<path d="M1443.1 1478.2L1447.2 1464.2L1452.5 1446.2L1457.2 1430.3L1461.8 1414.3" stroke="#797979" stroke-width="2.6" stroke-opacity="0.67"/><path d="M1461.8 1414.3L1466.4 1398.3L1471.0 1382.3L1475.6 1366.3L1480.1 1350.3" stroke="#797979" stroke-width="1.8" stroke-opacity="0.55"/><path d="M1480.1 1350.3L1484.5 1334.2L1489.0 1318.2L1493.9 1300.1L1497.7 1286.1" stroke="#797979" stroke-width="1.1" stroke-opacity="0.43"/>
<path d="M1442.8 1442.0L1442.6 1428.4L1442.4 1410.9L1442.5 1395.3L1442.8 1379.7" stroke="#a9a9a9" stroke-width="3.1" stroke-opacity="0.85"/><path d="M1442.8 1379.7L1443.2 1364.2L1443.9 1348.6L1444.7 1333.1L1445.7 1317.5" stroke="#a9a9a9" stroke-width="2.3" stroke-opacity="0.70"/><path d="M1445.7 1317.5L1446.9 1302.0L1448.3 1286.5L1450.1 1269.1L1451.6 1255.5" stroke="#a9a9a9" stroke-width="1.4" stroke-opacity="0.54"/>
<path d="M1411.2 1481.9L1411.8 1465.3L1412.8 1444.1L1414.0 1425.2L1415.5 1406.4" stroke="#888888" stroke-width="3.3" stroke-opacity="0.85"/><path d="M1415.5 1406.4L1417.2 1387.6L1419.2 1368.8L1421.4 1350.0L1424.0 1331.3" stroke="#888888" stroke-width="2.3" stroke-opacity="0.70"/><path d="M1424.0 1331.3L1426.7 1312.6L1429.8 1293.9L1433.6 1273.0L1436.7 1256.7" stroke="#888888" stroke-width="1.4" stroke-opacity="0.54"/>
<path d="M1369.1 1467.2L1369.0 1461.3L1368.9 1453.7L1369.0 1446.9L1369.3 1440.1" stroke="#989898" stroke-width="3.3" stroke-opacity="0.70"/><path d="M1369.3 1440.1L1369.7 1433.3L1370.2 1426.6L1370.9 1419.8L1371.7 1413.1" stroke="#989898" stroke-width="2.4" stroke-opacity="0.57"/><path d="M1371.7 1413.1L1372.6 1406.4L1373.7 1399.7L1375.2 1392.2L1376.3 1386.3" stroke="#989898" stroke-width="1.4" stroke-opacity="0.45"/>
<path d="M1510.5 1440.7L1514.1 1428.2L1518.5 1412.0L1521.9 1397.5L1525.1 1382.9" stroke="#979797" stroke-width="2.3" stroke-opacity="0.64"/><path d="M1525.1 1382.9L1527.9 1368.3L1530.3 1353.6L1532.4 1338.8L1534.2 1324.0" stroke="#979797" stroke-width="1.6" stroke-opacity="0.52"/><path d="M1534.2 1324.0L1535.6 1309.2L1536.6 1294.3L1537.3 1277.5L1537.7 1264.5" stroke="#979797" stroke-width="1.0" stroke-opacity="0.41"/>
<path d="M1517.1 1447.9L1522.9 1433.4L1530.4 1414.7L1537.0 1398.1L1543.5 1381.5" stroke="#b8b8b8" stroke-width="2.5" stroke-opacity="0.63"/><path d="M1543.5 1381.5L1550.0 1364.9L1556.4 1348.2L1562.8 1331.5L1569.1 1314.8" stroke="#b8b8b8" stroke-width="1.8" stroke-opacity="0.52"/><path d="M1569.1 1314.8L1575.3 1298.1L1581.5 1281.3L1588.4 1262.5L1593.8 1247.8" stroke="#b8b8b8" stroke-width="1.1" stroke-opacity="0.40"/>
<path d="M1439.1 1444.0L1441.0 1426.7L1443.4 1404.6L1445.7 1384.9L1448.0 1365.2" stroke="#bdbdbd" stroke-width="2.0" stroke-opacity="0.70"/><path d="M1448.0 1365.2L1450.4 1345.5L1452.8 1325.8L1455.3 1306.1L1457.9 1286.5" stroke="#bdbdbd" stroke-width="1.5" stroke-opacity="0.57"/><path d="M1457.9 1286.5L1460.5 1266.8L1463.2 1247.2L1466.3 1225.1L1468.7 1207.9" stroke="#bdbdbd" stroke-width="0.9" stroke-opacity="0.45"/>
<path d="M1472.4 1461.4L1473.4 1449.0L1474.8 1433.1L1476.2 1418.9L1477.8 1404.8" stroke="#858585" stroke-width="2.2" stroke-opacity="0.93"/><path d="M1477.8 1404.8L1479.6 1390.6L1481.6 1376.6L1483.8 1362.5L1486.1 1348.5" stroke="#858585" stroke-width="1.6" stroke-opacity="0.76"/><path d="M1486.1 1348.5L1488.7 1334.5L1491.4 1320.5L1494.6 1304.8L1497.3 1292.6" stroke="#858585" stroke-width="1.0" stroke-opacity="0.59"/>
<path d="M1377.6 1449.7L1376.6 1439.8L1375.1 1427.2L1373.5 1416.0L1371.7 1404.8" stroke="#969696" stroke-width="3.2" stroke-opacity="0.62"/><path d="M1371.7 1404.8L1369.7 1393.6L1367.5 1382.5L1365.1 1371.5L1362.4 1360.5" stroke="#969696" stroke-width="2.3" stroke-opacity="0.51"/><path d="M1362.4 1360.5L1359.5 1349.5L1356.4 1338.7L1352.6 1326.5L1349.6 1317.1" stroke="#969696" stroke-width="1.4" stroke-opacity="0.40"/>
<path d="M1530.7 1467.8L1532.4 1460.8L1534.6 1451.8L1536.6 1443.8L1538.7 1435.8" stroke="#878787" stroke-width="2.8" stroke-opacity="0.67"/><path d="M1538.7 1435.8L1540.7 1427.9L1542.7 1419.9L1544.7 1411.9L1546.8 1403.9" stroke="#878787" stroke-width="2.1" stroke-opacity="0.55"/><path d="M1546.8 1403.9L1548.8 1396.0L1550.9 1388.0L1553.2 1379.0L1555.0 1372.1" stroke="#878787" stroke-width="1.3" stroke-opacity="0.43"/>
<path d="M1482.7 1472.5L1483.7 1461.8L1485.1 1448.1L1486.3 1435.9L1487.5 1423.7" stroke="#a4a4a4" stroke-width="2.6" stroke-opacity="0.62"/><path d="M1487.5 1423.7L1488.8 1411.6L1490.1 1399.4L1491.5 1387.2L1492.9 1375.0" stroke="#a4a4a4" stroke-width="1.9" stroke-opacity="0.51"/><path d="M1492.9 1375.0L1494.4 1362.9L1495.8 1350.7L1497.5 1337.0L1498.9 1326.4" stroke="#a4a4a4" stroke-width="1.1" stroke-opacity="0.39"/>
<path d="M1515.9 1466.5L1518.3 1460.2L1521.4 1452.1L1524.1 1444.9L1526.7 1437.6" stroke="#9f9f9f" stroke-width="2.2" stroke-opacity="0.75"/><path d="M1526.7 1437.6L1529.3 1430.3L1531.8 1423.1L1534.4 1415.8L1536.8 1408.5" stroke="#9f9f9f" stroke-width="1.6" stroke-opacity="0.61"/><path d="M1536.8 1408.5L1539.2 1401.2L1541.6 1393.8L1544.2 1385.6L1546.2 1379.1" stroke="#9f9f9f" stroke-width="1.0" stroke-opacity="0.48"/>
<path d="M1452.7 1454.5L1453.6 1439.0L1454.9 1419.0L1456.2 1401.2L1457.7 1383.5" stroke="#9a9a9a" stroke-width="2.4" stroke-opacity="0.87"/><path d="M1457.7 1383.5L1459.3 1365.8L1461.1 1348.1L1463.0 1330.4L1465.2 1312.7" stroke="#9a9a9a" stroke-width="1.7" stroke-opacity="0.71"/><path d="M1465.2 1312.7L1467.4 1295.1L1469.9 1277.4L1472.9 1257.6L1475.2 1242.2" stroke="#9a9a9a" stroke-width="1.1" stroke-opacity="0.56"/>
<path d="M1484.2 1459.2L1482.7 1449.0L1480.8 1435.8L1479.3 1424.1L1477.9 1412.4" stroke="#939393" stroke-width="2.1" stroke-opacity="0.72"/><path d="M1477.9 1412.4L1476.6 1400.7L1475.4 1389.0L1474.4 1377.2L1473.4 1365.5" stroke="#939393" stroke-width="1.5" stroke-opacity="0.59"/><path d="M1473.4 1365.5L1472.5 1353.7L1471.7 1341.9L1471.0 1328.7L1470.5 1318.4" stroke="#939393" stroke-width="0.9" stroke-opacity="0.46"/>
<path d="M1486.8 1477.9L1486.1 1467.3L1485.3 1453.7L1485.0 1441.6L1485.1 1429.4" stroke="#7a7a7a" stroke-width="2.1" stroke-opacity="0.85"/><path d="M1485.1 1429.4L1485.4 1417.3L1486.1 1405.2L1487.1 1393.2L1488.3 1381.1" stroke="#7a7a7a" stroke-width="1.5" stroke-opacity="0.69"/><path d="M1488.3 1381.1L1489.9 1369.1L1491.8 1357.1L1494.4 1343.8L1496.5 1333.4" stroke="#7a7a7a" stroke-width="0.9" stroke-opacity="0.54"/>
<path d="M1457.6 1477.9L1458.9 1465.3L1460.6 1449.1L1462.3 1434.7L1464.1 1420.4" stroke="#aaaaaa" stroke-width="2.2" stroke-opacity="0.84"/><path d="M1464.1 1420.4L1466.0 1406.0L1468.1 1391.7L1470.2 1377.4L1472.5 1363.1" stroke="#aaaaaa" stroke-width="1.6" stroke-opacity="0.69"/><path d="M1472.5 1363.1L1474.9 1348.9L1477.4 1334.6L1480.3 1318.6L1482.7 1306.2" stroke="#aaaaaa" stroke-width="1.0" stroke-opacity="0.54"/>
<path d="M1490.8 1469.6L1492.8 1456.8L1495.5 1440.4L1498.2 1425.9L1501.1 1411.4" stroke="#a6a6a6" stroke-width="2.5" stroke-opacity="0.88"/><path d="M1501.1 1411.4L1504.1 1396.9L1507.3 1382.5L1510.8 1368.1L1514.4 1353.8" stroke="#a6a6a6" stroke-width="1.8" stroke-opacity="0.72"/><path d="M1514.4 1353.8L1518.2 1339.5L1522.2 1325.3L1526.9 1309.3L1530.7 1297.0" stroke="#a6a6a6" stroke-width="1.1" stroke-opacity="0.56"/>
<path d="M1523.2 1481.0L1528.4 1467.5L1535.2 1450.3L1541.6 1435.0L1548.1 1419.8" stroke="#bababa" stroke-width="2.6" stroke-opacity="0.85"/><path d="M1548.1 1419.8L1554.9 1404.7L1561.8 1389.7L1569.0 1374.8L1576.3 1360.0" stroke="#bababa" stroke-width="1.9" stroke-opacity="0.70"/><path d="M1576.3 1360.0L1583.9 1345.3L1591.6 1330.7L1600.6 1314.5L1607.7 1301.9" stroke="#bababa" stroke-width="1.2" stroke-opacity="0.54"/>
<path d="M1459.5 1451.2L1460.3 1438.9L1461.5 1423.1L1462.8 1409.0L1464.4 1395.0" stroke="#bcbcbc" stroke-width="3.3" stroke-opacity="0.61"/><path d="M1464.4 1395.0L1466.3 1381.1L1468.4 1367.1L1470.7 1353.2L1473.3 1339.4" stroke="#bcbcbc" stroke-width="2.4" stroke-opacity="0.50"/><path d="M1473.3 1339.4L1476.1 1325.6L1479.2 1311.8L1483.0 1296.4L1486.0 1284.5" stroke="#bcbcbc" stroke-width="1.5" stroke-opacity="0.39"/>
<path d="M1431.4 1471.9L1430.5 1463.5L1429.4 1452.7L1428.8 1443.1L1428.4 1433.4" stroke="#898989" stroke-width="2.6" stroke-opacity="0.66"/><path d="M1428.4 1433.4L1428.2 1423.8L1428.3 1414.1L1428.6 1404.4L1429.1 1394.8" stroke="#898989" stroke-width="1.9" stroke-opacity="0.54"/><path d="M1429.1 1394.8L1429.9 1385.2L1430.9 1375.6L1432.4 1364.8L1433.6 1356.4" stroke="#898989" stroke-width="1.2" stroke-opacity="0.42"/>
<path d="M1553.3 1447.5L1557.7 1435.8L1563.4 1420.8L1568.8 1407.7L1574.4 1394.6" stroke="#979797" stroke-width="3.0" stroke-opacity="0.85"/><path d="M1574.4 1394.6L1580.2 1381.5L1586.2 1368.6L1592.3 1355.8L1598.7 1343.1" stroke="#979797" stroke-width="2.2" stroke-opacity="0.70"/><path d="M1598.7 1343.1L1605.3 1330.5L1612.2 1318.0L1620.1 1304.1L1626.3 1293.3" stroke="#979797" stroke-width="1.3" stroke-opacity="0.54"/>
<path d="M1455.9 1450.7L1455.8 1439.7L1455.5 1425.4L1455.1 1412.8L1454.6 1400.2" stroke="#888888" stroke-width="2.2" stroke-opacity="0.74"/><path d="M1454.6 1400.2L1453.9 1387.6L1453.0 1375.0L1452.0 1362.4L1450.9 1349.8" stroke="#888888" stroke-width="1.6" stroke-opacity="0.60"/><path d="M1450.9 1349.8L1449.6 1337.2L1448.2 1324.7L1446.4 1310.6L1444.9 1299.6" stroke="#888888" stroke-width="1.0" stroke-opacity="0.47"/>
<path d="M1369.1 1478.7L1369.7 1472.0L1370.6 1463.3L1371.4 1455.7L1372.3 1448.0" stroke="#b9b9b9" stroke-width="2.1" stroke-opacity="0.63"/><path d="M1372.3 1448.0L1373.3 1440.4L1374.4 1432.8L1375.5 1425.1L1376.8 1417.5" stroke="#b9b9b9" stroke-width="1.5" stroke-opacity="0.52"/><path d="M1376.8 1417.5L1378.1 1409.9L1379.5 1402.4L1381.2 1393.9L1382.5 1387.2" stroke="#b9b9b9" stroke-width="0.9" stroke-opacity="0.41"/>
<path d="M1508.7 1455.0L1510.8 1439.2L1513.6 1419.0L1515.9 1401.0L1518.1 1382.9" stroke="#b2b2b2" stroke-width="2.7" stroke-opacity="0.93"/><path d="M1518.1 1382.9L1520.2 1364.9L1522.2 1346.9L1524.0 1328.8L1525.8 1310.7" stroke="#b2b2b2" stroke-width="2.0" stroke-opacity="0.76"/><path d="M1525.8 1310.7L1527.5 1292.6L1529.1 1274.6L1530.7 1254.2L1532.0 1238.3" stroke="#b2b2b2" stroke-width="1.2" stroke-opacity="0.60"/>
<path d="M1488.1 1466.3L1489.3 1455.1L1491.1 1440.8L1492.9 1428.0L1495.0 1415.3" stroke="#767676" stroke-width="2.2" stroke-opacity="0.78"/><path d="M1495.0 1415.3L1497.2 1402.7L1499.6 1390.1L1502.3 1377.5L1505.1 1364.9" stroke="#767676" stroke-width="1.6" stroke-opacity="0.64"/><path d="M1505.1 1364.9L1508.1 1352.4L1511.3 1340.0L1515.2 1326.1L1518.3 1315.3" stroke="#767676" stroke-width="1.0" stroke-opacity="0.50"/>
<path d="M1554.1 1445.0L1556.3 1438.4L1559.2 1430.0L1561.9 1422.6L1564.7 1415.3" stroke="#828282" stroke-width="2.2" stroke-opacity="0.71"/><path d="M1564.7 1415.3L1567.6 1408.0L1570.6 1400.7L1573.8 1393.4L1577.0 1386.3" stroke="#828282" stroke-width="1.6" stroke-opacity="0.58"/><path d="M1577.0 1386.3L1580.3 1379.1L1583.7 1372.0L1587.7 1364.1L1590.9 1358.0" stroke="#828282" stroke-width="1.0" stroke-opacity="0.45"/>
<path d="M1537.8 1469.6L1540.2 1455.1L1543.4 1436.7L1547.1 1420.4" stroke="#6e6e6e" stroke-width="2.2" stroke-opacity="0.72"/><path d="M1547.1 1420.4L1551.3 1404.2L1556.0 1388.2" stroke="#6e6e6e" stroke-width="1.6" stroke-opacity="0.59"/><path d="M1556.0 1388.2L1561.2 1372.4L1567.9 1354.8L1573.4 1341.3" stroke="#6e6e6e" stroke-width="1.0" stroke-opacity="0.46"/>
<path d="M1492.7 1449.2L1496.5 1435.5L1501.3 1417.9L1505.6 1402.3" stroke="#757575" stroke-width="2.5" stroke-opacity="0.52"/><path d="M1505.6 1402.3L1509.8 1386.6L1513.9 1370.9" stroke="#757575" stroke-width="1.8" stroke-opacity="0.43"/><path d="M1513.9 1370.9L1518.0 1355.2L1522.5 1337.6L1526.0 1323.8" stroke="#757575" stroke-width="1.1" stroke-opacity="0.33"/>
<path d="M1426.1 1467.6L1425.8 1453.5L1425.5 1435.4L1425.6 1419.4" stroke="#696969" stroke-width="2.2" stroke-opacity="0.53"/><path d="M1425.6 1419.4L1426.1 1403.3L1426.7 1387.2" stroke="#696969" stroke-width="1.6" stroke-opacity="0.43"/><path d="M1426.7 1387.2L1427.7 1371.2L1429.2 1353.2L1430.4 1339.1" stroke="#696969" stroke-width="0.9" stroke-opacity="0.34"/>
<path d="M1464.7 1454.2L1465.4 1443.6L1466.4 1429.8L1467.3 1417.6" stroke="#727272" stroke-width="2.9" stroke-opacity="0.56"/><path d="M1467.3 1417.6L1468.1 1405.5L1468.9 1393.3" stroke="#727272" stroke-width="2.1" stroke-opacity="0.46"/><path d="M1468.9 1393.3L1469.6 1381.1L1470.5 1367.3L1471.1 1356.7" stroke="#727272" stroke-width="1.3" stroke-opacity="0.36"/>
<path d="M1498.7 1481.0L1501.0 1470.3L1504.0 1456.6L1507.1 1444.5" stroke="#727272" stroke-width="2.9" stroke-opacity="0.70"/><path d="M1507.1 1444.5L1510.4 1432.4L1513.9 1420.4" stroke="#727272" stroke-width="2.1" stroke-opacity="0.57"/><path d="M1513.9 1420.4L1517.7 1408.5L1522.3 1395.2L1526.0 1384.9" stroke="#727272" stroke-width="1.3" stroke-opacity="0.45"/>
<path d="M1521.6 1464.1L1524.4 1449.8L1528.0 1431.4L1531.4 1415.1" stroke="#5d5d5d" stroke-width="2.4" stroke-opacity="0.56"/><path d="M1531.4 1415.1L1534.9 1398.8L1538.5 1382.5" stroke="#5d5d5d" stroke-width="1.7" stroke-opacity="0.46"/><path d="M1538.5 1382.5L1542.2 1366.3L1546.6 1348.1L1550.1 1333.9" stroke="#5d5d5d" stroke-width="1.1" stroke-opacity="0.36"/>
<path d="M1433.2 1480.2L1433.9 1465.5L1434.8 1446.5L1435.4 1429.6" stroke="#6a6a6a" stroke-width="2.7" stroke-opacity="0.72"/><path d="M1435.4 1429.6L1435.7 1412.8L1435.9 1395.9" stroke="#6a6a6a" stroke-width="1.9" stroke-opacity="0.59"/><path d="M1435.9 1395.9L1436.0 1379.0L1435.8 1360.0L1435.6 1345.3" stroke="#6a6a6a" stroke-width="1.2" stroke-opacity="0.46"/>
<path d="M1487.4 1451.6L1488.2 1443.6L1489.3 1433.3L1490.3 1424.2" stroke="#7e7e7e" stroke-width="3.1" stroke-opacity="0.73"/><path d="M1490.3 1424.2L1491.4 1415.0L1492.6 1405.9" stroke="#7e7e7e" stroke-width="2.2" stroke-opacity="0.60"/><path d="M1492.6 1405.9L1493.8 1396.8L1495.3 1386.5L1496.5 1378.6" stroke="#7e7e7e" stroke-width="1.3" stroke-opacity="0.47"/>
<path d="M1471.1 1476.9L1472.3 1469.6L1473.8 1460.3L1474.8 1452.0" stroke="#636363" stroke-width="2.5" stroke-opacity="0.68"/><path d="M1474.8 1452.0L1475.6 1443.6L1476.1 1435.2" stroke="#636363" stroke-width="1.8" stroke-opacity="0.56"/><path d="M1476.1 1435.2L1476.5 1426.8L1476.5 1417.3L1476.4 1410.0" stroke="#636363" stroke-width="1.1" stroke-opacity="0.44"/>
<path d="M1372.5 1474.0L1373.6 1467.6L1375.0 1459.4L1376.3 1452.2" stroke="#6d6d6d" stroke-width="2.8" stroke-opacity="0.61"/><path d="M1376.3 1452.2L1377.8 1444.9L1379.3 1437.7" stroke="#6d6d6d" stroke-width="2.0" stroke-opacity="0.50"/><path d="M1379.3 1437.7L1380.9 1430.5L1382.9 1422.5L1384.4 1416.2" stroke="#6d6d6d" stroke-width="1.2" stroke-opacity="0.39"/>
<path d="M1378.9 1447.3L1379.9 1439.2L1381.3 1428.8L1382.7 1419.6" stroke="#6f6f6f" stroke-width="2.4" stroke-opacity="0.74"/><path d="M1382.7 1419.6L1384.3 1410.4L1386.1 1401.3" stroke="#6f6f6f" stroke-width="1.7" stroke-opacity="0.61"/><path d="M1386.1 1401.3L1388.1 1392.1L1390.5 1381.9L1392.4 1374.0" stroke="#6f6f6f" stroke-width="1.0" stroke-opacity="0.48"/>
<path d="M1468.5 1464.2L1467.7 1451.8L1467.0 1435.9L1466.5 1421.7" stroke="#696969" stroke-width="3.0" stroke-opacity="0.69"/><path d="M1466.5 1421.7L1466.2 1407.5L1466.2 1393.3" stroke="#696969" stroke-width="2.2" stroke-opacity="0.57"/><path d="M1466.2 1393.3L1466.3 1379.1L1466.8 1363.1L1467.2 1350.7" stroke="#696969" stroke-width="1.3" stroke-opacity="0.44"/>
<path d="M1372.4 1454.2L1372.3 1448.1L1372.2 1440.3L1372.1 1433.4" stroke="#7c7c7c" stroke-width="2.9" stroke-opacity="0.58"/><path d="M1372.1 1433.4L1371.9 1426.5L1371.6 1419.6" stroke="#7c7c7c" stroke-width="2.1" stroke-opacity="0.48"/><path d="M1371.6 1419.6L1371.4 1412.6L1371.0 1404.9L1370.7 1398.8" stroke="#7c7c7c" stroke-width="1.3" stroke-opacity="0.37"/>
<path d="M1512.3 1469.2L1513.6 1460.6L1515.5 1449.5L1517.5 1439.7" stroke="#7f7f7f" stroke-width="2.8" stroke-opacity="0.72"/><path d="M1517.5 1439.7L1519.8 1429.9L1522.4 1420.3" stroke="#7f7f7f" stroke-width="2.0" stroke-opacity="0.59"/><path d="M1522.4 1420.3L1525.3 1410.7L1529.0 1400.0L1531.9 1391.8" stroke="#7f7f7f" stroke-width="1.2" stroke-opacity="0.46"/>
<path d="M1513.8 1455.0L1516.0 1445.3L1518.9 1432.9L1522.1 1422.0" stroke="#6a6a6a" stroke-width="2.1" stroke-opacity="0.64"/><path d="M1522.1 1422.0L1525.6 1411.2L1529.5 1400.6" stroke="#6a6a6a" stroke-width="1.5" stroke-opacity="0.52"/><path d="M1529.5 1400.6L1533.8 1390.1L1539.3 1378.5L1543.6 1369.6" stroke="#6a6a6a" stroke-width="0.9" stroke-opacity="0.41"/>
<path d="M1396.7 1454.5L1396.0 1441.4L1395.1 1424.6L1394.1 1409.6" stroke="#6f6f6f" stroke-width="2.2" stroke-opacity="0.50"/><path d="M1394.1 1409.6L1392.9 1394.7L1391.4 1379.8" stroke="#6f6f6f" stroke-width="1.6" stroke-opacity="0.41"/><path d="M1391.4 1379.8L1389.8 1364.9L1387.8 1348.2L1386.1 1335.2" stroke="#6f6f6f" stroke-width="1.0" stroke-opacity="0.32"/>
<path d="M1379.3 1480.0L1381.2 1470.0L1383.6 1457.1L1385.7 1445.6" stroke="#5c5c5c" stroke-width="2.0" stroke-opacity="0.71"/><path d="M1385.7 1445.6L1387.8 1434.1L1389.9 1422.7" stroke="#5c5c5c" stroke-width="1.5" stroke-opacity="0.58"/><path d="M1389.9 1422.7L1391.9 1411.2L1394.2 1398.2L1396.0 1388.2" stroke="#5c5c5c" stroke-width="0.9" stroke-opacity="0.45"/>
<path d="M1483.3 1470.1L1482.9 1457.9L1482.3 1442.3L1481.4 1428.5" stroke="#646464" stroke-width="2.7" stroke-opacity="0.48"/><path d="M1481.4 1428.5L1480.3 1414.6L1479.0 1400.8" stroke="#646464" stroke-width="2.0" stroke-opacity="0.39"/><path d="M1479.0 1400.8L1477.5 1387.0L1475.4 1371.5L1473.8 1359.5" stroke="#646464" stroke-width="1.2" stroke-opacity="0.31"/>
<path d="M1451.6 1463.0L1454.7 1449.2L1458.9 1431.6L1462.9 1416.0" stroke="#5f5f5f" stroke-width="2.3" stroke-opacity="0.62"/><path d="M1462.9 1416.0L1467.0 1400.4L1471.4 1384.9" stroke="#5f5f5f" stroke-width="1.7" stroke-opacity="0.51"/><path d="M1471.4 1384.9L1476.0 1369.4L1481.5 1352.2L1485.8 1338.7" stroke="#5f5f5f" stroke-width="1.0" stroke-opacity="0.40"/>
<path d="M1373.7 1471.2L1373.5 1465.2L1373.2 1457.5L1372.9 1450.6" stroke="#656565" stroke-width="2.4" stroke-opacity="0.68"/><path d="M1372.9 1450.6L1372.7 1443.8L1372.5 1436.9" stroke="#656565" stroke-width="1.7" stroke-opacity="0.56"/><path d="M1372.5 1436.9L1372.3 1430.0L1372.1 1422.3L1371.9 1416.3" stroke="#656565" stroke-width="1.0" stroke-opacity="0.43"/>
<path d="M1396.0 1447.5L1395.8 1441.3L1395.4 1433.3L1394.8 1426.2" stroke="#7f7f7f" stroke-width="2.9" stroke-opacity="0.55"/><path d="M1394.8 1426.2L1394.1 1419.1L1393.3 1412.1" stroke="#7f7f7f" stroke-width="2.1" stroke-opacity="0.45"/><path d="M1393.3 1412.1L1392.3 1405.0L1390.9 1397.1L1389.8 1391.0" stroke="#7f7f7f" stroke-width="1.3" stroke-opacity="0.35"/>
<path d="M1445.2 1470.0L1446.4 1461.4L1448.1 1450.3L1449.7 1440.5" stroke="#747474" stroke-width="2.6" stroke-opacity="0.73"/><path d="M1449.7 1440.5L1451.4 1430.7L1453.3 1420.9" stroke="#747474" stroke-width="1.9" stroke-opacity="0.59"/><path d="M1453.3 1420.9L1455.3 1411.2L1457.8 1400.3L1459.7 1391.8" stroke="#747474" stroke-width="1.1" stroke-opacity="0.46"/>
<path d="M1517.6 1465.4L1520.8 1455.9L1525.0 1443.8L1529.0 1433.1" stroke="#5f5f5f" stroke-width="2.1" stroke-opacity="0.59"/><path d="M1529.0 1433.1L1533.2 1422.5L1537.5 1412.0" stroke="#5f5f5f" stroke-width="1.5" stroke-opacity="0.48"/><path d="M1537.5 1412.0L1542.0 1401.6L1547.4 1389.9L1551.6 1380.9" stroke="#5f5f5f" stroke-width="0.9" stroke-opacity="0.38"/>
<path d="M1490.4 1454.0L1495.2 1439.7L1501.6 1421.3L1507.3 1405.0" stroke="#5e5e5e" stroke-width="3.0" stroke-opacity="0.68"/><path d="M1507.3 1405.0L1513.2 1388.7L1519.2 1372.5" stroke="#5e5e5e" stroke-width="2.1" stroke-opacity="0.56"/><path d="M1519.2 1372.5L1525.2 1356.3L1532.2 1338.1L1537.6 1324.0" stroke="#5e5e5e" stroke-width="1.3" stroke-opacity="0.44"/>
<path d="M1456.9 1447.9L1456.7 1438.5L1456.6 1426.4L1456.7 1415.7" stroke="#767676" stroke-width="3.1" stroke-opacity="0.54"/><path d="M1456.7 1415.7L1457.2 1404.9L1457.8 1394.2" stroke="#767676" stroke-width="2.2" stroke-opacity="0.44"/><path d="M1457.8 1394.2L1458.7 1383.5L1460.0 1371.5L1461.1 1362.1" stroke="#767676" stroke-width="1.3" stroke-opacity="0.35"/>
<path d="M1448.0 1480.2L1448.2 1470.7L1448.4 1458.6L1448.5 1447.8" stroke="#656565" stroke-width="2.2" stroke-opacity="0.62"/><path d="M1448.5 1447.8L1448.7 1436.9L1448.8 1426.1" stroke="#656565" stroke-width="1.6" stroke-opacity="0.51"/><path d="M1448.8 1426.1L1448.9 1415.3L1449.1 1403.1L1449.2 1393.7" stroke="#656565" stroke-width="1.0" stroke-opacity="0.40"/>
<path d="M1419.2 1481.1L1418.7 1469.3L1418.0 1454.3L1417.4 1440.9" stroke="#747474" stroke-width="2.2" stroke-opacity="0.61"/><path d="M1417.4 1440.9L1416.7 1427.4L1416.0 1414.0" stroke="#747474" stroke-width="1.6" stroke-opacity="0.50"/><path d="M1416.0 1414.0L1415.3 1400.6L1414.5 1385.6L1413.9 1373.8" stroke="#747474" stroke-width="0.9" stroke-opacity="0.39"/>
<path d="M1477.1 1448.1L1476.5 1439.5L1475.7 1428.5L1475.0 1418.6" stroke="#7c7c7c" stroke-width="2.5" stroke-opacity="0.47"/><path d="M1475.0 1418.6L1474.4 1408.8L1473.8 1399.0" stroke="#7c7c7c" stroke-width="1.8" stroke-opacity="0.39"/><path d="M1473.8 1399.0L1473.3 1389.1L1472.7 1378.0L1472.3 1369.4" stroke="#7c7c7c" stroke-width="1.1" stroke-opacity="0.30"/>
<path d="M1448.9 1467.9L1451.1 1453.1L1454.1 1434.1L1457.3 1417.3" stroke="#686868" stroke-width="2.6" stroke-opacity="0.53"/><path d="M1457.3 1417.3L1460.7 1400.6L1464.5 1384.0" stroke="#686868" stroke-width="1.9" stroke-opacity="0.43"/><path d="M1464.5 1384.0L1468.6 1367.4L1473.7 1348.9L1477.8 1334.5" stroke="#686868" stroke-width="1.2" stroke-opacity="0.34"/>
<path d="M1430.1 1461.6L1430.5 1450.0L1431.3 1435.1L1432.4 1421.9" stroke="#797979" stroke-width="2.9" stroke-opacity="0.52"/><path d="M1432.4 1421.9L1433.8 1408.8L1435.5 1395.6" stroke="#797979" stroke-width="2.1" stroke-opacity="0.42"/><path d="M1435.5 1395.6L1437.6 1382.5L1440.3 1367.9L1442.6 1356.5" stroke="#797979" stroke-width="1.3" stroke-opacity="0.33"/>
<path d="M1373.5 1463.1L1373.8 1452.8L1374.2 1439.6L1374.7 1427.8" stroke="#717171" stroke-width="2.5" stroke-opacity="0.55"/><path d="M1374.7 1427.8L1375.3 1416.0L1376.1 1404.3" stroke="#717171" stroke-width="1.8" stroke-opacity="0.45"/><path d="M1376.1 1404.3L1377.0 1392.5L1378.1 1379.3L1379.1 1369.1" stroke="#717171" stroke-width="1.1" stroke-opacity="0.35"/>
<path d="M1438.6 1446.7L1439.7 1439.8L1441.1 1431.0L1442.6 1423.3" stroke="#606060" stroke-width="3.2" stroke-opacity="0.75"/><path d="M1442.6 1423.3L1444.3 1415.5L1446.2 1407.8" stroke="#606060" stroke-width="2.3" stroke-opacity="0.61"/><path d="M1446.2 1407.8L1448.3 1400.2L1450.8 1391.6L1452.9 1385.0" stroke="#606060" stroke-width="1.4" stroke-opacity="0.48"/>
<path d="M1516.8 1462.0L1518.2 1453.3L1520.2 1442.1L1522.0 1432.1" stroke="#696969" stroke-width="2.3" stroke-opacity="0.56"/><path d="M1522.0 1432.1L1524.0 1422.2L1526.1 1412.4" stroke="#696969" stroke-width="1.7" stroke-opacity="0.46"/><path d="M1526.1 1412.4L1528.4 1402.5L1531.0 1391.5L1533.2 1382.9" stroke="#696969" stroke-width="1.0" stroke-opacity="0.36"/>
<path d="M1515.8 1469.0L1518.8 1461.3L1522.5 1451.4L1525.5 1442.4" stroke="#696969" stroke-width="2.6" stroke-opacity="0.49"/><path d="M1525.5 1442.4L1528.2 1433.4L1530.7 1424.3" stroke="#696969" stroke-width="1.9" stroke-opacity="0.40"/><path d="M1530.7 1424.3L1533.0 1415.2L1535.2 1404.8L1536.7 1396.7" stroke="#696969" stroke-width="1.2" stroke-opacity="0.31"/>
<path d="M1518.0 1447.1L1521.9 1432.6L1527.3 1414.1L1533.0 1397.9" stroke="#7d7d7d" stroke-width="2.5" stroke-opacity="0.65"/><path d="M1533.0 1397.9L1539.4 1382.0L1546.5 1366.4" stroke="#7d7d7d" stroke-width="1.8" stroke-opacity="0.53"/><path d="M1546.5 1366.4L1554.2 1351.1L1563.9 1334.4L1571.6 1321.5" stroke="#7d7d7d" stroke-width="1.1" stroke-opacity="0.42"/>
<path d="M1531.3 1464.0L1533.6 1452.7L1536.4 1438.3L1538.5 1425.3" stroke="#636363" stroke-width="3.2" stroke-opacity="0.59"/><path d="M1538.5 1425.3L1540.2 1412.3L1541.7 1399.3" stroke="#636363" stroke-width="2.3" stroke-opacity="0.48"/><path d="M1541.7 1399.3L1542.7 1386.3L1543.5 1371.5L1543.9 1360.1" stroke="#636363" stroke-width="1.4" stroke-opacity="0.38"/>
<path d="M1393.2 1445.6L1392.3 1431.2L1391.2 1412.7L1390.5 1396.2" stroke="#717171" stroke-width="2.7" stroke-opacity="0.69"/><path d="M1390.5 1396.2L1389.9 1379.6L1389.5 1363.1" stroke="#717171" stroke-width="2.0" stroke-opacity="0.57"/><path d="M1389.5 1363.1L1389.3 1346.6L1389.2 1328.0L1389.3 1313.6" stroke="#717171" stroke-width="1.2" stroke-opacity="0.44"/>
<path d="M1511.0 1449.0L1514.0 1442.6L1518.0 1434.4L1521.8 1427.3" stroke="#767676" stroke-width="2.4" stroke-opacity="0.57"/><path d="M1521.8 1427.3L1525.8 1420.3L1529.9 1413.3" stroke="#767676" stroke-width="1.7" stroke-opacity="0.47"/><path d="M1529.9 1413.3L1534.3 1406.5L1539.4 1399.1L1543.5 1393.3" stroke="#767676" stroke-width="1.1" stroke-opacity="0.37"/>
<path d="M1489.4 1448.8L1491.9 1436.6L1495.2 1421.1L1498.3 1407.3" stroke="#7f7f7f" stroke-width="2.3" stroke-opacity="0.63"/><path d="M1498.3 1407.3L1501.6 1393.5L1505.1 1379.8" stroke="#7f7f7f" stroke-width="1.6" stroke-opacity="0.51"/><path d="M1505.1 1379.8L1508.7 1366.1L1513.0 1350.8L1516.5 1338.9" stroke="#7f7f7f" stroke-width="1.0" stroke-opacity="0.40"/>
<path d="M1526.6 1456.9L1532.1 1443.2L1539.2 1425.6L1545.4 1409.9" stroke="#797979" stroke-width="2.8" stroke-opacity="0.57"/><path d="M1545.4 1409.9L1551.6 1394.2L1557.8 1378.4" stroke="#797979" stroke-width="2.0" stroke-opacity="0.47"/><path d="M1557.8 1378.4L1563.8 1362.7L1570.6 1344.9L1575.9 1331.1" stroke="#797979" stroke-width="1.2" stroke-opacity="0.36"/>
<path d="M1488.9 1451.9L1492.9 1437.8L1498.3 1419.7L1503.5 1403.8" stroke="#606060" stroke-width="3.0" stroke-opacity="0.71"/><path d="M1503.5 1403.8L1509.0 1387.9L1514.7 1372.2" stroke="#606060" stroke-width="2.2" stroke-opacity="0.58"/><path d="M1514.7 1372.2L1520.8 1356.5L1528.0 1339.1L1533.8 1325.6" stroke="#606060" stroke-width="1.3" stroke-opacity="0.45"/>
<path d="M1467.7 1459.4L1468.3 1446.4L1469.1 1429.8L1470.1 1415.1" stroke="#5e5e5e" stroke-width="3.1" stroke-opacity="0.74"/><path d="M1470.1 1415.1L1471.3 1400.3L1472.7 1385.6" stroke="#5e5e5e" stroke-width="2.2" stroke-opacity="0.60"/><path d="M1472.7 1385.6L1474.2 1370.9L1476.2 1354.4L1477.9 1341.5" stroke="#5e5e5e" stroke-width="1.3" stroke-opacity="0.47"/>
<path d="M1451.7 1455.3L1452.8 1442.3L1454.4 1425.6L1456.1 1410.7" stroke="#747474" stroke-width="2.9" stroke-opacity="0.47"/><path d="M1456.1 1410.7L1458.0 1395.9L1460.1 1381.1" stroke="#747474" stroke-width="2.1" stroke-opacity="0.38"/><path d="M1460.1 1381.1L1462.4 1366.4L1465.3 1349.9L1467.7 1337.0" stroke="#747474" stroke-width="1.3" stroke-opacity="0.30"/>
<path d="M1524.3 1466.7L1526.1 1459.4L1528.2 1450.0L1529.9 1441.5" stroke="#6e6e6e" stroke-width="2.7" stroke-opacity="0.68"/><path d="M1529.9 1441.5L1531.4 1433.0L1532.6 1424.5" stroke="#6e6e6e" stroke-width="1.9" stroke-opacity="0.56"/><path d="M1532.6 1424.5L1533.7 1416.0L1534.6 1406.4L1535.2 1398.9" stroke="#6e6e6e" stroke-width="1.2" stroke-opacity="0.44"/>
<path d="M1483.3 1458.2L1484.8 1443.0L1486.8 1423.5L1488.6 1406.1" stroke="#606060" stroke-width="2.8" stroke-opacity="0.50"/><path d="M1488.6 1406.1L1490.4 1388.8L1492.3 1371.5" stroke="#606060" stroke-width="2.0" stroke-opacity="0.41"/><path d="M1492.3 1371.5L1494.3 1354.1L1496.5 1334.6L1498.3 1319.5" stroke="#606060" stroke-width="1.2" stroke-opacity="0.32"/>
<path d="M1506.3 1450.9L1509.8 1437.4L1514.5 1420.1L1519.1 1404.8" stroke="#666666" stroke-width="2.9" stroke-opacity="0.52"/><path d="M1519.1 1404.8L1524.0 1389.6L1529.1 1374.6" stroke="#666666" stroke-width="2.1" stroke-opacity="0.43"/><path d="M1529.1 1374.6L1534.6 1359.6L1541.1 1342.9L1546.3 1329.9" stroke="#666666" stroke-width="1.3" stroke-opacity="0.33"/>
<path d="M1539.5 1474.6L1542.6 1462.4L1546.8 1446.8L1550.6 1433.0" stroke="#737373" stroke-width="2.2" stroke-opacity="0.60"/><path d="M1550.6 1433.0L1554.6 1419.2L1558.7 1405.5" stroke="#737373" stroke-width="1.6" stroke-opacity="0.50"/><path d="M1558.7 1405.5L1562.9 1391.8L1567.8 1376.4L1571.7 1364.4" stroke="#737373" stroke-width="0.9" stroke-opacity="0.39"/>
<path d="M1546.6 1463.1L1548.7 1456.3L1551.2 1447.7L1553.2 1439.9" stroke="#717171" stroke-width="2.2" stroke-opacity="0.74"/><path d="M1553.2 1439.9L1555.0 1432.1L1556.6 1424.2" stroke="#717171" stroke-width="1.6" stroke-opacity="0.61"/><path d="M1556.6 1424.2L1558.1 1416.3L1559.5 1407.4L1560.4 1400.4" stroke="#717171" stroke-width="1.0" stroke-opacity="0.47"/>
<path d="M1537.1 1465.3L1538.5 1457.6L1540.4 1447.8L1542.1 1439.0" stroke="#767676" stroke-width="2.5" stroke-opacity="0.48"/><path d="M1542.1 1439.0L1543.7 1430.3L1545.4 1421.5" stroke="#767676" stroke-width="1.8" stroke-opacity="0.39"/><path d="M1545.4 1421.5L1547.0 1412.7L1548.9 1402.9L1550.3 1395.2" stroke="#767676" stroke-width="1.1" stroke-opacity="0.30"/>
<path d="M1474.3 1468.9L1474.8 1463.0L1475.6 1455.3L1476.5 1448.6" stroke="#7d7d7d" stroke-width="3.2" stroke-opacity="0.72"/><path d="M1476.5 1448.6L1477.5 1441.8L1478.8 1435.1" stroke="#7d7d7d" stroke-width="2.3" stroke-opacity="0.59"/><path d="M1478.8 1435.1L1480.1 1428.4L1481.9 1421.0L1483.4 1415.2" stroke="#7d7d7d" stroke-width="1.4" stroke-opacity="0.46"/>
<path d="M1408.5 1457.6L1408.1 1443.9L1407.7 1426.3L1407.6 1410.7" stroke="#747474" stroke-width="2.2" stroke-opacity="0.57"/><path d="M1407.6 1410.7L1407.8 1395.0L1408.3 1379.4" stroke="#747474" stroke-width="1.6" stroke-opacity="0.47"/><path d="M1408.3 1379.4L1408.9 1363.8L1410.1 1346.2L1411.0 1332.5" stroke="#747474" stroke-width="1.0" stroke-opacity="0.37"/>
<path d="M1405.2 1468.9L1406.0 1461.9L1407.0 1452.9L1408.0 1444.9" stroke="#7e7e7e" stroke-width="2.6" stroke-opacity="0.58"/><path d="M1408.0 1444.9L1409.0 1436.9L1410.2 1428.9" stroke="#7e7e7e" stroke-width="1.9" stroke-opacity="0.48"/><path d="M1410.2 1428.9L1411.4 1420.9L1412.8 1412.0L1413.9 1405.0" stroke="#7e7e7e" stroke-width="1.1" stroke-opacity="0.37"/>
<path d="M1421.7 1452.6L1423.0 1441.4L1424.7 1427.1L1426.3 1414.3" stroke="#6c6c6c" stroke-width="2.6" stroke-opacity="0.66"/><path d="M1426.3 1414.3L1427.9 1401.6L1429.6 1388.9" stroke="#6c6c6c" stroke-width="1.8" stroke-opacity="0.54"/><path d="M1429.6 1388.9L1431.3 1376.2L1433.3 1361.9L1434.9 1350.7" stroke="#6c6c6c" stroke-width="1.1" stroke-opacity="0.42"/>
<path d="M1510.8 1453.0L1512.6 1438.5L1515.1 1420.0L1518.0 1403.5" stroke="#6f6f6f" stroke-width="3.0" stroke-opacity="0.54"/><path d="M1518.0 1403.5L1521.2 1387.2L1524.9 1370.9" stroke="#6f6f6f" stroke-width="2.2" stroke-opacity="0.45"/><path d="M1524.9 1370.9L1529.1 1354.8L1534.3 1336.8L1538.6 1322.9" stroke="#6f6f6f" stroke-width="1.3" stroke-opacity="0.35"/>
<path d="M1394.7 1465.4L1394.5 1457.9L1394.0 1448.3L1393.2 1439.7" stroke="#616161" stroke-width="2.7" stroke-opacity="0.55"/><path d="M1393.2 1439.7L1392.0 1431.3L1390.6 1422.8" stroke="#616161" stroke-width="1.9" stroke-opacity="0.45"/><path d="M1390.6 1422.8L1388.9 1414.5L1386.4 1405.1L1384.4 1397.9" stroke="#616161" stroke-width="1.2" stroke-opacity="0.35"/>
<path d="M1423.2 1470.9L1425.2 1461.4L1428.2 1449.2L1431.3 1438.6" stroke="#6d6d6d" stroke-width="2.5" stroke-opacity="0.61"/><path d="M1431.3 1438.6L1434.9 1428.0L1438.9 1417.6" stroke="#6d6d6d" stroke-width="1.8" stroke-opacity="0.50"/><path d="M1438.9 1417.6L1443.4 1407.4L1448.9 1396.2L1453.5 1387.5" stroke="#6d6d6d" stroke-width="1.1" stroke-opacity="0.39"/>
<path d="M1421.5 1450.2L1420.9 1444.1L1420.1 1436.3L1419.4 1429.3" stroke="#7a7a7a" stroke-width="2.8" stroke-opacity="0.57"/><path d="M1419.4 1429.3L1418.6 1422.3L1417.8 1415.3" stroke="#7a7a7a" stroke-width="2.0" stroke-opacity="0.46"/><path d="M1417.8 1415.3L1417.0 1408.3L1416.1 1400.5L1415.4 1394.4" stroke="#7a7a7a" stroke-width="1.2" stroke-opacity="0.36"/>
<path d="M1438.1 1463.8L1438.5 1457.9L1439.2 1450.3L1440.0 1443.6" stroke="#666666" stroke-width="2.3" stroke-opacity="0.70"/><path d="M1440.0 1443.6L1440.9 1436.8L1442.1 1430.2" stroke="#666666" stroke-width="1.7" stroke-opacity="0.57"/><path d="M1442.1 1430.2L1443.4 1423.5L1445.1 1416.1L1446.4 1410.3" stroke="#666666" stroke-width="1.0" stroke-opacity="0.45"/>
<path d="M1410.8 1472.7L1411.1 1464.4L1411.7 1453.8L1412.3 1444.4" stroke="#7b7b7b" stroke-width="2.3" stroke-opacity="0.59"/><path d="M1412.3 1444.4L1413.0 1435.0L1413.9 1425.7" stroke="#7b7b7b" stroke-width="1.6" stroke-opacity="0.48"/><path d="M1413.9 1425.7L1414.9 1416.3L1416.3 1405.7L1417.3 1397.6" stroke="#7b7b7b" stroke-width="1.0" stroke-opacity="0.38"/>
<path d="M1398.9 1454.0L1399.9 1439.9L1401.3 1421.9L1402.5 1405.8" stroke="#7f7f7f" stroke-width="2.5" stroke-opacity="0.45"/><path d="M1402.5 1405.8L1403.6 1389.8L1404.7 1373.7" stroke="#7f7f7f" stroke-width="1.8" stroke-opacity="0.37"/><path d="M1404.7 1373.7L1405.8 1357.7L1406.9 1339.6L1407.8 1325.6" stroke="#7f7f7f" stroke-width="1.1" stroke-opacity="0.29"/>
<path d="M1476.8 1450.8L1478.1 1438.3L1479.8 1422.2L1481.3 1407.9" stroke="#737373" stroke-width="2.4" stroke-opacity="0.67"/><path d="M1481.3 1407.9L1483.0 1393.6L1484.6 1379.3" stroke="#737373" stroke-width="1.8" stroke-opacity="0.55"/><path d="M1484.6 1379.3L1486.3 1365.1L1488.3 1349.0L1489.9 1336.6" stroke="#737373" stroke-width="1.1" stroke-opacity="0.43"/>
<path d="M1450.1 1446.2L1450.5 1431.7L1450.8 1413.1L1450.4 1396.5" stroke="#7e7e7e" stroke-width="2.4" stroke-opacity="0.56"/><path d="M1450.4 1396.5L1449.4 1380.0L1447.8 1363.5" stroke="#7e7e7e" stroke-width="1.8" stroke-opacity="0.46"/><path d="M1447.8 1363.5L1445.7 1347.0L1442.6 1328.7L1439.9 1314.4" stroke="#7e7e7e" stroke-width="1.1" stroke-opacity="0.36"/>
<path d="M1428.8 1475.9L1427.3 1466.0L1425.4 1453.3L1423.7 1441.9" stroke="#6f6f6f" stroke-width="2.7" stroke-opacity="0.56"/><path d="M1423.7 1441.9L1422.1 1430.6L1420.5 1419.3" stroke="#6f6f6f" stroke-width="2.0" stroke-opacity="0.46"/><path d="M1420.5 1419.3L1418.9 1408.0L1417.1 1395.2L1415.7 1385.3" stroke="#6f6f6f" stroke-width="1.2" stroke-opacity="0.36"/>
<path d="M1422.6 1450.8L1421.4 1437.1L1420.0 1419.4L1419.6 1403.6" stroke="#5d5d5d" stroke-width="2.4" stroke-opacity="0.47"/><path d="M1419.6 1403.6L1419.6 1387.8L1420.2 1372.1" stroke="#5d5d5d" stroke-width="1.8" stroke-opacity="0.39"/><path d="M1420.2 1372.1L1421.3 1356.3L1423.3 1338.7L1425.1 1325.0" stroke="#5d5d5d" stroke-width="1.1" stroke-opacity="0.30"/>
<path d="M1508.4 1446.1L1510.0 1438.3L1512.2 1428.4L1514.7 1419.7" stroke="#747474" stroke-width="3.1" stroke-opacity="0.50"/><path d="M1514.7 1419.7L1517.6 1411.1L1520.8 1402.6" stroke="#747474" stroke-width="2.2" stroke-opacity="0.41"/><path d="M1520.8 1402.6L1524.3 1394.2L1528.8 1385.1L1532.5 1378.1" stroke="#747474" stroke-width="1.4" stroke-opacity="0.32"/>
<path d="M1407.4 1476.0L1408.1 1468.4L1409.1 1458.6L1409.8 1449.9" stroke="#696969" stroke-width="3.2" stroke-opacity="0.59"/><path d="M1409.8 1449.9L1410.6 1441.2L1411.4 1432.5" stroke="#696969" stroke-width="2.3" stroke-opacity="0.48"/><path d="M1411.4 1432.5L1412.1 1423.8L1412.9 1414.0L1413.5 1406.4" stroke="#696969" stroke-width="1.4" stroke-opacity="0.38"/>
<path d="M1384.5 1449.6L1386.8 1435.6L1390.0 1417.6L1393.3 1401.7" stroke="#7d7d7d" stroke-width="2.1" stroke-opacity="0.60"/><path d="M1393.3 1401.7L1396.8 1385.9L1400.6 1370.2" stroke="#7d7d7d" stroke-width="1.5" stroke-opacity="0.49"/><path d="M1400.6 1370.2L1404.8 1354.5L1409.9 1337.0L1413.9 1323.4" stroke="#7d7d7d" stroke-width="0.9" stroke-opacity="0.39"/>
<path d="M1444.9 1477.9L1446.1 1467.2L1447.4 1453.5L1448.2 1441.2" stroke="#717171" stroke-width="3.1" stroke-opacity="0.48"/><path d="M1448.2 1441.2L1448.8 1429.0L1449.2 1416.7" stroke="#717171" stroke-width="2.2" stroke-opacity="0.39"/><path d="M1449.2 1416.7L1449.3 1404.4L1449.1 1390.6L1448.8 1379.9" stroke="#717171" stroke-width="1.4" stroke-opacity="0.30"/>
<path d="M1430.7 1455.6L1430.3 1445.6L1429.7 1432.9L1428.9 1421.5" stroke="#6b6b6b" stroke-width="2.6" stroke-opacity="0.58"/><path d="M1428.9 1421.5L1428.1 1410.2L1427.1 1398.9" stroke="#6b6b6b" stroke-width="1.9" stroke-opacity="0.48"/><path d="M1427.1 1398.9L1426.0 1387.6L1424.6 1374.9L1423.4 1365.0" stroke="#6b6b6b" stroke-width="1.2" stroke-opacity="0.37"/>
<path d="M1445.8 1453.8L1447.8 1439.4L1450.2 1420.9L1452.2 1404.5" stroke="#6b6b6b" stroke-width="2.1" stroke-opacity="0.60"/><path d="M1452.2 1404.5L1454.1 1388.0L1455.9 1371.5" stroke="#6b6b6b" stroke-width="1.5" stroke-opacity="0.49"/><path d="M1455.9 1371.5L1457.5 1355.0L1459.1 1336.4L1460.4 1322.0" stroke="#6b6b6b" stroke-width="0.9" stroke-opacity="0.38"/>
<path d="M1482.8 1479.0L1482.7 1472.7L1482.5 1464.6L1482.3 1457.3" stroke="#717171" stroke-width="2.6" stroke-opacity="0.50"/><path d="M1482.3 1457.3L1482.0 1450.1L1481.7 1442.9" stroke="#717171" stroke-width="1.9" stroke-opacity="0.41"/><path d="M1481.7 1442.9L1481.4 1435.7L1480.9 1427.5L1480.5 1421.2" stroke="#717171" stroke-width="1.1" stroke-opacity="0.32"/>
<path d="M1405.3 1446.8L1405.9 1438.6L1406.8 1428.1L1407.9 1418.8" stroke="#787878" stroke-width="2.4" stroke-opacity="0.62"/><path d="M1407.9 1418.8L1409.2 1409.5L1410.7 1400.3" stroke="#787878" stroke-width="1.7" stroke-opacity="0.51"/><path d="M1410.7 1400.3L1412.5 1391.1L1414.8 1380.8L1416.7 1372.8" stroke="#787878" stroke-width="1.1" stroke-opacity="0.40"/>
<path d="M1437.6 1475.6L1437.2 1461.4L1436.7 1443.2L1435.7 1427.1" stroke="#7f7f7f" stroke-width="2.8" stroke-opacity="0.64"/><path d="M1435.7 1427.1L1434.5 1410.9L1432.9 1394.8" stroke="#7f7f7f" stroke-width="2.0" stroke-opacity="0.53"/><path d="M1432.9 1394.8L1431.1 1378.8L1428.5 1360.8L1426.4 1346.8" stroke="#7f7f7f" stroke-width="1.2" stroke-opacity="0.41"/>
<path d="M1534.8 1450.4L1535.2 1441.6L1535.6 1430.3L1535.6 1420.3" stroke="#777777" stroke-width="3.2" stroke-opacity="0.66"/><path d="M1535.6 1420.3L1535.3 1410.2L1534.8 1400.2" stroke="#777777" stroke-width="2.3" stroke-opacity="0.54"/><path d="M1534.8 1400.2L1534.0 1390.2L1532.7 1378.9L1531.5 1370.2" stroke="#777777" stroke-width="1.4" stroke-opacity="0.42"/>
<path d="M1537.0 1470.1L1537.7 1455.4L1539.0 1436.4L1540.9 1419.6" stroke="#5d5d5d" stroke-width="2.5" stroke-opacity="0.63"/><path d="M1540.9 1419.6L1543.3 1402.9L1546.4 1386.3" stroke="#5d5d5d" stroke-width="1.8" stroke-opacity="0.52"/><path d="M1546.4 1386.3L1549.9 1369.8L1554.7 1351.4L1558.7 1337.2" stroke="#5d5d5d" stroke-width="1.1" stroke-opacity="0.41"/>
<path d="M1494.5 1460.2L1498.0 1448.0L1502.4 1432.5L1506.6 1418.6" stroke="#696969" stroke-width="2.4" stroke-opacity="0.70"/><path d="M1506.6 1418.6L1510.8 1404.9L1515.1 1391.1" stroke="#696969" stroke-width="1.7" stroke-opacity="0.57"/><path d="M1515.1 1391.1L1519.6 1377.4L1524.7 1362.0L1528.7 1350.1" stroke="#696969" stroke-width="1.1" stroke-opacity="0.45"/>
<path d="M1441.2 1480.1L1441.6 1470.6L1442.3 1458.4L1443.2 1447.5" stroke="#5c5c5c" stroke-width="3.1" stroke-opacity="0.48"/><path d="M1443.2 1447.5L1444.2 1436.7L1445.3 1425.9" stroke="#5c5c5c" stroke-width="2.3" stroke-opacity="0.39"/><path d="M1445.3 1425.9L1446.6 1415.1L1448.3 1402.9L1449.7 1393.5" stroke="#5c5c5c" stroke-width="1.4" stroke-opacity="0.31"/>
<path d="M1390.2 1457.7L1390.9 1447.0L1392.1 1433.4L1393.8 1421.3" stroke="#6b6b6b" stroke-width="3.1" stroke-opacity="0.67"/><path d="M1393.8 1421.3L1396.0 1409.3L1398.6 1397.4" stroke="#6b6b6b" stroke-width="2.2" stroke-opacity="0.55"/><path d="M1398.6 1397.4L1401.7 1385.6L1405.8 1372.5L1409.2 1362.4" stroke="#6b6b6b" stroke-width="1.4" stroke-opacity="0.43"/>
<path d="M1500.2 1468.9L1501.4 1462.0L1502.9 1453.1L1504.4 1445.2" stroke="#7c7c7c" stroke-width="2.9" stroke-opacity="0.50"/><path d="M1504.4 1445.2L1506.0 1437.3L1507.6 1429.4" stroke="#7c7c7c" stroke-width="2.1" stroke-opacity="0.41"/><path d="M1507.6 1429.4L1509.3 1421.5L1511.3 1412.7L1512.9 1405.9" stroke="#7c7c7c" stroke-width="1.3" stroke-opacity="0.32"/>
<path d="M1506.8 1475.6L1509.3 1461.0L1512.3 1442.3L1514.8 1425.5" stroke="#6a6a6a" stroke-width="2.4" stroke-opacity="0.57"/><path d="M1514.8 1425.5L1517.0 1408.8L1519.1 1392.0" stroke="#6a6a6a" stroke-width="1.7" stroke-opacity="0.47"/><path d="M1519.1 1392.0L1521.0 1375.2L1522.8 1356.2L1524.1 1341.5" stroke="#6a6a6a" stroke-width="1.0" stroke-opacity="0.36"/>
<path d="M1431.1 1456.6L1433.3 1444.7L1436.4 1429.4L1439.5 1415.9" stroke="#727272" stroke-width="2.9" stroke-opacity="0.68"/><path d="M1439.5 1415.9L1442.9 1402.5L1446.6 1389.2" stroke="#727272" stroke-width="2.1" stroke-opacity="0.56"/><path d="M1446.6 1389.2L1450.6 1375.9L1455.5 1361.1L1459.4 1349.7" stroke="#727272" stroke-width="1.3" stroke-opacity="0.44"/>
<path d="M1530.5 1454.1L1533.0 1445.6L1536.4 1434.8L1539.7 1425.3" stroke="#777777" stroke-width="2.8" stroke-opacity="0.54"/><path d="M1539.7 1425.3L1543.4 1415.9L1547.4 1406.6" stroke="#777777" stroke-width="2.0" stroke-opacity="0.44"/><path d="M1547.4 1406.6L1551.8 1397.5L1557.0 1387.5L1561.3 1379.7" stroke="#777777" stroke-width="1.2" stroke-opacity="0.34"/>
<path d="M1486.6 1464.5L1486.9 1456.7L1487.3 1446.8L1487.7 1437.9" stroke="#5e5e5e" stroke-width="2.3" stroke-opacity="0.66"/><path d="M1487.7 1437.9L1488.0 1429.0L1488.2 1420.2" stroke="#5e5e5e" stroke-width="1.6" stroke-opacity="0.54"/><path d="M1488.2 1420.2L1488.5 1411.3L1488.7 1401.3L1488.9 1393.6" stroke="#5e5e5e" stroke-width="1.0" stroke-opacity="0.42"/>
<path d="M1442.5 1475.1L1443.4 1464.8L1444.6 1451.5L1445.7 1439.6" stroke="#707070" stroke-width="2.5" stroke-opacity="0.58"/><path d="M1445.7 1439.6L1446.8 1427.8L1448.0 1416.0" stroke="#707070" stroke-width="1.8" stroke-opacity="0.48"/><path d="M1448.0 1416.0L1449.2 1404.1L1450.6 1390.8L1451.7 1380.5" stroke="#707070" stroke-width="1.1" stroke-opacity="0.37"/>
<path d="M1417.8 1472.1L1423.0 1458.7L1429.8 1441.4L1436.3 1426.3" stroke="#7a7a7a" stroke-width="2.6" stroke-opacity="0.67"/><path d="M1436.3 1426.3L1443.3 1411.3L1450.6 1396.6" stroke="#7a7a7a" stroke-width="1.9" stroke-opacity="0.55"/><path d="M1450.6 1396.6L1458.2 1382.0L1467.3 1365.8L1474.6 1353.4" stroke="#7a7a7a" stroke-width="1.2" stroke-opacity="0.43"/>
<path d="M1415.8 1451.0L1415.0 1437.4L1413.9 1419.9L1412.6 1404.3" stroke="#707070" stroke-width="2.7" stroke-opacity="0.69"/><path d="M1412.6 1404.3L1411.0 1388.8L1409.2 1373.3" stroke="#707070" stroke-width="1.9" stroke-opacity="0.56"/><path d="M1409.2 1373.3L1407.1 1357.9L1404.3 1340.6L1402.0 1327.1" stroke="#707070" stroke-width="1.2" stroke-opacity="0.44"/>
<path d="M1493.0 1464.3L1494.9 1453.7L1497.4 1440.1L1499.8 1428.1" stroke="#7d7d7d" stroke-width="2.5" stroke-opacity="0.54"/><path d="M1499.8 1428.1L1502.5 1416.1L1505.4 1404.2" stroke="#7d7d7d" stroke-width="1.8" stroke-opacity="0.44"/><path d="M1505.4 1404.2L1508.4 1392.3L1512.1 1379.0L1515.1 1368.7" stroke="#7d7d7d" stroke-width="1.1" stroke-opacity="0.34"/>
<path d="M1431.5 1448.1L1433.1 1435.5L1435.1 1419.4L1437.1 1405.0" stroke="#737373" stroke-width="3.1" stroke-opacity="0.70"/><path d="M1437.1 1405.0L1439.3 1390.7L1441.5 1376.4" stroke="#737373" stroke-width="2.2" stroke-opacity="0.57"/><path d="M1441.5 1376.4L1443.9 1362.1L1446.8 1346.1L1449.1 1333.6" stroke="#737373" stroke-width="1.4" stroke-opacity="0.45"/>
<path d="M1408.6 1447.4L1409.5 1438.4L1410.8 1426.9L1412.0 1416.6" stroke="#636363" stroke-width="2.8" stroke-opacity="0.46"/><path d="M1412.0 1416.6L1413.2 1406.4L1414.4 1396.2" stroke="#636363" stroke-width="2.0" stroke-opacity="0.37"/><path d="M1414.4 1396.2L1415.7 1385.9L1417.2 1374.4L1418.4 1365.5" stroke="#636363" stroke-width="1.2" stroke-opacity="0.29"/>
<path d="M1505.7 1481.3L1507.9 1473.7L1510.8 1463.9L1513.3 1455.2" stroke="#737373" stroke-width="2.2" stroke-opacity="0.73"/><path d="M1513.3 1455.2L1515.8 1446.5L1518.4 1437.8" stroke="#737373" stroke-width="1.6" stroke-opacity="0.60"/><path d="M1518.4 1437.8L1521.0 1429.1L1523.8 1419.3L1526.1 1411.7" stroke="#737373" stroke-width="1.0" stroke-opacity="0.47"/>
<path d="M1484.6 1458.2L1485.7 1448.0L1487.0 1434.8L1487.7 1423.1" stroke="#787878" stroke-width="2.1" stroke-opacity="0.55"/><path d="M1487.7 1423.1L1488.3 1411.3L1488.5 1399.6" stroke="#787878" stroke-width="1.5" stroke-opacity="0.45"/><path d="M1488.5 1399.6L1488.6 1387.8L1488.2 1374.6L1487.9 1364.3" stroke="#787878" stroke-width="0.9" stroke-opacity="0.35"/>
<path d="M1381.6 1457.0L1381.7 1450.8L1381.9 1442.9L1382.2 1435.9" stroke="#676767" stroke-width="2.9" stroke-opacity="0.56"/><path d="M1382.2 1435.9L1382.4 1428.8L1382.6 1421.8" stroke="#676767" stroke-width="2.1" stroke-opacity="0.46"/><path d="M1382.6 1421.8L1382.9 1414.7L1383.3 1406.8L1383.5 1400.6" stroke="#676767" stroke-width="1.3" stroke-opacity="0.36"/>
<path d="M1500.5 1478.7L1503.9 1464.7L1508.4 1446.7L1512.5 1430.8" stroke="#707070" stroke-width="2.6" stroke-opacity="0.49"/><path d="M1512.5 1430.8L1516.7 1414.8L1521.0 1398.9" stroke="#707070" stroke-width="1.9" stroke-opacity="0.40"/><path d="M1521.0 1398.9L1525.3 1383.1L1530.4 1365.2L1534.4 1351.4" stroke="#707070" stroke-width="1.2" stroke-opacity="0.31"/>
<path d="M1519.6 1456.2L1523.9 1441.8L1529.6 1423.4L1535.2 1407.2" stroke="#6e6e6e" stroke-width="2.3" stroke-opacity="0.65"/><path d="M1535.2 1407.2L1541.3 1391.2L1547.7 1375.3" stroke="#6e6e6e" stroke-width="1.7" stroke-opacity="0.54"/><path d="M1547.7 1375.3L1554.6 1359.6L1562.8 1342.1L1569.4 1328.7" stroke="#6e6e6e" stroke-width="1.0" stroke-opacity="0.42"/>
<path d="M1541.9 1448.7L1542.3 1442.7L1542.7 1435.1L1543.0 1428.2" stroke="#656565" stroke-width="2.6" stroke-opacity="0.59"/><path d="M1543.0 1428.2L1543.1 1421.4L1543.2 1414.5" stroke="#656565" stroke-width="1.9" stroke-opacity="0.48"/><path d="M1543.2 1414.5L1543.1 1407.7L1542.9 1400.0L1542.7 1394.0" stroke="#656565" stroke-width="1.2" stroke-opacity="0.38"/>
<path d="M1524.1 1458.9L1526.6 1451.8L1529.8 1442.7L1532.5 1434.5" stroke="#6a6a6a" stroke-width="2.9" stroke-opacity="0.55"/><path d="M1532.5 1434.5L1535.1 1426.4L1537.7 1418.2" stroke="#6a6a6a" stroke-width="2.1" stroke-opacity="0.45"/><path d="M1537.7 1418.2L1540.2 1410.0L1543.0 1400.7L1545.1 1393.5" stroke="#6a6a6a" stroke-width="1.3" stroke-opacity="0.35"/>
<path d="M1450.5 1481.9L1450.8 1475.8L1451.1 1467.9L1451.2 1460.9" stroke="#5c5c5c" stroke-width="2.4" stroke-opacity="0.56"/><path d="M1451.2 1460.9L1451.2 1453.8L1451.0 1446.8" stroke="#5c5c5c" stroke-width="1.8" stroke-opacity="0.46"/><path d="M1451.0 1446.8L1450.8 1439.8L1450.3 1431.9L1449.9 1425.8" stroke="#5c5c5c" stroke-width="1.1" stroke-opacity="0.36"/>
<path d="M1488.9 1451.6L1491.4 1440.2L1494.6 1425.5L1497.6 1412.5" stroke="#646464" stroke-width="2.2" stroke-opacity="0.64"/><path d="M1497.6 1412.5L1500.6 1399.4L1503.7 1386.4" stroke="#646464" stroke-width="1.6" stroke-opacity="0.52"/><path d="M1503.7 1386.4L1506.9 1373.4L1510.6 1358.9L1513.5 1347.5" stroke="#646464" stroke-width="1.0" stroke-opacity="0.41"/>
<path d="M1442.6 1462.2L1442.8 1456.0L1443.1 1448.1L1443.5 1441.0" stroke="#6d6d6d" stroke-width="2.5" stroke-opacity="0.49"/><path d="M1443.5 1441.0L1443.8 1433.9L1444.2 1426.9" stroke="#6d6d6d" stroke-width="1.8" stroke-opacity="0.40"/><path d="M1444.2 1426.9L1444.7 1419.8L1445.2 1411.9L1445.6 1405.7" stroke="#6d6d6d" stroke-width="1.1" stroke-opacity="0.32"/>
<path d="M1475.1 1464.1L1476.0 1450.1L1477.4 1432.1L1478.9 1416.2" stroke="#636363" stroke-width="2.9" stroke-opacity="0.53"/><path d="M1478.9 1416.2L1480.6 1400.2L1482.5 1384.3" stroke="#636363" stroke-width="2.1" stroke-opacity="0.43"/><path d="M1482.5 1384.3L1484.6 1368.4L1487.3 1350.6L1489.6 1336.7" stroke="#636363" stroke-width="1.3" stroke-opacity="0.34"/>
<path d="M1533.8 1450.9L1536.1 1439.7L1539.1 1425.2L1541.6 1412.4" stroke="#777777" stroke-width="3.0" stroke-opacity="0.66"/><path d="M1541.6 1412.4L1544.1 1399.6L1546.5 1386.7" stroke="#777777" stroke-width="2.1" stroke-opacity="0.54"/><path d="M1546.5 1386.7L1548.9 1373.9L1551.4 1359.4L1553.3 1348.1" stroke="#777777" stroke-width="1.3" stroke-opacity="0.42"/>
<path d="M1459.1 1467.2L1458.0 1456.1L1456.6 1441.7L1455.3 1429.0" stroke="#666666" stroke-width="2.9" stroke-opacity="0.75"/><path d="M1455.3 1429.0L1454.1 1416.3L1452.8 1403.5" stroke="#666666" stroke-width="2.1" stroke-opacity="0.61"/><path d="M1452.8 1403.5L1451.6 1390.8L1450.2 1376.5L1449.1 1365.3" stroke="#666666" stroke-width="1.3" stroke-opacity="0.48"/>
<path d="M1448.1 1456.5L1448.2 1449.7L1448.5 1441.1L1449.1 1433.4" stroke="#7a7a7a" stroke-width="2.6" stroke-opacity="0.54"/><path d="M1449.1 1433.4L1449.8 1425.8L1450.7 1418.1" stroke="#7a7a7a" stroke-width="1.9" stroke-opacity="0.44"/><path d="M1450.7 1418.1L1451.8 1410.5L1453.3 1402.0L1454.6 1395.4" stroke="#7a7a7a" stroke-width="1.2" stroke-opacity="0.35"/>
<path d="M1393.0 1477.1L1393.2 1470.5L1393.4 1462.0L1393.5 1454.4" stroke="#696969" stroke-width="3.1" stroke-opacity="0.52"/><path d="M1393.5 1454.4L1393.7 1446.9L1393.8 1439.3" stroke="#696969" stroke-width="2.2" stroke-opacity="0.43"/><path d="M1393.8 1439.3L1393.8 1431.8L1393.9 1423.3L1393.9 1416.7" stroke="#696969" stroke-width="1.4" stroke-opacity="0.34"/>
<path d="M1459.7 1453.8L1460.6 1444.7L1461.6 1432.9L1462.6 1422.5" stroke="#626262" stroke-width="3.1" stroke-opacity="0.64"/><path d="M1462.6 1422.5L1463.7 1412.0L1464.8 1401.6" stroke="#626262" stroke-width="2.2" stroke-opacity="0.53"/><path d="M1464.8 1401.6L1466.0 1391.1L1467.4 1379.4L1468.5 1370.3" stroke="#626262" stroke-width="1.4" stroke-opacity="0.41"/>
<path d="M1527.5 1452.6L1528.1 1444.5L1529.0 1434.1L1529.8 1424.9" stroke="#717171" stroke-width="2.4" stroke-opacity="0.58"/><path d="M1529.8 1424.9L1530.6 1415.7L1531.5 1406.4" stroke="#717171" stroke-width="1.7" stroke-opacity="0.48"/><path d="M1531.5 1406.4L1532.4 1397.2L1533.3 1386.8L1534.1 1378.8" stroke="#717171" stroke-width="1.1" stroke-opacity="0.37"/>
<path d="M1489.5 1480.3L1490.0 1471.4L1490.6 1460.1L1490.8 1449.9" stroke="#787878" stroke-width="2.2" stroke-opacity="0.50"/><path d="M1490.8 1449.9L1490.8 1439.8L1490.5 1429.7" stroke="#787878" stroke-width="1.5" stroke-opacity="0.41"/><path d="M1490.5 1429.7L1490.0 1419.6L1489.0 1408.2L1488.2 1399.4" stroke="#787878" stroke-width="0.9" stroke-opacity="0.32"/>
<path d="M1528.1 1476.6L1531.6 1467.2L1536.1 1455.2L1540.2 1444.5" stroke="#6b6b6b" stroke-width="3.1" stroke-opacity="0.69"/><path d="M1540.2 1444.5L1544.4 1433.8L1548.5 1423.2" stroke="#6b6b6b" stroke-width="2.2" stroke-opacity="0.57"/><path d="M1548.5 1423.2L1552.8 1412.6L1557.6 1400.7L1561.4 1391.4" stroke="#6b6b6b" stroke-width="1.3" stroke-opacity="0.44"/>
<path d="M1401.8 1468.9L1402.2 1459.3L1402.7 1446.9L1403.1 1435.8" stroke="#5c5c5c" stroke-width="2.5" stroke-opacity="0.55"/><path d="M1403.1 1435.8L1403.4 1424.8L1403.7 1413.8" stroke="#5c5c5c" stroke-width="1.8" stroke-opacity="0.45"/><path d="M1403.7 1413.8L1404.0 1402.8L1404.3 1390.4L1404.5 1380.7" stroke="#5c5c5c" stroke-width="1.1" stroke-opacity="0.35"/>
<path d="M1547.9 1480.3L1550.6 1469.8L1554.3 1456.3L1557.8 1444.5" stroke="#6f6f6f" stroke-width="2.8" stroke-opacity="0.61"/><path d="M1557.8 1444.5L1561.6 1432.7L1565.7 1420.9" stroke="#6f6f6f" stroke-width="2.0" stroke-opacity="0.50"/><path d="M1565.7 1420.9L1570.0 1409.3L1575.1 1396.4L1579.2 1386.3" stroke="#6f6f6f" stroke-width="1.2" stroke-opacity="0.39"/>
<path d="M1323.0 1203.0C1324.5 1209.2 1327.8 1227.2 1332.0 1240.0C1336.2 1252.8 1343.0 1265.0 1348.0 1280.0C1353.0 1295.0 1358.0 1311.7 1362.0 1330.0C1366.0 1348.3 1369.3 1371.7 1372.0 1390.0C1374.7 1408.3 1377.0 1431.7 1378.0 1440.0" stroke="#9a9a9a" stroke-width="2.4" stroke-opacity="0.90"/>
<path d="M1701.0 1296.0C1694.2 1299.7 1672.7 1309.0 1660.0 1318.0C1647.3 1327.0 1636.7 1337.2 1625.0 1350.0C1613.3 1362.8 1600.0 1380.0 1590.0 1395.0C1580.0 1410.0 1569.2 1432.5 1565.0 1440.0" stroke="#969696" stroke-width="2.6" stroke-opacity="0.90"/>
<path d="M1640.0 1229.0C1636.3 1235.5 1626.0 1253.2 1618.0 1268.0C1610.0 1282.8 1600.0 1301.0 1592.0 1318.0C1584.0 1335.0 1576.7 1351.3 1570.0 1370.0C1563.3 1388.7 1555.0 1420.0 1552.0 1430.0" stroke="#959595" stroke-width="2.6" stroke-opacity="0.90"/>
<path d="M1607.0 1212.0C1603.8 1218.3 1595.0 1235.3 1588.0 1250.0C1581.0 1264.7 1572.2 1281.7 1565.0 1300.0C1557.8 1318.3 1548.3 1350.0 1545.0 1360.0" stroke="#9c9c9c" stroke-width="2.4" stroke-opacity="0.90"/>
<path d="M1585.0 1200.0C1582.5 1206.7 1575.8 1225.0 1570.0 1240.0C1564.2 1255.0 1556.7 1271.7 1550.0 1290.0C1543.3 1308.3 1533.3 1340.0 1530.0 1350.0" stroke="#a0a0a0" stroke-width="2.2" stroke-opacity="0.90"/>
<path d="M1386.0 1222.0C1384.7 1228.3 1379.7 1245.3 1378.0 1260.0C1376.3 1274.7 1375.3 1291.7 1376.0 1310.0C1376.7 1328.3 1381.0 1360.0 1382.0 1370.0" stroke="#a0a0a0" stroke-width="2.2" stroke-opacity="0.90"/>
<path d="M1350.0 1490.0C1352.5 1486.7 1359.2 1477.5 1365.0 1470.0C1370.8 1462.5 1379.2 1451.3 1385.0 1445.0C1390.8 1438.7 1392.5 1432.0 1400.0 1432.0C1407.5 1432.0 1418.3 1440.0 1430.0 1445.0C1441.7 1450.0 1459.2 1456.5 1470.0 1462.0C1480.8 1467.5 1490.8 1475.3 1495.0 1478.0" stroke="#b0b0b0" stroke-width="3.0" stroke-opacity="0.90"/>
<path d="M1480.0 1505.0C1482.5 1501.7 1489.2 1490.5 1495.0 1485.0C1500.8 1479.5 1507.5 1475.3 1515.0 1472.0C1522.5 1468.7 1535.8 1466.2 1540.0 1465.0" stroke="#b4b4b4" stroke-width="3.0" stroke-opacity="0.90"/>
<path d="M1375.0 1490.0C1375.5 1492.5 1378.2 1500.3 1378.0 1505.0C1377.8 1509.7 1373.7 1514.2 1374.0 1518.0C1374.3 1521.8 1379.0 1526.3 1380.0 1528.0" stroke="#999" stroke-width="2.0" stroke-opacity="0.90"/>
<path d="M1605.0 1392.0C1606.7 1396.7 1611.5 1409.5 1615.0 1420.0C1618.5 1430.5 1623.2 1445.0 1626.0 1455.0C1628.8 1465.0 1631.0 1475.8 1632.0 1480.0" stroke="#aaa" stroke-width="2.0" stroke-opacity="0.90"/>
<path d="M1575.0 1395.0C1577.5 1394.2 1585.0 1390.5 1590.0 1390.0C1595.0 1389.5 1602.5 1391.7 1605.0 1392.0" stroke="#aaa" stroke-width="2.0" stroke-opacity="0.90"/>
<path d="M1312.0 1372.0C1314.2 1371.0 1319.5 1367.0 1325.0 1366.0C1330.5 1365.0 1338.8 1365.0 1345.0 1366.0C1351.2 1367.0 1359.2 1371.0 1362.0 1372.0" stroke="#aaa" stroke-width="1.8" stroke-opacity="0.90"/>
<path d="M1310.0 1345.0C1313.3 1346.2 1323.3 1349.2 1330.0 1352.0C1336.7 1354.8 1346.7 1360.3 1350.0 1362.0" stroke="#b0b0b0" stroke-width="1.8" stroke-opacity="0.90"/>
<path d="M1345.0 1500.0C1343.3 1504.2 1338.8 1516.7 1335.0 1525.0C1331.2 1533.3 1324.2 1545.8 1322.0 1550.0" stroke="#bbb" stroke-width="1.8" stroke-opacity="0.90"/>
<path d="M1478 1310 Q 1488 1340 1480 1385" stroke="#dcdcdc" stroke-width="7" stroke-opacity="0.6"/>
</g>
<polygon points="1352.0,1483.0 1563.0,1481.0 1544.0,1603.0 1362.0,1603.0" fill="#222"/>
<polygon points="1345.0,1468.0 1352.0,1483.0 1563.0,1481.0 1567.0,1470.0 1561.0,1463.0 1352.0,1463.0" fill="#1e1e1e" opacity="0.55"/>
<g fill="none" stroke-linecap="round" stroke-linejoin="round">
<path d="M1350.0 1490.0C1352.5 1486.7 1359.2 1477.5 1365.0 1470.0C1370.8 1462.5 1379.2 1451.3 1385.0 1445.0C1390.8 1438.7 1392.5 1432.0 1400.0 1432.0C1407.5 1432.0 1418.3 1440.0 1430.0 1445.0C1441.7 1450.0 1459.2 1456.5 1470.0 1462.0C1480.8 1467.5 1490.8 1475.3 1495.0 1478.0" stroke="#b0b0b0" stroke-width="3.0" stroke-opacity="0.90"/>
<path d="M1480.0 1505.0C1482.5 1501.7 1489.2 1490.5 1495.0 1485.0C1500.8 1479.5 1507.5 1475.3 1515.0 1472.0C1522.5 1468.7 1535.8 1466.2 1540.0 1465.0" stroke="#b4b4b4" stroke-width="3.0" stroke-opacity="0.90"/>
<path d="M1375.0 1490.0C1375.5 1492.5 1378.2 1500.3 1378.0 1505.0C1377.8 1509.7 1373.7 1514.2 1374.0 1518.0C1374.3 1521.8 1379.0 1526.3 1380.0 1528.0" stroke="#999" stroke-width="2.0" stroke-opacity="0.90"/>
</g>
</g></g>
<rect x="1263.7" y="1143.7" width="442.9" height="457.6" fill="none" stroke="#3c3c3c" stroke-width="5.6" filter="url(#soft)"/>
<g clip-path="url(#cp3)"><g filter="url(#ph)">
<rect x="1730" y="1138" width="462" height="470" fill="url(#bg4)"/>
<polygon points="1867.0,1540.0 1874.0,1505.0 1892.0,1492.0 2052.0,1494.0 2066.0,1544.0 2056.0,1603.0 1880.0,1603.0" fill="#242424"/>
<path d="M1885 1520 Q 1900 1420 1945 1340 Q 1985 1275 2030 1290 Q 2075 1340 2085 1420 L 2070 1525 Z" fill="#8c8c8c" opacity="0.85" filter="url(#big)"/>
<g fill="none" stroke-linecap="round" stroke-linejoin="round">
<path d="M1961.7 1499.3C1956.9 1494.4 1943.0 1478.8 1932.7 1469.5C1922.4 1460.3 1911.3 1451.7 1899.8 1444.0C1888.3 1436.3 1876.2 1429.3 1863.7 1423.2C1851.3 1417.2 1838.3 1411.9 1825.1 1407.6C1812.0 1403.3 1798.4 1399.9 1784.8 1397.4C1771.2 1395.0 1757.2 1393.5 1743.4 1392.9C1729.6 1392.4 1708.7 1394.0 1701.8 1394.2" stroke="#717171" stroke-width="3.9" stroke-opacity="0.79"/>
<path d="M1985.8 1491.9C1983.4 1488.7 1976.5 1478.9 1971.5 1472.8C1966.4 1466.7 1961.0 1460.8 1955.3 1455.3C1949.6 1449.7 1943.6 1444.5 1937.4 1439.5C1931.2 1434.6 1924.6 1430.0 1917.9 1425.7C1911.3 1421.4 1904.3 1417.5 1897.2 1413.9C1890.1 1410.4 1882.8 1407.2 1875.3 1404.4C1867.9 1401.5 1856.4 1398.3 1852.6 1397.1" stroke="#878787" stroke-width="2.6" stroke-opacity="0.82"/>
<path d="M1916.0 1457.3C1909.5 1455.1 1890.3 1447.5 1877.1 1444.0C1864.0 1440.5 1850.4 1437.9 1836.8 1436.2C1823.3 1434.6 1809.5 1434.0 1795.8 1434.3C1782.2 1434.6 1768.4 1435.8 1754.9 1438.1C1741.4 1440.3 1728.0 1443.5 1715.0 1447.6C1701.9 1451.7 1689.1 1456.8 1676.8 1462.7C1664.5 1468.6 1647.0 1479.6 1641.1 1483.0" stroke="#939393" stroke-width="2.5" stroke-opacity="0.69"/>
<path d="M1961.3 1450.1C1954.7 1449.1 1934.9 1445.6 1921.7 1444.0C1908.4 1442.5 1895.1 1441.4 1881.7 1440.7C1868.4 1440.1 1855.0 1439.9 1841.6 1440.2C1828.3 1440.5 1814.9 1441.3 1801.6 1442.5C1788.3 1443.7 1775.0 1445.4 1761.8 1447.5C1748.6 1449.7 1735.5 1452.3 1722.5 1455.4C1709.5 1458.4 1690.2 1464.1 1683.8 1465.9" stroke="#9b9b9b" stroke-width="2.6" stroke-opacity="0.91"/>
<path d="M1936.7 1516.9C1931.9 1513.4 1917.7 1502.3 1907.8 1495.5C1897.9 1488.8 1887.8 1482.3 1877.5 1476.2C1867.2 1470.1 1856.6 1464.4 1845.9 1459.0C1835.2 1453.7 1824.3 1448.7 1813.2 1444.0C1802.2 1439.4 1790.9 1435.2 1779.6 1431.4C1768.2 1427.5 1756.7 1424.1 1745.1 1421.1C1733.5 1418.0 1715.9 1414.5 1710.1 1413.2" stroke="#8e8e8e" stroke-width="3.9" stroke-opacity="0.94"/>
<path d="M1982.0 1463.9C1978.3 1462.0 1967.4 1455.9 1959.9 1452.3C1952.4 1448.6 1944.8 1445.2 1937.1 1442.0C1929.4 1438.8 1921.6 1435.9 1913.8 1433.2C1905.9 1430.5 1897.9 1428.0 1889.9 1425.8C1881.9 1423.6 1873.8 1421.6 1865.6 1419.9C1857.5 1418.2 1849.2 1416.8 1841.0 1415.6C1832.8 1414.3 1820.3 1413.2 1816.2 1412.7" stroke="#7d7d7d" stroke-width="2.3" stroke-opacity="0.83"/>
<path d="M1915.3 1494.2C1910.9 1492.5 1898.1 1486.7 1889.2 1483.9C1880.2 1481.1 1871.0 1479.0 1861.8 1477.5C1852.6 1476.1 1843.2 1475.3 1833.8 1475.3C1824.5 1475.2 1815.1 1475.9 1805.8 1477.2C1796.6 1478.5 1787.3 1480.5 1778.4 1483.2C1769.5 1485.8 1760.6 1489.2 1752.2 1493.2C1743.7 1497.1 1731.8 1504.6 1727.7 1506.9" stroke="#7d7d7d" stroke-width="3.1" stroke-opacity="0.79"/>
<path d="M1967.9 1444.6C1965.8 1441.6 1959.9 1432.3 1955.3 1426.6C1950.7 1421.0 1945.6 1415.6 1940.3 1410.6C1935.0 1405.6 1929.2 1401.0 1923.3 1396.8C1917.3 1392.6 1911.0 1388.8 1904.5 1385.5C1898.0 1382.2 1891.2 1379.3 1884.3 1376.9C1877.4 1374.5 1870.3 1372.6 1863.2 1371.2C1856.0 1369.8 1845.0 1369.0 1841.4 1368.5" stroke="#707070" stroke-width="3.7" stroke-opacity="0.89"/>
<path d="M1942.5 1486.3C1938.8 1485.7 1927.7 1483.6 1920.3 1482.6C1912.9 1481.7 1905.5 1481.0 1898.0 1480.5C1890.5 1480.0 1883.1 1479.8 1875.6 1479.8C1868.1 1479.8 1860.6 1480.1 1853.2 1480.6C1845.7 1481.1 1838.3 1481.9 1830.9 1482.9C1823.5 1483.9 1816.1 1485.1 1808.7 1486.6C1801.4 1488.1 1790.6 1490.9 1786.9 1491.8" stroke="#787878" stroke-width="3.9" stroke-opacity="0.88"/>
<path d="M2060.4 1514.8C2063.1 1511.7 2070.7 1502.2 2076.2 1496.4C2081.7 1490.5 2087.6 1484.9 2093.7 1479.6C2099.8 1474.3 2106.1 1469.2 2112.7 1464.5C2119.2 1459.9 2126.1 1455.5 2133.1 1451.4C2140.0 1447.4 2147.3 1443.7 2154.6 1440.3C2162.0 1437.0 2169.5 1434.0 2177.1 1431.4C2184.8 1428.7 2196.5 1425.7 2200.4 1424.6" stroke="#747474" stroke-width="3.6" stroke-opacity="0.87"/>
<path d="M2051.8 1507.4C2053.7 1501.7 2059.2 1484.5 2063.1 1473.1C2067.0 1461.7 2071.0 1450.4 2075.3 1439.2C2079.5 1427.9 2083.9 1416.7 2088.5 1405.6C2093.0 1394.5 2097.7 1383.4 2102.6 1372.5C2107.5 1361.5 2112.5 1350.5 2117.7 1339.7C2122.9 1328.9 2128.2 1318.1 2133.7 1307.4C2139.2 1296.7 2147.8 1280.9 2150.6 1275.6" stroke="#8a8a8a" stroke-width="2.8" stroke-opacity="0.93"/>
<path d="M2022.1 1513.2C2025.1 1510.7 2034.0 1503.1 2040.2 1498.4C2046.4 1493.7 2052.8 1489.1 2059.3 1484.8C2065.7 1480.5 2072.4 1476.3 2079.1 1472.4C2085.9 1468.5 2092.8 1464.9 2099.7 1461.4C2106.7 1457.9 2113.8 1454.7 2121.0 1451.7C2128.2 1448.7 2135.5 1445.9 2142.9 1443.4C2150.2 1440.8 2161.5 1437.6 2165.2 1436.4" stroke="#737373" stroke-width="2.5" stroke-opacity="0.69"/>
<path d="M2044.8 1519.7C2046.5 1517.2 2051.1 1509.3 2054.9 1504.6C2058.6 1499.9 2062.8 1495.5 2067.3 1491.5C2071.8 1487.5 2076.7 1483.8 2081.8 1480.6C2086.9 1477.4 2092.4 1474.6 2097.9 1472.4C2103.5 1470.1 2109.3 1468.2 2115.2 1466.9C2121.1 1465.6 2127.1 1464.8 2133.2 1464.5C2139.2 1464.2 2148.2 1465.0 2151.3 1465.1" stroke="#818181" stroke-width="3.2" stroke-opacity="0.72"/>
<path d="M2038.6 1504.4C2041.5 1501.3 2050.2 1491.8 2056.1 1485.7C2062.0 1479.5 2067.9 1473.4 2074.0 1467.4C2080.0 1461.4 2086.1 1455.4 2092.3 1449.5C2098.4 1443.6 2104.7 1437.8 2111.0 1432.1C2117.3 1426.4 2123.7 1420.7 2130.1 1415.1C2136.5 1409.5 2143.0 1404.0 2149.6 1398.5C2156.1 1393.1 2166.1 1385.1 2169.5 1382.4" stroke="#717171" stroke-width="3.8" stroke-opacity="0.80"/>
<path d="M2054.5 1441.8C2059.9 1439.2 2076.0 1430.9 2087.2 1426.4C2098.4 1421.9 2109.9 1418.0 2121.4 1414.8C2133.0 1411.6 2144.9 1409.1 2156.8 1407.2C2168.7 1405.3 2180.7 1404.1 2192.7 1403.6C2204.7 1403.1 2216.9 1403.3 2228.9 1404.1C2240.9 1405.0 2252.9 1406.5 2264.7 1408.7C2276.5 1410.9 2294.0 1415.9 2299.8 1417.3" stroke="#747474" stroke-width="3.6" stroke-opacity="0.78"/>
<path d="M2009.7 1506.0C2012.6 1502.8 2020.9 1492.5 2027.2 1486.5C2033.5 1480.6 2040.5 1475.1 2047.8 1470.3C2055.0 1465.5 2062.8 1461.2 2070.8 1457.8C2078.8 1454.3 2087.2 1451.4 2095.6 1449.4C2104.1 1447.3 2112.8 1445.9 2121.5 1445.3C2130.2 1444.7 2139.1 1444.9 2147.7 1445.8C2156.4 1446.7 2169.2 1449.9 2173.5 1450.7" stroke="#9a9a9a" stroke-width="3.7" stroke-opacity="0.79"/>
<path d="M2031.7 1495.7C2034.6 1493.1 2042.8 1485.1 2048.7 1480.2C2054.5 1475.2 2060.6 1470.5 2066.8 1466.0C2073.0 1461.6 2079.4 1457.3 2085.9 1453.4C2092.5 1449.4 2099.2 1445.7 2106.0 1442.2C2112.8 1438.8 2119.8 1435.6 2126.9 1432.7C2134.0 1429.8 2141.2 1427.1 2148.5 1424.8C2155.7 1422.4 2166.9 1419.6 2170.6 1418.6" stroke="#808080" stroke-width="2.5" stroke-opacity="0.95"/>
<path d="M2062.4 1486.4C2065.3 1483.7 2073.8 1475.3 2079.6 1469.8C2085.4 1464.4 2091.3 1459.0 2097.2 1453.7C2103.2 1448.4 2109.2 1443.2 2115.4 1438.1C2121.5 1433.0 2127.6 1427.9 2133.9 1423.0C2140.1 1418.0 2146.5 1413.2 2152.9 1408.4C2159.2 1403.6 2165.7 1399.0 2172.2 1394.4C2178.7 1389.8 2188.7 1383.2 2192.0 1380.9" stroke="#929292" stroke-width="2.7" stroke-opacity="0.91"/>
<path d="M2023.5 1500.7C2028.3 1498.8 2042.4 1492.3 2052.2 1489.0C2062.0 1485.6 2072.0 1482.9 2082.1 1480.7C2092.2 1478.6 2102.5 1477.0 2112.8 1476.0C2123.1 1475.1 2133.5 1474.7 2143.8 1475.0C2154.1 1475.3 2164.5 1476.2 2174.7 1477.7C2185.0 1479.2 2195.2 1481.3 2205.1 1484.0C2215.1 1486.7 2229.6 1492.2 2234.6 1493.9" stroke="#7f7f7f" stroke-width="3.6" stroke-opacity="0.86"/>
<path d="M2018.3 1473.7C2022.9 1471.5 2036.7 1464.4 2046.1 1460.2C2055.5 1456.0 2065.1 1452.0 2074.7 1448.4C2084.4 1444.7 2094.1 1441.4 2104.0 1438.3C2113.9 1435.2 2123.8 1432.5 2133.8 1430.0C2143.9 1427.6 2154.0 1425.4 2164.1 1423.6C2174.3 1421.7 2184.5 1420.2 2194.7 1418.9C2205.0 1417.7 2220.4 1416.6 2225.6 1416.2" stroke="#8c8c8c" stroke-width="3.9" stroke-opacity="0.82"/>
<path d="M2000.8 1479.2C2003.6 1475.0 2011.9 1462.1 2018.0 1454.0C2024.1 1445.9 2030.6 1437.9 2037.4 1430.4C2044.2 1422.8 2051.4 1415.5 2058.8 1408.5C2066.2 1401.5 2074.0 1394.9 2082.0 1388.6C2090.0 1382.3 2098.3 1376.3 2106.8 1370.8C2115.4 1365.2 2124.2 1360.0 2133.1 1355.2C2142.1 1350.4 2156.1 1344.1 2160.7 1341.9" stroke="#8c8c8c" stroke-width="3.7" stroke-opacity="0.89"/>
<path d="M2022.6 1488.0C2027.6 1485.4 2042.4 1477.3 2052.6 1472.5C2062.7 1467.7 2073.0 1463.2 2083.5 1459.1C2094.0 1455.0 2104.6 1451.3 2115.3 1448.0C2126.0 1444.6 2136.9 1441.6 2147.8 1439.0C2158.7 1436.4 2169.8 1434.2 2180.8 1432.3C2191.9 1430.5 2203.1 1429.0 2214.3 1427.9C2225.4 1426.9 2242.3 1426.2 2247.9 1425.9" stroke="#969696" stroke-width="3.7" stroke-opacity="0.86"/>
<path d="M2063.4 1516.1C2066.9 1513.0 2077.0 1503.5 2084.0 1497.5C2091.0 1491.4 2098.1 1485.5 2105.3 1479.7C2112.5 1473.9 2119.8 1468.3 2127.3 1462.8C2134.7 1457.3 2142.2 1452.0 2149.9 1446.8C2157.6 1441.6 2165.3 1436.6 2173.2 1431.7C2181.0 1426.8 2189.0 1422.1 2197.0 1417.6C2205.1 1413.0 2217.4 1406.6 2221.5 1404.4" stroke="#999999" stroke-width="3.7" stroke-opacity="0.79"/>
<path d="M2044.9 1494.8C2048.1 1493.4 2057.3 1488.8 2063.8 1486.4C2070.2 1484.1 2076.8 1482.2 2083.5 1480.7C2090.2 1479.3 2097.1 1478.3 2103.9 1477.8C2110.7 1477.3 2117.7 1477.3 2124.5 1477.7C2131.3 1478.1 2138.2 1479.0 2144.9 1480.4C2151.6 1481.7 2158.3 1483.5 2164.7 1485.8C2171.2 1488.1 2180.5 1492.6 2183.7 1493.9" stroke="#8d8d8d" stroke-width="3.2" stroke-opacity="0.78"/>
<path d="M2040.5 1499.7C2044.8 1496.6 2057.4 1487.2 2066.0 1481.0C2074.5 1474.9 2083.1 1468.8 2091.7 1462.8C2100.4 1456.9 2109.1 1451.0 2117.9 1445.1C2126.6 1439.3 2135.4 1433.6 2144.3 1427.9C2153.2 1422.2 2162.1 1416.7 2171.0 1411.2C2180.0 1405.7 2189.0 1400.3 2198.1 1394.9C2207.2 1389.6 2220.9 1381.8 2225.4 1379.2" stroke="#838383" stroke-width="2.5" stroke-opacity="0.85"/>
<path d="M2014.2 1491.7C2016.8 1490.1 2024.2 1485.0 2029.4 1482.0C2034.6 1479.0 2039.9 1476.2 2045.3 1473.7C2050.7 1471.2 2056.3 1468.9 2061.9 1466.8C2067.5 1464.8 2073.3 1463.0 2079.1 1461.4C2084.9 1459.9 2090.7 1458.6 2096.6 1457.6C2102.5 1456.5 2108.5 1455.8 2114.5 1455.3C2120.4 1454.8 2129.4 1454.7 2132.4 1454.6" stroke="#727272" stroke-width="2.6" stroke-opacity="0.69"/>
<path d="M2020.6 1446.3C2022.2 1443.8 2026.5 1436.0 2029.8 1431.0C2033.1 1426.1 2036.6 1421.2 2040.3 1416.6C2044.0 1411.9 2047.9 1407.4 2052.0 1403.1C2056.1 1398.8 2060.4 1394.6 2064.9 1390.7C2069.3 1386.8 2074.0 1383.0 2078.7 1379.5C2083.5 1375.9 2088.5 1372.6 2093.5 1369.5C2098.6 1366.4 2106.6 1362.3 2109.2 1360.8" stroke="#8a8a8a" stroke-width="2.9" stroke-opacity="0.83"/>
<path d="M2015.5 1511.3C2016.7 1507.3 2020.3 1495.2 2023.1 1487.2C2025.9 1479.3 2028.9 1471.4 2032.2 1463.7C2035.4 1455.9 2038.9 1448.2 2042.6 1440.7C2046.3 1433.1 2050.2 1425.6 2054.3 1418.3C2058.4 1411.0 2062.8 1403.7 2067.3 1396.6C2071.9 1389.6 2076.6 1382.6 2081.6 1375.8C2086.5 1369.0 2094.4 1359.1 2097.0 1355.8" stroke="#757575" stroke-width="2.9" stroke-opacity="0.90"/>
<path d="M2024.3 1433.2C2027.0 1431.5 2034.8 1426.1 2040.3 1422.9C2045.7 1419.7 2051.4 1416.8 2057.2 1414.1C2063.0 1411.5 2068.9 1409.2 2074.9 1407.1C2080.9 1405.1 2087.0 1403.4 2093.2 1401.9C2099.4 1400.5 2105.7 1399.4 2111.9 1398.6C2118.2 1397.8 2124.6 1397.3 2130.9 1397.1C2137.3 1396.9 2146.8 1397.5 2150.0 1397.6" stroke="#898989" stroke-width="2.8" stroke-opacity="0.94"/>
<path d="M2053.2 1467.7C2057.8 1465.8 2071.5 1459.7 2080.9 1456.2C2090.2 1452.7 2099.7 1449.5 2109.3 1446.7C2118.9 1443.9 2128.6 1441.4 2138.4 1439.3C2148.1 1437.1 2158.0 1435.4 2167.9 1434.0C2177.8 1432.5 2187.8 1431.5 2197.7 1430.8C2207.7 1430.1 2217.7 1429.8 2227.7 1429.8C2237.7 1429.8 2252.7 1430.8 2257.7 1431.0" stroke="#8a8a8a" stroke-width="2.5" stroke-opacity="0.82"/>
<path d="M2062.2 1517.1C2065.7 1515.1 2075.9 1508.5 2083.1 1505.0C2090.3 1501.5 2097.9 1498.5 2105.6 1496.2C2113.3 1493.8 2121.3 1492.1 2129.2 1491.0C2137.2 1489.8 2145.3 1489.3 2153.3 1489.4C2161.4 1489.5 2169.5 1490.3 2177.4 1491.6C2185.3 1493.0 2193.2 1495.0 2200.8 1497.5C2208.4 1500.1 2219.4 1505.4 2223.1 1507.0" stroke="#747474" stroke-width="2.2" stroke-opacity="0.82"/>
<path d="M2040.0 1442.7C2044.8 1439.4 2059.2 1429.4 2069.1 1423.3C2079.0 1417.2 2089.2 1411.5 2099.6 1406.1C2109.9 1400.8 2120.5 1395.8 2131.2 1391.3C2141.9 1386.7 2152.8 1382.5 2163.9 1378.7C2174.9 1375.0 2186.1 1371.6 2197.3 1368.6C2208.6 1365.7 2220.0 1363.1 2231.5 1361.0C2242.9 1358.9 2260.3 1356.7 2266.1 1355.9" stroke="#797979" stroke-width="3.0" stroke-opacity="0.74"/>
<path d="M2063.2 1464.2C2069.0 1463.0 2086.2 1458.8 2097.9 1457.0C2109.6 1455.3 2121.4 1454.1 2133.2 1453.6C2144.9 1453.1 2156.8 1453.3 2168.6 1454.1C2180.3 1454.8 2192.1 1456.3 2203.7 1458.3C2215.3 1460.3 2226.9 1463.0 2238.2 1466.3C2249.6 1469.6 2260.8 1473.5 2271.7 1478.0C2282.6 1482.5 2298.3 1490.7 2303.7 1493.2" stroke="#9b9b9b" stroke-width="2.7" stroke-opacity="0.80"/>
<path d="M2027.0 1458.7C2031.4 1457.7 2044.5 1454.4 2053.3 1452.6C2062.1 1450.9 2071.0 1449.3 2079.9 1448.1C2088.8 1446.8 2097.7 1445.9 2106.7 1445.1C2115.7 1444.4 2124.7 1444.0 2133.6 1443.8C2142.6 1443.6 2151.6 1443.7 2160.6 1444.0C2169.6 1444.4 2178.6 1445.0 2187.5 1445.9C2196.5 1446.8 2209.8 1448.8 2214.3 1449.3" stroke="#757575" stroke-width="3.1" stroke-opacity="0.84"/>
<path d="M2028.8 1456.4C2033.8 1453.8 2048.7 1445.9 2058.6 1440.7C2068.6 1435.6 2078.6 1430.5 2088.7 1425.5C2098.8 1420.6 2108.9 1415.7 2119.0 1410.9C2129.2 1406.1 2139.4 1401.3 2149.6 1396.7C2159.8 1392.0 2170.1 1387.5 2180.3 1383.0C2190.6 1378.5 2201.0 1374.1 2211.3 1369.8C2221.7 1365.5 2237.4 1359.3 2242.6 1357.2" stroke="#7c7c7c" stroke-width="3.2" stroke-opacity="0.93"/>
<path d="M2050.8 1452.1C2053.0 1449.5 2059.1 1441.4 2063.9 1436.6C2068.6 1431.9 2073.9 1427.5 2079.3 1423.6C2084.8 1419.7 2090.7 1416.3 2096.8 1413.4C2102.9 1410.5 2109.3 1408.0 2115.7 1406.2C2122.2 1404.4 2128.9 1403.1 2135.6 1402.4C2142.3 1401.6 2149.1 1401.5 2155.8 1401.9C2162.5 1402.3 2172.5 1404.4 2175.9 1404.9" stroke="#8a8a8a" stroke-width="2.7" stroke-opacity="0.79"/>
<path d="M2041.9 1484.3C2044.9 1483.1 2053.7 1478.8 2059.8 1476.6C2066.0 1474.5 2072.3 1472.7 2078.6 1471.4C2085.0 1470.1 2091.5 1469.2 2097.9 1468.7C2104.4 1468.2 2111.0 1468.2 2117.4 1468.6C2123.9 1469.0 2130.4 1469.8 2136.8 1471.1C2143.2 1472.4 2149.5 1474.1 2155.6 1476.2C2161.8 1478.3 2170.6 1482.4 2173.6 1483.7" stroke="#878787" stroke-width="2.7" stroke-opacity="0.75"/>
<path d="M2019.3 1477.7C2022.4 1475.1 2031.4 1466.8 2037.9 1462.0C2044.4 1457.1 2051.3 1452.7 2058.4 1448.8C2065.5 1444.9 2072.9 1441.4 2080.5 1438.4C2088.0 1435.5 2095.8 1433.0 2103.7 1431.1C2111.5 1429.1 2119.6 1427.7 2127.7 1426.8C2135.7 1425.9 2143.9 1425.5 2152.0 1425.7C2160.1 1425.9 2172.2 1427.4 2176.3 1427.8" stroke="#717171" stroke-width="3.3" stroke-opacity="0.73"/>
<path d="M2029.6 1512.5C2034.0 1510.8 2047.0 1505.6 2055.8 1502.3C2064.5 1499.0 2073.3 1495.7 2082.1 1492.5C2090.8 1489.4 2099.7 1486.2 2108.5 1483.2C2117.4 1480.2 2126.2 1477.2 2135.1 1474.3C2144.0 1471.4 2152.9 1468.6 2161.9 1465.9C2170.8 1463.2 2179.8 1460.5 2188.8 1457.9C2197.8 1455.3 2211.3 1451.6 2215.8 1450.3" stroke="#828282" stroke-width="3.6" stroke-opacity="0.82"/>
<path d="M2046.0 1486.9C2050.4 1482.9 2063.2 1470.7 2072.2 1463.0C2081.2 1455.4 2090.5 1448.1 2100.0 1441.2C2109.5 1434.3 2119.4 1427.7 2129.4 1421.5C2139.4 1415.3 2149.7 1409.5 2160.2 1404.1C2170.6 1398.7 2181.3 1393.6 2192.2 1389.0C2203.0 1384.4 2214.1 1380.2 2225.2 1376.4C2236.4 1372.6 2253.4 1367.9 2259.1 1366.2" stroke="#959595" stroke-width="2.9" stroke-opacity="0.71"/>
<path d="M2019.3 1504.7C2021.7 1499.6 2028.3 1484.0 2033.8 1474.1C2039.2 1464.2 2045.3 1454.6 2051.9 1445.5C2058.6 1436.4 2065.8 1427.6 2073.5 1419.4C2081.2 1411.2 2089.5 1403.3 2098.1 1396.1C2106.8 1388.9 2115.9 1382.1 2125.4 1376.0C2134.9 1369.9 2144.8 1364.4 2154.9 1359.5C2165.1 1354.6 2181.1 1348.8 2186.3 1346.7" stroke="#7c7c7c" stroke-width="3.0" stroke-opacity="0.88"/>
<path d="M2059.2 1442.8C2062.7 1439.7 2072.9 1430.1 2080.2 1424.2C2087.5 1418.3 2095.1 1412.7 2102.9 1407.5C2110.7 1402.3 2118.8 1397.5 2127.0 1393.0C2135.2 1388.6 2143.7 1384.5 2152.3 1380.8C2161.0 1377.2 2169.8 1373.9 2178.7 1371.0C2187.6 1368.2 2196.7 1365.7 2205.9 1363.7C2215.0 1361.7 2229.0 1359.7 2233.6 1358.9" stroke="#767676" stroke-width="2.8" stroke-opacity="0.83"/>
<path d="M2052.8 1436.2C2056.1 1431.6 2065.4 1417.6 2072.5 1409.1C2079.7 1400.5 2087.6 1392.4 2095.9 1385.0C2104.1 1377.5 2113.0 1370.6 2122.3 1364.3C2131.5 1358.1 2141.3 1352.4 2151.3 1347.5C2161.3 1342.6 2171.8 1338.4 2182.4 1334.9C2193.0 1331.4 2203.9 1328.7 2214.9 1326.7C2225.9 1324.7 2242.7 1323.7 2248.2 1323.1" stroke="#717171" stroke-width="3.4" stroke-opacity="0.87"/>
<path d="M2068.2 1539.9C2069.0 1532.4 2071.4 1510.0 2072.7 1495.1C2074.0 1480.2 2075.2 1465.2 2076.3 1450.3C2077.3 1435.3 2078.2 1420.3 2078.9 1405.3C2079.7 1390.3 2080.3 1375.4 2080.7 1360.4C2081.1 1345.4 2081.4 1330.4 2081.5 1315.4C2081.7 1300.4 2081.5 1277.9 2081.5 1270.4" stroke="#c1c1c1" stroke-width="3.6" stroke-opacity="1.00"/>
<path d="M2019.9 1500.7C2021.0 1493.5 2024.0 1471.8 2026.4 1457.4C2028.9 1443.0 2031.6 1428.7 2034.6 1414.5C2037.6 1400.2 2040.9 1386.0 2044.5 1371.8C2048.0 1357.7 2051.9 1343.6 2056.0 1329.7C2060.1 1315.7 2064.5 1301.8 2069.1 1287.9C2073.8 1274.1 2081.4 1253.6 2083.9 1246.8" stroke="#b1b1b1" stroke-width="2.7" stroke-opacity="0.63"/>
<path d="M1905.2 1510.3C1904.1 1506.7 1901.4 1495.7 1898.7 1488.6C1896.1 1481.6 1893.0 1474.7 1889.4 1468.1C1885.8 1461.4 1881.8 1455.0 1877.3 1449.0C1872.9 1442.9 1868.0 1437.1 1862.8 1431.7C1857.6 1426.3 1851.9 1421.2 1846.0 1416.5C1840.1 1411.9 1830.5 1405.9 1827.4 1403.8" stroke="#888888" stroke-width="2.6" stroke-opacity="0.86"/>
<path d="M2056.9 1479.7C2057.8 1473.1 2059.8 1453.3 2062.1 1440.2C2064.4 1427.2 2067.2 1414.1 2070.6 1401.3C2073.9 1388.5 2077.8 1375.8 2082.2 1363.3C2086.6 1350.8 2091.6 1338.4 2097.0 1326.3C2102.4 1314.2 2108.4 1302.3 2114.8 1290.7C2121.2 1279.1 2132.0 1262.4 2135.5 1256.7" stroke="#6d6d6d" stroke-width="2.5" stroke-opacity="0.82"/>
<path d="M1940.0 1522.5C1939.2 1518.3 1936.8 1505.7 1935.2 1497.2C1933.6 1488.8 1932.0 1480.4 1930.4 1471.9C1928.8 1463.5 1927.1 1455.1 1925.5 1446.6C1923.8 1438.2 1922.1 1429.8 1920.4 1421.4C1918.7 1413.0 1917.0 1404.6 1915.3 1396.2C1913.6 1387.7 1910.9 1375.1 1910.1 1370.9" stroke="#a1a1a1" stroke-width="2.0" stroke-opacity="0.74"/>
<path d="M1996.5 1472.5C1997.1 1467.1 1999.3 1450.9 2000.2 1440.0C2001.1 1429.2 2001.7 1418.3 2002.0 1407.4C2002.2 1396.5 2002.2 1385.6 2001.8 1374.7C2001.4 1363.8 2000.7 1352.9 1999.7 1342.1C1998.6 1331.2 1997.3 1320.4 1995.6 1309.6C1993.9 1298.9 1990.6 1282.9 1989.6 1277.5" stroke="#707070" stroke-width="3.4" stroke-opacity="0.61"/>
<path d="M2023.3 1473.8C2026.4 1467.9 2035.0 1449.8 2041.9 1438.5C2048.9 1427.2 2056.7 1416.2 2065.1 1405.9C2073.5 1395.7 2082.6 1385.9 2092.3 1376.8C2102.0 1367.7 2112.4 1359.2 2123.2 1351.5C2134.0 1343.8 2145.4 1336.8 2157.2 1330.6C2168.9 1324.4 2187.6 1317.1 2193.6 1314.4" stroke="#c2c2c2" stroke-width="2.9" stroke-opacity="0.68"/>
<path d="M2019.2 1496.3C2019.9 1488.4 2022.5 1464.6 2023.7 1448.7C2024.8 1432.8 2025.6 1416.9 2025.9 1401.0C2026.3 1385.1 2026.3 1369.1 2025.9 1353.2C2025.6 1337.3 2024.8 1321.3 2023.7 1305.4C2022.5 1289.5 2021.0 1273.7 2019.1 1257.8C2017.3 1242.0 2013.5 1218.4 2012.4 1210.5" stroke="#a9a9a9" stroke-width="3.5" stroke-opacity="0.86"/>
<path d="M2037.4 1500.3C2038.4 1494.2 2041.9 1476.0 2043.5 1463.8C2045.2 1451.5 2046.5 1439.2 2047.3 1426.8C2048.2 1414.5 2048.6 1402.1 2048.7 1389.8C2048.8 1377.4 2048.4 1365.0 2047.7 1352.7C2046.9 1340.3 2045.8 1328.0 2044.3 1315.7C2042.7 1303.5 2039.5 1285.2 2038.5 1279.1" stroke="#747474" stroke-width="2.1" stroke-opacity="0.67"/>
<path d="M1929.6 1504.3C1930.3 1499.5 1932.6 1484.9 1933.8 1475.2C1935.0 1465.5 1936.0 1455.8 1936.8 1446.0C1937.6 1436.3 1938.3 1426.5 1938.7 1416.7C1939.2 1406.9 1939.5 1397.1 1939.6 1387.4C1939.7 1377.6 1939.6 1367.8 1939.3 1358.0C1939.0 1348.2 1938.1 1333.5 1937.9 1328.6" stroke="#878787" stroke-width="2.6" stroke-opacity="0.78"/>
<path d="M1928.9 1515.7C1931.4 1508.5 1938.4 1486.6 1943.7 1472.3C1949.0 1458.0 1954.8 1443.8 1961.0 1429.9C1967.1 1415.9 1973.7 1402.1 1980.7 1388.5C1987.7 1374.9 1995.0 1361.5 2002.8 1348.3C2010.5 1335.1 2018.7 1322.2 2027.2 1309.5C2035.7 1296.8 2049.3 1278.4 2053.8 1272.1" stroke="#727272" stroke-width="3.4" stroke-opacity="0.87"/>
<path d="M1900.9 1532.7C1899.8 1528.2 1896.1 1514.4 1894.3 1505.2C1892.5 1495.9 1891.2 1486.5 1890.3 1477.1C1889.4 1467.7 1888.9 1458.3 1888.9 1448.8C1888.8 1439.4 1889.2 1429.9 1890.1 1420.5C1890.9 1411.1 1892.2 1401.7 1893.9 1392.4C1895.6 1383.1 1899.2 1369.4 1900.3 1364.8" stroke="#676767" stroke-width="2.2" stroke-opacity="0.87"/>
<path d="M1946.5 1517.2C1946.0 1513.1 1944.7 1500.8 1943.6 1492.7C1942.5 1484.5 1941.2 1476.4 1939.7 1468.3C1938.2 1460.2 1936.6 1452.1 1934.8 1444.1C1933.1 1436.0 1931.1 1428.0 1929.0 1420.1C1926.9 1412.1 1924.7 1404.2 1922.3 1396.3C1919.9 1388.4 1915.9 1376.8 1914.6 1372.8" stroke="#858585" stroke-width="3.6" stroke-opacity="0.88"/>
<path d="M2015.5 1482.9C2015.6 1474.6 2016.0 1449.7 2016.5 1433.1C2017.1 1416.5 2017.7 1399.9 2018.6 1383.4C2019.4 1366.8 2020.4 1350.2 2021.5 1333.7C2022.7 1317.1 2024.0 1300.6 2025.4 1284.0C2026.9 1267.5 2028.5 1251.0 2030.3 1234.5C2032.1 1218.0 2035.1 1193.2 2036.1 1185.0" stroke="#727272" stroke-width="3.7" stroke-opacity="0.86"/>
<path d="M1971.2 1538.3C1971.6 1531.1 1972.6 1509.6 1973.3 1495.3C1974.0 1481.0 1974.7 1466.7 1975.5 1452.4C1976.2 1438.0 1976.9 1423.7 1977.6 1409.4C1978.4 1395.1 1979.1 1380.8 1979.9 1366.5C1980.6 1352.1 1981.4 1337.8 1982.1 1323.5C1982.9 1309.2 1984.0 1287.7 1984.4 1280.6" stroke="#b1b1b1" stroke-width="3.0" stroke-opacity="0.98"/>
<path d="M2021.8 1486.6C2022.2 1481.1 2023.4 1464.5 2023.9 1453.4C2024.4 1442.3 2024.8 1431.2 2025.1 1420.2C2025.3 1409.1 2025.4 1398.0 2025.3 1386.9C2025.2 1375.8 2025.0 1364.7 2024.6 1353.7C2024.2 1342.6 2023.7 1331.5 2023.0 1320.4C2022.3 1309.4 2020.9 1292.8 2020.5 1287.3" stroke="#777777" stroke-width="2.1" stroke-opacity="0.93"/>
<path d="M1973.9 1514.8C1974.8 1510.8 1977.8 1498.9 1979.1 1490.9C1980.3 1482.8 1981.1 1474.7 1981.5 1466.5C1981.8 1458.4 1981.6 1450.2 1981.0 1442.0C1980.4 1433.9 1979.3 1425.8 1977.8 1417.8C1976.2 1409.8 1974.2 1401.8 1971.7 1394.0C1969.3 1386.2 1964.5 1374.9 1963.0 1371.1" stroke="#787878" stroke-width="2.2" stroke-opacity="0.73"/>
<path d="M1914.1 1507.9C1914.7 1500.4 1916.8 1477.7 1917.6 1462.6C1918.4 1447.5 1919.0 1432.3 1919.2 1417.2C1919.4 1402.0 1919.2 1386.8 1918.8 1371.7C1918.3 1356.6 1917.5 1341.4 1916.4 1326.3C1915.3 1311.2 1913.9 1296.1 1912.2 1281.0C1910.4 1266.0 1907.0 1243.5 1906.0 1236.0" stroke="#808080" stroke-width="2.8" stroke-opacity="0.91"/>
<path d="M1987.4 1479.3C1989.7 1473.0 1996.5 1454.1 2001.1 1441.6C2005.7 1429.0 2010.4 1416.5 2015.1 1403.9C2019.9 1391.4 2024.6 1378.9 2029.5 1366.4C2034.3 1354.0 2039.2 1341.5 2044.1 1329.1C2049.1 1316.6 2054.1 1304.2 2059.1 1291.8C2064.2 1279.5 2071.9 1260.9 2074.4 1254.7" stroke="#7d7d7d" stroke-width="2.6" stroke-opacity="0.64"/>
<path d="M2031.7 1527.4C2032.0 1523.9 2032.6 1513.4 2033.2 1506.5C2033.8 1499.5 2034.5 1492.6 2035.3 1485.7C2036.1 1478.7 2037.1 1471.8 2038.1 1464.9C2039.2 1458.0 2040.3 1451.1 2041.6 1444.3C2042.9 1437.4 2044.3 1430.6 2045.7 1423.8C2047.2 1417.0 2049.8 1406.8 2050.6 1403.4" stroke="#acacac" stroke-width="3.2" stroke-opacity="0.71"/>
<path d="M1982.2 1487.4C1980.5 1479.9 1976.3 1457.1 1972.1 1442.3C1967.8 1427.4 1962.7 1412.8 1956.8 1398.5C1951.0 1384.3 1944.2 1370.3 1936.8 1356.8C1929.3 1343.4 1921.0 1330.2 1912.1 1317.7C1903.1 1305.2 1893.4 1293.1 1883.1 1281.6C1872.8 1270.2 1855.7 1254.5 1850.2 1249.1" stroke="#818181" stroke-width="3.4" stroke-opacity="0.82"/>
<path d="M2053.6 1515.8C2053.8 1510.4 2055.0 1494.2 2055.0 1483.5C2055.0 1472.7 2054.5 1461.9 2053.6 1451.2C2052.7 1440.4 2051.2 1429.7 2049.4 1419.1C2047.5 1408.5 2045.2 1397.9 2042.4 1387.5C2039.6 1377.1 2036.4 1366.8 2032.7 1356.7C2029.0 1346.6 2022.4 1331.8 2020.3 1326.8" stroke="#c2c2c2" stroke-width="2.1" stroke-opacity="0.77"/>
<path d="M1913.9 1526.4C1912.5 1521.9 1908.4 1508.5 1905.5 1499.6C1902.6 1490.7 1899.6 1481.9 1896.5 1473.1C1893.4 1464.2 1890.2 1455.4 1886.9 1446.7C1883.6 1438.0 1880.3 1429.2 1876.8 1420.6C1873.3 1411.9 1869.7 1403.3 1866.0 1394.7C1862.4 1386.1 1856.6 1373.3 1854.7 1369.0" stroke="#696969" stroke-width="2.1" stroke-opacity="0.91"/>
<path d="M1993.6 1471.9C1994.2 1467.0 1996.1 1452.3 1997.3 1442.5C1998.6 1432.7 2000.0 1422.9 2001.4 1413.1C2002.8 1403.4 2004.2 1393.6 2005.7 1383.8C2007.3 1374.1 2008.8 1364.3 2010.4 1354.6C2012.0 1344.8 2013.7 1335.1 2015.4 1325.3C2017.2 1315.6 2019.9 1301.0 2020.8 1296.2" stroke="#7c7c7c" stroke-width="2.9" stroke-opacity="0.65"/>
<path d="M1930.6 1495.1C1931.1 1491.2 1932.4 1479.5 1933.7 1471.8C1935.1 1464.1 1936.7 1456.4 1938.7 1448.8C1940.6 1441.2 1942.9 1433.7 1945.4 1426.3C1947.9 1418.9 1950.8 1411.6 1953.9 1404.4C1957.0 1397.2 1960.4 1390.1 1964.1 1383.2C1967.8 1376.3 1974.0 1366.3 1976.0 1362.9" stroke="#b3b3b3" stroke-width="3.3" stroke-opacity="0.78"/>
<path d="M2061.1 1525.6C2063.4 1518.1 2070.0 1495.4 2074.9 1480.4C2079.8 1465.4 2084.9 1450.5 2090.4 1435.7C2095.9 1420.9 2101.6 1406.2 2107.7 1391.6C2113.7 1377.1 2120.0 1362.6 2126.7 1348.3C2133.3 1334.0 2140.2 1319.8 2147.3 1305.8C2154.5 1291.7 2165.9 1271.0 2169.7 1264.1" stroke="#acacac" stroke-width="3.7" stroke-opacity="0.81"/>
<path d="M2066.6 1511.7C2069.2 1507.1 2076.4 1493.0 2081.8 1484.0C2087.3 1475.0 2093.0 1466.1 2099.1 1457.5C2105.1 1448.9 2111.5 1440.5 2118.2 1432.3C2124.9 1424.2 2131.9 1416.3 2139.2 1408.7C2146.4 1401.0 2154.0 1393.7 2161.8 1386.6C2169.6 1379.5 2182.0 1369.7 2186.0 1366.3" stroke="#9b9b9b" stroke-width="2.4" stroke-opacity="0.88"/>
<path d="M1957.7 1502.5C1958.6 1497.9 1960.6 1484.1 1962.8 1475.0C1965.1 1466.0 1967.9 1457.1 1971.2 1448.4C1974.4 1439.7 1978.3 1431.1 1982.6 1422.9C1986.8 1414.6 1991.7 1406.6 1996.9 1398.9C2002.1 1391.2 2007.8 1383.8 2013.9 1376.8C2020.0 1369.7 2030.2 1360.1 2033.5 1356.8" stroke="#939393" stroke-width="2.6" stroke-opacity="0.70"/>
<path d="M2068.9 1528.8C2070.1 1523.8 2073.9 1508.7 2075.9 1498.6C2077.9 1488.4 2079.4 1478.2 2080.6 1467.9C2081.8 1457.7 2082.6 1447.3 2083.0 1437.0C2083.5 1426.7 2083.5 1416.3 2083.1 1406.0C2082.8 1395.6 2082.0 1385.3 2080.9 1375.0C2079.8 1364.7 2077.1 1349.4 2076.4 1344.3" stroke="#696969" stroke-width="2.2" stroke-opacity="0.76"/>
<path d="M2028.4 1489.7C2030.7 1483.0 2037.9 1463.2 2042.0 1449.7C2046.2 1436.3 2050.0 1422.7 2053.4 1409.0C2056.8 1395.4 2059.8 1381.6 2062.5 1367.8C2065.1 1354.0 2067.3 1340.0 2069.2 1326.1C2071.0 1312.1 2072.4 1298.1 2073.5 1284.0C2074.5 1270.0 2075.1 1248.9 2075.4 1241.8" stroke="#727272" stroke-width="3.4" stroke-opacity="0.75"/>
<path d="M1896.8 1505.8C1895.4 1500.9 1891.3 1486.1 1888.4 1476.3C1885.4 1466.6 1882.4 1456.8 1879.3 1447.1C1876.2 1437.3 1872.9 1427.6 1869.6 1418.0C1866.2 1408.3 1862.8 1398.7 1859.2 1389.1C1855.7 1379.6 1852.0 1370.0 1848.2 1360.5C1844.4 1351.0 1838.5 1336.9 1836.6 1332.2" stroke="#808080" stroke-width="2.9" stroke-opacity="0.82"/>
<path d="M2017.2 1501.5C2017.5 1493.5 2018.9 1469.5 2018.7 1453.6C2018.5 1437.6 2017.6 1421.6 2016.0 1405.7C2014.5 1389.8 2012.2 1373.9 2009.3 1358.2C2006.4 1342.6 2002.8 1326.9 1998.6 1311.5C1994.3 1296.1 1989.4 1280.9 1983.9 1265.9C1978.4 1250.9 1968.5 1229.1 1965.4 1221.7" stroke="#818181" stroke-width="2.7" stroke-opacity="0.84"/>
<path d="M2015.3 1506.6C2015.5 1503.0 2016.0 1492.5 2016.5 1485.5C2017.0 1478.5 2017.6 1471.5 2018.3 1464.5C2019.0 1457.5 2019.8 1450.5 2020.7 1443.5C2021.6 1436.5 2022.5 1429.6 2023.6 1422.6C2024.6 1415.7 2025.8 1408.7 2027.0 1401.8C2028.3 1394.9 2030.4 1384.5 2031.0 1381.1" stroke="#b9b9b9" stroke-width="2.7" stroke-opacity="0.99"/>
<path d="M1897.6 1535.0C1897.1 1531.5 1895.8 1521.1 1895.0 1514.1C1894.2 1507.1 1893.5 1500.1 1892.8 1493.1C1892.1 1486.0 1891.5 1479.0 1891.0 1472.0C1890.5 1465.0 1890.0 1457.9 1889.6 1450.9C1889.2 1443.9 1888.9 1436.8 1888.6 1429.8C1888.3 1422.8 1888.1 1412.2 1888.0 1408.7" stroke="#a8a8a8" stroke-width="3.1" stroke-opacity="0.82"/>
<path d="M1980.5 1476.4C1981.7 1469.3 1985.0 1448.0 1987.7 1433.8C1990.4 1419.7 1993.4 1405.6 1996.7 1391.6C2000.0 1377.5 2003.5 1363.6 2007.4 1349.7C2011.3 1335.8 2015.4 1322.0 2019.9 1308.3C2024.3 1294.6 2029.1 1281.0 2034.1 1267.5C2039.1 1254.0 2047.4 1234.0 2050.0 1227.3" stroke="#999999" stroke-width="2.3" stroke-opacity="0.86"/>
<path d="M2054.2 1533.7C2053.9 1530.1 2053.3 1519.2 2052.5 1512.0C2051.8 1504.8 2050.9 1497.6 2049.9 1490.4C2048.9 1483.2 2047.7 1476.0 2046.4 1468.9C2045.0 1461.7 2043.5 1454.6 2041.9 1447.6C2040.3 1440.5 2038.5 1433.4 2036.5 1426.5C2034.6 1419.5 2031.3 1409.1 2030.2 1405.6" stroke="#8e8e8e" stroke-width="2.4" stroke-opacity="0.64"/>
<path d="M1947.0 1525.8C1946.5 1517.8 1945.1 1493.6 1943.8 1477.5C1942.6 1461.4 1941.1 1445.3 1939.4 1429.3C1937.8 1413.2 1935.9 1397.2 1933.8 1381.2C1931.7 1365.1 1929.4 1349.2 1926.9 1333.2C1924.4 1317.3 1921.7 1301.3 1918.8 1285.5C1915.9 1269.6 1911.0 1245.9 1909.5 1237.9" stroke="#a1a1a1" stroke-width="2.1" stroke-opacity="0.83"/>
<path d="M2042.0 1531.5C2041.9 1526.2 2042.3 1510.3 2041.9 1499.7C2041.5 1489.1 2040.7 1478.5 2039.6 1468.0C2038.5 1457.4 2037.0 1446.9 2035.2 1436.5C2033.4 1426.0 2031.2 1415.6 2028.7 1405.4C2026.1 1395.1 2023.2 1384.8 2020.0 1374.8C2016.7 1364.7 2011.0 1349.8 2009.2 1344.8" stroke="#979797" stroke-width="2.2" stroke-opacity="0.96"/>
<path d="M1953.5 1499.5C1954.1 1493.6 1955.5 1475.7 1956.8 1463.8C1958.2 1451.9 1959.8 1440.0 1961.7 1428.2C1963.6 1416.4 1965.8 1404.6 1968.2 1392.9C1970.6 1381.2 1973.3 1369.5 1976.3 1357.9C1979.2 1346.3 1982.4 1334.7 1985.9 1323.3C1989.4 1311.8 1995.2 1294.9 1997.1 1289.2" stroke="#747474" stroke-width="3.2" stroke-opacity="0.88"/>
<path d="M2024.0 1474.3C2021.6 1466.6 2014.3 1443.3 2009.6 1427.8C2004.9 1412.3 2000.3 1396.8 1995.8 1381.2C1991.3 1365.6 1986.8 1350.0 1982.5 1334.4C1978.2 1318.8 1974.0 1303.1 1969.8 1287.4C1965.7 1271.8 1961.6 1256.1 1957.7 1240.3C1953.8 1224.6 1948.1 1200.9 1946.1 1193.1" stroke="#6e6e6e" stroke-width="3.6" stroke-opacity="0.85"/>
<path d="M2036.2 1528.8C2037.6 1525.4 2041.7 1515.3 2044.4 1508.5C2047.2 1501.8 2049.9 1495.0 2052.7 1488.3C2055.4 1481.5 2058.2 1474.8 2060.9 1468.0C2063.7 1461.3 2066.4 1454.5 2069.2 1447.8C2072.0 1441.0 2074.7 1434.3 2077.5 1427.5C2080.3 1420.8 2084.4 1410.7 2085.8 1407.3" stroke="#b9b9b9" stroke-width="3.4" stroke-opacity="0.89"/>
<path d="M2039.5 1526.3C2038.2 1518.3 2035.5 1494.0 2031.7 1478.3C2028.0 1462.5 2023.0 1446.9 2017.0 1431.9C2010.9 1416.9 2003.7 1402.2 1995.6 1388.2C1987.4 1374.3 1978.1 1360.8 1968.0 1348.2C1957.9 1335.6 1946.7 1323.6 1934.8 1312.6C1923.0 1301.6 1903.1 1287.3 1896.8 1282.3" stroke="#767676" stroke-width="3.5" stroke-opacity="0.68"/>
<path d="M1952.4 1482.1C1954.3 1475.3 1961.1 1455.0 1964.2 1441.2C1967.2 1427.4 1969.4 1413.2 1970.7 1399.1C1972.0 1385.0 1972.4 1370.7 1972.0 1356.6C1971.5 1342.4 1970.1 1328.2 1967.9 1314.2C1965.6 1300.2 1962.5 1286.3 1958.5 1272.7C1954.6 1259.1 1946.5 1239.3 1944.1 1232.6" stroke="#6c6c6c" stroke-width="2.2" stroke-opacity="0.84"/>
<path d="M1961.3 1517.9C1957.1 1511.0 1944.5 1490.4 1936.2 1476.7C1927.8 1462.9 1919.5 1449.1 1911.2 1435.3C1903.0 1421.5 1894.7 1407.7 1886.5 1393.9C1878.3 1380.0 1870.1 1366.2 1862.0 1352.3C1853.8 1338.4 1845.7 1324.5 1837.7 1310.6C1829.6 1296.7 1817.6 1275.8 1813.6 1268.8" stroke="#939393" stroke-width="2.0" stroke-opacity="0.92"/>
<path d="M2071.8 1522.6C2072.8 1518.9 2075.6 1507.8 2077.8 1500.5C2080.0 1493.3 2082.4 1486.0 2085.0 1478.9C2087.6 1471.8 2090.4 1464.7 2093.5 1457.7C2096.5 1450.7 2099.7 1443.8 2103.1 1437.0C2106.5 1430.2 2110.1 1423.5 2113.9 1416.9C2117.7 1410.3 2123.9 1400.7 2125.9 1397.5" stroke="#7d7d7d" stroke-width="3.0" stroke-opacity="0.72"/>
<path d="M1954.6 1529.4C1954.0 1524.1 1952.2 1508.4 1950.9 1497.9C1949.7 1487.4 1948.4 1477.0 1947.2 1466.5C1945.9 1456.0 1944.6 1445.5 1943.3 1435.1C1942.0 1424.6 1940.7 1414.1 1939.4 1403.7C1938.0 1393.2 1936.7 1382.7 1935.3 1372.3C1934.0 1361.8 1931.9 1346.1 1931.2 1340.9" stroke="#919191" stroke-width="3.7" stroke-opacity="0.82"/>
<path d="M1971.5 1482.6C1971.9 1478.3 1973.5 1465.3 1973.8 1456.6C1974.1 1447.9 1973.9 1439.2 1973.3 1430.5C1972.6 1421.9 1971.5 1413.2 1969.9 1404.6C1968.3 1396.1 1966.2 1387.6 1963.7 1379.3C1961.1 1371.0 1958.2 1362.8 1954.7 1354.8C1951.3 1346.8 1945.1 1335.3 1943.2 1331.4" stroke="#717171" stroke-width="2.6" stroke-opacity="0.61"/>
<path d="M1939.4 1502.1C1938.7 1498.8 1936.6 1489.0 1935.4 1482.5C1934.3 1475.9 1933.3 1469.3 1932.5 1462.7C1931.7 1456.0 1931.1 1449.4 1930.6 1442.7C1930.2 1436.1 1929.9 1429.4 1929.9 1422.7C1929.8 1416.1 1929.9 1409.4 1930.2 1402.7C1930.4 1396.1 1931.3 1386.1 1931.5 1382.8" stroke="#999999" stroke-width="2.9" stroke-opacity="0.98"/>
<path d="M2000.9 1528.7C2000.9 1524.8 2000.7 1513.1 2000.6 1505.3C2000.5 1497.5 2000.4 1489.7 2000.4 1481.9C2000.3 1474.1 2000.2 1466.3 2000.2 1458.5C2000.1 1450.7 2000.1 1442.9 2000.1 1435.1C2000.1 1427.3 2000.0 1419.5 2000.0 1411.7C2000.0 1403.9 2000.0 1392.2 2000.0 1388.3" stroke="#bebebe" stroke-width="3.2" stroke-opacity="0.85"/>
<path d="M1901.4 1471.7C1900.0 1464.1 1896.3 1441.4 1893.0 1426.4C1889.7 1411.4 1885.9 1396.5 1881.6 1381.8C1877.3 1367.1 1872.5 1352.5 1867.2 1338.1C1861.9 1323.8 1856.1 1309.5 1849.8 1295.5C1843.5 1281.5 1836.8 1267.7 1829.6 1254.2C1822.3 1240.7 1810.4 1221.0 1806.5 1214.4" stroke="#7b7b7b" stroke-width="3.6" stroke-opacity="0.66"/>
<path d="M2033.2 1499.5C2035.8 1496.3 2043.8 1486.5 2049.0 1479.9C2054.1 1473.2 2059.1 1466.5 2064.0 1459.6C2068.8 1452.8 2073.6 1445.9 2078.2 1438.8C2082.8 1431.8 2087.3 1424.7 2091.6 1417.5C2096.0 1410.3 2100.2 1403.1 2104.3 1395.7C2108.3 1388.4 2114.1 1377.2 2116.1 1373.5" stroke="#878787" stroke-width="2.0" stroke-opacity="0.85"/>
<path d="M2031.2 1523.1C2032.4 1520.1 2036.0 1511.0 2038.6 1505.1C2041.3 1499.2 2044.0 1493.3 2047.0 1487.5C2049.9 1481.7 2052.9 1475.9 2056.1 1470.3C2059.3 1464.6 2062.6 1459.1 2066.0 1453.6C2069.5 1448.1 2073.1 1442.6 2076.8 1437.3C2080.5 1432.0 2086.3 1424.2 2088.2 1421.6" stroke="#b5b5b5" stroke-width="3.5" stroke-opacity="0.98"/>
<path d="M2001.0 1479.5C2002.7 1471.7 2006.7 1447.9 2011.2 1432.6C2015.7 1417.3 2021.5 1402.2 2028.3 1387.7C2035.0 1373.3 2043.0 1359.2 2051.8 1345.9C2060.7 1332.6 2070.6 1319.8 2081.4 1308.0C2092.1 1296.2 2103.8 1285.0 2116.2 1274.9C2128.6 1264.8 2149.0 1252.0 2155.5 1247.4" stroke="#848484" stroke-width="2.2" stroke-opacity="0.86"/>
<path d="M1954.1 1485.0C1953.9 1477.3 1952.1 1453.9 1952.7 1438.5C1953.3 1423.0 1955.0 1407.4 1957.7 1392.1C1960.3 1376.9 1964.1 1361.6 1968.9 1346.9C1973.6 1332.1 1979.4 1317.6 1986.1 1303.6C1992.8 1289.6 2000.5 1276.0 2009.1 1263.1C2017.6 1250.2 2032.7 1232.2 2037.4 1226.1" stroke="#878787" stroke-width="2.7" stroke-opacity="0.75"/>
<path d="M1979.5 1510.7C1980.3 1504.7 1982.6 1486.7 1984.1 1474.7C1985.6 1462.6 1986.9 1450.6 1988.3 1438.6C1989.6 1426.5 1990.9 1414.5 1992.1 1402.4C1993.3 1390.4 1994.4 1378.3 1995.5 1366.2C1996.5 1354.2 1997.5 1342.1 1998.5 1330.0C1999.4 1317.9 2000.7 1299.8 2001.1 1293.8" stroke="#6c6c6c" stroke-width="2.4" stroke-opacity="0.87"/>
<path d="M1904.9 1471.1C1904.5 1464.2 1903.2 1443.8 1902.8 1430.1C1902.4 1416.4 1902.3 1402.8 1902.6 1389.1C1902.9 1375.4 1903.5 1361.8 1904.4 1348.1C1905.3 1334.5 1906.5 1320.8 1908.0 1307.3C1909.6 1293.7 1911.4 1280.1 1913.6 1266.6C1915.8 1253.1 1919.9 1233.0 1921.1 1226.3" stroke="#6c6c6c" stroke-width="2.1" stroke-opacity="0.75"/>
<path d="M1956.2 1471.5C1955.9 1465.0 1954.6 1445.5 1954.5 1432.5C1954.4 1419.4 1954.8 1406.4 1955.6 1393.4C1956.4 1380.4 1957.6 1367.4 1959.3 1354.5C1961.0 1341.6 1963.2 1328.7 1965.8 1316.0C1968.4 1303.2 1971.4 1290.5 1974.9 1278.0C1978.4 1265.4 1984.7 1246.9 1986.6 1240.7" stroke="#b0b0b0" stroke-width="3.0" stroke-opacity="0.84"/>
<path d="M1964.1 1496.4C1964.4 1489.8 1965.8 1469.8 1965.9 1456.5C1966.0 1443.2 1965.6 1429.9 1964.8 1416.6C1963.9 1403.3 1962.6 1390.1 1960.7 1376.9C1958.9 1363.7 1956.6 1350.6 1953.8 1337.5C1951.0 1324.5 1947.7 1311.6 1944.0 1298.8C1940.3 1286.1 1933.5 1267.2 1931.4 1260.9" stroke="#a2a2a2" stroke-width="2.7" stroke-opacity="0.97"/>
<path d="M1948.0 1508.6C1947.8 1503.7 1947.3 1489.0 1946.7 1479.2C1946.2 1469.4 1945.5 1459.6 1944.6 1449.8C1943.7 1440.1 1942.7 1430.3 1941.5 1420.5C1940.3 1410.8 1939.0 1401.1 1937.5 1391.4C1936.0 1381.7 1934.3 1372.0 1932.5 1362.3C1930.7 1352.7 1927.6 1338.3 1926.7 1333.5" stroke="#8e8e8e" stroke-width="2.1" stroke-opacity="0.90"/>
<path d="M1915.7 1532.0C1914.2 1524.8 1909.5 1503.2 1906.9 1488.7C1904.3 1474.2 1902.0 1459.7 1900.0 1445.1C1898.0 1430.5 1896.3 1415.9 1894.9 1401.2C1893.6 1386.6 1892.5 1371.9 1891.8 1357.2C1891.1 1342.5 1890.7 1327.8 1890.6 1313.1C1890.5 1298.4 1891.2 1276.3 1891.3 1268.9" stroke="#838383" stroke-width="3.5" stroke-opacity="0.85"/>
<path d="M1963.8 1514.0C1963.9 1506.3 1964.0 1483.3 1964.8 1467.9C1965.5 1452.6 1966.6 1437.3 1968.1 1422.0C1969.6 1406.7 1971.6 1391.4 1973.9 1376.2C1976.2 1361.1 1978.9 1345.9 1982.0 1330.9C1985.1 1315.8 1988.6 1300.9 1992.5 1286.0C1996.4 1271.1 2003.1 1249.1 2005.3 1241.7" stroke="#717171" stroke-width="3.0" stroke-opacity="0.96"/>
<path d="M1957.8 1478.6C1955.9 1472.7 1949.9 1454.8 1946.2 1442.8C1942.5 1430.8 1939.0 1418.7 1935.6 1406.6C1932.3 1394.5 1929.1 1382.4 1926.1 1370.2C1923.0 1358.0 1920.2 1345.8 1917.5 1333.5C1914.8 1321.2 1912.3 1308.9 1910.0 1296.6C1907.7 1284.2 1904.6 1265.6 1903.5 1259.4" stroke="#909090" stroke-width="2.2" stroke-opacity="0.89"/>
<path d="M2003.2 1512.8C2004.2 1509.3 2006.6 1498.6 2009.2 1491.8C2011.7 1485.0 2014.8 1478.3 2018.4 1472.0C2022.0 1465.7 2026.2 1459.6 2030.7 1454.0C2035.3 1448.3 2040.3 1443.0 2045.7 1438.1C2051.1 1433.2 2057.0 1428.8 2063.1 1424.8C2069.2 1420.9 2079.1 1416.2 2082.3 1414.5" stroke="#676767" stroke-width="3.3" stroke-opacity="0.72"/>
<path d="M1987.8 1507.9C1988.7 1501.3 1992.2 1481.6 1993.0 1468.3C1993.7 1455.1 1993.6 1441.7 1992.5 1428.5C1991.4 1415.3 1989.3 1402.0 1986.4 1389.1C1983.4 1376.2 1979.5 1363.3 1974.8 1351.0C1970.0 1338.6 1964.4 1326.4 1957.9 1314.8C1951.5 1303.3 1939.8 1287.0 1936.2 1281.5" stroke="#8a8a8a" stroke-width="2.5" stroke-opacity="0.60"/>
<path d="M2029.2 1506.1C2030.0 1502.3 2032.6 1491.0 2034.1 1483.4C2035.6 1475.8 2036.9 1468.1 2038.1 1460.5C2039.2 1452.8 2040.2 1445.1 2041.0 1437.4C2041.8 1429.7 2042.5 1421.9 2043.0 1414.2C2043.4 1406.5 2043.8 1398.7 2043.9 1391.0C2044.1 1383.2 2043.9 1371.6 2043.9 1367.7" stroke="#6b6b6b" stroke-width="2.8" stroke-opacity="0.66"/>
<path d="M2070.9 1514.8C2070.7 1509.7 2069.7 1494.3 2069.4 1484.0C2069.0 1473.7 2068.8 1463.4 2068.8 1453.2C2068.8 1442.9 2068.9 1432.6 2069.2 1422.3C2069.4 1412.1 2069.9 1401.8 2070.5 1391.5C2071.1 1381.3 2071.8 1371.0 2072.7 1360.8C2073.6 1350.6 2075.4 1335.2 2075.9 1330.1" stroke="#a1a1a1" stroke-width="2.8" stroke-opacity="0.83"/>
<path d="M2056.4 1480.2C2057.4 1474.4 2060.0 1456.9 2062.4 1445.4C2064.9 1433.8 2067.8 1422.4 2071.1 1411.1C2074.4 1399.8 2078.2 1388.7 2082.4 1377.7C2086.5 1366.7 2091.2 1355.8 2096.2 1345.2C2101.2 1334.5 2106.6 1324.1 2112.5 1313.8C2118.3 1303.6 2128.0 1288.9 2131.1 1283.9" stroke="#8e8e8e" stroke-width="3.0" stroke-opacity="0.70"/>
<path d="M1950.5 1513.2C1951.1 1505.7 1952.4 1483.1 1954.0 1468.2C1955.7 1453.3 1957.9 1438.3 1960.5 1423.6C1963.2 1408.8 1966.4 1394.0 1970.0 1379.4C1973.6 1364.8 1977.8 1350.3 1982.4 1336.0C1986.9 1321.7 1992.0 1307.5 1997.5 1293.5C2003.1 1279.6 2012.5 1259.0 2015.5 1252.1" stroke="#737373" stroke-width="3.7" stroke-opacity="0.65"/>
<path d="M2031.3 1493.5C2033.9 1486.5 2041.4 1465.3 2047.1 1451.4C2052.8 1437.5 2058.9 1423.7 2065.4 1410.1C2071.8 1396.6 2078.7 1383.2 2085.9 1370.0C2093.1 1356.9 2100.7 1343.9 2108.7 1331.1C2116.6 1318.4 2125.0 1305.9 2133.6 1293.6C2142.3 1281.3 2156.2 1263.6 2160.7 1257.6" stroke="#818181" stroke-width="2.3" stroke-opacity="0.73"/>
<path d="M2030.6 1477.0C2031.6 1472.4 2035.3 1458.8 2036.9 1449.5C2038.6 1440.3 2039.7 1430.9 2040.3 1421.5C2040.9 1412.1 2041.1 1402.7 2040.7 1393.3C2040.3 1383.9 2039.4 1374.5 2038.0 1365.2C2036.6 1355.9 2034.7 1346.7 2032.3 1337.6C2030.0 1328.5 2025.2 1315.2 2023.7 1310.7" stroke="#888888" stroke-width="2.1" stroke-opacity="0.72"/>
<path d="M1926.9 1536.0C1926.2 1530.4 1924.8 1513.2 1922.5 1501.9C1920.3 1490.7 1917.3 1479.6 1913.6 1468.8C1909.8 1458.0 1905.3 1447.3 1900.1 1437.1C1894.9 1427.0 1889.0 1417.0 1882.5 1407.6C1876.0 1398.3 1868.7 1389.2 1861.0 1380.8C1853.2 1372.4 1840.1 1361.2 1836.0 1357.2" stroke="#686868" stroke-width="3.7" stroke-opacity="0.82"/>
<path d="M2010.3 1517.7C2010.4 1514.3 2010.3 1503.9 2010.6 1497.0C2010.9 1490.1 2011.4 1483.2 2012.1 1476.3C2012.8 1469.4 2013.7 1462.6 2014.7 1455.7C2015.8 1448.9 2017.1 1442.1 2018.5 1435.4C2020.0 1428.6 2021.7 1421.9 2023.5 1415.2C2025.3 1408.6 2028.6 1398.7 2029.6 1395.4" stroke="#a4a4a4" stroke-width="3.0" stroke-opacity="0.63"/>
<path d="M2069.7 1508.0C2069.8 1502.0 2070.0 1484.1 2070.3 1472.2C2070.5 1460.3 2071.0 1448.4 2071.5 1436.5C2072.0 1424.5 2072.7 1412.6 2073.5 1400.7C2074.2 1388.8 2075.1 1376.9 2076.1 1365.1C2077.2 1353.2 2078.3 1341.3 2079.6 1329.4C2080.8 1317.6 2083.0 1299.8 2083.7 1293.9" stroke="#a2a2a2" stroke-width="3.8" stroke-opacity="0.65"/>
<path d="M2011.2 1482.7C2013.3 1476.2 2018.9 1456.5 2024.0 1443.9C2029.1 1431.3 2035.0 1418.9 2041.7 1407.0C2048.4 1395.2 2055.9 1383.7 2064.0 1372.8C2072.1 1361.9 2081.0 1351.4 2090.5 1341.7C2100.0 1331.9 2110.1 1322.7 2120.8 1314.2C2131.4 1305.8 2148.7 1294.8 2154.3 1290.9" stroke="#bdbdbd" stroke-width="2.8" stroke-opacity="0.78"/>
<path d="M2057.4 1510.2C2057.1 1503.2 2056.2 1482.3 2055.6 1468.3C2055.0 1454.4 2054.4 1440.4 2053.8 1426.5C2053.2 1412.5 2052.6 1398.6 2052.0 1384.6C2051.4 1370.6 2050.8 1356.7 2050.2 1342.7C2049.6 1328.8 2049.0 1314.8 2048.4 1300.9C2047.8 1286.9 2046.9 1266.0 2046.6 1259.0" stroke="#b9b9b9" stroke-width="2.2" stroke-opacity="0.84"/>
<path d="M1975.9 1536.5C1975.7 1532.2 1975.2 1519.4 1974.3 1510.8C1973.5 1502.3 1972.4 1493.8 1970.9 1485.3C1969.5 1476.8 1967.7 1468.4 1965.7 1460.1C1963.7 1451.8 1961.3 1443.5 1958.7 1435.3C1956.0 1427.2 1953.1 1419.1 1949.9 1411.1C1946.7 1403.2 1941.1 1391.5 1939.4 1387.6" stroke="#909090" stroke-width="3.1" stroke-opacity="0.94"/>
<path d="M1923.9 1518.9C1924.6 1514.6 1926.4 1501.6 1928.1 1492.9C1929.7 1484.3 1931.6 1475.7 1933.7 1467.2C1935.8 1458.7 1938.1 1450.2 1940.6 1441.9C1943.2 1433.5 1946.0 1425.1 1949.0 1416.9C1952.0 1408.7 1955.2 1400.5 1958.6 1392.4C1962.1 1384.4 1967.8 1372.5 1969.6 1368.5" stroke="#6f6f6f" stroke-width="2.4" stroke-opacity="0.61"/>
<path d="M1997.2 1503.7C1998.0 1497.9 2000.9 1480.7 2001.8 1469.1C2002.6 1457.6 2002.8 1445.9 2002.4 1434.3C2001.9 1422.7 2000.8 1411.1 1999.0 1399.6C1997.2 1388.2 1994.8 1376.7 1991.7 1365.6C1988.6 1354.4 1984.9 1343.3 1980.6 1332.5C1976.3 1321.8 1968.3 1306.2 1965.8 1301.0" stroke="#8f8f8f" stroke-width="2.2" stroke-opacity="0.77"/>
<path d="M1968.4 1538.3C1970.1 1531.5 1974.7 1510.8 1978.6 1497.3C1982.5 1483.8 1986.9 1470.3 1991.7 1457.1C1996.6 1443.8 2001.9 1430.7 2007.6 1417.9C2013.4 1405.0 2019.6 1392.3 2026.2 1379.9C2032.8 1367.4 2039.9 1355.2 2047.4 1343.3C2054.9 1331.3 2067.2 1314.1 2071.2 1308.2" stroke="#808080" stroke-width="3.7" stroke-opacity="0.77"/>
<path d="M1944.9 1527.5C1942.7 1520.0 1936.1 1497.2 1931.2 1482.3C1926.4 1467.3 1921.2 1452.4 1915.7 1437.6C1910.3 1422.8 1904.5 1408.1 1898.4 1393.5C1892.4 1379.0 1886.0 1364.6 1879.4 1350.3C1872.8 1336.0 1865.8 1321.8 1858.6 1307.8C1851.4 1293.8 1839.9 1273.1 1836.2 1266.2" stroke="#737373" stroke-width="2.3" stroke-opacity="0.80"/>
<path d="M1895.2 1525.4C1894.5 1522.2 1892.7 1512.4 1890.8 1506.1C1889.0 1499.9 1886.7 1493.6 1884.1 1487.6C1881.4 1481.6 1878.4 1475.8 1875.1 1470.1C1871.7 1464.5 1867.9 1459.0 1863.9 1453.9C1859.9 1448.7 1855.5 1443.8 1850.8 1439.2C1846.1 1434.6 1838.4 1428.4 1836.0 1426.2" stroke="#737373" stroke-width="2.3" stroke-opacity="0.67"/>
<path d="M1984.8 1516.6C1984.5 1511.4 1983.5 1495.6 1983.0 1485.1C1982.5 1474.6 1982.1 1464.1 1981.8 1453.6C1981.5 1443.1 1981.2 1432.5 1981.1 1422.0C1981.0 1411.5 1981.0 1401.0 1981.1 1390.5C1981.1 1379.9 1981.3 1369.4 1981.6 1358.9C1981.8 1348.4 1982.5 1332.6 1982.7 1327.4" stroke="#7c7c7c" stroke-width="3.2" stroke-opacity="0.83"/>
<path d="M2026.6 1505.3C2026.1 1498.3 2024.6 1477.6 2023.9 1463.7C2023.1 1449.9 2022.6 1436.0 2022.1 1422.2C2021.7 1408.3 2021.4 1394.4 2021.3 1380.5C2021.2 1366.7 2021.2 1352.8 2021.4 1338.9C2021.6 1325.1 2022.0 1311.2 2022.5 1297.3C2023.0 1283.5 2024.2 1262.7 2024.5 1255.8" stroke="#8f8f8f" stroke-width="3.4" stroke-opacity="0.89"/>
<path d="M2052.9 1507.1C2054.6 1501.9 2059.9 1486.3 2063.4 1475.9C2066.9 1465.4 2070.4 1455.0 2074.0 1444.6C2077.5 1434.2 2081.0 1423.7 2084.6 1413.3C2088.1 1402.9 2091.7 1392.5 2095.2 1382.1C2098.8 1371.7 2102.3 1361.3 2105.9 1350.8C2109.5 1340.4 2114.8 1324.8 2116.6 1319.6" stroke="#848484" stroke-width="3.6" stroke-opacity="0.79"/>
<path d="M1946.2 1475.2C1945.4 1469.0 1943.5 1450.2 1941.3 1437.8C1939.0 1425.5 1936.1 1413.1 1932.6 1401.1C1929.1 1389.0 1924.9 1377.1 1920.2 1365.5C1915.5 1353.8 1910.1 1342.4 1904.2 1331.3C1898.3 1320.2 1891.8 1309.3 1884.8 1298.9C1877.8 1288.5 1866.0 1273.7 1862.2 1268.7" stroke="#b3b3b3" stroke-width="2.4" stroke-opacity="0.86"/>
<path d="M1973.6 1505.2C1974.7 1501.2 1977.9 1489.3 1980.0 1481.3C1982.1 1473.4 1984.1 1465.4 1986.0 1457.4C1987.9 1449.3 1989.7 1441.3 1991.4 1433.3C1993.1 1425.2 1994.8 1417.1 1996.4 1409.1C1997.9 1401.0 1999.4 1392.9 2000.8 1384.8C2002.2 1376.7 2004.1 1364.5 2004.8 1360.4" stroke="#979797" stroke-width="2.0" stroke-opacity="0.77"/>
<path d="M1948.1 1521.0C1947.1 1513.0 1943.8 1489.0 1941.9 1472.9C1940.1 1456.8 1938.4 1440.7 1937.0 1424.6C1935.5 1408.5 1934.3 1392.4 1933.3 1376.2C1932.3 1360.1 1931.4 1343.9 1930.8 1327.8C1930.2 1311.6 1929.8 1295.4 1929.6 1279.3C1929.5 1263.1 1929.7 1238.8 1929.7 1230.7" stroke="#919191" stroke-width="3.6" stroke-opacity="0.66"/>
<path d="M2065.1 1489.2C2065.0 1482.5 2065.0 1462.4 2064.8 1449.1C2064.7 1435.7 2064.5 1422.3 2064.3 1409.0C2064.1 1395.6 2063.8 1382.2 2063.5 1368.9C2063.2 1355.5 2062.9 1342.1 2062.5 1328.8C2062.1 1315.4 2061.6 1302.1 2061.1 1288.7C2060.6 1275.3 2059.7 1255.3 2059.5 1248.6" stroke="#7b7b7b" stroke-width="3.7" stroke-opacity="0.92"/>
<path d="M1968.6 1516.2C1966.2 1509.8 1959.5 1490.4 1953.9 1478.0C1948.3 1465.6 1941.9 1453.4 1934.8 1441.8C1927.8 1430.1 1920.1 1418.8 1911.7 1408.0C1903.4 1397.2 1894.4 1386.9 1884.9 1377.1C1875.3 1367.4 1865.2 1358.1 1854.6 1349.5C1844.0 1341.0 1826.9 1329.6 1821.4 1325.6" stroke="#848484" stroke-width="3.3" stroke-opacity="0.95"/>
<path d="M1903.2 1527.5C1903.0 1521.1 1902.5 1501.9 1902.1 1489.1C1901.7 1476.3 1901.3 1463.5 1900.8 1450.7C1900.3 1438.0 1899.8 1425.2 1899.2 1412.4C1898.6 1399.6 1897.9 1386.8 1897.3 1374.1C1896.6 1361.3 1895.8 1348.5 1895.1 1335.7C1894.3 1323.0 1893.0 1303.8 1892.6 1297.4" stroke="#bcbcbc" stroke-width="2.5" stroke-opacity="0.60"/>
<path d="M1921.4 1499.8C1920.9 1493.8 1919.3 1476.0 1918.3 1464.2C1917.4 1452.3 1916.4 1440.4 1915.5 1428.5C1914.6 1416.6 1913.7 1404.8 1912.8 1392.9C1911.9 1381.0 1911.1 1369.1 1910.3 1357.2C1909.5 1345.3 1908.7 1333.4 1907.9 1321.5C1907.1 1309.6 1906.1 1291.8 1905.7 1285.9" stroke="#7e7e7e" stroke-width="2.9" stroke-opacity="0.75"/>
<path d="M2069.9 1520.6C2069.7 1516.2 2068.7 1502.8 2068.8 1493.9C2068.9 1485.0 2069.4 1476.1 2070.4 1467.2C2071.4 1458.4 2072.8 1449.6 2074.7 1440.9C2076.6 1432.2 2078.9 1423.5 2081.6 1415.1C2084.4 1406.6 2087.6 1398.3 2091.1 1390.1C2094.7 1382.0 2101.1 1370.2 2103.1 1366.2" stroke="#a7a7a7" stroke-width="2.7" stroke-opacity="0.76"/>
<path d="M1993.9 1538.5C1994.8 1534.9 1997.5 1524.4 1999.3 1517.4C2001.1 1510.3 2003.0 1503.3 2004.9 1496.3C2006.7 1489.3 2008.7 1482.3 2010.6 1475.3C2012.5 1468.3 2014.5 1461.3 2016.5 1454.3C2018.5 1447.3 2020.5 1440.3 2022.6 1433.3C2024.6 1426.4 2027.7 1415.9 2028.8 1412.5" stroke="#737373" stroke-width="3.2" stroke-opacity="0.84"/>
<path d="M1911.7 1521.1C1909.9 1513.8 1904.3 1491.7 1901.0 1476.9C1897.7 1462.1 1894.6 1447.3 1891.8 1432.4C1889.0 1417.5 1886.4 1402.6 1884.0 1387.6C1881.6 1372.7 1879.5 1357.7 1877.7 1342.6C1875.8 1327.6 1874.2 1312.5 1872.8 1297.4C1871.4 1282.3 1869.9 1259.7 1869.3 1252.1" stroke="#7a7a7a" stroke-width="3.7" stroke-opacity="0.96"/>
<path d="M2030.3 1531.0C2030.4 1525.3 2030.8 1508.5 2030.8 1497.2C2030.9 1486.0 2030.7 1474.7 2030.5 1463.5C2030.2 1452.2 2029.8 1441.0 2029.2 1429.7C2028.7 1418.5 2028.0 1407.3 2027.2 1396.0C2026.3 1384.8 2025.3 1373.6 2024.2 1362.4C2023.1 1351.2 2021.0 1334.4 2020.4 1328.9" stroke="#858585" stroke-width="2.5" stroke-opacity="0.78"/>
<path d="M1907.6 1517.2C1907.4 1513.7 1906.4 1503.1 1906.2 1496.0C1905.9 1489.0 1905.8 1481.9 1905.9 1474.8C1906.0 1467.8 1906.3 1460.7 1906.8 1453.6C1907.3 1446.6 1908.0 1439.6 1908.9 1432.5C1909.8 1425.5 1910.9 1418.5 1912.2 1411.6C1913.4 1404.6 1915.8 1394.3 1916.5 1390.8" stroke="#6d6d6d" stroke-width="2.3" stroke-opacity="0.85"/>
<path d="M1970.0 1539.2C1970.2 1535.6 1971.0 1524.8 1971.3 1517.6C1971.6 1510.4 1971.7 1503.2 1971.6 1496.0C1971.5 1488.8 1971.3 1481.6 1970.9 1474.4C1970.5 1467.2 1970.0 1460.0 1969.2 1452.8C1968.5 1445.6 1967.6 1438.5 1966.6 1431.3C1965.6 1424.2 1963.6 1413.6 1963.0 1410.0" stroke="#6e6e6e" stroke-width="3.2" stroke-opacity="0.78"/>
<path d="M2049.3 1474.1C2050.1 1469.7 2052.3 1456.5 2054.2 1447.8C2056.0 1439.1 2058.1 1430.5 2060.5 1421.9C2062.8 1413.3 2065.4 1404.7 2068.2 1396.3C2071.0 1387.8 2074.0 1379.5 2077.2 1371.2C2080.5 1362.9 2083.9 1354.7 2087.6 1346.6C2091.3 1338.5 2097.4 1326.6 2099.4 1322.6" stroke="#a8a8a8" stroke-width="2.2" stroke-opacity="0.80"/>
<path d="M2051.2 1498.9C2053.7 1491.3 2060.5 1468.3 2066.3 1453.4C2072.0 1438.5 2078.6 1423.9 2085.8 1409.7C2093.1 1395.5 2101.1 1381.5 2109.7 1368.1C2118.4 1354.7 2127.7 1341.7 2137.7 1329.2C2147.7 1316.8 2158.3 1304.8 2169.5 1293.4C2180.7 1282.0 2198.9 1266.4 2204.7 1260.9" stroke="#696969" stroke-width="2.6" stroke-opacity="0.75"/>
<path d="M2001.8 1511.3C2003.1 1504.5 2006.6 1484.0 2009.7 1470.5C2012.7 1457.0 2016.2 1443.6 2020.2 1430.3C2024.1 1417.0 2028.5 1403.8 2033.3 1390.8C2038.0 1377.8 2043.2 1365.0 2048.9 1352.3C2054.5 1339.6 2060.5 1327.1 2066.9 1314.8C2073.3 1302.6 2083.9 1284.7 2087.4 1278.6" stroke="#676767" stroke-width="2.1" stroke-opacity="0.63"/>
<path d="M2005.9 1489.9C2005.9 1484.5 2005.8 1468.1 2005.6 1457.1C2005.4 1446.2 2005.2 1435.3 2004.8 1424.3C2004.5 1413.4 2004.1 1402.5 2003.6 1391.6C2003.1 1380.7 2002.5 1369.7 2001.8 1358.8C2001.2 1347.9 2000.4 1337.0 1999.6 1326.1C1998.8 1315.2 1997.4 1298.9 1996.9 1293.4" stroke="#b7b7b7" stroke-width="3.0" stroke-opacity="0.76"/>
<path d="M1977.5 1502.4C1979.1 1494.2 1983.6 1469.7 1986.9 1453.4C1990.1 1437.1 1993.4 1420.8 1996.9 1404.5C2000.4 1388.2 2004.0 1372.0 2007.7 1355.8C2011.5 1339.6 2015.3 1323.4 2019.3 1307.3C2023.3 1291.1 2027.4 1275.0 2031.6 1258.9C2035.8 1242.8 2042.5 1218.8 2044.7 1210.7" stroke="#828282" stroke-width="2.7" stroke-opacity="0.91"/>
<path d="M2061.9 1535.8C2061.1 1527.5 2058.1 1502.7 2057.3 1486.1C2056.4 1469.5 2056.3 1452.8 2056.8 1436.2C2057.4 1419.6 2058.6 1403.0 2060.6 1386.5C2062.5 1369.9 2065.1 1353.5 2068.5 1337.2C2071.8 1320.9 2075.8 1304.7 2080.4 1288.7C2085.1 1272.8 2093.7 1249.3 2096.4 1241.5" stroke="#939393" stroke-width="2.6" stroke-opacity="0.67"/>
<path d="M2069.1 1470.7C2069.2 1466.6 2069.6 1454.3 2069.5 1446.2C2069.5 1438.0 2069.2 1429.8 2068.7 1421.7C2068.1 1413.5 2067.4 1405.4 2066.5 1397.3C2065.5 1389.2 2064.4 1381.1 2063.0 1373.0C2061.6 1365.0 2060.0 1357.0 2058.2 1349.0C2056.4 1341.0 2053.2 1329.2 2052.2 1325.2" stroke="#6a6a6a" stroke-width="2.5" stroke-opacity="0.61"/>
<path d="M2039.8 1516.1C2040.9 1510.1 2043.7 1491.9 2046.4 1480.0C2049.0 1468.0 2052.2 1456.2 2055.7 1444.5C2059.3 1432.8 2063.4 1421.2 2067.8 1409.8C2072.3 1398.4 2077.3 1387.2 2082.6 1376.2C2088.0 1365.2 2093.8 1354.3 2100.0 1343.8C2106.2 1333.3 2116.5 1318.1 2119.8 1312.9" stroke="#979797" stroke-width="2.2" stroke-opacity="0.73"/>
<path d="M1956.5 1529.3C1956.8 1526.1 1957.7 1516.4 1958.2 1510.0C1958.8 1503.6 1959.4 1497.1 1960.0 1490.7C1960.6 1484.3 1961.2 1477.8 1961.8 1471.4C1962.5 1465.0 1963.1 1458.5 1963.7 1452.1C1964.4 1445.7 1965.0 1439.3 1965.7 1432.8C1966.4 1426.4 1967.4 1416.8 1967.7 1413.6" stroke="#858585" stroke-width="3.4" stroke-opacity="0.69"/>
<path d="M1975.7 1472.3C1976.6 1464.1 1979.1 1439.4 1981.1 1423.1C1983.1 1406.7 1985.4 1390.3 1987.9 1374.0C1990.5 1357.7 1993.3 1341.5 1996.3 1325.2C1999.3 1309.0 2002.6 1292.8 2006.1 1276.7C2009.6 1260.6 2013.3 1244.5 2017.3 1228.5C2021.3 1212.5 2027.9 1188.6 2030.0 1180.7" stroke="#6e6e6e" stroke-width="3.4" stroke-opacity="0.96"/>
<path d="M1998.5 1534.5C1998.3 1529.3 1997.4 1513.6 1997.3 1503.2C1997.2 1492.8 1997.3 1482.3 1997.7 1471.9C1998.1 1461.4 1998.7 1451.0 1999.6 1440.6C2000.5 1430.2 2001.6 1419.8 2003.0 1409.4C2004.4 1399.1 2006.1 1388.7 2008.0 1378.5C2009.9 1368.2 2013.4 1352.9 2014.4 1347.8" stroke="#7a7a7a" stroke-width="3.3" stroke-opacity="0.80"/>
<path d="M1896.9 1491.3C1896.7 1484.4 1896.9 1463.7 1895.9 1449.9C1894.8 1436.2 1893.0 1422.4 1890.5 1408.8C1888.0 1395.3 1884.8 1381.7 1880.9 1368.5C1877.0 1355.3 1872.3 1342.2 1867.1 1329.5C1861.8 1316.7 1855.8 1304.2 1849.2 1292.1C1842.6 1280.0 1831.1 1262.7 1827.5 1256.8" stroke="#979797" stroke-width="3.2" stroke-opacity="0.64"/>
<path d="M1980.7 1518.1C1981.5 1511.2 1983.7 1490.4 1985.2 1476.6C1986.7 1462.7 1988.2 1448.8 1989.7 1435.0C1991.2 1421.1 1992.7 1407.3 1994.2 1393.4C1995.7 1379.6 1997.2 1365.7 1998.8 1351.9C2000.3 1338.0 2001.8 1324.2 2003.4 1310.3C2004.9 1296.5 2007.2 1275.7 2008.0 1268.8" stroke="#a4a4a4" stroke-width="2.9" stroke-opacity="0.93"/>
<path d="M2026.8 1511.5C2027.0 1506.7 2027.3 1492.5 2027.9 1483.1C2028.6 1473.7 2029.6 1464.3 2030.8 1454.9C2032.1 1445.5 2033.6 1436.2 2035.4 1426.9C2037.2 1417.6 2039.3 1408.4 2041.6 1399.2C2044.0 1390.0 2046.6 1380.9 2049.5 1371.9C2052.4 1362.9 2057.4 1349.6 2059.0 1345.2" stroke="#969696" stroke-width="2.8" stroke-opacity="0.87"/>
<path d="M1999.8 1483.9C2000.4 1480.4 2002.7 1470.1 2003.9 1463.2C2005.1 1456.2 2006.2 1449.2 2007.1 1442.2C2007.9 1435.2 2008.7 1428.2 2009.3 1421.2C2009.8 1414.2 2010.2 1407.1 2010.5 1400.1C2010.7 1393.0 2010.8 1386.0 2010.7 1378.9C2010.7 1371.9 2010.1 1361.3 2010.0 1357.8" stroke="#6c6c6c" stroke-width="2.5" stroke-opacity="0.89"/>
<path d="M1931.5 1534.5C1932.7 1527.8 1935.7 1507.7 1938.3 1494.4C1941.0 1481.1 1944.1 1467.9 1947.6 1454.8C1951.0 1441.7 1954.9 1428.7 1959.2 1415.8C1963.4 1403.0 1968.1 1390.2 1973.1 1377.7C1978.1 1365.1 1983.6 1352.6 1989.3 1340.4C1995.1 1328.1 2004.7 1310.2 2007.8 1304.2" stroke="#bebebe" stroke-width="2.6" stroke-opacity="0.70"/>
<path d="M2000.6 1511.3C2000.8 1504.7 2001.9 1484.8 2001.6 1471.6C2001.3 1458.3 2000.5 1445.0 1999.0 1431.9C1997.5 1418.7 1995.4 1405.6 1992.7 1392.6C1990.0 1379.7 1986.7 1366.8 1982.8 1354.1C1979.0 1341.5 1974.5 1328.9 1969.5 1316.7C1964.5 1304.4 1955.6 1286.6 1952.8 1280.6" stroke="#767676" stroke-width="2.5" stroke-opacity="0.82"/>
<path d="M2002.2 1515.9C2002.3 1510.3 2002.3 1493.7 2002.7 1482.7C2003.2 1471.6 2003.9 1460.5 2004.9 1449.5C2006.0 1438.5 2007.2 1427.5 2008.8 1416.5C2010.4 1405.5 2012.2 1394.6 2014.3 1383.7C2016.4 1372.9 2018.8 1362.0 2021.4 1351.3C2024.1 1340.5 2028.7 1324.6 2030.2 1319.2" stroke="#909090" stroke-width="3.0" stroke-opacity="0.85"/>
<path d="M2026.2 1512.7C2027.0 1508.8 2029.7 1497.1 2030.7 1489.1C2031.7 1481.2 2032.3 1473.1 2032.3 1465.1C2032.3 1457.1 2031.8 1449.0 2030.9 1441.1C2029.9 1433.2 2028.5 1425.2 2026.5 1417.4C2024.6 1409.7 2022.2 1402.0 2019.3 1394.5C2016.4 1387.0 2010.9 1376.3 2009.3 1372.6" stroke="#858585" stroke-width="2.7" stroke-opacity="0.96"/>
<path d="M1909.1 1494.6C1908.1 1491.6 1905.5 1482.5 1903.3 1476.5C1901.1 1470.6 1898.6 1464.7 1895.9 1459.0C1893.2 1453.3 1890.3 1447.7 1887.1 1442.2C1883.9 1436.7 1880.4 1431.4 1876.8 1426.2C1873.1 1421.1 1869.2 1416.1 1865.1 1411.3C1861.0 1406.4 1854.3 1399.7 1852.2 1397.3" stroke="#878787" stroke-width="3.5" stroke-opacity="0.63"/>
<path d="M1964.9 1538.5C1962.4 1530.7 1954.3 1507.2 1950.0 1491.3C1945.6 1475.3 1941.9 1459.2 1938.8 1443.0C1935.7 1426.8 1933.3 1410.4 1931.5 1394.0C1929.6 1377.5 1928.5 1361.0 1928.0 1344.5C1927.4 1328.0 1927.5 1311.4 1928.3 1294.9C1929.1 1278.4 1931.8 1253.8 1932.5 1245.5" stroke="#818181" stroke-width="3.1" stroke-opacity="0.62"/>
<path d="M1984.4 1516.4C1984.1 1511.4 1982.8 1496.4 1982.6 1486.4C1982.4 1476.4 1982.7 1466.4 1983.4 1456.5C1984.2 1446.5 1985.3 1436.5 1986.9 1426.7C1988.5 1416.8 1990.6 1407.0 1993.0 1397.3C1995.5 1387.7 1998.4 1378.1 2001.7 1368.6C2005.0 1359.2 2011.0 1345.4 2012.9 1340.8" stroke="#8f8f8f" stroke-width="3.3" stroke-opacity="0.88"/>
<path d="M2019.6 1486.1C2018.9 1482.8 2017.0 1472.9 2015.4 1466.3C2013.7 1459.8 2011.9 1453.3 2009.9 1446.8C2007.8 1440.4 2005.6 1434.0 2003.2 1427.7C2000.8 1421.4 1998.2 1415.1 1995.4 1409.0C1992.6 1402.8 1989.6 1396.8 1986.4 1390.8C1983.3 1384.8 1978.1 1376.1 1976.4 1373.2" stroke="#aeaeae" stroke-width="3.5" stroke-opacity="0.67"/>
<path d="M2032.4 1498.9L2030.3 1484.2L2027.8 1465.4L2025.5 1448.6L2023.3 1431.8" stroke="#727272" stroke-width="3.0" stroke-opacity="0.77"/><path d="M2023.3 1431.8L2021.1 1415.1L2019.0 1398.3L2016.8 1381.5L2014.7 1364.7" stroke="#727272" stroke-width="2.1" stroke-opacity="0.63"/><path d="M2014.7 1364.7L2012.7 1347.9L2010.6 1331.1L2008.4 1312.3L2006.6 1297.6" stroke="#727272" stroke-width="1.3" stroke-opacity="0.49"/>
<path d="M1952.6 1477.4L1950.9 1457.2L1948.8 1431.3L1947.2 1408.3L1945.8 1385.2" stroke="#717171" stroke-width="2.6" stroke-opacity="0.70"/><path d="M1945.8 1385.2L1944.5 1362.2L1943.5 1339.1L1942.6 1316.0L1941.9 1293.0" stroke="#717171" stroke-width="1.9" stroke-opacity="0.58"/><path d="M1941.9 1293.0L1941.3 1269.9L1941.0 1246.8L1940.8 1220.8L1940.8 1200.6" stroke="#717171" stroke-width="1.2" stroke-opacity="0.45"/>
<path d="M2018.8 1510.8L2019.7 1498.5L2021.1 1482.8L2022.4 1468.8L2023.8 1454.9" stroke="#767676" stroke-width="3.8" stroke-opacity="0.83"/><path d="M2023.8 1454.9L2025.4 1440.9L2027.0 1427.0L2028.8 1413.0L2030.7 1399.1" stroke="#767676" stroke-width="2.7" stroke-opacity="0.68"/><path d="M2030.7 1399.1L2032.7 1385.2L2034.7 1371.4L2037.2 1355.8L2039.2 1343.6" stroke="#767676" stroke-width="1.7" stroke-opacity="0.53"/>
<path d="M1957.0 1477.2L1961.3 1460.3L1966.8 1438.7L1971.9 1419.4L1977.0 1400.2" stroke="#6c6c6c" stroke-width="4.2" stroke-opacity="0.93"/><path d="M1977.0 1400.2L1982.2 1381.1L1987.5 1361.9L1992.9 1342.8L1998.4 1323.7" stroke="#6c6c6c" stroke-width="3.0" stroke-opacity="0.76"/><path d="M1998.4 1323.7L2004.0 1304.6L2009.7 1285.6L2016.2 1264.2L2021.3 1247.6" stroke="#6c6c6c" stroke-width="1.8" stroke-opacity="0.59"/>
<path d="M1975.8 1483.4L1979.0 1460.9L1983.4 1431.9L1988.0 1406.3L1993.2 1380.7" stroke="#666666" stroke-width="4.0" stroke-opacity="0.93"/><path d="M1993.2 1380.7L1999.0 1355.3L2005.2 1330.0L2012.0 1304.9L2019.4 1279.9" stroke="#666666" stroke-width="2.9" stroke-opacity="0.76"/><path d="M2019.4 1279.9L2027.3 1255.1L2035.7 1230.4L2045.9 1203.0L2054.1 1181.7" stroke="#666666" stroke-width="1.8" stroke-opacity="0.60"/>
<path d="M2005.5 1470.5L2007.6 1451.8L2010.2 1427.7L2012.5 1406.2L2014.8 1384.8" stroke="#7b7b7b" stroke-width="3.0" stroke-opacity="0.77"/><path d="M2014.8 1384.8L2017.1 1363.4L2019.3 1341.9L2021.5 1320.5L2023.7 1299.0" stroke="#7b7b7b" stroke-width="2.2" stroke-opacity="0.63"/><path d="M2023.7 1299.0L2025.9 1277.6L2028.1 1256.1L2030.5 1232.0L2032.4 1213.2" stroke="#7b7b7b" stroke-width="1.3" stroke-opacity="0.49"/>
<path d="M2015.3 1496.6L2019.5 1473.2L2025.0 1443.2L2030.2 1416.5L2035.6 1390.0" stroke="#696969" stroke-width="3.0" stroke-opacity="0.76"/><path d="M2035.6 1390.0L2041.4 1363.4L2047.4 1337.0L2053.6 1310.5L2060.1 1284.2" stroke="#696969" stroke-width="2.1" stroke-opacity="0.63"/><path d="M2060.1 1284.2L2066.9 1257.9L2074.0 1231.7L2082.3 1202.3L2088.8 1179.5" stroke="#696969" stroke-width="1.3" stroke-opacity="0.49"/>
<path d="M1987.3 1488.9L1987.8 1473.4L1988.2 1453.6L1988.2 1436.0L1987.9 1418.3" stroke="#797979" stroke-width="3.0" stroke-opacity="0.93"/><path d="M1987.9 1418.3L1987.4 1400.7L1986.6 1383.1L1985.6 1365.5L1984.3 1347.9" stroke="#797979" stroke-width="2.1" stroke-opacity="0.76"/><path d="M1984.3 1347.9L1982.8 1330.3L1981.0 1312.8L1978.5 1293.1L1976.6 1277.8" stroke="#797979" stroke-width="1.3" stroke-opacity="0.59"/>
<path d="M2054.2 1476.3L2052.9 1457.7L2051.3 1433.7L2049.7 1412.5L2048.0 1391.3" stroke="#5d5d5d" stroke-width="3.6" stroke-opacity="0.90"/><path d="M2048.0 1391.3L2046.1 1370.0L2044.1 1348.8L2042.0 1327.6L2039.8 1306.4" stroke="#5d5d5d" stroke-width="2.6" stroke-opacity="0.74"/><path d="M2039.8 1306.4L2037.5 1285.2L2035.0 1264.1L2032.1 1240.3L2029.7 1221.8" stroke="#5d5d5d" stroke-width="1.6" stroke-opacity="0.58"/>
<path d="M2038.8 1476.1L2039.4 1452.2L2040.5 1421.5L2041.8 1394.3L2043.4 1367.0" stroke="#666666" stroke-width="3.0" stroke-opacity="0.76"/><path d="M2043.4 1367.0L2045.3 1339.8L2047.5 1312.6L2050.0 1285.4L2052.8 1258.3" stroke="#666666" stroke-width="2.1" stroke-opacity="0.62"/><path d="M2052.8 1258.3L2055.9 1231.2L2059.3 1204.1L2063.6 1173.7L2067.1 1150.1" stroke="#666666" stroke-width="1.3" stroke-opacity="0.48"/>
<path d="M1986.7 1509.1L1986.7 1486.4L1986.7 1457.4L1987.0 1431.5L1987.4 1405.7" stroke="#686868" stroke-width="3.4" stroke-opacity="0.73"/><path d="M1987.4 1405.7L1988.1 1379.8L1988.9 1354.0L1989.8 1328.2L1991.0 1302.3" stroke="#686868" stroke-width="2.5" stroke-opacity="0.60"/><path d="M1991.0 1302.3L1992.3 1276.5L1993.8 1250.7L1995.8 1221.7L1997.4 1199.1" stroke="#686868" stroke-width="1.5" stroke-opacity="0.46"/>
<path d="M1946.5 1488.8L1945.7 1467.7L1944.6 1440.6L1943.5 1416.5L1942.3 1392.4" stroke="#676767" stroke-width="3.6" stroke-opacity="0.99"/><path d="M1942.3 1392.4L1941.0 1368.3L1939.6 1344.2L1938.1 1320.1L1936.5 1296.1" stroke="#676767" stroke-width="2.6" stroke-opacity="0.81"/><path d="M1936.5 1296.1L1934.8 1272.0L1933.0 1247.9L1930.8 1220.9L1929.1 1199.8" stroke="#676767" stroke-width="1.6" stroke-opacity="0.63"/>
<path d="M2038.9 1486.7L2036.4 1475.2L2033.2 1460.4L2030.8 1447.2L2028.6 1433.9" stroke="#737373" stroke-width="3.4" stroke-opacity="1.00"/><path d="M2028.6 1433.9L2026.7 1420.6L2025.1 1407.3L2023.8 1393.9L2022.7 1380.5" stroke="#737373" stroke-width="2.4" stroke-opacity="0.82"/><path d="M2022.7 1380.5L2021.9 1367.1L2021.4 1353.6L2021.2 1338.5L2021.2 1326.7" stroke="#737373" stroke-width="1.5" stroke-opacity="0.64"/>
<path d="M1946.9 1501.2L1952.1 1489.2L1959.1 1473.9L1965.8 1460.5L1972.9 1447.3" stroke="#707070" stroke-width="3.5" stroke-opacity="0.85"/><path d="M1972.9 1447.3L1980.4 1434.3L1988.2 1421.5L1996.4 1409.0L2005.0 1396.7" stroke="#707070" stroke-width="2.5" stroke-opacity="0.70"/><path d="M2005.0 1396.7L2014.0 1384.7L2023.2 1373.0L2034.2 1360.1L2042.8 1350.3" stroke="#707070" stroke-width="1.6" stroke-opacity="0.55"/>
<path d="M1981.7 1481.5L1980.5 1463.1L1978.6 1439.3L1976.3 1418.3L1973.6 1397.3" stroke="#727272" stroke-width="2.9" stroke-opacity="0.71"/><path d="M1973.6 1397.3L1970.5 1376.4L1966.9 1355.6L1962.9 1334.8L1958.5 1314.1" stroke="#727272" stroke-width="2.1" stroke-opacity="0.58"/><path d="M1958.5 1314.1L1953.6 1293.5L1948.4 1273.1L1941.8 1250.2L1936.5 1232.5" stroke="#727272" stroke-width="1.3" stroke-opacity="0.45"/>
<path d="M2009.1 1494.8L2012.0 1476.0L2015.6 1451.8L2018.6 1430.3L2021.5 1408.7" stroke="#787878" stroke-width="4.0" stroke-opacity="0.78"/><path d="M2021.5 1408.7L2024.3 1387.1L2027.0 1365.6L2029.5 1344.0L2032.0 1322.3" stroke="#787878" stroke-width="2.9" stroke-opacity="0.64"/><path d="M2032.0 1322.3L2034.3 1300.7L2036.4 1279.1L2038.7 1254.7L2040.4 1235.8" stroke="#787878" stroke-width="1.8" stroke-opacity="0.50"/>
<path d="M1962.2 1499.3L1963.3 1479.6L1965.0 1454.3L1966.9 1431.8L1969.2 1409.3" stroke="#6d6d6d" stroke-width="4.1" stroke-opacity="1.00"/><path d="M1969.2 1409.3L1971.8 1386.9L1974.9 1364.6L1978.3 1342.3L1982.0 1320.0" stroke="#6d6d6d" stroke-width="3.0" stroke-opacity="0.82"/><path d="M1982.0 1320.0L1986.1 1297.9L1990.6 1275.8L1996.2 1251.0L2000.7 1231.8" stroke="#6d6d6d" stroke-width="1.8" stroke-opacity="0.64"/>
<path d="M1986.9 1510.3L1986.8 1496.4L1986.7 1478.4L1986.6 1462.5L1986.6 1446.6" stroke="#6c6c6c" stroke-width="3.0" stroke-opacity="0.96"/><path d="M1986.6 1446.6L1986.6 1430.6L1986.6 1414.7L1986.6 1398.8L1986.6 1382.8" stroke="#6c6c6c" stroke-width="2.1" stroke-opacity="0.79"/><path d="M1986.6 1382.8L1986.7 1366.9L1986.8 1351.0L1986.9 1333.1L1987.0 1319.1" stroke="#6c6c6c" stroke-width="1.3" stroke-opacity="0.62"/>
<path d="M1953.0 1491.1L1951.2 1473.9L1948.4 1451.8L1945.1 1432.3L1941.2 1412.9" stroke="#7a7a7a" stroke-width="3.0" stroke-opacity="0.99"/><path d="M1941.2 1412.9L1936.6 1393.7L1931.4 1374.6L1925.6 1355.7L1919.1 1337.0" stroke="#7a7a7a" stroke-width="2.1" stroke-opacity="0.81"/><path d="M1919.1 1337.0L1912.1 1318.6L1904.4 1300.4L1894.9 1280.2L1887.2 1264.7" stroke="#7a7a7a" stroke-width="1.3" stroke-opacity="0.63"/>
<path d="M2012.7 1504.4L2013.8 1490.6L2015.2 1473.0L2016.1 1457.2L2016.7 1441.4" stroke="#5f5f5f" stroke-width="3.2" stroke-opacity="0.84"/><path d="M2016.7 1441.4L2017.0 1425.7L2017.1 1409.9L2016.9 1394.1L2016.4 1378.3" stroke="#5f5f5f" stroke-width="2.3" stroke-opacity="0.69"/><path d="M2016.4 1378.3L2015.7 1362.6L2014.7 1346.8L2013.2 1329.1L2011.9 1315.4" stroke="#5f5f5f" stroke-width="1.4" stroke-opacity="0.54"/>
<path d="M1943.6 1497.7L1942.6 1478.1L1940.9 1452.9L1939.0 1430.6L1936.7 1408.2" stroke="#636363" stroke-width="4.2" stroke-opacity="0.85"/><path d="M1936.7 1408.2L1934.0 1385.9L1931.0 1363.7L1927.5 1341.5L1923.7 1319.4" stroke="#636363" stroke-width="3.0" stroke-opacity="0.70"/><path d="M1923.7 1319.4L1919.5 1297.4L1914.9 1275.4L1909.2 1250.8L1904.6 1231.7" stroke="#636363" stroke-width="1.8" stroke-opacity="0.55"/>
<path d="M2014.1 1492.3L2014.5 1470.8L2015.4 1443.3L2016.9 1418.9L2019.0 1394.5" stroke="#757575" stroke-width="3.2" stroke-opacity="0.95"/><path d="M2019.0 1394.5L2021.7 1370.1L2024.9 1345.9L2028.7 1321.7L2033.1 1297.6" stroke="#757575" stroke-width="2.3" stroke-opacity="0.78"/><path d="M2033.1 1297.6L2038.1 1273.6L2043.6 1249.8L2050.6 1223.1L2056.3 1202.5" stroke="#757575" stroke-width="1.4" stroke-opacity="0.61"/>
<path d="M1980.7 1494.7L1978.6 1472.1L1975.8 1443.1L1972.8 1417.4L1969.4 1391.8" stroke="#616161" stroke-width="3.0" stroke-opacity="0.91"/><path d="M1969.4 1391.8L1965.8 1366.2L1961.7 1340.6L1957.4 1315.1L1952.7 1289.7" stroke="#616161" stroke-width="2.1" stroke-opacity="0.75"/><path d="M1952.7 1289.7L1947.7 1264.3L1942.3 1239.0L1935.8 1210.6L1930.6 1188.5" stroke="#616161" stroke-width="1.3" stroke-opacity="0.58"/>
<path d="M2045.1 1490.5L2050.8 1467.6L2058.4 1438.2L2065.4 1412.2L2072.8 1386.2" stroke="#6c6c6c" stroke-width="3.3" stroke-opacity="0.97"/><path d="M2072.8 1386.2L2080.3 1360.3L2088.2 1334.5L2096.3 1308.8L2104.6 1283.1" stroke="#6c6c6c" stroke-width="2.4" stroke-opacity="0.79"/><path d="M2104.6 1283.1L2113.2 1257.6L2122.1 1232.1L2132.4 1203.6L2140.6 1181.4" stroke="#6c6c6c" stroke-width="1.4" stroke-opacity="0.62"/>
<path d="M2015.6 1476.8L2018.0 1460.1L2021.2 1438.7L2023.9 1419.6L2026.7 1400.6" stroke="#686868" stroke-width="3.5" stroke-opacity="0.79"/><path d="M2026.7 1400.6L2029.5 1381.5L2032.2 1362.5L2035.0 1343.4L2037.8 1324.3" stroke="#686868" stroke-width="2.5" stroke-opacity="0.65"/><path d="M2037.8 1324.3L2040.5 1305.3L2043.2 1286.2L2046.3 1264.8L2048.7 1248.1" stroke="#686868" stroke-width="1.5" stroke-opacity="0.51"/>
<path d="M1962.3 1479.4L1961.9 1463.7L1961.8 1443.4L1962.4 1425.4L1963.7 1407.5" stroke="#636363" stroke-width="3.1" stroke-opacity="0.97"/><path d="M1963.7 1407.5L1965.6 1389.6L1968.2 1371.8L1971.3 1354.1L1975.1 1336.5" stroke="#636363" stroke-width="2.2" stroke-opacity="0.79"/><path d="M1975.1 1336.5L1979.4 1319.0L1984.4 1301.7L1990.8 1282.5L1996.1 1267.7" stroke="#636363" stroke-width="1.4" stroke-opacity="0.62"/>
<path d="M2042.2 1515.5L2042.6 1497.3L2043.1 1473.9L2043.8 1453.1L2044.7 1432.3" stroke="#5e5e5e" stroke-width="4.1" stroke-opacity="0.74"/><path d="M2044.7 1432.3L2045.7 1411.6L2046.9 1390.8L2048.2 1370.1L2049.7 1349.3" stroke="#5e5e5e" stroke-width="3.0" stroke-opacity="0.61"/><path d="M2049.7 1349.3L2051.4 1328.6L2053.2 1307.9L2055.5 1284.6L2057.4 1266.5" stroke="#5e5e5e" stroke-width="1.8" stroke-opacity="0.48"/>
<path d="M1974.4 1511.9L1974.6 1497.6L1974.8 1479.3L1974.7 1463.0L1974.4 1446.7" stroke="#7b7b7b" stroke-width="3.2" stroke-opacity="0.78"/><path d="M1974.4 1446.7L1973.8 1430.4L1973.1 1414.1L1972.2 1397.8L1971.1 1381.6" stroke="#7b7b7b" stroke-width="2.3" stroke-opacity="0.64"/><path d="M1971.1 1381.6L1969.7 1365.3L1968.2 1349.1L1966.2 1330.9L1964.5 1316.7" stroke="#7b7b7b" stroke-width="1.4" stroke-opacity="0.50"/>
<path d="M2012.3 1524.1L2017.1 1505.2L2023.5 1481.0L2029.3 1459.4L2035.2 1437.9" stroke="#747474" stroke-width="2.8" stroke-opacity="0.85"/><path d="M2035.2 1437.9L2041.3 1416.5L2047.5 1395.0L2053.8 1373.6L2060.3 1352.3" stroke="#747474" stroke-width="2.0" stroke-opacity="0.70"/><path d="M2060.3 1352.3L2066.9 1331.0L2073.6 1309.7L2081.4 1285.8L2087.4 1267.3" stroke="#747474" stroke-width="1.2" stroke-opacity="0.55"/>
<path d="M2019.9 1504.4L2017.8 1481.7L2014.6 1452.6L2010.6 1426.9L2005.7 1401.3" stroke="#6d6d6d" stroke-width="4.0" stroke-opacity="0.98"/><path d="M2005.7 1401.3L2000.0 1375.9L1993.5 1350.7L1986.0 1325.7L1977.8 1301.0" stroke="#6d6d6d" stroke-width="2.9" stroke-opacity="0.81"/><path d="M1977.8 1301.0L1968.7 1276.6L1958.7 1252.5L1946.4 1225.9L1936.5 1205.4" stroke="#6d6d6d" stroke-width="1.8" stroke-opacity="0.63"/>
<path d="M2017.4 1523.4L2020.9 1503.3L2025.5 1477.5L2030.1 1454.6L2035.1 1431.8" stroke="#727272" stroke-width="3.8" stroke-opacity="0.99"/><path d="M2035.1 1431.8L2040.5 1409.1L2046.2 1386.5L2052.4 1364.0L2058.9 1341.6" stroke="#727272" stroke-width="2.7" stroke-opacity="0.82"/><path d="M2058.9 1341.6L2065.7 1319.3L2073.0 1297.2L2081.7 1272.4L2088.6 1253.2" stroke="#727272" stroke-width="1.7" stroke-opacity="0.64"/>
<path d="M1973.2 1511.9L1974.6 1498.2L1976.5 1480.6L1978.6 1465.0L1981.1 1449.4" stroke="#6b6b6b" stroke-width="3.6" stroke-opacity="1.00"/><path d="M1981.1 1449.4L1983.8 1433.9L1986.8 1418.5L1990.2 1403.1L1993.9 1387.7" stroke="#6b6b6b" stroke-width="2.6" stroke-opacity="0.82"/><path d="M1993.9 1387.7L1997.8 1372.5L2002.1 1357.3L2007.3 1340.4L2011.6 1327.3" stroke="#6b6b6b" stroke-width="1.6" stroke-opacity="0.64"/>
<path d="M1982.7 1497.3L1982.4 1485.1L1982.0 1469.6L1981.2 1455.7L1980.3 1441.9" stroke="#686868" stroke-width="3.1" stroke-opacity="0.88"/><path d="M1980.3 1441.9L1979.0 1428.1L1977.6 1414.3L1975.9 1400.6L1973.9 1386.9" stroke="#686868" stroke-width="2.2" stroke-opacity="0.72"/><path d="M1973.9 1386.9L1971.7 1373.2L1969.3 1359.6L1966.2 1344.3L1963.7 1332.4" stroke="#686868" stroke-width="1.3" stroke-opacity="0.56"/>
<path d="M2028.1 1484.2L2028.3 1471.4L2028.2 1455.0L2027.5 1440.5L2026.2 1425.9" stroke="#696969" stroke-width="2.8" stroke-opacity="0.89"/><path d="M2026.2 1425.9L2024.4 1411.4L2022.1 1397.0L2019.2 1382.7L2015.9 1368.5" stroke="#696969" stroke-width="2.0" stroke-opacity="0.73"/><path d="M2015.9 1368.5L2012.0 1354.5L2007.6 1340.6L2002.0 1325.2L1997.4 1313.2" stroke="#696969" stroke-width="1.2" stroke-opacity="0.57"/>
<path d="M1947.8 1491.6L1950.8 1479.8L1954.9 1464.7L1959.1 1451.5L1963.6 1438.4" stroke="#666666" stroke-width="3.6" stroke-opacity="0.90"/><path d="M1963.6 1438.4L1968.7 1425.4L1974.1 1412.7L1979.9 1400.1L1986.1 1387.6" stroke="#666666" stroke-width="2.6" stroke-opacity="0.74"/><path d="M1986.1 1387.6L1992.7 1375.4L1999.7 1363.4L2008.2 1350.3L2014.9 1340.2" stroke="#666666" stroke-width="1.6" stroke-opacity="0.57"/>
<path d="M1965.9 1520.8L1970.6 1501.4L1976.5 1476.5L1981.8 1454.4L1987.0 1432.2" stroke="#7a7a7a" stroke-width="2.9" stroke-opacity="0.91"/><path d="M1987.0 1432.2L1992.2 1410.0L1997.3 1387.8L2002.4 1365.6L2007.4 1343.4" stroke="#7a7a7a" stroke-width="2.1" stroke-opacity="0.75"/><path d="M2007.4 1343.4L2012.4 1321.2L2017.3 1299.0L2022.7 1273.9L2027.0 1254.5" stroke="#7a7a7a" stroke-width="1.3" stroke-opacity="0.58"/>
<path d="M1994.6 1524.3L1997.2 1504.5L2000.6 1479.2L2003.8 1456.7L2007.2 1434.3" stroke="#636363" stroke-width="3.6" stroke-opacity="0.72"/><path d="M2007.2 1434.3L2010.8 1411.8L2014.5 1389.4L2018.3 1367.0L2022.4 1344.7" stroke="#636363" stroke-width="2.6" stroke-opacity="0.59"/><path d="M2022.4 1344.7L2026.5 1322.3L2030.9 1300.0L2035.9 1275.0L2040.0 1255.5" stroke="#636363" stroke-width="1.6" stroke-opacity="0.46"/>
<path d="M1948.1 1496.9L1953.3 1480.2L1960.1 1458.8L1966.7 1440.0L1973.7 1421.3" stroke="#737373" stroke-width="2.7" stroke-opacity="0.73"/><path d="M1973.7 1421.3L1981.1 1402.8L1988.8 1384.5L1997.0 1366.3L2005.6 1348.3" stroke="#737373" stroke-width="2.0" stroke-opacity="0.60"/><path d="M2005.6 1348.3L2014.5 1330.5L2023.9 1312.8L2034.9 1293.3L2043.6 1278.2" stroke="#737373" stroke-width="1.2" stroke-opacity="0.47"/>
<path d="M1997.3 1482.6L1994.6 1463.5L1990.8 1438.9L1986.9 1417.2L1982.6 1395.6" stroke="#6c6c6c" stroke-width="4.0" stroke-opacity="0.85"/><path d="M1982.6 1395.6L1977.9 1374.0L1972.8 1352.6L1967.3 1331.2L1961.4 1309.9" stroke="#6c6c6c" stroke-width="2.9" stroke-opacity="0.70"/><path d="M1961.4 1309.9L1955.0 1288.8L1948.3 1267.8L1940.2 1244.3L1933.7 1226.2" stroke="#6c6c6c" stroke-width="1.8" stroke-opacity="0.54"/>
<path d="M1948.1 1478.4L1946.5 1458.2L1944.4 1432.3L1942.6 1409.3L1940.9 1386.3" stroke="#5c5c5c" stroke-width="4.0" stroke-opacity="0.74"/><path d="M1940.9 1386.3L1939.2 1363.3L1937.5 1340.2L1935.9 1317.2L1934.3 1294.1" stroke="#5c5c5c" stroke-width="2.8" stroke-opacity="0.61"/><path d="M1934.3 1294.1L1932.8 1271.1L1931.3 1248.0L1929.7 1222.1L1928.5 1201.9" stroke="#5c5c5c" stroke-width="1.7" stroke-opacity="0.47"/>
<path d="M2064.5 1463.1L2069.7 1456.7L2076.6 1448.8L2083.1 1442.1L2090.0 1435.8" stroke="#8b8b8b" stroke-width="3.2" stroke-opacity="0.88"/><path d="M2090.0 1435.8L2097.1 1429.8L2104.6 1424.2L2112.3 1419.0L2120.3 1414.2" stroke="#8b8b8b" stroke-width="2.3" stroke-opacity="0.72"/><path d="M2120.3 1414.2L2128.6 1409.8L2137.0 1405.7L2146.7 1401.9L2154.4 1399.0" stroke="#8b8b8b" stroke-width="1.4" stroke-opacity="0.56"/>
<path d="M2048.3 1448.0L2055.4 1442.5L2064.8 1435.6L2073.5 1430.1L2082.5 1425.1" stroke="#898989" stroke-width="3.3" stroke-opacity="0.99"/><path d="M2082.5 1425.1L2091.7 1420.5L2101.2 1416.5L2110.9 1413.0L2120.8 1410.1" stroke="#898989" stroke-width="2.4" stroke-opacity="0.81"/><path d="M2120.8 1410.1L2130.8 1407.7L2140.9 1405.8L2152.5 1404.5L2161.4 1403.7" stroke="#898989" stroke-width="1.4" stroke-opacity="0.63"/>
<path d="M2034.8 1472.2L2045.6 1469.1L2059.6 1465.3L2072.2 1462.7L2084.9 1460.7" stroke="#808080" stroke-width="2.6" stroke-opacity="0.92"/><path d="M2084.9 1460.7L2097.7 1459.3L2110.5 1458.5L2123.4 1458.3L2136.3 1458.6" stroke="#808080" stroke-width="1.9" stroke-opacity="0.75"/><path d="M2136.3 1458.6L2149.1 1459.6L2161.9 1461.1L2176.1 1463.7L2187.1 1465.9" stroke="#808080" stroke-width="1.2" stroke-opacity="0.59"/>
<path d="M2047.9 1413.9L2056.4 1405.5L2067.5 1394.9L2077.6 1385.8L2088.0 1376.9" stroke="#717171" stroke-width="2.7" stroke-opacity="0.72"/><path d="M2088.0 1376.9L2098.7 1368.4L2109.6 1360.2L2120.7 1352.2L2132.0 1344.6" stroke="#717171" stroke-width="2.0" stroke-opacity="0.59"/><path d="M2132.0 1344.6L2143.6 1337.3L2155.3 1330.3L2168.7 1322.9L2179.3 1317.3" stroke="#717171" stroke-width="1.2" stroke-opacity="0.46"/>
<path d="M2033.1 1407.2L2041.8 1401.8L2053.0 1394.8L2063.0 1388.7L2073.1 1382.6" stroke="#898989" stroke-width="3.8" stroke-opacity="0.83"/><path d="M2073.1 1382.6L2083.1 1376.6L2093.2 1370.6L2103.4 1364.6L2113.5 1358.7" stroke="#898989" stroke-width="2.8" stroke-opacity="0.68"/><path d="M2113.5 1358.7L2123.7 1352.9L2133.9 1347.1L2145.5 1340.7L2154.4 1335.7" stroke="#898989" stroke-width="1.7" stroke-opacity="0.53"/>
<path d="M2063.4 1438.2L2071.2 1433.9L2081.3 1428.7L2090.7 1424.9L2100.3 1421.7" stroke="#7f7f7f" stroke-width="2.7" stroke-opacity="0.99"/><path d="M2100.3 1421.7L2110.1 1419.1L2120.0 1417.2L2130.1 1416.0L2140.2 1415.4" stroke="#7f7f7f" stroke-width="2.0" stroke-opacity="0.81"/><path d="M2140.2 1415.4L2150.3 1415.5L2160.4 1416.3L2171.7 1418.2L2180.3 1419.9" stroke="#7f7f7f" stroke-width="1.2" stroke-opacity="0.64"/>
<path d="M2042.4 1403.5L2051.1 1395.9L2062.5 1386.3L2072.8 1378.1L2083.4 1370.2" stroke="#737373" stroke-width="3.8" stroke-opacity="0.74"/><path d="M2083.4 1370.2L2094.1 1362.5L2105.1 1355.1L2116.2 1348.0L2127.5 1341.2" stroke="#737373" stroke-width="2.8" stroke-opacity="0.61"/><path d="M2127.5 1341.2L2139.0 1334.7L2150.7 1328.5L2164.0 1322.0L2174.5 1317.0" stroke="#737373" stroke-width="1.7" stroke-opacity="0.47"/>
<path d="M2054.1 1401.2L2061.2 1395.9L2070.5 1389.3L2079.2 1384.0L2088.2 1379.3" stroke="#848484" stroke-width="3.5" stroke-opacity="0.85"/><path d="M2088.2 1379.3L2097.4 1375.0L2106.9 1371.3L2116.5 1368.2L2126.3 1365.5" stroke="#848484" stroke-width="2.6" stroke-opacity="0.70"/><path d="M2126.3 1365.5L2136.2 1363.4L2146.3 1361.9L2157.6 1361.0L2166.5 1360.6" stroke="#848484" stroke-width="1.6" stroke-opacity="0.54"/>
<path d="M2049.7 1445.2L2056.2 1435.3L2064.6 1422.6L2072.2 1411.5L2080.0 1400.4" stroke="#696969" stroke-width="3.7" stroke-opacity="0.97"/><path d="M2080.0 1400.4L2087.8 1389.4L2095.8 1378.5L2104.0 1367.7L2112.2 1357.0" stroke="#696969" stroke-width="2.7" stroke-opacity="0.79"/><path d="M2112.2 1357.0L2120.6 1346.4L2129.1 1335.9L2138.9 1324.2L2146.5 1315.2" stroke="#696969" stroke-width="1.6" stroke-opacity="0.62"/>
<path d="M2032.5 1402.2L2041.7 1393.9L2053.8 1383.7L2065.1 1375.3L2076.9 1367.6" stroke="#888888" stroke-width="3.3" stroke-opacity="0.95"/><path d="M2076.9 1367.6L2089.1 1360.6L2101.7 1354.2L2114.6 1348.5L2127.8 1343.6" stroke="#888888" stroke-width="2.3" stroke-opacity="0.78"/><path d="M2127.8 1343.6L2141.2 1339.3L2154.9 1335.8L2170.4 1333.0L2182.6 1331.1" stroke="#888888" stroke-width="1.4" stroke-opacity="0.61"/>
<path d="M2051.5 1423.7L2057.7 1418.4L2065.8 1411.8L2073.1 1406.0L2080.5 1400.4" stroke="#696969" stroke-width="3.1" stroke-opacity="0.73"/><path d="M2080.5 1400.4L2087.9 1394.8L2095.5 1389.4L2103.1 1384.1L2110.8 1378.9" stroke="#696969" stroke-width="2.2" stroke-opacity="0.60"/><path d="M2110.8 1378.9L2118.6 1373.9L2126.5 1369.0L2135.5 1363.6L2142.5 1359.5" stroke="#696969" stroke-width="1.4" stroke-opacity="0.47"/>
<path d="M2037.8 1432.0L2046.0 1422.8L2056.7 1411.3L2066.8 1401.5L2077.2 1392.1" stroke="#707070" stroke-width="3.4" stroke-opacity="0.76"/><path d="M2077.2 1392.1L2087.9 1383.1L2099.0 1374.5L2110.4 1366.4L2122.1 1358.6" stroke="#707070" stroke-width="2.5" stroke-opacity="0.62"/><path d="M2122.1 1358.6L2134.0 1351.4L2146.3 1344.5L2160.4 1337.5L2171.5 1332.3" stroke="#707070" stroke-width="1.5" stroke-opacity="0.49"/>
<path d="M2067.3 1488.3L2073.9 1479.9L2082.5 1469.4L2090.7 1460.4L2099.2 1451.8" stroke="#878787" stroke-width="2.6" stroke-opacity="0.98"/><path d="M2099.2 1451.8L2108.1 1443.5L2117.4 1435.7L2126.9 1428.2L2136.7 1421.1" stroke="#878787" stroke-width="1.9" stroke-opacity="0.80"/><path d="M2136.7 1421.1L2146.9 1414.4L2157.3 1408.2L2169.3 1401.8L2178.8 1397.1" stroke="#878787" stroke-width="1.2" stroke-opacity="0.63"/>
<path d="M2049.2 1401.5L2055.8 1392.3L2064.6 1380.8L2073.2 1371.2L2082.4 1362.1" stroke="#757575" stroke-width="2.8" stroke-opacity="0.96"/><path d="M2082.4 1362.1L2092.2 1353.7L2102.5 1345.8L2113.2 1338.7L2124.4 1332.2" stroke="#757575" stroke-width="2.0" stroke-opacity="0.79"/><path d="M2124.4 1332.2L2135.9 1326.4L2147.8 1321.3L2161.5 1316.7L2172.4 1313.5" stroke="#757575" stroke-width="1.2" stroke-opacity="0.62"/>
<path d="M2037.0 1453.7L2044.9 1449.0L2055.1 1443.2L2064.2 1438.1L2073.5 1433.1" stroke="#7b7b7b" stroke-width="3.5" stroke-opacity="0.90"/><path d="M2073.5 1433.1L2082.8 1428.3L2092.1 1423.6L2101.6 1419.0L2111.1 1414.6" stroke="#7b7b7b" stroke-width="2.5" stroke-opacity="0.74"/><path d="M2111.1 1414.6L2120.6 1410.2L2130.2 1406.0L2141.1 1401.5L2149.6 1398.0" stroke="#7b7b7b" stroke-width="1.5" stroke-opacity="0.57"/>
<path d="M2044.9 1476.3L2054.1 1472.0L2066.1 1466.8L2077.1 1463.0L2088.2 1459.7" stroke="#8a8a8a" stroke-width="2.7" stroke-opacity="0.98"/><path d="M2088.2 1459.7L2099.5 1457.0L2110.9 1455.0L2122.5 1453.5L2134.1 1452.7" stroke="#8a8a8a" stroke-width="1.9" stroke-opacity="0.81"/><path d="M2134.1 1452.7L2145.7 1452.5L2157.3 1452.9L2170.3 1454.3L2180.4 1455.6" stroke="#8a8a8a" stroke-width="1.2" stroke-opacity="0.63"/>
<path d="M1739.0 1186.3C1746.9 1188.2 1771.6 1193.3 1786.4 1197.6C1801.2 1201.9 1815.6 1206.9 1827.6 1212.0C1839.6 1217.1 1849.8 1222.6 1858.4 1228.4C1867.0 1234.2 1872.1 1237.7 1879.0 1247.0C1885.9 1256.3 1892.8 1269.3 1899.6 1284.0C1906.4 1298.7 1914.5 1321.7 1920.0 1335.4C1925.5 1349.1 1928.3 1353.9 1932.5 1366.3C1936.7 1378.7 1942.9 1402.7 1945.0 1410.0" stroke="#686868" stroke-width="4.6" stroke-opacity="0.95"/>
<path d="M1739.0 1276.8C1746.8 1278.7 1771.2 1282.3 1786.0 1288.0C1800.8 1293.7 1815.5 1302.1 1827.6 1310.7C1839.7 1319.3 1848.1 1328.5 1858.4 1339.5C1868.7 1350.5 1882.4 1366.6 1889.3 1376.5C1896.2 1386.4 1895.3 1388.4 1899.6 1399.0C1903.9 1409.6 1912.4 1433.2 1915.0 1440.0" stroke="#727272" stroke-width="3.4" stroke-opacity="0.95"/>
<path d="M1739.0 1337.5C1743.5 1335.8 1754.6 1328.9 1765.9 1327.2C1777.2 1325.5 1794.3 1324.5 1807.0 1327.2C1819.7 1329.9 1830.0 1335.4 1842.0 1343.6C1854.0 1351.8 1868.5 1366.3 1879.0 1376.5C1889.5 1386.7 1900.7 1400.2 1905.0 1405.0" stroke="#767676" stroke-width="3.2" stroke-opacity="0.95"/>
<path d="M1739.0 1366.3C1745.2 1364.6 1763.0 1357.4 1776.0 1356.0C1789.0 1354.6 1803.3 1354.9 1817.0 1358.0C1830.7 1361.1 1846.4 1367.5 1858.4 1374.5C1870.4 1381.5 1880.4 1390.8 1889.0 1400.0C1897.6 1409.2 1906.5 1425.0 1910.0 1430.0" stroke="#787878" stroke-width="3.2" stroke-opacity="0.95"/>
<path d="M2039.4 1153.4C2038.0 1159.7 2034.6 1178.2 2031.2 1191.4C2027.8 1204.6 2023.0 1217.2 2018.9 1232.6C2014.8 1248.0 2009.6 1268.6 2006.5 1284.0C2003.4 1299.4 2001.7 1309.0 2000.3 1325.0C1998.9 1341.0 1998.4 1370.8 1998.0 1380.0" stroke="#6a6a6a" stroke-width="5.0" stroke-opacity="0.95"/>
<path d="M2023.0 1170.9C2020.9 1174.3 2013.7 1179.4 2010.6 1191.4C2007.5 1203.4 2006.3 1227.4 2004.5 1242.8C2002.7 1258.2 2001.4 1267.8 2000.0 1284.0C1998.6 1300.2 1996.7 1330.7 1996.0 1340.0" stroke="#707070" stroke-width="4.0" stroke-opacity="0.95"/>
<path d="M1986.0 1174.0C1985.0 1178.6 1980.8 1190.2 1979.8 1201.7C1978.8 1213.2 1979.1 1227.4 1979.8 1242.8C1980.5 1258.2 1983.0 1276.4 1983.9 1294.3C1984.8 1312.2 1984.8 1340.7 1985.0 1350.0" stroke="#747474" stroke-width="3.6" stroke-opacity="0.95"/>
<path d="M2039.4 1187.3C2044.2 1186.3 2058.6 1180.8 2068.2 1181.1C2077.8 1181.4 2092.5 1184.2 2097.0 1189.4C2101.5 1194.6 2097.7 1203.1 2095.0 1212.0C2092.3 1220.9 2085.1 1233.1 2080.6 1242.8C2076.1 1252.5 2070.1 1265.5 2068.0 1270.0" stroke="#888" stroke-width="2.6" stroke-opacity="0.95"/>
<path d="M1897.5 1187.3C1899.9 1193.1 1908.2 1209.6 1911.9 1222.3C1915.7 1235.0 1916.6 1248.0 1920.0 1263.4C1923.4 1278.8 1929.0 1301.1 1932.5 1314.8C1936.0 1328.5 1937.8 1333.2 1940.7 1345.7C1943.6 1358.2 1948.5 1382.6 1950.0 1390.0" stroke="#767676" stroke-width="3.2" stroke-opacity="0.95"/>
<path d="M1821.4 1193.5C1824.8 1201.0 1834.1 1225.3 1842.0 1238.7C1849.9 1252.1 1859.1 1261.0 1868.7 1273.7C1878.3 1286.4 1891.0 1301.1 1899.6 1314.8C1908.1 1328.5 1914.1 1341.8 1920.0 1356.0C1925.9 1370.2 1932.5 1392.7 1935.0 1400.0" stroke="#7a7a7a" stroke-width="3.2" stroke-opacity="0.95"/>
<path d="M1874.9 1228.4C1880.7 1228.4 1899.5 1225.3 1909.8 1228.4C1920.1 1231.5 1928.7 1239.5 1936.6 1247.0C1944.5 1254.5 1951.5 1263.2 1957.1 1273.7C1962.7 1284.2 1967.8 1304.0 1970.0 1310.0" stroke="#7c7c7c" stroke-width="3.0" stroke-opacity="0.95"/>
<path d="M1924.2 1222.3C1927.0 1219.2 1934.5 1205.5 1940.7 1203.8C1946.9 1202.1 1956.2 1206.2 1961.3 1212.0C1966.4 1217.8 1969.0 1228.2 1971.5 1238.7C1974.0 1249.2 1975.2 1269.0 1976.0 1275.0" stroke="#8c8c8c" stroke-width="2.4" stroke-opacity="0.95"/>
<path d="M1959.2 1230.5C1960.6 1236.0 1965.4 1251.1 1967.4 1263.4C1969.5 1275.8 1970.2 1290.2 1971.5 1304.6C1972.8 1319.0 1974.4 1342.4 1975.0 1350.0" stroke="#6e6e6e" stroke-width="3.6" stroke-opacity="0.95"/>
<path d="M2037.4 1226.4C2037.7 1232.6 2040.1 1250.4 2039.4 1263.4C2038.7 1276.4 2036.0 1290.9 2033.3 1304.6C2030.6 1318.3 2026.0 1331.5 2023.0 1345.7C2020.0 1359.9 2016.3 1382.6 2015.0 1390.0" stroke="#6c6c6c" stroke-width="4.0" stroke-opacity="0.95"/>
<path d="M2185.5 1236.7C2179.0 1238.4 2159.8 1242.5 2146.4 1247.0C2133.0 1251.5 2117.3 1255.5 2105.3 1263.4C2093.3 1271.3 2083.0 1282.3 2074.4 1294.3C2065.8 1306.3 2059.2 1321.1 2053.8 1335.4C2048.4 1349.7 2044.0 1372.6 2042.0 1380.0" stroke="#767676" stroke-width="3.2" stroke-opacity="0.95"/>
<path d="M2186.0 1271.6C2181.1 1273.7 2166.7 1276.8 2156.7 1284.0C2146.7 1291.2 2136.1 1302.8 2125.8 1314.8C2115.5 1326.8 2102.5 1341.8 2095.0 1356.0C2087.5 1370.2 2084.8 1386.0 2080.6 1400.0C2076.4 1414.0 2071.8 1433.3 2070.0 1440.0" stroke="#6e6e6e" stroke-width="3.8" stroke-opacity="0.95"/>
<path d="M2186.0 1251.0C2181.4 1252.0 2168.7 1251.7 2158.7 1257.2C2148.7 1262.7 2135.4 1272.7 2125.8 1284.0C2116.2 1295.3 2107.8 1311.3 2101.0 1325.0C2094.2 1338.7 2089.5 1352.1 2084.7 1366.3C2079.9 1380.5 2074.1 1402.7 2072.0 1410.0" stroke="#757575" stroke-width="3.2" stroke-opacity="0.95"/>
<path d="M2084.7 1242.8C2081.9 1248.0 2073.7 1261.7 2068.2 1273.7C2062.7 1285.7 2055.9 1301.1 2051.8 1314.8C2047.7 1328.5 2045.8 1341.8 2043.5 1356.0C2041.2 1370.2 2038.9 1392.7 2038.0 1400.0" stroke="#7a7a7a" stroke-width="3.0" stroke-opacity="0.95"/>
<path d="M2186.0 1304.6C2179.4 1308.0 2158.2 1316.4 2146.4 1325.0C2134.7 1333.6 2124.1 1345.7 2115.5 1356.0C2106.9 1366.3 2101.2 1374.5 2095.0 1386.8C2088.8 1399.1 2080.8 1422.8 2078.0 1430.0" stroke="#707070" stroke-width="3.6" stroke-opacity="0.95"/>
<path d="M2186.0 1345.7C2181.1 1347.4 2166.7 1350.9 2156.7 1356.0C2146.7 1361.1 2134.4 1369.2 2125.8 1376.5C2117.2 1383.8 2111.8 1389.4 2105.0 1400.0C2098.2 1410.6 2088.3 1433.3 2085.0 1440.0" stroke="#747474" stroke-width="3.4" stroke-opacity="0.95"/>
<path d="M2186.0 1395.0C2180.0 1395.8 2161.8 1396.2 2150.0 1400.0C2138.2 1403.8 2125.0 1410.5 2115.0 1418.0C2105.0 1425.5 2094.2 1440.5 2090.0 1445.0" stroke="#6e6e6e" stroke-width="3.6" stroke-opacity="0.95"/>
<path d="M2186.0 1425.0C2180.0 1425.5 2161.8 1425.5 2150.0 1428.0C2138.2 1430.5 2125.8 1434.3 2115.0 1440.0C2104.2 1445.7 2090.0 1458.3 2085.0 1462.0" stroke="#787878" stroke-width="3.2" stroke-opacity="0.95"/>
<path d="M2186.0 1455.0C2180.0 1454.5 2161.8 1451.5 2150.0 1452.0C2138.2 1452.5 2125.8 1453.7 2115.0 1458.0C2104.2 1462.3 2090.0 1474.7 2085.0 1478.0" stroke="#808080" stroke-width="3.0" stroke-opacity="0.95"/>
<path d="M1741.0 1571.0C1745.8 1565.8 1758.5 1551.0 1770.0 1540.0C1781.5 1529.0 1796.7 1516.7 1810.0 1505.0C1823.3 1493.3 1838.5 1480.2 1850.0 1470.0C1861.5 1459.8 1869.8 1451.3 1879.0 1443.8C1888.2 1436.3 1900.7 1428.1 1905.0 1425.0" stroke="#747474" stroke-width="4.2" stroke-opacity="0.95"/>
<path d="M1739.0 1415.0C1745.0 1412.5 1762.3 1402.2 1775.0 1400.0C1787.7 1397.8 1801.7 1398.7 1815.0 1402.0C1828.3 1405.3 1842.5 1412.3 1855.0 1420.0C1867.5 1427.7 1884.2 1443.3 1890.0 1448.0" stroke="#808080" stroke-width="3.0" stroke-opacity="0.95"/>
<path d="M1739.0 1440.0C1747.5 1438.7 1773.2 1431.2 1790.0 1432.0C1806.8 1432.8 1824.2 1438.7 1840.0 1445.0C1855.8 1451.3 1877.5 1465.8 1885.0 1470.0" stroke="#8a8a8a" stroke-width="2.8" stroke-opacity="0.95"/>
<path d="M1813.0 1487.0C1813.8 1482.5 1816.5 1467.8 1818.0 1460.0C1819.5 1452.2 1820.0 1445.8 1822.0 1440.0C1824.0 1434.2 1828.7 1427.5 1830.0 1425.0" stroke="#8a8a8a" stroke-width="2.4" stroke-opacity="0.95"/>
<path d="M1780.0 1590.0C1783.3 1585.0 1791.7 1570.0 1800.0 1560.0C1808.3 1550.0 1819.7 1539.2 1830.0 1530.0C1840.3 1520.8 1856.7 1509.2 1862.0 1505.0" stroke="#8c8c8c" stroke-width="2.6" stroke-opacity="0.95"/>
<path d="M1840.0 1598.0C1840.5 1593.3 1841.0 1579.7 1843.0 1570.0C1845.0 1560.3 1847.8 1549.2 1852.0 1540.0C1856.2 1530.8 1865.3 1519.2 1868.0 1515.0" stroke="#999" stroke-width="2.4" stroke-opacity="0.95"/>
<path d="M2182.0 1530.0C2176.7 1525.8 2161.2 1512.0 2150.0 1505.0C2138.8 1498.0 2126.7 1492.2 2115.0 1488.0C2103.3 1483.8 2085.8 1481.3 2080.0 1480.0" stroke="#808080" stroke-width="3.0" stroke-opacity="0.95"/>
<path d="M2120.0 1598.0C2118.0 1591.7 2112.2 1572.2 2108.0 1560.0C2103.8 1547.8 2100.0 1535.8 2095.0 1525.0C2090.0 1514.2 2080.8 1500.0 2078.0 1495.0" stroke="#828282" stroke-width="3.2" stroke-opacity="0.95"/>
<path d="M2160.0 1598.0C2156.7 1590.8 2147.5 1568.8 2140.0 1555.0C2132.5 1541.2 2124.2 1525.8 2115.0 1515.0C2105.8 1504.2 2090.0 1494.2 2085.0 1490.0" stroke="#8c8c8c" stroke-width="2.6" stroke-opacity="0.95"/>
<path d="M2182.0 1580.0C2180.0 1576.7 2175.3 1565.0 2170.0 1560.0C2164.7 1555.0 2155.8 1555.0 2150.0 1550.0C2144.2 1545.0 2140.0 1535.0 2135.0 1530.0C2130.0 1525.0 2122.5 1521.7 2120.0 1520.0" stroke="#a0a0a0" stroke-width="2.0" stroke-opacity="0.95"/>
<path d="M2068.0 1478.0C2073.3 1478.7 2088.0 1479.2 2100.0 1482.0C2112.0 1484.8 2126.0 1489.0 2140.0 1495.0C2154.0 1501.0 2176.7 1514.2 2184.0 1518.0" stroke="#808080" stroke-width="2.8" stroke-opacity="0.95"/>
<path d="M2070.0 1470.0C2075.8 1469.7 2092.5 1467.3 2105.0 1468.0C2117.5 1468.7 2131.8 1470.0 2145.0 1474.0C2158.2 1478.0 2177.5 1489.0 2184.0 1492.0" stroke="#7c7c7c" stroke-width="3.0" stroke-opacity="0.95"/>
<path d="M2066.0 1490.0C2070.0 1494.2 2083.0 1505.0 2090.0 1515.0C2097.0 1525.0 2103.3 1536.2 2108.0 1550.0C2112.7 1563.8 2116.3 1590.0 2118.0 1598.0" stroke="#858585" stroke-width="2.8" stroke-opacity="0.95"/>
<path d="M2070.0 1485.0C2075.0 1488.3 2090.3 1495.8 2100.0 1505.0C2109.7 1514.2 2120.3 1524.5 2128.0 1540.0C2135.7 1555.5 2143.0 1588.3 2146.0 1598.0" stroke="#8a8a8a" stroke-width="2.6" stroke-opacity="0.95"/>
<path d="M2075.0 1462.0C2080.8 1464.7 2097.5 1470.0 2110.0 1478.0C2122.5 1486.0 2137.7 1498.0 2150.0 1510.0C2162.3 1522.0 2178.3 1543.3 2184.0 1550.0" stroke="#888888" stroke-width="2.6" stroke-opacity="0.95"/>
<path d="M2090.0 1530.0C2093.3 1533.0 2104.2 1543.0 2110.0 1548.0C2115.8 1553.0 2120.0 1554.7 2125.0 1560.0C2130.0 1565.3 2134.2 1575.0 2140.0 1580.0C2145.8 1585.0 2155.0 1586.7 2160.0 1590.0C2165.0 1593.3 2168.3 1598.3 2170.0 1600.0" stroke="#a0a0a0" stroke-width="2.0" stroke-opacity="0.95"/>
<path d="M2078.0 1440.0C2084.2 1439.3 2103.0 1436.0 2115.0 1436.0C2127.0 1436.0 2138.5 1437.7 2150.0 1440.0C2161.5 1442.3 2178.3 1448.3 2184.0 1450.0" stroke="#787878" stroke-width="3.2" stroke-opacity="0.95"/>
<path d="M2078.0 1425.0C2084.2 1423.3 2103.0 1417.2 2115.0 1415.0C2127.0 1412.8 2138.5 1411.8 2150.0 1412.0C2161.5 1412.2 2178.3 1415.3 2184.0 1416.0" stroke="#7c7c7c" stroke-width="3.0" stroke-opacity="0.95"/>
</g>
<polygon points="1869.0,1551.0 2064.0,1551.0 2056.0,1603.0 1880.0,1603.0" fill="#242424" opacity="0.92"/>
<ellipse cx="1890" cy="1520" rx="17" ry="20" fill="#1a1a1a" opacity="0.9"/>
<g fill="none" stroke-linecap="round" stroke-linejoin="round">
<path d="M1950.0 1548.0C1949.2 1551.7 1945.3 1563.0 1945.0 1570.0C1944.7 1577.0 1947.2 1584.7 1948.0 1590.0C1948.8 1595.3 1949.7 1600.0 1950.0 1602.0" stroke="#b4b4b4" stroke-width="3.4" stroke-opacity="0.90"/>
<path d="M2058.0 1535.0C2057.2 1540.8 2054.7 1559.2 2053.0 1570.0C2051.3 1580.8 2048.8 1595.0 2048.0 1600.0" stroke="#a4a4a4" stroke-width="3.0" stroke-opacity="0.90"/>
<path d="M1962.0 1502.0C1964.2 1505.8 1970.7 1517.8 1975.0 1525.0C1979.3 1532.2 1984.0 1539.7 1988.0 1545.0C1992.0 1550.3 1997.2 1555.0 1999.0 1557.0" stroke="#b8b8b8" stroke-width="3.2" stroke-opacity="0.90"/>
<path d="M2052.0 1510.0C2049.2 1513.3 2041.2 1523.8 2035.0 1530.0C2028.8 1536.2 2020.8 1542.5 2015.0 1547.0C2009.2 1551.5 2002.5 1555.3 2000.0 1557.0" stroke="#b0b0b0" stroke-width="3.2" stroke-opacity="0.90"/>
<path d="M2020.0 1500.0C2018.7 1505.0 2014.8 1521.3 2012.0 1530.0C2009.2 1538.7 2004.5 1548.3 2003.0 1552.0" stroke="#a8a8a8" stroke-width="2.6" stroke-opacity="0.80"/>
<path d="M1880.0 1535.0C1883.3 1534.2 1894.2 1532.5 1900.0 1530.0C1905.8 1527.5 1912.5 1521.7 1915.0 1520.0" stroke="#909090" stroke-width="3.0" stroke-opacity="0.90"/>
</g>
</g></g>
<rect x="1735.9" y="1143.0" width="448.7" height="458.3" fill="none" stroke="#3c3c3c" stroke-width="5.6" filter="url(#soft)"/>
</svg>
</body></html>
